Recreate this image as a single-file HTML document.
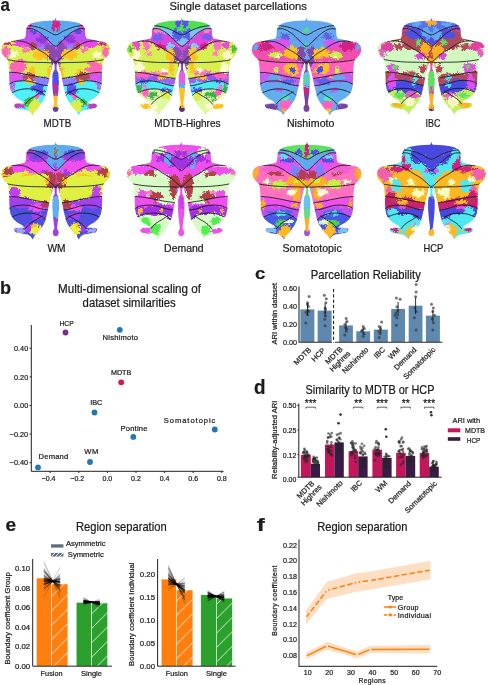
<!DOCTYPE html><html><head><meta charset="utf-8"><style>html,body{margin:0;padding:0;background:#fff;}svg{display:block} text{font-family:'Liberation Sans', sans-serif;fill:#1c1a1b;stroke:#1c1a1b;stroke-width:0.22px} .ln{fill:none;stroke:#141414;stroke-width:0.85} .ax{stroke:#231f20;stroke-width:1;fill:none}</style></head><body>
<svg width="488" height="685" viewBox="0 0 488 685">
<defs>
<clipPath id="fmclip"><path d="M0.00,-3.60 L-0.60,-1.60 L-1.40,-0.60 L-8.00,-0.30 L-14.00,0.20 L-20.00,1.20 L-24.00,2.30 L-27.30,4.40 L-29.00,6.80 L-29.60,10.00 L-29.80,14.50 L-31.00,17.40 L-37.00,18.70 L-43.00,19.90 L-48.00,20.70 L-51.20,22.00 L-53.60,24.60 L-54.60,28.50 L-53.60,32.50 L-51.00,36.00 L-47.80,38.80 L-46.90,45.00 L-46.50,51.00 L-46.30,59.00 L-46.10,63.60 L-45.20,68.80 L-42.50,73.60 L-38.50,77.20 L-33.50,79.90 L-31.00,82.40 L-35.00,82.40 L-39.20,82.60 L-41.40,83.40 L-41.40,85.40 L-39.60,87.20 L-33.00,88.50 L-28.00,89.30 L-25.20,91.00 L-23.00,94.20 L-20.80,90.20 L-17.50,87.20 L-14.60,83.00 L-12.20,79.50 L-10.20,75.00 L-8.40,67.50 L-6.80,60.00 L-4.60,50.00 L-2.40,42.20 L-1.90,41.60 L-1.40,42.20 L-1.00,45.00 L-1.00,48.50 L-2.60,51.50 L-3.30,55.00 L-3.30,63.00 L-2.90,69.00 L-2.30,75.00 L-1.60,80.00 L-1.40,83.60 L-2.60,85.20 L-3.00,87.80 L-2.20,90.20 L0.00,90.90 L2.20,90.20 L3.00,87.80 L2.60,85.20 L1.40,83.60 L1.60,80.00 L2.30,75.00 L2.90,69.00 L3.30,63.00 L3.30,55.00 L2.60,51.50 L1.00,48.50 L1.00,45.00 L1.40,42.20 L1.90,41.60 L2.40,42.20 L4.60,50.00 L6.80,60.00 L8.40,67.50 L10.20,75.00 L12.20,79.50 L14.60,83.00 L17.50,87.20 L20.80,90.20 L23.00,94.20 L25.20,91.00 L28.00,89.30 L33.00,88.50 L39.60,87.20 L41.40,85.40 L41.40,83.40 L39.20,82.60 L35.00,82.40 L31.00,82.40 L33.50,79.90 L38.50,77.20 L42.50,73.60 L45.20,68.80 L46.10,63.60 L46.30,59.00 L46.50,51.00 L46.90,45.00 L47.80,38.80 L51.00,36.00 L53.60,32.50 L54.60,28.50 L53.60,24.60 L51.20,22.00 L48.00,20.70 L43.00,19.90 L37.00,18.70 L31.00,17.40 L29.80,14.50 L29.60,10.00 L29.00,6.80 L27.30,4.40 L24.00,2.30 L20.00,1.20 L14.00,0.20 L8.00,-0.30 L1.40,-0.60 L0.60,-1.60 L0.00,-3.60Z"/></clipPath>
<filter id="rough0" x="-10%" y="-10%" width="120%" height="120%"><feTurbulence type="fractalNoise" baseFrequency="0.45" numOctaves="3" seed="3" result="n1"/><feDisplacementMap in="SourceGraphic" in2="n1" scale="5" xChannelSelector="R" yChannelSelector="G" result="d1"/><feTurbulence type="fractalNoise" baseFrequency="1.1" numOctaves="2" seed="11" result="n2"/><feDisplacementMap in="d1" in2="n2" scale="2.6" xChannelSelector="G" yChannelSelector="B"/></filter>
<filter id="rough1" x="-10%" y="-10%" width="120%" height="120%"><feTurbulence type="fractalNoise" baseFrequency="0.45" numOctaves="3" seed="4" result="n1"/><feDisplacementMap in="SourceGraphic" in2="n1" scale="5" xChannelSelector="R" yChannelSelector="G" result="d1"/><feTurbulence type="fractalNoise" baseFrequency="1.1" numOctaves="2" seed="12" result="n2"/><feDisplacementMap in="d1" in2="n2" scale="2.6" xChannelSelector="G" yChannelSelector="B"/></filter>
<filter id="rough2" x="-10%" y="-10%" width="120%" height="120%"><feTurbulence type="fractalNoise" baseFrequency="0.45" numOctaves="3" seed="5" result="n1"/><feDisplacementMap in="SourceGraphic" in2="n1" scale="5" xChannelSelector="R" yChannelSelector="G" result="d1"/><feTurbulence type="fractalNoise" baseFrequency="1.1" numOctaves="2" seed="13" result="n2"/><feDisplacementMap in="d1" in2="n2" scale="2.6" xChannelSelector="G" yChannelSelector="B"/></filter>
<pattern id="hatch" patternUnits="userSpaceOnUse" width="14.4" height="14.4"><path d="M-1,15.4 L15.4,-1 M-2,2 L2,-2 M12.4,16.4 L16.4,12.4" stroke="#fff" stroke-width="0.8"/></pattern>
<pattern id="hatch2" patternUnits="userSpaceOnUse" width="4" height="4"><path d="M-1,5 L5,-1" stroke="#fff" stroke-width="0.9"/></pattern>
</defs>
<rect width="488" height="685" fill="#fff"/>
<text transform="translate(0.60,10.63) scale(0.963,1)" font-size="17.45" font-weight="bold" fill="#000">a</text>
<text x="169.50" y="9.90" font-size="11.6" text-anchor="start" textLength="137.50" lengthAdjust="spacingAndGlyphs" >Single dataset parcellations</text>
<g transform="translate(55.60,21.00) scale(1.000,1.000)">
<g clip-path="url(#fmclip)"><g filter="url(#rough0)">
<path d="M-70.00,-10.00 L70.00,-10.00 L70.00,4.40 L29.50,4.40 L26.00,4.60 L20.00,5.60 L15.00,7.00 L10.00,9.00 L6.00,11.20 L2.50,13.20 L0.00,13.80 L-2.50,13.20 L-6.00,11.20 L-10.00,9.00 L-15.00,7.00 L-20.00,5.60 L-26.00,4.60 L-29.50,4.40 L-70.00,4.40Z" fill="#5aa8f0"/>
<path d="M-70.00,4.40 L-29.50,4.40 L-26.00,4.60 L-20.00,5.60 L-15.00,7.00 L-10.00,9.00 L-6.00,11.20 L-2.50,13.20 L0.00,13.80 L2.50,13.20 L6.00,11.20 L10.00,9.00 L15.00,7.00 L20.00,5.60 L26.00,4.60 L29.50,4.40 L70.00,4.40 L70.00,8.00 L29.80,8.00 L24.00,7.60 L17.40,10.50 L13.00,13.80 L10.00,16.70 L6.50,20.00 L3.80,22.80 L0.00,25.20 L-3.80,22.80 L-6.50,20.00 L-10.00,16.70 L-13.00,13.80 L-17.40,10.50 L-24.00,7.60 L-29.80,8.00 L-70.00,8.00Z" fill="#5aa8f0"/>
<path d="M-70.00,8.00 L-29.80,8.00 L-24.00,7.60 L-17.40,10.50 L-13.00,13.80 L-10.00,16.70 L-6.50,20.00 L-3.80,22.80 L0.00,25.20 L3.80,22.80 L6.50,20.00 L10.00,16.70 L13.00,13.80 L17.40,10.50 L24.00,7.60 L29.80,8.00 L70.00,8.00 L70.00,20.30 L44.00,20.30 L37.00,19.90 L32.00,20.60 L28.50,21.80 L23.00,24.70 L18.60,27.80 L13.00,31.00 L8.80,33.90 L5.50,36.80 L3.00,39.20 L0.00,41.00 L-3.00,39.20 L-5.50,36.80 L-8.80,33.90 L-13.00,31.00 L-18.60,27.80 L-23.00,24.70 L-28.50,21.80 L-32.00,20.60 L-37.00,19.90 L-44.00,20.30 L-70.00,20.30Z" fill="#c050f0"/>
<path d="M-70.00,20.30 L-44.00,20.30 L-37.00,19.90 L-32.00,20.60 L-28.50,21.80 L-23.00,24.70 L-18.60,27.80 L-13.00,31.00 L-8.80,33.90 L-5.50,36.80 L-3.00,39.20 L0.00,41.00 L3.00,39.20 L5.50,36.80 L8.80,33.90 L13.00,31.00 L18.60,27.80 L23.00,24.70 L28.50,21.80 L32.00,20.60 L37.00,19.90 L44.00,20.30 L70.00,20.30 L70.00,38.60 L50.00,38.60 L47.50,38.80 L40.00,40.00 L31.00,40.90 L24.00,41.30 L18.60,41.40 L12.00,41.50 L6.30,41.70 L0.00,42.00 L-6.30,41.70 L-12.00,41.50 L-18.60,41.40 L-24.00,41.30 L-31.00,40.90 L-40.00,40.00 L-47.50,38.80 L-50.00,38.60 L-70.00,38.60Z" fill="#d8f048"/>
<path d="M-70.00,38.60 L-50.00,38.60 L-47.50,38.80 L-40.00,40.00 L-31.00,40.90 L-24.00,41.30 L-18.60,41.40 L-12.00,41.50 L-6.30,41.70 L0.00,42.00 L6.30,41.70 L12.00,41.50 L18.60,41.40 L24.00,41.30 L31.00,40.90 L40.00,40.00 L47.50,38.80 L50.00,38.60 L70.00,38.60 L70.00,51.30 L48.00,51.30 L44.00,51.30 L37.00,52.00 L30.90,53.10 L24.00,54.40 L18.60,55.60 L12.00,56.60 L6.30,57.50 L0.00,58.50 L-6.30,57.50 L-12.00,56.60 L-18.60,55.60 L-24.00,54.40 L-30.90,53.10 L-37.00,52.00 L-44.00,51.30 L-48.00,51.30 L-70.00,51.30Z" fill="#d8f048"/>
<path d="M-70.00,51.30 L-48.00,51.30 L-44.00,51.30 L-37.00,52.00 L-30.90,53.10 L-24.00,54.40 L-18.60,55.60 L-12.00,56.60 L-6.30,57.50 L0.00,58.50 L6.30,57.50 L12.00,56.60 L18.60,55.60 L24.00,54.40 L30.90,53.10 L37.00,52.00 L44.00,51.30 L48.00,51.30 L70.00,51.30 L70.00,63.50 L49.00,63.50 L46.80,63.50 L40.70,60.60 L30.90,59.80 L24.00,60.80 L18.60,62.50 L12.00,64.20 L7.50,64.60 L0.00,65.60 L-7.50,64.60 L-12.00,64.20 L-18.60,62.50 L-24.00,60.80 L-30.90,59.80 L-40.70,60.60 L-46.80,63.50 L-49.00,63.50 L-70.00,63.50Z" fill="#a070f0"/>
<path d="M-70.00,63.50 L-49.00,63.50 L-46.80,63.50 L-40.70,60.60 L-30.90,59.80 L-24.00,60.80 L-18.60,62.50 L-12.00,64.20 L-7.50,64.60 L0.00,65.60 L7.50,64.60 L12.00,64.20 L18.60,62.50 L24.00,60.80 L30.90,59.80 L40.70,60.60 L46.80,63.50 L49.00,63.50 L70.00,63.50 L70.00,71.80 L46.00,71.80 L43.20,71.40 L37.00,69.00 L30.90,67.90 L24.00,68.00 L18.60,69.10 L14.00,71.20 L10.00,74.70 L0.00,75.70 L-10.00,74.70 L-14.00,71.20 L-18.60,69.10 L-24.00,68.00 L-30.90,67.90 L-37.00,69.00 L-43.20,71.40 L-46.00,71.80 L-70.00,71.80Z" fill="#48f0fa"/>
<path d="M-70.00,71.80 L-46.00,71.80 L-43.20,71.40 L-37.00,69.00 L-30.90,67.90 L-24.00,68.00 L-18.60,69.10 L-14.00,71.20 L-10.00,74.70 L0.00,75.70 L10.00,74.70 L14.00,71.20 L18.60,69.10 L24.00,68.00 L30.90,67.90 L37.00,69.00 L43.20,71.40 L46.00,71.80 L70.00,71.80 L70.00,100.00 L-70.00,100.00Z" fill="#50f0fa"/>
<path d="M0.25,3.26 C0.16,5.07 -0.54,7.58 -0.86,8.93 C-1.18,10.27 -1.28,10.90 -1.68,11.32 C-2.07,11.73 -2.96,12.11 -3.22,11.40 C-3.47,10.70 -3.15,8.75 -3.22,7.07 C-3.29,5.38 -3.73,2.52 -3.62,1.31 C-3.51,0.10 -2.88,0.59 -2.56,-0.19 C-2.23,-0.98 -2.04,-3.13 -1.68,-3.42 C-1.31,-3.70 -0.68,-3.04 -0.36,-1.93 C-0.04,-0.81 0.33,1.45 0.25,3.26Z" fill="#d8207f"/><path d="M4.03,4.93 C4.04,6.68 4.11,8.18 3.84,9.18 C3.57,10.17 2.89,10.78 2.42,10.89 C1.94,11.01 1.38,10.72 1.00,9.85 C0.63,8.98 0.23,6.83 0.17,5.68 C0.12,4.53 0.48,4.08 0.67,2.97 C0.87,1.86 1.07,0.07 1.35,-0.96 C1.62,-1.99 1.92,-3.17 2.33,-3.23 C2.74,-3.29 3.52,-2.69 3.80,-1.33 C4.09,0.03 4.03,3.17 4.03,4.93Z" fill="#d8207f"/>
<path d="M-23.14,5.86 C-23.24,6.43 -24.09,5.88 -24.59,6.45 C-25.10,7.02 -25.69,9.07 -26.18,9.30 C-26.68,9.53 -27.13,8.33 -27.58,7.82 C-28.03,7.30 -28.78,6.88 -28.89,6.22 C-29.00,5.56 -28.45,4.57 -28.23,3.86 C-28.00,3.15 -28.03,2.55 -27.56,1.96 C-27.10,1.37 -26.04,0.13 -25.45,0.31 C-24.85,0.50 -24.40,2.15 -24.02,3.07 C-23.63,4.00 -23.05,5.30 -23.14,5.86Z" fill="#e040c0"/><path d="M28.39,5.01 C28.50,5.76 29.03,7.14 28.71,7.66 C28.40,8.17 27.22,7.93 26.50,8.08 C25.77,8.23 24.80,8.72 24.37,8.56 C23.93,8.39 23.90,7.82 23.91,7.09 C23.92,6.35 24.29,5.06 24.43,4.14 C24.57,3.23 24.42,2.03 24.74,1.60 C25.06,1.17 25.79,1.33 26.34,1.58 C26.90,1.83 27.73,2.54 28.07,3.11 C28.41,3.68 28.28,4.25 28.39,5.01Z" fill="#e040c0"/>
<path d="M-19.13,10.75 C-19.20,11.28 -19.20,12.17 -19.79,12.51 C-20.38,12.85 -21.87,12.59 -22.64,12.78 C-23.42,12.98 -23.91,13.82 -24.46,13.67 C-25.01,13.52 -25.63,12.52 -25.92,11.87 C-26.21,11.22 -26.44,10.29 -26.19,9.78 C-25.94,9.28 -25.07,8.94 -24.42,8.83 C-23.77,8.72 -23.15,9.07 -22.30,9.14 C-21.45,9.21 -19.86,9.01 -19.34,9.28 C-18.81,9.55 -19.05,10.21 -19.13,10.75Z" fill="#5050e0"/><path d="M26.46,10.71 C26.46,11.13 26.42,11.82 25.85,12.15 C25.28,12.49 23.94,12.57 23.05,12.73 C22.15,12.90 20.89,13.26 20.48,13.12 C20.07,12.98 20.89,12.43 20.59,11.90 C20.29,11.37 18.65,10.47 18.67,9.94 C18.70,9.42 19.77,9.03 20.74,8.72 C21.71,8.42 23.62,7.96 24.47,8.12 C25.31,8.27 25.50,9.25 25.83,9.68 C26.16,10.11 26.46,10.30 26.46,10.71Z" fill="#5050e0"/>
<path d="M-21.33,16.69 C-21.60,17.40 -21.61,18.26 -21.96,18.87 C-22.32,19.49 -22.37,20.12 -23.47,20.38 C-24.56,20.63 -27.63,20.86 -28.54,20.42 C-29.44,19.99 -28.83,18.54 -28.89,17.77 C-28.95,17.00 -29.16,16.34 -28.88,15.82 C-28.61,15.30 -27.96,15.24 -27.25,14.65 C-26.55,14.06 -25.80,12.31 -24.65,12.30 C-23.49,12.29 -20.86,13.88 -20.30,14.61 C-19.75,15.34 -21.05,15.98 -21.33,16.69Z" fill="#c050f0"/><path d="M29.94,16.94 C30.07,17.79 29.33,19.68 28.70,20.17 C28.06,20.67 27.25,19.89 26.12,19.93 C25.00,19.97 23.09,20.66 21.94,20.41 C20.80,20.17 19.39,19.21 19.25,18.44 C19.10,17.67 20.43,16.42 21.06,15.79 C21.70,15.16 22.17,15.04 23.04,14.67 C23.92,14.30 25.50,13.49 26.32,13.56 C27.13,13.62 27.33,14.49 27.93,15.05 C28.53,15.62 29.81,16.09 29.94,16.94Z" fill="#c050f0"/>
<path d="M-8.57,18.21 C-8.29,19.20 -9.13,20.71 -10.03,21.45 C-10.94,22.20 -12.97,22.67 -13.99,22.68 C-15.02,22.70 -15.17,22.18 -16.19,21.52 C-17.20,20.86 -19.76,19.53 -20.08,18.70 C-20.39,17.87 -18.62,17.13 -18.07,16.55 C-17.53,15.96 -17.56,15.60 -16.79,15.20 C-16.02,14.79 -14.30,14.06 -13.46,14.12 C-12.62,14.17 -12.56,14.83 -11.74,15.51 C-10.93,16.19 -8.86,17.22 -8.57,18.21Z" fill="#8c3cd8"/><path d="M20.67,17.37 C20.82,18.04 20.04,19.60 19.27,20.42 C18.49,21.24 17.20,22.29 16.05,22.28 C14.89,22.28 13.62,20.98 12.34,20.39 C11.05,19.80 8.84,19.34 8.36,18.75 C7.87,18.15 8.82,17.59 9.43,16.81 C10.03,16.04 10.81,14.64 12.00,14.08 C13.18,13.51 15.45,13.05 16.52,13.43 C17.58,13.82 17.69,15.71 18.39,16.36 C19.08,17.02 20.52,16.69 20.67,17.37Z" fill="#8c3cd8"/>
<path d="M-18.29,25.53 C-18.31,26.35 -19.59,26.55 -20.04,27.10 C-20.48,27.66 -20.26,28.58 -20.97,28.86 C-21.68,29.14 -23.45,29.15 -24.29,28.80 C-25.14,28.44 -25.70,27.52 -26.03,26.70 C-26.36,25.88 -26.65,24.70 -26.27,23.87 C-25.89,23.03 -24.50,22.21 -23.73,21.71 C-22.96,21.22 -22.26,20.82 -21.63,20.89 C-20.99,20.96 -20.47,21.36 -19.92,22.14 C-19.36,22.91 -18.27,24.70 -18.29,25.53Z" fill="#b04858"/><path d="M25.78,25.39 C25.70,26.18 25.42,26.74 24.98,27.19 C24.53,27.65 23.89,27.88 23.13,28.12 C22.36,28.36 21.06,29.02 20.39,28.64 C19.72,28.26 19.19,26.70 19.11,25.83 C19.04,24.97 19.64,24.30 19.96,23.46 C20.28,22.62 20.52,21.02 21.06,20.80 C21.60,20.58 22.47,21.87 23.21,22.14 C23.94,22.41 25.02,21.88 25.45,22.42 C25.88,22.96 25.86,24.59 25.78,25.39Z" fill="#b04858"/>
<path d="M-10.89,26.84 C-11.16,27.45 -11.39,28.03 -11.78,28.49 C-12.17,28.95 -12.69,29.40 -13.22,29.60 C-13.75,29.80 -14.39,29.89 -14.97,29.69 C-15.55,29.49 -16.45,28.91 -16.70,28.40 C-16.95,27.88 -16.58,27.32 -16.45,26.61 C-16.33,25.90 -16.43,24.47 -15.97,24.13 C-15.50,23.80 -14.64,24.47 -13.68,24.59 C-12.72,24.71 -10.66,24.48 -10.20,24.85 C-9.73,25.23 -10.63,26.23 -10.89,26.84Z" fill="#8a88ff"/><path d="M17.55,26.98 C17.60,27.63 16.49,28.75 16.01,29.17 C15.53,29.60 15.44,29.49 14.65,29.53 C13.86,29.56 11.96,29.70 11.27,29.37 C10.58,29.03 10.76,28.15 10.51,27.51 C10.25,26.87 9.63,26.05 9.73,25.53 C9.84,25.01 10.22,24.71 11.14,24.39 C12.05,24.07 14.47,23.47 15.23,23.61 C16.00,23.75 15.32,24.68 15.71,25.24 C16.10,25.80 17.50,26.32 17.55,26.98Z" fill="#8a88ff"/>
<path d="M1.09,30.48 C1.45,32.42 0.32,35.67 -0.55,37.13 C-1.43,38.60 -2.81,39.17 -4.18,39.25 C-5.55,39.32 -7.66,38.38 -8.78,37.56 C-9.89,36.75 -10.51,35.83 -10.86,34.36 C-11.22,32.89 -11.10,30.65 -10.90,28.75 C-10.70,26.86 -10.52,23.80 -9.65,22.99 C-8.78,22.18 -6.85,23.45 -5.70,23.87 C-4.55,24.28 -3.89,24.39 -2.76,25.49 C-1.63,26.59 0.72,28.54 1.09,30.48Z" fill="#8a4cb0"/><path d="M11.71,31.92 C11.54,33.38 9.84,35.24 9.00,36.36 C8.17,37.48 7.70,38.23 6.69,38.65 C5.69,39.08 4.07,39.80 2.98,38.94 C1.90,38.08 0.48,35.29 0.19,33.49 C-0.11,31.69 0.83,30.06 1.23,28.12 C1.64,26.19 1.71,23.12 2.60,21.88 C3.49,20.63 5.32,19.70 6.56,20.66 C7.80,21.62 9.18,25.75 10.04,27.62 C10.89,29.50 11.88,30.46 11.71,31.92Z" fill="#8a4cb0"/>
<path d="M-25.87,22.95 C-25.17,23.71 -24.22,24.81 -25.04,25.41 C-25.85,26.01 -28.58,26.57 -30.75,26.55 C-32.93,26.52 -36.10,25.63 -38.07,25.26 C-40.05,24.88 -41.99,24.77 -42.62,24.30 C-43.25,23.83 -42.70,23.19 -41.85,22.42 C-41.00,21.64 -39.13,20.05 -37.50,19.66 C-35.87,19.26 -33.46,19.84 -32.07,20.04 C-30.69,20.24 -30.24,20.38 -29.20,20.86 C-28.17,21.35 -26.56,22.19 -25.87,22.95Z" fill="#f040f0"/><path d="M44.52,23.38 C44.56,24.03 41.06,24.13 39.76,24.70 C38.47,25.26 38.56,26.46 36.75,26.77 C34.94,27.09 30.62,27.06 28.91,26.59 C27.20,26.12 27.35,24.76 26.49,23.95 C25.63,23.15 22.99,22.32 23.73,21.75 C24.47,21.18 29.13,20.87 30.94,20.54 C32.76,20.22 33.20,19.77 34.63,19.81 C36.06,19.85 37.88,20.20 39.53,20.79 C41.18,21.39 44.49,22.73 44.52,23.38Z" fill="#f040f0"/>
<path d="M-43.44,23.05 C-43.46,23.42 -44.33,23.69 -45.04,24.06 C-45.76,24.42 -46.88,25.20 -47.72,25.24 C-48.57,25.28 -49.40,24.56 -50.12,24.28 C-50.84,24.00 -51.44,23.89 -52.05,23.57 C-52.65,23.26 -54.26,22.73 -53.77,22.41 C-53.28,22.09 -50.35,21.88 -49.13,21.66 C-47.91,21.44 -47.13,21.06 -46.43,21.09 C-45.73,21.13 -45.43,21.54 -44.93,21.87 C-44.44,22.19 -43.42,22.69 -43.44,23.05Z" fill="#d8207f"/><path d="M52.87,23.14 C52.73,23.53 51.90,24.07 51.13,24.30 C50.35,24.53 49.36,24.44 48.24,24.53 C47.12,24.62 45.22,24.99 44.40,24.83 C43.58,24.67 43.59,23.95 43.32,23.57 C43.05,23.19 42.36,23.02 42.78,22.55 C43.19,22.08 44.83,20.95 45.80,20.75 C46.77,20.56 47.54,21.19 48.57,21.39 C49.61,21.59 51.28,21.67 52.00,21.96 C52.72,22.25 53.02,22.75 52.87,23.14Z" fill="#d8207f"/>
<path d="M-45.88,31.12 C-46.18,32.58 -46.88,34.92 -47.43,36.05 C-47.98,37.17 -48.54,37.69 -49.20,37.88 C-49.87,38.07 -50.58,37.94 -51.42,37.20 C-52.26,36.46 -53.92,34.60 -54.24,33.44 C-54.55,32.27 -53.55,31.52 -53.31,30.19 C-53.07,28.86 -53.49,26.03 -52.80,25.43 C-52.11,24.84 -50.38,26.32 -49.18,26.63 C-47.98,26.95 -46.16,26.59 -45.60,27.34 C-45.05,28.09 -45.57,29.67 -45.88,31.12Z" fill="#ff66b4"/><path d="M52.93,30.46 C53.04,32.14 53.91,34.31 53.56,35.34 C53.22,36.36 51.80,36.63 50.87,36.62 C49.95,36.61 48.89,35.76 48.00,35.26 C47.12,34.77 45.73,34.54 45.57,33.65 C45.40,32.77 46.79,31.30 47.03,29.94 C47.26,28.57 46.43,26.08 46.98,25.48 C47.53,24.88 49.34,26.36 50.32,26.32 C51.31,26.28 52.46,24.55 52.89,25.24 C53.33,25.93 52.82,28.78 52.93,30.46Z" fill="#ff66b4"/>
<path d="M-36.83,33.36 C-36.97,34.15 -38.66,34.72 -39.26,35.19 C-39.85,35.66 -39.56,35.92 -40.40,36.20 C-41.25,36.48 -43.27,37.15 -44.34,36.84 C-45.41,36.53 -46.42,35.11 -46.83,34.32 C-47.25,33.53 -47.16,32.68 -46.82,32.12 C-46.49,31.56 -45.68,31.39 -44.83,30.94 C-43.99,30.50 -42.84,29.52 -41.77,29.44 C-40.70,29.36 -39.23,29.82 -38.41,30.48 C-37.59,31.13 -36.69,32.58 -36.83,33.36Z" fill="#fffbc8"/><path d="M46.50,32.80 C46.59,33.33 46.40,34.60 45.65,35.21 C44.90,35.82 42.88,36.34 42.02,36.46 C41.15,36.58 41.22,36.14 40.45,35.95 C39.68,35.76 37.83,35.92 37.38,35.32 C36.93,34.71 37.43,33.19 37.76,32.35 C38.09,31.51 38.45,30.52 39.38,30.26 C40.31,29.99 42.39,30.45 43.34,30.75 C44.30,31.05 44.58,31.72 45.11,32.07 C45.63,32.41 46.41,32.28 46.50,32.80Z" fill="#fffbc8"/>
<path d="M-18.24,35.11 C-17.73,36.28 -19.24,38.77 -20.64,39.48 C-22.05,40.19 -24.72,39.41 -26.66,39.38 C-28.60,39.34 -30.60,39.73 -32.28,39.25 C-33.97,38.78 -35.99,37.37 -36.77,36.53 C-37.54,35.69 -37.31,34.99 -36.95,34.22 C-36.58,33.45 -36.42,32.47 -34.59,31.92 C-32.75,31.37 -27.76,30.81 -25.94,30.90 C-24.13,30.98 -24.98,31.73 -23.70,32.43 C-22.42,33.13 -18.75,33.93 -18.24,35.11Z" fill="#d8f048"/><path d="M36.88,34.89 C36.68,35.92 38.21,38.25 37.12,39.05 C36.03,39.84 32.46,39.81 30.35,39.66 C28.25,39.51 26.55,38.59 24.51,38.15 C22.47,37.71 19.22,37.83 18.11,37.01 C17.00,36.18 16.82,34.12 17.85,33.20 C18.89,32.28 21.92,31.78 24.34,31.51 C26.75,31.24 30.03,31.34 32.37,31.57 C34.71,31.80 37.61,32.33 38.36,32.88 C39.12,33.44 37.09,33.86 36.88,34.89Z" fill="#d8f048"/>
<path d="M-6.04,32.59 C-5.94,34.06 -6.42,37.11 -7.53,37.98 C-8.63,38.86 -10.73,37.83 -12.67,37.85 C-14.62,37.88 -17.63,38.47 -19.19,38.14 C-20.75,37.81 -21.43,36.97 -22.03,35.89 C-22.62,34.81 -23.37,32.64 -22.77,31.67 C-22.17,30.70 -20.20,30.51 -18.42,30.06 C-16.64,29.60 -13.81,29.11 -12.10,28.96 C-10.39,28.81 -9.17,28.53 -8.16,29.14 C-7.15,29.74 -6.15,31.11 -6.04,32.59Z" fill="#ffc020"/><path d="M22.55,33.18 C22.73,34.24 21.66,35.34 20.44,36.23 C19.22,37.11 16.85,38.28 15.24,38.49 C13.64,38.70 12.36,37.89 10.83,37.49 C9.30,37.08 6.85,36.86 6.08,36.05 C5.30,35.24 5.71,33.86 6.16,32.62 C6.60,31.39 7.23,29.33 8.74,28.67 C10.26,28.01 13.49,28.47 15.25,28.68 C17.02,28.88 18.12,29.13 19.34,29.88 C20.55,30.63 22.37,32.12 22.55,33.18Z" fill="#ffc020"/>
<path d="M-25.19,29.82 C-25.55,30.30 -25.31,30.63 -25.88,30.87 C-26.45,31.10 -27.63,31.12 -28.62,31.23 C-29.60,31.34 -30.82,31.73 -31.79,31.54 C-32.76,31.36 -34.29,30.55 -34.44,30.12 C-34.59,29.69 -33.39,29.39 -32.70,28.98 C-32.01,28.56 -31.05,27.86 -30.31,27.62 C-29.56,27.37 -29.33,27.43 -28.23,27.49 C-27.13,27.55 -24.22,27.60 -23.72,27.99 C-23.21,28.37 -24.83,29.34 -25.19,29.82Z" fill="#ff70b8"/><path d="M34.40,29.10 C34.14,29.52 31.88,30.44 30.91,30.90 C29.93,31.35 29.33,31.64 28.56,31.83 C27.78,32.01 26.82,32.34 26.25,32.01 C25.68,31.68 25.39,30.36 25.12,29.87 C24.85,29.38 24.49,29.45 24.63,29.07 C24.78,28.68 25.11,27.90 25.97,27.56 C26.83,27.22 28.70,26.88 29.78,27.02 C30.87,27.16 31.71,28.06 32.48,28.41 C33.25,28.75 34.66,28.69 34.40,29.10Z" fill="#ff70b8"/>
<path d="M-29.10,45.40 C-29.24,46.97 -30.00,48.39 -31.18,49.59 C-32.35,50.78 -34.27,52.17 -36.14,52.57 C-38.01,52.98 -40.85,52.67 -42.38,52.03 C-43.90,51.38 -44.80,49.99 -45.29,48.71 C-45.79,47.42 -45.96,45.68 -45.36,44.32 C-44.76,42.96 -43.41,41.58 -41.67,40.53 C-39.93,39.49 -36.81,38.10 -34.92,38.04 C-33.03,37.97 -31.32,38.93 -30.35,40.15 C-29.38,41.38 -28.96,43.83 -29.10,45.40Z" fill="#ff66b4"/><path d="M49.24,46.71 C49.76,48.16 48.12,49.59 46.30,50.58 C44.48,51.57 40.13,52.52 38.33,52.65 C36.52,52.77 37.18,51.94 35.49,51.34 C33.79,50.73 29.08,50.45 28.16,49.03 C27.24,47.61 28.95,44.17 29.97,42.82 C30.99,41.47 32.53,41.33 34.28,40.91 C36.02,40.49 38.96,40.11 40.45,40.28 C41.94,40.44 41.72,40.84 43.19,41.92 C44.65,42.99 48.72,45.27 49.24,46.71Z" fill="#ff66b4"/>
<path d="M-4.95,45.06 C-5.73,46.52 -10.16,47.84 -12.38,48.88 C-14.61,49.93 -16.26,51.37 -18.28,51.34 C-20.29,51.31 -22.69,49.31 -24.47,48.71 C-26.25,48.11 -28.27,48.70 -28.96,47.73 C-29.66,46.76 -29.36,44.07 -28.64,42.87 C-27.92,41.68 -27.01,41.34 -24.65,40.57 C-22.30,39.79 -17.35,38.30 -14.52,38.23 C-11.69,38.15 -9.28,38.96 -7.69,40.10 C-6.09,41.24 -4.17,43.59 -4.95,45.06Z" fill="#d8f048"/><path d="M34.37,45.89 C33.77,47.42 28.38,48.47 26.41,49.20 C24.45,49.92 24.73,49.90 22.60,50.25 C20.48,50.59 15.69,51.83 13.66,51.27 C11.63,50.71 11.94,48.15 10.45,46.87 C8.96,45.58 4.54,44.82 4.72,43.56 C4.91,42.30 8.31,40.16 11.56,39.30 C14.81,38.45 21.13,38.28 24.21,38.40 C27.29,38.53 28.35,38.80 30.04,40.05 C31.73,41.30 34.98,44.37 34.37,45.89Z" fill="#d8f048"/>
<path d="M-19.90,50.78 C-19.86,51.74 -20.77,53.09 -21.27,54.06 C-21.77,55.04 -22.27,56.31 -22.91,56.62 C-23.55,56.94 -24.57,56.47 -25.10,55.94 C-25.63,55.41 -25.90,54.50 -26.09,53.43 C-26.28,52.37 -26.38,50.78 -26.23,49.55 C-26.08,48.32 -25.86,46.76 -25.19,46.05 C-24.52,45.34 -22.80,44.94 -22.19,45.31 C-21.58,45.68 -21.91,47.38 -21.53,48.29 C-21.15,49.20 -19.95,49.81 -19.90,50.78Z" fill="#ffc020"/><path d="M27.37,52.58 C27.32,53.60 26.15,53.63 25.68,54.43 C25.21,55.22 25.30,57.08 24.54,57.35 C23.78,57.63 21.95,56.81 21.14,56.07 C20.33,55.33 19.84,53.79 19.70,52.89 C19.56,52.00 19.85,51.70 20.32,50.71 C20.78,49.73 21.93,47.59 22.47,47.00 C23.02,46.42 22.99,46.97 23.58,47.19 C24.17,47.41 25.36,47.42 25.99,48.31 C26.62,49.21 27.42,51.56 27.37,52.58Z" fill="#ffc020"/>
<path d="M-3.75,51.93 C-3.66,52.98 -4.33,53.90 -4.68,54.91 C-5.03,55.93 -5.41,57.96 -5.85,58.02 C-6.28,58.09 -6.89,56.06 -7.31,55.30 C-7.73,54.53 -8.16,54.29 -8.36,53.45 C-8.55,52.60 -8.57,51.18 -8.49,50.24 C-8.40,49.31 -8.22,48.53 -7.85,47.84 C-7.48,47.15 -6.69,45.97 -6.26,46.10 C-5.83,46.23 -5.68,47.63 -5.27,48.60 C-4.85,49.58 -3.85,50.88 -3.75,51.93Z" fill="#ffc020"/><path d="M8.25,51.66 C8.16,52.67 8.32,53.07 8.02,53.94 C7.72,54.81 6.95,56.53 6.47,56.90 C5.99,57.27 5.45,56.89 5.15,56.19 C4.85,55.48 4.88,53.92 4.68,52.69 C4.48,51.46 3.96,49.81 3.95,48.81 C3.93,47.82 4.13,47.03 4.60,46.71 C5.08,46.39 6.13,46.70 6.79,46.89 C7.45,47.09 8.32,47.09 8.56,47.88 C8.81,48.68 8.34,50.65 8.25,51.66Z" fill="#ffc020"/>
<path d="M-33.28,56.85 C-33.05,58.06 -33.90,59.52 -34.68,60.20 C-35.46,60.88 -36.40,60.88 -37.97,60.93 C-39.54,60.97 -43.09,61.06 -44.12,60.44 C-45.15,59.82 -43.73,58.27 -44.17,57.22 C-44.61,56.16 -46.95,54.88 -46.74,54.13 C-46.54,53.37 -44.47,53.10 -42.96,52.69 C-41.45,52.28 -38.83,51.64 -37.68,51.67 C-36.53,51.71 -36.79,52.04 -36.05,52.90 C-35.32,53.76 -33.51,55.63 -33.28,56.85Z" fill="#e050f0"/><path d="M43.97,56.69 C44.00,57.69 43.75,58.74 43.32,59.35 C42.90,59.96 42.73,60.13 41.42,60.35 C40.11,60.57 36.61,61.07 35.48,60.68 C34.35,60.28 35.08,59.13 34.63,57.97 C34.19,56.81 32.20,54.62 32.79,53.71 C33.38,52.79 36.93,52.75 38.16,52.47 C39.39,52.19 39.33,51.89 40.16,52.03 C41.00,52.18 42.55,52.57 43.19,53.34 C43.82,54.12 43.95,55.68 43.97,56.69Z" fill="#e050f0"/>
<path d="M-19.72,54.87 C-19.50,55.73 -21.30,57.49 -22.12,58.39 C-22.94,59.29 -23.21,60.18 -24.63,60.27 C-26.05,60.36 -29.43,59.52 -30.64,58.94 C-31.85,58.35 -31.56,57.41 -31.89,56.74 C-32.22,56.07 -33.11,55.59 -32.63,54.91 C-32.16,54.22 -30.28,53.12 -29.04,52.64 C-27.80,52.16 -26.11,51.92 -25.18,52.02 C-24.25,52.12 -24.35,52.73 -23.44,53.21 C-22.53,53.68 -19.94,54.01 -19.72,54.87Z" fill="#b04858"/><path d="M34.35,54.68 C34.73,55.66 34.10,57.27 32.92,58.31 C31.74,59.35 29.08,60.69 27.28,60.91 C25.47,61.13 23.42,60.38 22.08,59.61 C20.75,58.85 19.41,57.17 19.27,56.31 C19.13,55.45 20.63,55.12 21.24,54.45 C21.85,53.78 21.96,52.91 22.93,52.30 C23.90,51.70 25.77,50.79 27.06,50.82 C28.35,50.84 29.43,51.80 30.65,52.44 C31.86,53.09 33.97,53.70 34.35,54.68Z" fill="#b04858"/>
<path d="M-22.40,61.49 C-21.96,61.90 -20.18,62.36 -20.66,62.60 C-21.14,62.83 -23.87,62.85 -25.28,62.90 C-26.69,62.96 -28.20,63.15 -29.13,62.92 C-30.06,62.70 -30.62,62.00 -30.86,61.53 C-31.09,61.06 -30.77,60.58 -30.55,60.09 C-30.32,59.60 -30.45,58.88 -29.51,58.59 C-28.58,58.30 -25.94,58.10 -24.91,58.36 C-23.88,58.62 -23.73,59.63 -23.31,60.15 C-22.89,60.67 -22.84,61.08 -22.40,61.49Z" fill="#ffc020"/><path d="M31.32,60.78 C31.29,61.25 30.65,62.52 30.20,62.99 C29.75,63.46 29.77,63.51 28.61,63.60 C27.46,63.70 24.33,63.90 23.28,63.56 C22.23,63.23 22.39,62.04 22.30,61.58 C22.20,61.12 22.41,61.20 22.70,60.80 C22.99,60.40 23.22,59.51 24.03,59.19 C24.84,58.86 26.50,58.70 27.56,58.86 C28.62,59.03 29.78,59.85 30.40,60.17 C31.03,60.49 31.36,60.31 31.32,60.78Z" fill="#ffc020"/>
<path d="M-6.45,62.01 C-6.84,63.04 -9.93,63.17 -11.10,63.75 C-12.27,64.33 -12.50,65.42 -13.46,65.50 C-14.43,65.59 -15.82,64.64 -16.88,64.24 C-17.93,63.84 -19.22,63.82 -19.79,63.09 C-20.37,62.37 -20.71,60.72 -20.33,59.91 C-19.95,59.10 -18.76,58.79 -17.50,58.24 C-16.24,57.69 -14.20,56.72 -12.74,56.61 C-11.29,56.50 -9.81,56.67 -8.76,57.57 C-7.71,58.47 -6.06,60.97 -6.45,62.01Z" fill="#8a80ff"/><path d="M21.18,61.99 C21.11,63.05 20.46,63.32 19.58,63.77 C18.70,64.22 17.44,64.50 15.89,64.69 C14.34,64.88 11.27,65.36 10.28,64.93 C9.28,64.51 10.44,63.20 9.94,62.13 C9.44,61.06 6.92,59.36 7.26,58.50 C7.59,57.65 10.43,57.31 11.93,56.99 C13.43,56.66 14.91,56.47 16.26,56.55 C17.61,56.62 19.20,56.51 20.02,57.42 C20.84,58.33 21.26,60.93 21.18,61.99Z" fill="#8a80ff"/>
<path d="M-39.62,65.93 C-39.57,67.00 -39.52,67.78 -39.93,68.46 C-40.34,69.13 -41.38,69.71 -42.09,69.98 C-42.79,70.25 -43.53,70.45 -44.15,70.08 C-44.77,69.70 -45.51,68.85 -45.81,67.74 C-46.11,66.63 -46.13,64.52 -45.96,63.41 C-45.79,62.31 -45.41,61.27 -44.79,61.10 C-44.16,60.93 -42.95,62.21 -42.19,62.37 C-41.43,62.53 -40.67,61.48 -40.24,62.07 C-39.81,62.67 -39.67,64.87 -39.62,65.93Z" fill="#c060f0"/><path d="M45.06,65.16 C45.08,65.80 45.48,67.02 45.13,67.71 C44.78,68.41 43.46,69.17 42.97,69.31 C42.48,69.45 42.52,69.05 42.17,68.54 C41.82,68.03 41.11,67.06 40.89,66.26 C40.67,65.46 40.71,64.54 40.86,63.74 C41.02,62.94 41.46,61.77 41.81,61.44 C42.15,61.10 42.41,61.31 42.94,61.71 C43.47,62.12 44.63,63.30 44.99,63.87 C45.34,64.45 45.03,64.52 45.06,65.16Z" fill="#c060f0"/>
<path d="M-21.98,68.07 C-22.47,69.50 -26.11,71.59 -27.88,72.94 C-29.64,74.29 -31.13,75.50 -32.56,76.17 C-33.99,76.83 -35.25,77.74 -36.46,76.92 C-37.67,76.10 -38.98,73.04 -39.83,71.24 C-40.67,69.45 -41.68,67.64 -41.51,66.16 C-41.34,64.67 -40.72,63.10 -38.82,62.35 C-36.93,61.60 -32.44,61.33 -30.14,61.66 C-27.83,61.99 -26.34,63.25 -24.98,64.32 C-23.62,65.39 -21.50,66.63 -21.98,68.07Z" fill="#48f0fa"/><path d="M43.77,69.67 C44.22,71.18 42.37,72.75 40.70,73.80 C39.04,74.85 35.54,75.89 33.75,75.98 C31.96,76.06 31.50,75.10 29.95,74.29 C28.41,73.49 25.20,72.28 24.47,71.16 C23.74,70.03 24.81,69.25 25.57,67.53 C26.33,65.82 27.44,61.63 29.06,60.87 C30.67,60.11 33.79,62.32 35.27,62.97 C36.76,63.62 36.57,63.67 37.99,64.79 C39.41,65.90 43.31,68.17 43.77,69.67Z" fill="#48f0fa"/>
<path d="M-11.44,68.93 C-11.18,69.75 -10.63,70.65 -11.09,71.53 C-11.56,72.40 -12.81,74.14 -14.23,74.16 C-15.65,74.18 -18.16,72.35 -19.63,71.64 C-21.09,70.93 -22.25,70.88 -23.03,69.92 C-23.80,68.97 -24.96,66.95 -24.25,65.93 C-23.54,64.91 -20.41,64.34 -18.78,63.81 C-17.15,63.27 -15.52,62.26 -14.50,62.73 C-13.48,63.20 -13.16,65.59 -12.65,66.62 C-12.14,67.66 -11.70,68.11 -11.44,68.93Z" fill="#5a50f0"/><path d="M22.12,69.37 C22.36,70.15 22.65,70.05 22.04,70.93 C21.43,71.81 20.14,74.30 18.46,74.66 C16.79,75.03 13.29,73.66 12.01,73.11 C10.73,72.57 10.80,72.45 10.80,71.38 C10.79,70.30 11.73,68.01 11.97,66.67 C12.22,65.33 11.28,63.83 12.27,63.36 C13.27,62.89 16.56,63.35 17.95,63.83 C19.33,64.31 19.91,65.31 20.60,66.23 C21.30,67.15 21.88,68.59 22.12,69.37Z" fill="#5a50f0"/>
<path d="M-19.36,73.70 C-20.18,74.95 -24.44,76.09 -25.73,77.13 C-27.02,78.17 -25.39,79.75 -27.09,79.95 C-28.80,80.14 -33.78,79.21 -35.97,78.29 C-38.17,77.36 -39.43,75.71 -40.26,74.39 C-41.10,73.07 -40.99,71.50 -40.97,70.38 C-40.95,69.25 -41.99,67.89 -40.13,67.63 C-38.27,67.37 -33.03,68.49 -29.81,68.82 C-26.59,69.15 -22.58,68.80 -20.84,69.62 C-19.10,70.43 -18.55,72.44 -19.36,73.70Z" fill="#50f0fa"/><path d="M44.81,74.71 C44.68,76.27 41.81,77.51 39.75,78.08 C37.69,78.65 34.77,78.20 32.43,78.12 C30.09,78.05 27.16,78.25 25.72,77.62 C24.28,76.99 24.40,75.26 23.80,74.36 C23.21,73.45 22.02,73.44 22.13,72.18 C22.23,70.91 22.18,67.76 24.43,66.76 C26.69,65.76 32.97,65.85 35.65,66.18 C38.33,66.50 38.99,67.30 40.52,68.72 C42.04,70.14 44.94,73.15 44.81,74.71Z" fill="#50f0fa"/>
<path d="M-20.59,80.98 C-20.95,82.00 -21.28,83.11 -21.83,83.86 C-22.39,84.60 -22.75,85.34 -23.92,85.47 C-25.10,85.61 -27.23,85.00 -28.88,84.67 C-30.53,84.33 -33.36,84.09 -33.84,83.45 C-34.32,82.80 -32.42,81.58 -31.78,80.79 C-31.15,80.01 -30.99,79.52 -30.03,78.74 C-29.06,77.95 -27.71,76.24 -25.99,76.06 C-24.26,75.89 -20.59,76.88 -19.69,77.70 C-18.79,78.52 -20.23,79.95 -20.59,80.98Z" fill="#40b848"/><path d="M34.33,82.07 C34.26,82.73 31.30,83.00 30.17,83.69 C29.04,84.38 28.93,85.89 27.56,86.20 C26.19,86.50 23.06,86.05 21.95,85.52 C20.84,84.99 21.14,83.88 20.91,83.03 C20.67,82.18 20.44,81.26 20.55,80.42 C20.66,79.59 20.47,78.36 21.57,78.02 C22.67,77.69 25.65,78.15 27.16,78.43 C28.66,78.71 29.39,79.09 30.59,79.70 C31.78,80.31 34.40,81.40 34.33,82.07Z" fill="#40b848"/>
<path d="M-14.77,85.63 C-15.01,87.06 -16.14,89.11 -17.02,90.16 C-17.91,91.21 -18.69,91.36 -20.07,91.91 C-21.45,92.46 -24.14,93.96 -25.31,93.46 C-26.47,92.95 -26.72,90.44 -27.06,88.86 C-27.41,87.27 -28.01,85.53 -27.36,83.96 C-26.71,82.38 -24.44,80.24 -23.16,79.39 C-21.89,78.54 -20.97,78.49 -19.71,78.86 C-18.45,79.22 -16.40,80.43 -15.58,81.56 C-14.76,82.69 -14.53,84.19 -14.77,85.63Z" fill="#d8f048"/><path d="M26.76,85.84 C26.56,87.15 26.10,88.79 25.27,89.89 C24.43,90.99 22.81,92.25 21.73,92.44 C20.66,92.63 19.99,92.02 18.82,91.04 C17.65,90.06 15.52,87.73 14.71,86.57 C13.90,85.41 13.34,85.09 13.99,84.06 C14.63,83.03 17.22,81.33 18.57,80.37 C19.93,79.40 20.82,77.98 22.13,78.27 C23.45,78.56 25.70,80.82 26.47,82.08 C27.25,83.35 26.96,84.54 26.76,85.84Z" fill="#d8f048"/>
<path d="M-16.41,75.53 C-16.42,76.04 -16.00,76.44 -16.25,76.76 C-16.50,77.08 -17.34,77.30 -17.91,77.47 C-18.49,77.63 -19.21,78.04 -19.69,77.77 C-20.17,77.50 -20.56,76.50 -20.80,75.86 C-21.03,75.21 -21.30,74.23 -21.09,73.93 C-20.88,73.62 -20.01,74.25 -19.56,74.04 C-19.11,73.83 -18.95,72.73 -18.39,72.67 C-17.83,72.62 -16.51,73.23 -16.18,73.71 C-15.85,74.18 -16.39,75.02 -16.41,75.53Z" fill="#ff60c0"/><path d="M20.33,75.78 C20.23,76.36 20.70,77.22 20.42,77.57 C20.14,77.91 19.15,77.88 18.64,77.86 C18.12,77.83 17.74,77.58 17.35,77.41 C16.96,77.23 16.46,77.32 16.30,76.80 C16.15,76.29 16.32,74.91 16.43,74.33 C16.53,73.74 16.57,73.55 16.96,73.29 C17.34,73.03 18.07,72.64 18.75,72.77 C19.43,72.90 20.78,73.58 21.04,74.08 C21.30,74.58 20.43,75.20 20.33,75.78Z" fill="#ff60c0"/>
<path d="M-31.76,84.57 C-31.35,85.15 -30.56,86.49 -31.10,86.92 C-31.64,87.34 -33.61,86.94 -34.98,87.12 C-36.36,87.30 -38.07,88.08 -39.36,87.98 C-40.64,87.88 -42.41,87.17 -42.68,86.52 C-42.96,85.87 -41.55,84.74 -41.00,84.09 C-40.46,83.43 -40.36,83.03 -39.42,82.58 C-38.49,82.14 -36.38,81.25 -35.40,81.39 C-34.42,81.53 -34.16,82.89 -33.56,83.42 C-32.95,83.95 -32.17,83.98 -31.76,84.57Z" fill="#c040c0"/><path d="M43.22,85.50 C43.17,86.19 41.11,86.77 40.24,87.15 C39.36,87.54 39.01,87.89 37.96,87.83 C36.91,87.76 34.93,87.04 33.91,86.76 C32.90,86.48 32.17,86.60 31.87,86.17 C31.57,85.73 31.70,84.69 32.10,84.15 C32.50,83.62 33.33,83.16 34.27,82.96 C35.20,82.76 36.66,82.93 37.70,82.95 C38.75,82.97 39.60,82.63 40.52,83.06 C41.44,83.48 43.27,84.82 43.22,85.50Z" fill="#c040c0"/>
<rect x="-4.00" y="38.00" width="8.00" height="13.00" fill="#8a4cb0"/>
<rect x="-4.00" y="51.00" width="8.00" height="24.00" fill="#5050f0"/>
<rect x="-1.60" y="63.60" width="3.20" height="11.10" fill="#e02080"/>
<rect x="-4.00" y="74.70" width="8.00" height="11.30" fill="#ffc020"/>
<rect x="-4.00" y="86.00" width="8.00" height="6.00" fill="#6040a0"/>
</g></g>
<g clip-path="url(#fmclip)">
<path d="M-29.50,4.40 C-28.92,4.43 -27.58,4.40 -26.00,4.60 C-24.42,4.80 -21.83,5.20 -20.00,5.60 C-18.17,6.00 -16.67,6.43 -15.00,7.00 C-13.33,7.57 -11.50,8.30 -10.00,9.00 C-8.50,9.70 -7.25,10.50 -6.00,11.20 C-4.75,11.90 -3.50,12.77 -2.50,13.20 C-1.50,13.63 -0.83,13.80 0.00,13.80 C0.83,13.80 1.50,13.63 2.50,13.20 C3.50,12.77 4.75,11.90 6.00,11.20 C7.25,10.50 8.50,9.70 10.00,9.00 C11.50,8.30 13.33,7.57 15.00,7.00 C16.67,6.43 18.17,6.00 20.00,5.60 C21.83,5.20 24.42,4.80 26.00,4.60 C27.58,4.40 28.92,4.43 29.50,4.40" class="ln"/>
<path d="M-29.80,8.00 C-28.83,7.93 -26.07,7.18 -24.00,7.60 C-21.93,8.02 -19.23,9.47 -17.40,10.50 C-15.57,11.53 -14.23,12.77 -13.00,13.80 C-11.77,14.83 -11.08,15.67 -10.00,16.70 C-8.92,17.73 -7.53,18.98 -6.50,20.00 C-5.47,21.02 -4.88,21.93 -3.80,22.80 C-2.72,23.67 -1.27,25.20 0.00,25.20 C1.27,25.20 2.72,23.67 3.80,22.80 C4.88,21.93 5.47,21.02 6.50,20.00 C7.53,18.98 8.92,17.73 10.00,16.70 C11.08,15.67 11.77,14.83 13.00,13.80 C14.23,12.77 15.57,11.53 17.40,10.50 C19.23,9.47 21.93,8.02 24.00,7.60 C26.07,7.18 28.83,7.93 29.80,8.00" class="ln"/>
<path d="M-44.00,20.30 C-42.83,20.23 -39.00,19.85 -37.00,19.90 C-35.00,19.95 -33.42,20.28 -32.00,20.60 C-30.58,20.92 -30.00,21.12 -28.50,21.80 C-27.00,22.48 -24.65,23.70 -23.00,24.70 C-21.35,25.70 -20.27,26.75 -18.60,27.80 C-16.93,28.85 -14.63,29.98 -13.00,31.00 C-11.37,32.02 -10.05,32.93 -8.80,33.90 C-7.55,34.87 -6.47,35.92 -5.50,36.80 C-4.53,37.68 -3.92,38.50 -3.00,39.20 C-2.08,39.90 -1.00,41.00 0.00,41.00 C1.00,41.00 2.08,39.90 3.00,39.20 C3.92,38.50 4.53,37.68 5.50,36.80 C6.47,35.92 7.55,34.87 8.80,33.90 C10.05,32.93 11.37,32.02 13.00,31.00 C14.63,29.98 16.93,28.85 18.60,27.80 C20.27,26.75 21.35,25.70 23.00,24.70 C24.65,23.70 27.00,22.48 28.50,21.80 C30.00,21.12 30.58,20.92 32.00,20.60 C33.42,20.28 35.00,19.95 37.00,19.90 C39.00,19.85 42.83,20.23 44.00,20.30" class="ln"/>
<path d="M-50.00,38.60 C-49.58,38.63 -49.17,38.57 -47.50,38.80 C-45.83,39.03 -42.75,39.65 -40.00,40.00 C-37.25,40.35 -33.67,40.68 -31.00,40.90 C-28.33,41.12 -26.07,41.22 -24.00,41.30 C-21.93,41.38 -20.60,41.37 -18.60,41.40 C-16.60,41.43 -14.05,41.45 -12.00,41.50 C-9.95,41.55 -8.30,41.62 -6.30,41.70 C-4.30,41.78 -2.10,42.00 0.00,42.00 C2.10,42.00 4.30,41.78 6.30,41.70 C8.30,41.62 9.95,41.55 12.00,41.50 C14.05,41.45 16.60,41.43 18.60,41.40 C20.60,41.37 21.93,41.38 24.00,41.30 C26.07,41.22 28.33,41.12 31.00,40.90 C33.67,40.68 37.25,40.35 40.00,40.00 C42.75,39.65 45.83,39.03 47.50,38.80 C49.17,38.57 49.58,38.63 50.00,38.60" class="ln"/>
<path d="M-48.00,51.30 C-47.33,51.30 -45.83,51.18 -44.00,51.30 C-42.17,51.42 -39.18,51.70 -37.00,52.00 C-34.82,52.30 -33.07,52.70 -30.90,53.10 C-28.73,53.50 -26.05,53.98 -24.00,54.40 C-21.95,54.82 -20.60,55.23 -18.60,55.60 C-16.60,55.97 -14.05,56.28 -12.00,56.60 C-9.95,56.92 -7.25,57.35 -6.30,57.50" class="ln"/>
<path d="M48.00,51.30 C47.33,51.30 45.83,51.18 44.00,51.30 C42.17,51.42 39.18,51.70 37.00,52.00 C34.82,52.30 33.07,52.70 30.90,53.10 C28.73,53.50 26.05,53.98 24.00,54.40 C21.95,54.82 20.60,55.23 18.60,55.60 C16.60,55.97 14.05,56.28 12.00,56.60 C9.95,56.92 7.25,57.35 6.30,57.50" class="ln"/>
<path d="M-49.00,63.50 C-48.63,63.50 -48.18,63.98 -46.80,63.50 C-45.42,63.02 -43.35,61.22 -40.70,60.60 C-38.05,59.98 -33.68,59.77 -30.90,59.80 C-28.12,59.83 -26.05,60.35 -24.00,60.80 C-21.95,61.25 -20.60,61.93 -18.60,62.50 C-16.60,63.07 -13.85,63.85 -12.00,64.20 C-10.15,64.55 -8.25,64.53 -7.50,64.60" class="ln"/>
<path d="M49.00,63.50 C48.63,63.50 48.18,63.98 46.80,63.50 C45.42,63.02 43.35,61.22 40.70,60.60 C38.05,59.98 33.68,59.77 30.90,59.80 C28.12,59.83 26.05,60.35 24.00,60.80 C21.95,61.25 20.60,61.93 18.60,62.50 C16.60,63.07 13.85,63.85 12.00,64.20 C10.15,64.55 8.25,64.53 7.50,64.60" class="ln"/>
<path d="M-46.00,71.80 C-45.53,71.73 -44.70,71.87 -43.20,71.40 C-41.70,70.93 -39.05,69.58 -37.00,69.00 C-34.95,68.42 -33.07,68.07 -30.90,67.90 C-28.73,67.73 -26.05,67.80 -24.00,68.00 C-21.95,68.20 -20.27,68.57 -18.60,69.10 C-16.93,69.63 -15.43,70.27 -14.00,71.20 C-12.57,72.13 -10.67,74.12 -10.00,74.70" class="ln"/>
<path d="M46.00,71.80 C45.53,71.73 44.70,71.87 43.20,71.40 C41.70,70.93 39.05,69.58 37.00,69.00 C34.95,68.42 33.07,68.07 30.90,67.90 C28.73,67.73 26.05,67.80 24.00,68.00 C21.95,68.20 20.27,68.57 18.60,69.10 C16.93,69.63 15.43,70.27 14.00,71.20 C12.57,72.13 10.67,74.12 10.00,74.70" class="ln"/>
<path d="M-30.50,83.50 C-29.92,82.83 -28.25,80.67 -27.00,79.50 C-25.75,78.33 -24.20,77.30 -23.00,76.50 C-21.80,75.70 -20.97,75.42 -19.80,74.70 C-18.63,73.98 -17.13,72.88 -16.00,72.20 C-14.87,71.52 -13.50,70.87 -13.00,70.60" class="ln"/>
<path d="M30.50,83.50 C29.92,82.83 28.25,80.67 27.00,79.50 C25.75,78.33 24.20,77.30 23.00,76.50 C21.80,75.70 20.97,75.42 19.80,74.70 C18.63,73.98 17.13,72.88 16.00,72.20 C14.87,71.52 13.50,70.87 13.00,70.60" class="ln"/>
</g></g>
<g transform="translate(182.00,21.10) scale(1.010,1.000)">
<g clip-path="url(#fmclip)"><g filter="url(#rough1)">
<path d="M-70.00,-10.00 L70.00,-10.00 L70.00,4.40 L29.50,4.40 L26.00,4.60 L20.00,5.60 L15.00,7.00 L10.00,9.00 L6.00,11.20 L2.50,13.20 L0.00,13.80 L-2.50,13.20 L-6.00,11.20 L-10.00,9.00 L-15.00,7.00 L-20.00,5.60 L-26.00,4.60 L-29.50,4.40 L-70.00,4.40Z" fill="#50e050"/>
<path d="M-70.00,4.40 L-29.50,4.40 L-26.00,4.60 L-20.00,5.60 L-15.00,7.00 L-10.00,9.00 L-6.00,11.20 L-2.50,13.20 L0.00,13.80 L2.50,13.20 L6.00,11.20 L10.00,9.00 L15.00,7.00 L20.00,5.60 L26.00,4.60 L29.50,4.40 L70.00,4.40 L70.00,8.00 L29.80,8.00 L24.00,7.60 L17.40,10.50 L13.00,13.80 L10.00,16.70 L6.50,20.00 L3.80,22.80 L0.00,25.20 L-3.80,22.80 L-6.50,20.00 L-10.00,16.70 L-13.00,13.80 L-17.40,10.50 L-24.00,7.60 L-29.80,8.00 L-70.00,8.00Z" fill="#80c0ff"/>
<path d="M-70.00,8.00 L-29.80,8.00 L-24.00,7.60 L-17.40,10.50 L-13.00,13.80 L-10.00,16.70 L-6.50,20.00 L-3.80,22.80 L0.00,25.20 L3.80,22.80 L6.50,20.00 L10.00,16.70 L13.00,13.80 L17.40,10.50 L24.00,7.60 L29.80,8.00 L70.00,8.00 L70.00,20.30 L44.00,20.30 L37.00,19.90 L32.00,20.60 L28.50,21.80 L23.00,24.70 L18.60,27.80 L13.00,31.00 L8.80,33.90 L5.50,36.80 L3.00,39.20 L0.00,41.00 L-3.00,39.20 L-5.50,36.80 L-8.80,33.90 L-13.00,31.00 L-18.60,27.80 L-23.00,24.70 L-28.50,21.80 L-32.00,20.60 L-37.00,19.90 L-44.00,20.30 L-70.00,20.30Z" fill="#d848d8"/>
<path d="M-70.00,20.30 L-44.00,20.30 L-37.00,19.90 L-32.00,20.60 L-28.50,21.80 L-23.00,24.70 L-18.60,27.80 L-13.00,31.00 L-8.80,33.90 L-5.50,36.80 L-3.00,39.20 L0.00,41.00 L3.00,39.20 L5.50,36.80 L8.80,33.90 L13.00,31.00 L18.60,27.80 L23.00,24.70 L28.50,21.80 L32.00,20.60 L37.00,19.90 L44.00,20.30 L70.00,20.30 L70.00,38.60 L50.00,38.60 L47.50,38.80 L40.00,40.00 L31.00,40.90 L24.00,41.30 L18.60,41.40 L12.00,41.50 L6.30,41.70 L0.00,42.00 L-6.30,41.70 L-12.00,41.50 L-18.60,41.40 L-24.00,41.30 L-31.00,40.90 L-40.00,40.00 L-47.50,38.80 L-50.00,38.60 L-70.00,38.60Z" fill="#d8f050"/>
<path d="M-70.00,38.60 L-50.00,38.60 L-47.50,38.80 L-40.00,40.00 L-31.00,40.90 L-24.00,41.30 L-18.60,41.40 L-12.00,41.50 L-6.30,41.70 L0.00,42.00 L6.30,41.70 L12.00,41.50 L18.60,41.40 L24.00,41.30 L31.00,40.90 L40.00,40.00 L47.50,38.80 L50.00,38.60 L70.00,38.60 L70.00,51.30 L48.00,51.30 L44.00,51.30 L37.00,52.00 L30.90,53.10 L24.00,54.40 L18.60,55.60 L12.00,56.60 L6.30,57.50 L0.00,58.50 L-6.30,57.50 L-12.00,56.60 L-18.60,55.60 L-24.00,54.40 L-30.90,53.10 L-37.00,52.00 L-44.00,51.30 L-48.00,51.30 L-70.00,51.30Z" fill="#d8f050"/>
<path d="M-70.00,51.30 L-48.00,51.30 L-44.00,51.30 L-37.00,52.00 L-30.90,53.10 L-24.00,54.40 L-18.60,55.60 L-12.00,56.60 L-6.30,57.50 L0.00,58.50 L6.30,57.50 L12.00,56.60 L18.60,55.60 L24.00,54.40 L30.90,53.10 L37.00,52.00 L44.00,51.30 L48.00,51.30 L70.00,51.30 L70.00,63.50 L49.00,63.50 L46.80,63.50 L40.70,60.60 L30.90,59.80 L24.00,60.80 L18.60,62.50 L12.00,64.20 L7.50,64.60 L0.00,65.60 L-7.50,64.60 L-12.00,64.20 L-18.60,62.50 L-24.00,60.80 L-30.90,59.80 L-40.70,60.60 L-46.80,63.50 L-49.00,63.50 L-70.00,63.50Z" fill="#a060f0"/>
<path d="M-70.00,63.50 L-49.00,63.50 L-46.80,63.50 L-40.70,60.60 L-30.90,59.80 L-24.00,60.80 L-18.60,62.50 L-12.00,64.20 L-7.50,64.60 L0.00,65.60 L7.50,64.60 L12.00,64.20 L18.60,62.50 L24.00,60.80 L30.90,59.80 L40.70,60.60 L46.80,63.50 L49.00,63.50 L70.00,63.50 L70.00,71.80 L46.00,71.80 L43.20,71.40 L37.00,69.00 L30.90,67.90 L24.00,68.00 L18.60,69.10 L14.00,71.20 L10.00,74.70 L0.00,75.70 L-10.00,74.70 L-14.00,71.20 L-18.60,69.10 L-24.00,68.00 L-30.90,67.90 L-37.00,69.00 L-43.20,71.40 L-46.00,71.80 L-70.00,71.80Z" fill="#50e8f8"/>
<path d="M-70.00,71.80 L-46.00,71.80 L-43.20,71.40 L-37.00,69.00 L-30.90,67.90 L-24.00,68.00 L-18.60,69.10 L-14.00,71.20 L-10.00,74.70 L0.00,75.70 L10.00,74.70 L14.00,71.20 L18.60,69.10 L24.00,68.00 L30.90,67.90 L37.00,69.00 L43.20,71.40 L46.00,71.80 L70.00,71.80 L70.00,100.00 L-70.00,100.00Z" fill="#e0f8a0"/>
<path d="M-9.83,3.61 C-10.05,4.45 -8.38,5.72 -8.95,6.34 C-9.51,6.97 -10.90,7.42 -13.22,7.36 C-15.53,7.30 -20.53,6.41 -22.85,5.98 C-25.18,5.55 -26.45,5.41 -27.16,4.78 C-27.87,4.15 -28.17,2.82 -27.09,2.19 C-26.01,1.55 -22.82,1.41 -20.68,0.97 C-18.55,0.52 -16.47,-0.54 -14.30,-0.48 C-12.13,-0.43 -8.39,0.63 -7.65,1.31 C-6.90,1.99 -9.61,2.78 -9.83,3.61Z" fill="#50e050"/><path d="M26.75,3.49 C26.87,4.09 27.97,4.53 26.42,5.16 C24.87,5.79 19.86,7.18 17.44,7.29 C15.02,7.40 13.29,6.34 11.88,5.81 C10.47,5.28 9.48,4.61 8.97,4.12 C8.47,3.63 8.26,3.41 8.86,2.85 C9.47,2.29 10.94,1.19 12.61,0.79 C14.27,0.38 16.67,0.32 18.85,0.44 C21.03,0.57 24.38,1.03 25.70,1.54 C27.02,2.05 26.63,2.88 26.75,3.49Z" fill="#50e050"/>
<path d="M-0.31,2.04 C-0.31,2.96 -0.86,3.26 -1.27,4.08 C-1.68,4.91 -2.10,6.61 -2.78,7.00 C-3.46,7.40 -4.87,7.07 -5.35,6.46 C-5.83,5.84 -5.36,4.26 -5.65,3.30 C-5.93,2.34 -7.13,1.61 -7.05,0.69 C-6.96,-0.22 -5.92,-1.52 -5.16,-2.18 C-4.41,-2.84 -3.15,-3.39 -2.50,-3.27 C-1.85,-3.15 -1.63,-2.33 -1.27,-1.45 C-0.90,-0.56 -0.31,1.12 -0.31,2.04Z" fill="#5a50e8"/><path d="M6.77,1.34 C6.82,2.09 6.50,3.67 5.95,4.59 C5.41,5.51 4.28,6.47 3.50,6.87 C2.72,7.28 1.83,7.48 1.27,7.03 C0.71,6.58 0.22,5.22 0.15,4.17 C0.08,3.11 0.60,1.74 0.86,0.69 C1.12,-0.35 1.26,-1.56 1.71,-2.07 C2.16,-2.59 2.89,-2.76 3.55,-2.40 C4.21,-2.03 5.14,-0.51 5.67,0.11 C6.21,0.74 6.73,0.59 6.77,1.34Z" fill="#5a50e8"/>
<path d="M-19.62,10.00 C-19.64,10.67 -20.13,11.62 -20.75,11.96 C-21.36,12.30 -22.44,11.96 -23.33,12.05 C-24.22,12.15 -25.39,12.73 -26.07,12.52 C-26.75,12.31 -27.06,11.32 -27.41,10.79 C-27.76,10.26 -28.42,9.95 -28.17,9.32 C-27.91,8.69 -26.78,7.23 -25.89,7.01 C-25.00,6.79 -23.72,7.86 -22.85,8.01 C-21.98,8.16 -21.18,7.57 -20.64,7.90 C-20.11,8.23 -19.61,9.32 -19.62,10.00Z" fill="#ff80c0"/><path d="M27.76,9.97 C27.62,10.57 27.69,10.70 27.13,11.20 C26.57,11.70 25.31,12.84 24.41,12.97 C23.52,13.10 22.43,12.41 21.75,11.97 C21.08,11.53 20.59,10.79 20.35,10.34 C20.12,9.88 20.04,9.68 20.34,9.25 C20.64,8.83 21.47,8.08 22.14,7.80 C22.81,7.51 23.39,7.58 24.36,7.54 C25.33,7.51 27.40,7.19 27.96,7.60 C28.53,8.00 27.90,9.37 27.76,9.97Z" fill="#ff80c0"/>
<path d="M-7.99,9.89 C-7.86,10.46 -9.23,11.73 -10.13,12.14 C-11.02,12.54 -12.11,12.22 -13.33,12.32 C-14.55,12.41 -16.58,12.85 -17.46,12.70 C-18.33,12.54 -18.37,12.06 -18.60,11.39 C-18.83,10.72 -19.24,9.42 -18.84,8.67 C-18.44,7.92 -17.11,7.12 -16.21,6.87 C-15.30,6.62 -14.31,6.86 -13.42,7.16 C-12.53,7.47 -11.79,8.24 -10.88,8.69 C-9.98,9.15 -8.11,9.31 -7.99,9.89Z" fill="#80c0ff"/><path d="M18.46,10.46 C18.35,10.97 17.29,11.25 16.64,11.64 C16.00,12.02 15.43,12.68 14.58,12.75 C13.72,12.83 12.37,12.48 11.52,12.09 C10.67,11.70 9.82,10.85 9.48,10.43 C9.13,10.01 9.01,10.16 9.44,9.57 C9.87,8.97 11.11,7.20 12.07,6.84 C13.02,6.48 14.30,7.13 15.16,7.41 C16.03,7.70 16.71,8.05 17.26,8.56 C17.81,9.07 18.56,9.94 18.46,10.46Z" fill="#80c0ff"/>
<path d="M0.74,12.95 C0.85,14.19 0.16,16.31 -0.59,17.51 C-1.33,18.72 -2.71,20.03 -3.71,20.20 C-4.71,20.37 -5.77,19.41 -6.60,18.55 C-7.42,17.69 -8.22,16.29 -8.67,15.05 C-9.13,13.82 -9.71,12.46 -9.32,11.16 C-8.92,9.87 -7.23,7.66 -6.32,7.28 C-5.40,6.89 -4.69,8.37 -3.85,8.85 C-3.00,9.32 -2.03,9.43 -1.26,10.12 C-0.50,10.80 0.62,11.72 0.74,12.95Z" fill="#5060f0"/><path d="M7.73,12.34 C7.61,13.76 8.04,15.65 7.69,16.80 C7.33,17.94 6.37,19.03 5.59,19.22 C4.81,19.41 3.69,18.81 3.00,17.93 C2.32,17.06 1.80,15.27 1.48,13.98 C1.15,12.70 0.84,10.99 1.05,10.22 C1.25,9.46 2.03,9.67 2.69,9.39 C3.35,9.10 4.06,8.72 5.01,8.53 C5.97,8.34 7.97,7.61 8.42,8.25 C8.87,8.88 7.85,10.92 7.73,12.34Z" fill="#5060f0"/>
<path d="M-20.08,16.56 C-19.96,17.31 -18.23,18.44 -18.82,18.88 C-19.40,19.33 -22.29,19.04 -23.59,19.24 C-24.88,19.43 -25.68,20.34 -26.59,20.05 C-27.50,19.77 -28.73,18.16 -29.03,17.52 C-29.33,16.87 -28.85,16.81 -28.38,16.19 C-27.91,15.57 -26.95,14.45 -26.21,13.79 C-25.47,13.13 -25.05,12.13 -23.94,12.24 C-22.84,12.34 -20.19,13.71 -19.55,14.43 C-18.90,15.15 -20.20,15.82 -20.08,16.56Z" fill="#7060f0"/><path d="M29.91,16.28 C29.79,17.10 27.99,18.11 27.12,18.88 C26.25,19.65 25.57,20.80 24.68,20.91 C23.80,21.03 22.47,20.13 21.83,19.59 C21.19,19.04 21.27,18.44 20.83,17.65 C20.40,16.85 18.94,15.48 19.22,14.81 C19.50,14.15 21.42,13.86 22.50,13.66 C23.59,13.45 24.84,13.51 25.73,13.56 C26.62,13.61 27.14,13.48 27.84,13.94 C28.54,14.39 30.03,15.45 29.91,16.28Z" fill="#7060f0"/>
<path d="M-14.79,22.34 C-14.95,23.19 -15.24,24.06 -16.28,24.66 C-17.32,25.26 -19.64,25.71 -21.02,25.92 C-22.39,26.12 -23.47,26.40 -24.52,25.88 C-25.57,25.37 -27.01,23.68 -27.32,22.82 C-27.64,21.96 -27.12,21.33 -26.41,20.74 C-25.70,20.15 -24.01,19.61 -23.08,19.29 C-22.15,18.97 -22.12,18.80 -20.83,18.84 C-19.55,18.88 -16.38,18.97 -15.37,19.55 C-14.36,20.13 -14.64,21.49 -14.79,22.34Z" fill="#e040e0"/><path d="M26.90,21.14 C26.70,21.96 26.61,23.42 25.71,23.96 C24.80,24.50 22.74,24.13 21.46,24.39 C20.17,24.65 19.18,25.76 18.00,25.50 C16.83,25.23 14.56,23.57 14.39,22.83 C14.21,22.08 16.05,21.58 16.95,21.00 C17.85,20.42 18.87,19.86 19.80,19.35 C20.72,18.85 21.32,18.02 22.51,17.97 C23.70,17.92 26.20,18.52 26.93,19.05 C27.66,19.58 27.10,20.32 26.90,21.14Z" fill="#e040e0"/>
<path d="M-15.79,25.43 C-15.52,26.13 -16.38,27.24 -17.21,27.66 C-18.04,28.08 -19.75,27.77 -20.79,27.96 C-21.82,28.14 -22.73,29.07 -23.42,28.77 C-24.11,28.46 -24.75,26.77 -24.91,26.11 C-25.07,25.45 -24.55,25.42 -24.37,24.80 C-24.20,24.18 -24.51,22.79 -23.86,22.41 C-23.20,22.03 -21.28,22.34 -20.44,22.53 C-19.61,22.71 -19.60,23.03 -18.82,23.51 C-18.04,23.99 -16.05,24.74 -15.79,25.43Z" fill="#d02080"/><path d="M24.85,25.13 C24.71,25.75 24.61,26.58 23.93,27.11 C23.24,27.65 21.78,28.12 20.75,28.34 C19.72,28.56 18.33,28.64 17.76,28.45 C17.18,28.26 17.30,27.77 17.29,27.19 C17.27,26.60 17.36,25.63 17.67,24.96 C17.97,24.29 18.40,23.77 19.12,23.17 C19.83,22.57 21.02,21.33 21.96,21.36 C22.90,21.40 24.26,22.76 24.74,23.39 C25.23,24.01 24.98,24.51 24.85,25.13Z" fill="#d02080"/>
<path d="M-7.12,24.52 C-7.03,25.23 -6.87,26.10 -7.63,26.94 C-8.39,27.79 -10.53,29.28 -11.66,29.60 C-12.80,29.92 -13.80,29.52 -14.45,28.87 C-15.09,28.22 -15.33,26.46 -15.51,25.72 C-15.69,24.98 -15.75,25.15 -15.52,24.42 C-15.28,23.69 -14.77,21.94 -14.10,21.32 C-13.43,20.70 -12.49,20.45 -11.49,20.68 C-10.50,20.91 -8.85,22.05 -8.12,22.69 C-7.40,23.33 -7.20,23.81 -7.12,24.52Z" fill="#80c8ff"/><path d="M16.92,25.65 C16.96,26.21 15.51,26.18 14.71,26.53 C13.92,26.88 12.98,27.41 12.13,27.76 C11.28,28.10 10.24,28.97 9.61,28.61 C8.98,28.25 8.79,26.31 8.34,25.58 C7.90,24.86 6.59,24.87 6.94,24.27 C7.28,23.66 9.64,22.36 10.43,21.94 C11.22,21.51 10.98,21.49 11.66,21.70 C12.33,21.92 13.60,22.55 14.48,23.21 C15.36,23.87 16.88,25.10 16.92,25.65Z" fill="#80c8ff"/>
<path d="M0.79,34.05 C0.66,35.31 -1.34,35.89 -2.29,36.84 C-3.23,37.79 -3.80,39.00 -4.87,39.75 C-5.93,40.49 -7.58,41.65 -8.70,41.31 C-9.81,40.96 -11.17,39.45 -11.54,37.67 C-11.90,35.89 -11.55,32.66 -10.89,30.63 C-10.23,28.61 -8.45,26.37 -7.57,25.52 C-6.68,24.67 -6.58,24.90 -5.57,25.52 C-4.57,26.15 -2.61,27.87 -1.55,29.29 C-0.49,30.71 0.91,32.80 0.79,34.05Z" fill="#8a4cb0"/><path d="M10.86,33.10 C10.73,34.84 9.49,36.15 8.86,37.83 C8.23,39.50 8.02,42.37 7.10,43.16 C6.18,43.95 4.26,43.72 3.31,42.54 C2.37,41.36 1.80,38.13 1.42,36.06 C1.04,33.99 0.68,31.41 1.05,30.14 C1.41,28.87 2.84,29.50 3.62,28.45 C4.41,27.40 4.73,24.02 5.74,23.83 C6.75,23.65 8.82,25.80 9.68,27.34 C10.53,28.88 11.00,31.35 10.86,33.10Z" fill="#8a4cb0"/>
<path d="M-49.49,27.66 C-49.47,28.34 -48.95,29.08 -49.27,29.68 C-49.58,30.29 -50.81,31.17 -51.38,31.29 C-51.96,31.40 -52.29,30.75 -52.70,30.36 C-53.12,29.97 -53.67,29.62 -53.87,28.94 C-54.07,28.26 -54.10,26.89 -53.88,26.28 C-53.66,25.67 -52.97,25.61 -52.56,25.29 C-52.14,24.96 -51.92,24.29 -51.39,24.34 C-50.86,24.39 -49.70,25.03 -49.38,25.59 C-49.06,26.14 -49.51,26.98 -49.49,27.66Z" fill="#40c040"/><path d="M54.16,27.37 C54.11,28.08 53.19,29.38 52.87,29.86 C52.55,30.34 52.69,30.08 52.24,30.26 C51.79,30.43 50.66,31.05 50.18,30.92 C49.70,30.79 49.51,30.17 49.36,29.47 C49.21,28.77 49.10,27.47 49.28,26.72 C49.45,25.96 49.90,25.24 50.41,24.95 C50.91,24.66 51.87,24.85 52.33,24.96 C52.79,25.07 52.88,25.22 53.19,25.62 C53.49,26.02 54.22,26.67 54.16,27.37Z" fill="#40c040"/>
<path d="M-41.03,23.91 C-41.02,24.65 -41.46,25.09 -41.79,26.01 C-42.11,26.94 -42.28,29.22 -42.99,29.46 C-43.70,29.70 -45.24,27.98 -46.04,27.44 C-46.83,26.90 -47.23,27.04 -47.74,26.21 C-48.25,25.37 -49.26,23.57 -49.11,22.42 C-48.96,21.27 -47.87,19.74 -46.83,19.31 C-45.79,18.89 -43.71,19.49 -42.88,19.87 C-42.06,20.25 -42.19,20.91 -41.88,21.59 C-41.57,22.26 -41.05,23.17 -41.03,23.91Z" fill="#e050d0"/><path d="M47.59,24.11 C47.55,24.99 47.12,25.83 46.75,26.69 C46.39,27.54 46.11,29.17 45.41,29.26 C44.71,29.35 43.45,27.80 42.55,27.24 C41.65,26.68 40.29,26.79 40.02,25.90 C39.76,25.02 40.61,22.78 40.95,21.92 C41.29,21.06 41.35,21.34 42.07,20.76 C42.78,20.18 44.43,18.35 45.25,18.46 C46.07,18.57 46.61,20.48 47.00,21.42 C47.39,22.36 47.63,23.23 47.59,24.11Z" fill="#e050d0"/>
<path d="M-31.07,25.00 C-30.93,26.10 -31.67,27.07 -32.41,27.78 C-33.15,28.49 -34.70,29.39 -35.51,29.26 C-36.32,29.14 -36.74,27.77 -37.27,27.04 C-37.80,26.30 -38.40,25.49 -38.71,24.85 C-39.01,24.20 -39.39,23.81 -39.13,23.17 C-38.86,22.54 -37.77,21.54 -37.11,21.02 C-36.44,20.49 -35.79,20.00 -35.14,20.03 C-34.49,20.06 -33.89,20.35 -33.21,21.18 C-32.54,22.01 -31.20,23.91 -31.07,25.00Z" fill="#ff70c0"/><path d="M39.32,24.22 C39.31,25.30 39.37,25.44 38.88,26.30 C38.39,27.15 37.31,28.92 36.41,29.36 C35.51,29.81 34.34,29.60 33.48,28.98 C32.63,28.36 31.54,26.79 31.29,25.62 C31.04,24.46 31.65,22.93 31.98,22.00 C32.32,21.07 32.60,20.36 33.28,20.05 C33.97,19.75 35.14,20.20 36.09,20.16 C37.04,20.12 38.43,19.14 38.97,19.82 C39.51,20.50 39.34,23.15 39.32,24.22Z" fill="#ff70c0"/>
<path d="M-40.94,34.03 C-40.91,34.78 -40.33,35.39 -41.02,36.24 C-41.71,37.08 -44.02,38.75 -45.08,39.07 C-46.13,39.40 -46.56,38.64 -47.34,38.17 C-48.12,37.71 -49.58,37.22 -49.76,36.29 C-49.94,35.37 -48.88,33.84 -48.42,32.62 C-47.97,31.40 -47.76,29.39 -47.01,28.96 C-46.26,28.54 -44.90,29.60 -43.93,30.06 C-42.97,30.52 -41.73,31.06 -41.23,31.72 C-40.73,32.38 -40.98,33.27 -40.94,34.03Z" fill="#fffbd0"/><path d="M49.77,33.03 C49.83,33.86 49.50,35.87 48.94,36.80 C48.39,37.72 47.56,38.47 46.43,38.61 C45.29,38.75 43.17,38.22 42.11,37.63 C41.05,37.04 40.38,36.02 40.07,35.06 C39.77,34.09 39.70,32.58 40.28,31.85 C40.86,31.11 42.59,31.04 43.53,30.65 C44.48,30.26 45.11,29.30 45.95,29.50 C46.80,29.70 47.94,31.27 48.58,31.86 C49.22,32.44 49.71,32.21 49.77,33.03Z" fill="#fffbd0"/>
<path d="M-15.25,34.94 C-15.44,36.18 -16.65,38.66 -18.31,39.81 C-19.97,40.97 -22.90,41.80 -25.22,41.88 C-27.55,41.96 -30.21,41.13 -32.26,40.32 C-34.30,39.52 -36.37,38.24 -37.48,37.05 C-38.58,35.87 -38.99,34.28 -38.89,33.22 C-38.79,32.16 -38.98,31.15 -36.88,30.70 C-34.78,30.26 -29.56,30.27 -26.28,30.55 C-22.99,30.83 -19.01,31.65 -17.18,32.39 C-15.34,33.12 -15.06,33.70 -15.25,34.94Z" fill="#d8f050"/><path d="M40.87,36.45 C40.89,37.83 39.47,38.08 37.08,38.92 C34.68,39.76 29.17,41.27 26.50,41.49 C23.83,41.72 23.23,40.69 21.04,40.27 C18.86,39.86 14.98,40.10 13.41,38.99 C11.85,37.89 10.53,34.82 11.66,33.63 C12.79,32.45 16.81,32.60 20.20,31.87 C23.58,31.13 29.16,29.43 31.95,29.22 C34.74,29.02 35.44,29.42 36.93,30.63 C38.42,31.83 40.84,35.07 40.87,36.45Z" fill="#d8f050"/>
<path d="M-7.27,33.66 C-7.16,35.06 -7.16,36.84 -7.71,38.09 C-8.26,39.34 -9.71,40.87 -10.58,41.17 C-11.45,41.48 -12.05,40.64 -12.92,39.93 C-13.79,39.21 -15.45,38.25 -15.79,36.89 C-16.14,35.53 -15.42,33.28 -14.97,31.77 C-14.51,30.27 -13.74,28.64 -13.07,27.85 C-12.39,27.06 -11.68,26.72 -10.90,27.03 C-10.12,27.35 -8.99,28.63 -8.39,29.74 C-7.78,30.84 -7.39,32.27 -7.27,33.66Z" fill="#ffc020"/><path d="M14.45,33.41 C14.42,34.96 15.10,37.27 14.57,38.61 C14.04,39.96 12.18,41.57 11.27,41.47 C10.36,41.36 9.73,38.70 9.13,37.98 C8.54,37.25 8.15,38.00 7.69,37.12 C7.22,36.23 6.18,34.40 6.33,32.66 C6.47,30.91 7.55,27.77 8.58,26.65 C9.61,25.53 11.46,25.49 12.49,25.94 C13.53,26.38 14.44,28.06 14.76,29.31 C15.09,30.55 14.48,31.86 14.45,33.41Z" fill="#ffc020"/>
<path d="M-29.93,32.98 C-30.01,33.29 -30.74,33.52 -31.15,33.80 C-31.56,34.07 -31.72,34.44 -32.38,34.63 C-33.04,34.82 -34.66,35.07 -35.12,34.95 C-35.59,34.82 -34.96,34.32 -35.14,33.87 C-35.33,33.42 -36.37,32.68 -36.24,32.24 C-36.11,31.79 -35.01,31.33 -34.38,31.19 C-33.76,31.05 -33.11,31.26 -32.50,31.39 C-31.88,31.51 -31.13,31.67 -30.70,31.94 C-30.28,32.21 -29.86,32.67 -29.93,32.98Z" fill="#ff80c0"/><path d="M35.09,32.94 C35.02,33.47 35.28,34.21 34.94,34.48 C34.60,34.74 33.58,34.53 33.03,34.50 C32.47,34.48 32.10,34.44 31.61,34.30 C31.13,34.17 30.24,33.96 30.11,33.70 C29.99,33.45 30.66,33.21 30.87,32.78 C31.07,32.35 30.99,31.43 31.35,31.11 C31.70,30.79 32.33,30.82 33.00,30.86 C33.67,30.89 35.00,30.98 35.35,31.33 C35.69,31.68 35.15,32.42 35.09,32.94Z" fill="#ff80c0"/>
<path d="M-37.10,46.20 C-37.01,47.48 -37.86,50.31 -38.60,51.28 C-39.34,52.25 -40.69,52.14 -41.53,52.03 C-42.38,51.93 -42.92,51.18 -43.68,50.65 C-44.44,50.12 -45.66,49.80 -46.08,48.83 C-46.51,47.87 -46.48,46.14 -46.23,44.85 C-45.98,43.57 -45.55,41.99 -44.58,41.12 C-43.61,40.26 -41.32,39.26 -40.41,39.67 C-39.50,40.08 -39.69,42.50 -39.14,43.59 C-38.58,44.68 -37.19,44.92 -37.10,46.20Z" fill="#fffbd0"/><path d="M46.29,45.67 C46.55,46.96 46.02,49.18 45.48,50.35 C44.95,51.52 44.02,52.57 43.08,52.70 C42.15,52.84 40.76,51.66 39.85,51.16 C38.94,50.66 37.83,50.65 37.63,49.70 C37.43,48.76 38.25,46.65 38.67,45.49 C39.09,44.33 39.46,43.72 40.13,42.74 C40.80,41.75 42.06,39.60 42.69,39.58 C43.32,39.56 43.32,41.60 43.92,42.61 C44.52,43.63 46.03,44.38 46.29,45.67Z" fill="#fffbd0"/>
<path d="M-15.64,44.26 C-16.06,45.43 -15.81,47.20 -17.46,48.33 C-19.11,49.47 -23.34,50.77 -25.54,51.06 C-27.75,51.35 -29.12,50.76 -30.71,50.06 C-32.30,49.36 -34.42,47.87 -35.09,46.85 C-35.77,45.83 -35.07,44.93 -34.76,43.95 C-34.44,42.98 -35.02,41.47 -33.21,41.00 C-31.41,40.53 -26.97,41.07 -23.93,41.13 C-20.89,41.18 -16.37,40.80 -14.99,41.32 C-13.61,41.85 -15.23,43.09 -15.64,44.26Z" fill="#d8f050"/><path d="M38.63,44.45 C38.81,45.79 37.47,48.41 35.76,49.05 C34.04,49.70 31.17,48.15 28.33,48.33 C25.50,48.52 21.21,50.60 18.72,50.19 C16.24,49.77 13.84,46.84 13.40,45.84 C12.97,44.84 14.90,44.91 16.11,44.19 C17.31,43.48 18.71,42.06 20.62,41.56 C22.52,41.06 25.16,41.26 27.51,41.17 C29.87,41.08 32.88,40.45 34.73,41.00 C36.59,41.55 38.46,43.11 38.63,44.45Z" fill="#d8f050"/>
<path d="M-7.24,46.00 C-7.19,47.22 -7.72,49.01 -8.15,50.35 C-8.58,51.68 -9.29,53.57 -9.81,54.01 C-10.34,54.46 -10.89,53.75 -11.30,53.00 C-11.72,52.25 -12.08,50.85 -12.30,49.52 C-12.52,48.19 -12.67,46.39 -12.63,45.01 C-12.60,43.63 -12.56,42.07 -12.10,41.24 C-11.64,40.42 -10.46,39.75 -9.86,40.04 C-9.25,40.33 -8.92,41.99 -8.48,42.98 C-8.05,43.97 -7.30,44.77 -7.24,46.00Z" fill="#ffc020"/><path d="M12.41,46.80 C12.49,48.03 13.03,49.40 12.64,50.41 C12.24,51.42 10.83,52.32 10.03,52.87 C9.22,53.42 8.13,54.33 7.80,53.69 C7.47,53.05 8.14,50.65 8.04,49.02 C7.94,47.39 7.10,45.31 7.21,43.91 C7.32,42.51 8.25,40.95 8.71,40.63 C9.17,40.31 9.38,41.60 9.96,42.00 C10.53,42.40 11.75,42.24 12.16,43.05 C12.57,43.85 12.33,45.58 12.41,46.80Z" fill="#ffc020"/>
<path d="M-13.54,52.27 C-13.56,52.68 -13.59,53.02 -14.72,53.38 C-15.84,53.74 -18.34,54.36 -20.30,54.44 C-22.26,54.52 -24.59,54.14 -26.49,53.85 C-28.39,53.56 -30.43,53.10 -31.70,52.70 C-32.98,52.29 -35.21,51.77 -34.15,51.43 C-33.08,51.09 -27.62,50.84 -25.32,50.66 C-23.02,50.47 -22.15,50.28 -20.36,50.33 C-18.57,50.38 -15.74,50.62 -14.61,50.95 C-13.47,51.27 -13.53,51.87 -13.54,52.27Z" fill="#ff70c0"/><path d="M31.96,51.85 C32.26,52.29 32.98,53.17 31.44,53.54 C29.89,53.90 24.74,53.97 22.70,54.04 C20.66,54.10 20.77,54.09 19.22,53.94 C17.66,53.78 14.72,53.55 13.37,53.13 C12.02,52.70 10.65,51.97 11.12,51.39 C11.59,50.82 14.22,50.01 16.21,49.66 C18.19,49.31 20.79,49.10 23.04,49.30 C25.28,49.50 28.19,50.44 29.68,50.86 C31.17,51.29 31.67,51.40 31.96,51.85Z" fill="#ff70c0"/>
<path d="M-13.38,48.65 C-13.32,49.03 -13.77,49.94 -14.39,50.34 C-15.02,50.74 -16.17,50.96 -17.14,51.05 C-18.11,51.13 -19.70,51.10 -20.21,50.87 C-20.71,50.63 -19.91,50.03 -20.15,49.63 C-20.39,49.22 -21.83,48.83 -21.64,48.45 C-21.45,48.07 -19.67,47.57 -19.00,47.36 C-18.34,47.16 -18.38,47.09 -17.67,47.21 C-16.95,47.33 -15.43,47.86 -14.72,48.10 C-14.00,48.34 -13.43,48.28 -13.38,48.65Z" fill="#fff8e0"/><path d="M21.48,49.08 C21.71,49.46 21.49,50.12 20.98,50.33 C20.47,50.54 19.22,50.23 18.44,50.35 C17.67,50.47 16.85,51.12 16.33,51.02 C15.82,50.92 15.72,50.20 15.36,49.76 C15.01,49.31 14.08,48.72 14.18,48.33 C14.28,47.94 15.25,47.61 15.97,47.43 C16.69,47.26 17.87,47.19 18.48,47.30 C19.09,47.40 19.13,47.77 19.63,48.07 C20.13,48.37 21.26,48.70 21.48,49.08Z" fill="#fff8e0"/>
<path d="M-31.91,54.68 C-32.08,55.60 -33.79,56.64 -34.34,57.33 C-34.90,58.01 -34.02,58.63 -35.25,58.79 C-36.49,58.95 -40.31,58.76 -41.74,58.30 C-43.17,57.84 -43.10,56.74 -43.86,56.01 C-44.63,55.28 -46.49,54.73 -46.33,53.91 C-46.17,53.10 -44.54,51.68 -42.89,51.10 C-41.24,50.53 -38.01,50.35 -36.42,50.48 C-34.83,50.60 -34.09,51.16 -33.34,51.86 C-32.59,52.56 -31.75,53.77 -31.91,54.68Z" fill="#ff60c0"/><path d="M45.42,54.19 C45.79,55.00 45.41,56.34 44.65,57.08 C43.89,57.81 42.35,58.32 40.85,58.60 C39.34,58.88 37.01,59.28 35.63,58.75 C34.24,58.22 33.36,56.19 32.56,55.40 C31.76,54.62 30.66,54.67 30.83,54.05 C31.00,53.43 32.18,52.27 33.59,51.68 C34.99,51.10 37.79,50.44 39.27,50.52 C40.74,50.61 41.42,51.60 42.45,52.21 C43.48,52.82 45.06,53.37 45.42,54.19Z" fill="#ff60c0"/>
<path d="M-31.72,60.33 C-31.50,61.02 -31.17,61.74 -31.93,62.05 C-32.68,62.37 -35.02,62.04 -36.25,62.21 C-37.49,62.38 -38.46,63.32 -39.33,63.09 C-40.19,62.86 -40.99,61.52 -41.44,60.82 C-41.90,60.13 -42.49,59.57 -42.05,58.92 C-41.60,58.26 -39.89,57.05 -38.77,56.88 C-37.64,56.71 -36.21,57.71 -35.29,57.88 C-34.37,58.05 -33.84,57.51 -33.24,57.92 C-32.65,58.33 -31.94,59.65 -31.72,60.33Z" fill="#5060f0"/><path d="M40.22,59.58 C40.16,60.04 39.05,61.03 38.70,61.56 C38.35,62.09 38.80,62.66 38.13,62.76 C37.45,62.86 35.55,62.48 34.63,62.14 C33.72,61.80 33.28,61.17 32.63,60.72 C31.98,60.27 30.64,60.04 30.74,59.46 C30.84,58.87 32.27,57.54 33.23,57.20 C34.20,56.87 35.58,57.21 36.55,57.46 C37.52,57.72 38.44,58.40 39.05,58.75 C39.66,59.10 40.28,59.11 40.22,59.58Z" fill="#5060f0"/>
<path d="M-20.84,56.67 C-20.80,57.28 -20.55,58.27 -21.18,58.91 C-21.81,59.56 -23.44,60.16 -24.63,60.53 C-25.82,60.91 -27.48,61.51 -28.34,61.19 C-29.19,60.86 -29.56,59.38 -29.79,58.60 C-30.01,57.81 -30.07,57.21 -29.70,56.48 C-29.33,55.75 -28.48,54.68 -27.56,54.21 C-26.63,53.75 -25.18,53.52 -24.16,53.69 C-23.14,53.87 -21.99,54.78 -21.44,55.28 C-20.89,55.77 -20.89,56.07 -20.84,56.67Z" fill="#a050f0"/><path d="M32.30,57.56 C32.26,58.60 31.36,59.97 30.38,60.34 C29.39,60.71 27.81,59.85 26.39,59.79 C24.97,59.73 22.72,60.20 21.87,59.97 C21.02,59.74 21.64,59.16 21.29,58.41 C20.94,57.66 19.59,56.17 19.76,55.49 C19.93,54.81 21.02,54.83 22.33,54.33 C23.64,53.83 26.23,52.50 27.61,52.47 C28.99,52.43 29.82,53.26 30.60,54.11 C31.39,54.96 32.33,56.52 32.30,57.56Z" fill="#a050f0"/>
<path d="M-13.48,56.22 C-13.40,56.49 -14.28,57.15 -15.07,57.48 C-15.86,57.81 -17.07,58.15 -18.22,58.21 C-19.37,58.27 -20.91,58.02 -21.95,57.84 C-22.99,57.66 -23.95,57.41 -24.46,57.13 C-24.97,56.86 -25.24,56.59 -25.00,56.20 C-24.75,55.80 -24.25,55.04 -22.98,54.78 C-21.71,54.52 -18.60,54.46 -17.36,54.64 C-16.12,54.82 -16.19,55.60 -15.54,55.87 C-14.90,56.13 -13.56,55.95 -13.48,56.22Z" fill="#ffc020"/><path d="M23.85,56.62 C24.06,56.99 25.91,57.43 25.27,57.63 C24.63,57.84 21.58,57.79 20.01,57.86 C18.44,57.94 17.00,58.22 15.84,58.08 C14.67,57.93 13.39,57.32 13.02,56.99 C12.64,56.67 13.28,56.48 13.58,56.15 C13.88,55.82 13.83,55.20 14.80,55.03 C15.76,54.85 17.86,55.04 19.38,55.11 C20.91,55.18 23.21,55.20 23.96,55.45 C24.70,55.70 23.63,56.26 23.85,56.62Z" fill="#ffc020"/>
<path d="M-23.02,61.51 C-23.01,62.05 -23.58,63.44 -24.83,63.92 C-26.07,64.39 -29.13,64.29 -30.47,64.36 C-31.82,64.44 -31.62,64.64 -32.91,64.38 C-34.20,64.12 -37.84,63.29 -38.22,62.80 C-38.61,62.31 -36.14,61.84 -35.20,61.44 C-34.26,61.05 -33.53,60.73 -32.56,60.44 C-31.60,60.14 -30.68,59.63 -29.41,59.67 C-28.13,59.71 -25.97,60.35 -24.91,60.66 C-23.84,60.96 -23.04,60.96 -23.02,61.51Z" fill="#50e0f8"/><path d="M37.29,62.17 C37.60,62.60 37.30,63.42 36.39,63.68 C35.47,63.93 33.47,63.63 31.80,63.70 C30.13,63.77 27.73,64.31 26.37,64.11 C25.02,63.90 24.16,63.03 23.66,62.47 C23.16,61.91 22.90,61.22 23.38,60.75 C23.85,60.29 24.90,59.85 26.49,59.68 C28.08,59.52 31.55,59.54 32.89,59.77 C34.24,60.01 33.82,60.70 34.55,61.10 C35.28,61.50 36.99,61.74 37.29,62.17Z" fill="#50e0f8"/>
<path d="M-10.39,64.45 C-10.13,65.14 -12.31,65.98 -14.22,66.56 C-16.12,67.15 -19.24,67.69 -21.81,67.95 C-24.38,68.20 -28.20,68.44 -29.62,68.10 C-31.03,67.76 -29.57,66.79 -30.30,65.91 C-31.03,65.03 -34.52,63.71 -33.99,62.81 C-33.47,61.91 -29.86,60.80 -27.14,60.51 C-24.41,60.22 -19.53,60.74 -17.64,61.06 C-15.74,61.38 -16.98,61.85 -15.77,62.41 C-14.56,62.98 -10.65,63.76 -10.39,64.45Z" fill="#50e8f8"/><path d="M32.51,64.32 C32.28,65.18 31.27,65.90 30.05,66.58 C28.82,67.26 27.71,68.13 25.15,68.41 C22.59,68.70 16.77,68.78 14.69,68.29 C12.61,67.79 13.84,66.34 12.69,65.44 C11.54,64.54 7.30,63.69 7.77,62.90 C8.24,62.10 13.16,61.05 15.49,60.68 C17.82,60.31 19.10,60.56 21.76,60.68 C24.42,60.81 29.65,60.83 31.44,61.44 C33.23,62.04 32.75,63.47 32.51,64.32Z" fill="#50e8f8"/>
<path d="M-39.86,67.02 C-39.90,67.96 -40.08,68.86 -40.45,69.56 C-40.82,70.25 -41.44,71.05 -42.07,71.19 C-42.70,71.33 -43.82,70.89 -44.23,70.41 C-44.63,69.93 -44.35,69.27 -44.50,68.32 C-44.64,67.37 -45.25,65.40 -45.12,64.72 C-44.99,64.04 -44.22,64.47 -43.69,64.24 C-43.16,64.01 -42.52,63.39 -41.94,63.34 C-41.36,63.28 -40.55,63.28 -40.20,63.89 C-39.85,64.51 -39.82,66.08 -39.86,67.02Z" fill="#40b040"/><path d="M44.93,66.60 C45.09,67.50 45.21,68.89 44.89,69.57 C44.57,70.25 43.60,70.59 43.01,70.69 C42.41,70.79 41.80,70.52 41.32,70.17 C40.83,69.82 40.17,69.29 40.08,68.59 C39.98,67.89 40.50,66.65 40.72,65.97 C40.93,65.29 41.00,65.08 41.36,64.51 C41.72,63.94 42.44,62.60 42.87,62.54 C43.31,62.49 43.63,63.50 43.97,64.17 C44.31,64.85 44.78,65.70 44.93,66.60Z" fill="#40b040"/>
<path d="M-9.65,69.91 C-9.60,70.39 -9.90,70.83 -10.47,71.24 C-11.04,71.64 -11.62,72.32 -13.06,72.34 C-14.50,72.36 -17.63,71.71 -19.10,71.33 C-20.57,70.95 -21.78,70.46 -21.89,70.05 C-22.00,69.64 -20.12,69.36 -19.75,68.89 C-19.37,68.41 -20.40,67.37 -19.63,67.19 C-18.85,67.00 -16.58,67.58 -15.11,67.77 C-13.63,67.97 -11.70,68.02 -10.79,68.37 C-9.88,68.73 -9.71,69.44 -9.65,69.91Z" fill="#5050f0"/><path d="M20.33,69.12 C20.15,69.75 19.23,70.66 18.71,71.16 C18.20,71.65 18.15,72.00 17.27,72.08 C16.39,72.16 14.97,72.00 13.44,71.66 C11.90,71.33 8.66,70.59 8.07,70.07 C7.49,69.55 9.21,68.95 9.93,68.53 C10.66,68.12 11.55,67.82 12.43,67.58 C13.31,67.35 14.01,67.18 15.24,67.14 C16.47,67.10 18.96,67.02 19.81,67.35 C20.66,67.68 20.52,68.48 20.33,69.12Z" fill="#5050f0"/>
<path d="M-35.07,65.70 C-35.05,66.22 -35.37,67.44 -35.70,67.70 C-36.04,67.95 -36.54,67.29 -37.06,67.22 C-37.58,67.14 -38.42,67.47 -38.83,67.26 C-39.24,67.05 -39.40,66.42 -39.53,65.95 C-39.65,65.48 -39.81,64.82 -39.57,64.47 C-39.33,64.11 -38.54,63.95 -38.08,63.82 C-37.63,63.68 -37.22,63.54 -36.84,63.66 C-36.46,63.78 -36.10,64.19 -35.80,64.53 C-35.51,64.87 -35.08,65.17 -35.07,65.70Z" fill="#ff70c0"/><path d="M39.48,65.67 C39.48,66.21 39.50,67.06 39.20,67.45 C38.90,67.83 38.24,67.95 37.67,67.96 C37.11,67.98 36.24,67.80 35.79,67.53 C35.35,67.27 35.08,66.78 34.99,66.38 C34.89,65.98 34.98,65.48 35.21,65.11 C35.44,64.74 35.85,64.60 36.37,64.18 C36.88,63.76 37.83,62.59 38.29,62.60 C38.76,62.61 38.96,63.72 39.16,64.23 C39.36,64.74 39.47,65.14 39.48,65.67Z" fill="#ff70c0"/>
<path d="M-31.51,71.63 C-31.58,72.31 -32.59,73.49 -33.14,74.18 C-33.69,74.87 -34.19,75.65 -34.83,75.78 C-35.47,75.90 -36.26,75.34 -36.98,74.93 C-37.69,74.52 -38.69,73.97 -39.09,73.33 C-39.50,72.70 -39.81,71.81 -39.41,71.13 C-39.01,70.46 -37.53,69.78 -36.69,69.30 C-35.85,68.81 -35.01,68.10 -34.35,68.24 C-33.69,68.38 -33.22,69.55 -32.74,70.12 C-32.27,70.68 -31.45,70.96 -31.51,71.63Z" fill="#ff60c0"/><path d="M39.01,72.23 C38.86,72.94 38.68,72.92 38.27,73.40 C37.85,73.88 37.36,74.82 36.51,75.10 C35.66,75.38 33.87,75.52 33.15,75.06 C32.44,74.60 32.43,73.00 32.21,72.33 C31.99,71.66 31.48,71.55 31.83,71.04 C32.18,70.53 33.50,69.74 34.33,69.27 C35.16,68.81 36.02,68.27 36.83,68.25 C37.63,68.22 38.82,68.46 39.18,69.13 C39.55,69.79 39.17,71.52 39.01,72.23Z" fill="#ff60c0"/>
<path d="M-24.02,76.31 C-23.71,77.44 -22.55,78.42 -23.05,78.85 C-23.55,79.29 -25.70,78.94 -27.02,78.94 C-28.34,78.94 -29.98,79.13 -30.97,78.85 C-31.96,78.57 -32.75,78.10 -32.96,77.28 C-33.18,76.45 -32.64,74.96 -32.26,73.90 C-31.87,72.83 -31.27,71.37 -30.63,70.89 C-29.99,70.40 -29.36,70.80 -28.41,71.00 C-27.46,71.20 -25.67,71.18 -24.93,72.07 C-24.20,72.95 -24.33,75.18 -24.02,76.31Z" fill="#40b050"/><path d="M33.99,76.24 C34.11,77.21 34.55,78.02 33.95,78.75 C33.34,79.48 31.75,80.65 30.36,80.62 C28.97,80.58 26.58,79.05 25.59,78.54 C24.61,78.02 25.07,78.31 24.47,77.53 C23.87,76.75 21.95,74.96 21.98,73.88 C22.01,72.80 23.25,71.59 24.65,71.05 C26.04,70.51 28.92,70.34 30.35,70.65 C31.79,70.96 32.65,71.99 33.26,72.92 C33.87,73.85 33.88,75.27 33.99,76.24Z" fill="#40b050"/>
<path d="M-15.31,83.27 C-14.97,84.54 -16.24,84.82 -17.27,85.75 C-18.29,86.68 -19.72,88.67 -21.43,88.85 C-23.14,89.02 -26.27,87.50 -27.54,86.80 C-28.80,86.11 -28.51,85.74 -29.01,84.67 C-29.52,83.60 -30.77,81.76 -30.56,80.38 C-30.36,79.01 -29.01,77.08 -27.79,76.43 C-26.57,75.77 -24.66,76.18 -23.25,76.47 C-21.83,76.76 -20.62,77.01 -19.30,78.14 C-17.97,79.28 -15.64,82.00 -15.31,83.27Z" fill="#e0f8a0"/><path d="M29.52,81.88 C29.41,83.69 30.73,85.67 29.68,86.83 C28.64,88.00 24.89,88.85 23.24,88.85 C21.59,88.84 20.65,87.41 19.76,86.81 C18.87,86.21 18.27,86.54 17.88,85.25 C17.48,83.97 17.07,80.86 17.40,79.10 C17.74,77.34 18.78,75.30 19.89,74.72 C21.01,74.14 22.34,75.42 24.08,75.62 C25.81,75.83 29.40,74.92 30.31,75.96 C31.21,77.01 29.62,80.07 29.52,81.88Z" fill="#e0f8a0"/>
<path d="M-23.44,86.05 C-23.44,86.82 -24.80,87.41 -25.32,88.00 C-25.84,88.59 -25.94,89.43 -26.59,89.57 C-27.24,89.72 -28.54,89.27 -29.21,88.89 C-29.87,88.52 -30.23,88.12 -30.58,87.33 C-30.92,86.53 -31.46,84.96 -31.26,84.13 C-31.06,83.31 -30.16,82.84 -29.37,82.37 C-28.59,81.90 -27.22,81.15 -26.55,81.32 C-25.87,81.49 -25.84,82.60 -25.32,83.38 C-24.80,84.17 -23.44,85.28 -23.44,86.05Z" fill="#fffbd0"/><path d="M32.01,85.00 C32.25,86.16 31.62,88.55 31.05,89.32 C30.48,90.09 29.33,89.77 28.58,89.63 C27.83,89.49 27.34,89.00 26.56,88.48 C25.77,87.96 24.35,87.25 23.86,86.53 C23.38,85.80 23.20,84.99 23.66,84.14 C24.11,83.29 25.82,82.15 26.62,81.45 C27.41,80.75 27.91,79.77 28.41,79.92 C28.91,80.07 28.99,81.52 29.59,82.36 C30.19,83.21 31.77,83.84 32.01,85.00Z" fill="#fffbd0"/>
<path d="M-11.40,74.84 C-11.53,75.92 -12.38,77.81 -12.91,78.43 C-13.44,79.05 -13.85,78.53 -14.57,78.54 C-15.28,78.55 -16.49,78.92 -17.19,78.49 C-17.90,78.05 -18.29,76.80 -18.78,75.94 C-19.28,75.09 -20.18,74.18 -20.17,73.34 C-20.15,72.50 -19.64,71.45 -18.69,70.90 C-17.74,70.36 -15.54,69.90 -14.45,70.08 C-13.36,70.26 -12.65,71.19 -12.14,71.98 C-11.63,72.77 -11.27,73.77 -11.40,74.84Z" fill="#d8f050"/><path d="M18.90,75.53 C18.93,76.45 20.07,77.24 19.62,77.92 C19.17,78.60 17.21,79.39 16.20,79.60 C15.19,79.81 14.29,79.58 13.57,79.18 C12.84,78.78 12.04,78.04 11.87,77.21 C11.70,76.37 12.21,75.26 12.52,74.19 C12.83,73.13 13.18,71.55 13.74,70.82 C14.31,70.09 14.95,69.55 15.90,69.82 C16.85,70.09 18.96,71.48 19.47,72.43 C19.97,73.38 18.88,74.62 18.90,75.53Z" fill="#d8f050"/>
<path d="M-29.83,84.72 C-30.04,85.16 -32.18,86.11 -33.05,86.57 C-33.92,87.03 -34.18,87.38 -35.04,87.48 C-35.90,87.57 -37.32,87.42 -38.20,87.13 C-39.08,86.85 -39.79,86.19 -40.32,85.79 C-40.85,85.38 -41.62,85.16 -41.38,84.71 C-41.14,84.26 -40.10,83.49 -38.88,83.09 C-37.67,82.70 -35.29,82.20 -34.10,82.35 C-32.92,82.49 -32.49,83.54 -31.77,83.94 C-31.06,84.34 -29.61,84.28 -29.83,84.72Z" fill="#ffc020"/><path d="M42.06,85.04 C41.91,85.52 42.11,85.90 41.34,86.46 C40.56,87.03 38.88,88.27 37.41,88.43 C35.94,88.58 33.84,87.82 32.51,87.39 C31.17,86.96 29.49,86.40 29.40,85.85 C29.31,85.29 31.42,84.51 31.99,84.05 C32.55,83.59 31.93,83.34 32.79,83.09 C33.66,82.83 35.61,82.43 37.19,82.51 C38.77,82.59 41.45,83.13 42.27,83.55 C43.08,83.97 42.22,84.55 42.06,85.04Z" fill="#ffc020"/>
<rect x="-4.00" y="38.00" width="8.00" height="12.00" fill="#8a4cb0"/>
<rect x="-4.00" y="50.00" width="8.00" height="12.00" fill="#e060e8"/>
<rect x="-4.00" y="62.00" width="8.00" height="5.00" fill="#60a8f0"/>
<rect x="-4.00" y="67.00" width="8.00" height="19.70" fill="#ffc020"/>
<rect x="-4.00" y="86.70" width="8.00" height="5.30" fill="#503070"/>
</g></g>
<g clip-path="url(#fmclip)">
<path d="M-29.50,4.40 C-28.92,4.43 -27.58,4.40 -26.00,4.60 C-24.42,4.80 -21.83,5.20 -20.00,5.60 C-18.17,6.00 -16.67,6.43 -15.00,7.00 C-13.33,7.57 -11.50,8.30 -10.00,9.00 C-8.50,9.70 -7.25,10.50 -6.00,11.20 C-4.75,11.90 -3.50,12.77 -2.50,13.20 C-1.50,13.63 -0.83,13.80 0.00,13.80 C0.83,13.80 1.50,13.63 2.50,13.20 C3.50,12.77 4.75,11.90 6.00,11.20 C7.25,10.50 8.50,9.70 10.00,9.00 C11.50,8.30 13.33,7.57 15.00,7.00 C16.67,6.43 18.17,6.00 20.00,5.60 C21.83,5.20 24.42,4.80 26.00,4.60 C27.58,4.40 28.92,4.43 29.50,4.40" class="ln"/>
<path d="M-29.80,8.00 C-28.83,7.93 -26.07,7.18 -24.00,7.60 C-21.93,8.02 -19.23,9.47 -17.40,10.50 C-15.57,11.53 -14.23,12.77 -13.00,13.80 C-11.77,14.83 -11.08,15.67 -10.00,16.70 C-8.92,17.73 -7.53,18.98 -6.50,20.00 C-5.47,21.02 -4.88,21.93 -3.80,22.80 C-2.72,23.67 -1.27,25.20 0.00,25.20 C1.27,25.20 2.72,23.67 3.80,22.80 C4.88,21.93 5.47,21.02 6.50,20.00 C7.53,18.98 8.92,17.73 10.00,16.70 C11.08,15.67 11.77,14.83 13.00,13.80 C14.23,12.77 15.57,11.53 17.40,10.50 C19.23,9.47 21.93,8.02 24.00,7.60 C26.07,7.18 28.83,7.93 29.80,8.00" class="ln"/>
<path d="M-44.00,20.30 C-42.83,20.23 -39.00,19.85 -37.00,19.90 C-35.00,19.95 -33.42,20.28 -32.00,20.60 C-30.58,20.92 -30.00,21.12 -28.50,21.80 C-27.00,22.48 -24.65,23.70 -23.00,24.70 C-21.35,25.70 -20.27,26.75 -18.60,27.80 C-16.93,28.85 -14.63,29.98 -13.00,31.00 C-11.37,32.02 -10.05,32.93 -8.80,33.90 C-7.55,34.87 -6.47,35.92 -5.50,36.80 C-4.53,37.68 -3.92,38.50 -3.00,39.20 C-2.08,39.90 -1.00,41.00 0.00,41.00 C1.00,41.00 2.08,39.90 3.00,39.20 C3.92,38.50 4.53,37.68 5.50,36.80 C6.47,35.92 7.55,34.87 8.80,33.90 C10.05,32.93 11.37,32.02 13.00,31.00 C14.63,29.98 16.93,28.85 18.60,27.80 C20.27,26.75 21.35,25.70 23.00,24.70 C24.65,23.70 27.00,22.48 28.50,21.80 C30.00,21.12 30.58,20.92 32.00,20.60 C33.42,20.28 35.00,19.95 37.00,19.90 C39.00,19.85 42.83,20.23 44.00,20.30" class="ln"/>
<path d="M-50.00,38.60 C-49.58,38.63 -49.17,38.57 -47.50,38.80 C-45.83,39.03 -42.75,39.65 -40.00,40.00 C-37.25,40.35 -33.67,40.68 -31.00,40.90 C-28.33,41.12 -26.07,41.22 -24.00,41.30 C-21.93,41.38 -20.60,41.37 -18.60,41.40 C-16.60,41.43 -14.05,41.45 -12.00,41.50 C-9.95,41.55 -8.30,41.62 -6.30,41.70 C-4.30,41.78 -2.10,42.00 0.00,42.00 C2.10,42.00 4.30,41.78 6.30,41.70 C8.30,41.62 9.95,41.55 12.00,41.50 C14.05,41.45 16.60,41.43 18.60,41.40 C20.60,41.37 21.93,41.38 24.00,41.30 C26.07,41.22 28.33,41.12 31.00,40.90 C33.67,40.68 37.25,40.35 40.00,40.00 C42.75,39.65 45.83,39.03 47.50,38.80 C49.17,38.57 49.58,38.63 50.00,38.60" class="ln"/>
<path d="M-48.00,51.30 C-47.33,51.30 -45.83,51.18 -44.00,51.30 C-42.17,51.42 -39.18,51.70 -37.00,52.00 C-34.82,52.30 -33.07,52.70 -30.90,53.10 C-28.73,53.50 -26.05,53.98 -24.00,54.40 C-21.95,54.82 -20.60,55.23 -18.60,55.60 C-16.60,55.97 -14.05,56.28 -12.00,56.60 C-9.95,56.92 -7.25,57.35 -6.30,57.50" class="ln"/>
<path d="M48.00,51.30 C47.33,51.30 45.83,51.18 44.00,51.30 C42.17,51.42 39.18,51.70 37.00,52.00 C34.82,52.30 33.07,52.70 30.90,53.10 C28.73,53.50 26.05,53.98 24.00,54.40 C21.95,54.82 20.60,55.23 18.60,55.60 C16.60,55.97 14.05,56.28 12.00,56.60 C9.95,56.92 7.25,57.35 6.30,57.50" class="ln"/>
<path d="M-49.00,63.50 C-48.63,63.50 -48.18,63.98 -46.80,63.50 C-45.42,63.02 -43.35,61.22 -40.70,60.60 C-38.05,59.98 -33.68,59.77 -30.90,59.80 C-28.12,59.83 -26.05,60.35 -24.00,60.80 C-21.95,61.25 -20.60,61.93 -18.60,62.50 C-16.60,63.07 -13.85,63.85 -12.00,64.20 C-10.15,64.55 -8.25,64.53 -7.50,64.60" class="ln"/>
<path d="M49.00,63.50 C48.63,63.50 48.18,63.98 46.80,63.50 C45.42,63.02 43.35,61.22 40.70,60.60 C38.05,59.98 33.68,59.77 30.90,59.80 C28.12,59.83 26.05,60.35 24.00,60.80 C21.95,61.25 20.60,61.93 18.60,62.50 C16.60,63.07 13.85,63.85 12.00,64.20 C10.15,64.55 8.25,64.53 7.50,64.60" class="ln"/>
<path d="M-46.00,71.80 C-45.53,71.73 -44.70,71.87 -43.20,71.40 C-41.70,70.93 -39.05,69.58 -37.00,69.00 C-34.95,68.42 -33.07,68.07 -30.90,67.90 C-28.73,67.73 -26.05,67.80 -24.00,68.00 C-21.95,68.20 -20.27,68.57 -18.60,69.10 C-16.93,69.63 -15.43,70.27 -14.00,71.20 C-12.57,72.13 -10.67,74.12 -10.00,74.70" class="ln"/>
<path d="M46.00,71.80 C45.53,71.73 44.70,71.87 43.20,71.40 C41.70,70.93 39.05,69.58 37.00,69.00 C34.95,68.42 33.07,68.07 30.90,67.90 C28.73,67.73 26.05,67.80 24.00,68.00 C21.95,68.20 20.27,68.57 18.60,69.10 C16.93,69.63 15.43,70.27 14.00,71.20 C12.57,72.13 10.67,74.12 10.00,74.70" class="ln"/>
<path d="M-30.50,83.50 C-29.92,82.83 -28.25,80.67 -27.00,79.50 C-25.75,78.33 -24.20,77.30 -23.00,76.50 C-21.80,75.70 -20.97,75.42 -19.80,74.70 C-18.63,73.98 -17.13,72.88 -16.00,72.20 C-14.87,71.52 -13.50,70.87 -13.00,70.60" class="ln"/>
<path d="M30.50,83.50 C29.92,82.83 28.25,80.67 27.00,79.50 C25.75,78.33 24.20,77.30 23.00,76.50 C21.80,75.70 20.97,75.42 19.80,74.70 C18.63,73.98 17.13,72.88 16.00,72.20 C14.87,71.52 13.50,70.87 13.00,70.60" class="ln"/>
</g></g>
<g transform="translate(306.50,21.10) scale(1.005,1.000)">
<g clip-path="url(#fmclip)"><g filter="url(#rough2)">
<path d="M-70.00,-10.00 L70.00,-10.00 L70.00,4.40 L29.50,4.40 L26.00,4.60 L20.00,5.60 L15.00,7.00 L10.00,9.00 L6.00,11.20 L2.50,13.20 L0.00,13.80 L-2.50,13.20 L-6.00,11.20 L-10.00,9.00 L-15.00,7.00 L-20.00,5.60 L-26.00,4.60 L-29.50,4.40 L-70.00,4.40Z" fill="#60a8f0"/>
<path d="M-70.00,4.40 L-29.50,4.40 L-26.00,4.60 L-20.00,5.60 L-15.00,7.00 L-10.00,9.00 L-6.00,11.20 L-2.50,13.20 L0.00,13.80 L2.50,13.20 L6.00,11.20 L10.00,9.00 L15.00,7.00 L20.00,5.60 L26.00,4.60 L29.50,4.40 L70.00,4.40 L70.00,8.00 L29.80,8.00 L24.00,7.60 L17.40,10.50 L13.00,13.80 L10.00,16.70 L6.50,20.00 L3.80,22.80 L0.00,25.20 L-3.80,22.80 L-6.50,20.00 L-10.00,16.70 L-13.00,13.80 L-17.40,10.50 L-24.00,7.60 L-29.80,8.00 L-70.00,8.00Z" fill="#60a8f0"/>
<path d="M-70.00,8.00 L-29.80,8.00 L-24.00,7.60 L-17.40,10.50 L-13.00,13.80 L-10.00,16.70 L-6.50,20.00 L-3.80,22.80 L0.00,25.20 L3.80,22.80 L6.50,20.00 L10.00,16.70 L13.00,13.80 L17.40,10.50 L24.00,7.60 L29.80,8.00 L70.00,8.00 L70.00,20.30 L44.00,20.30 L37.00,19.90 L32.00,20.60 L28.50,21.80 L23.00,24.70 L18.60,27.80 L13.00,31.00 L8.80,33.90 L5.50,36.80 L3.00,39.20 L0.00,41.00 L-3.00,39.20 L-5.50,36.80 L-8.80,33.90 L-13.00,31.00 L-18.60,27.80 L-23.00,24.70 L-28.50,21.80 L-32.00,20.60 L-37.00,19.90 L-44.00,20.30 L-70.00,20.30Z" fill="#60a8f0"/>
<path d="M-70.00,20.30 L-44.00,20.30 L-37.00,19.90 L-32.00,20.60 L-28.50,21.80 L-23.00,24.70 L-18.60,27.80 L-13.00,31.00 L-8.80,33.90 L-5.50,36.80 L-3.00,39.20 L0.00,41.00 L3.00,39.20 L5.50,36.80 L8.80,33.90 L13.00,31.00 L18.60,27.80 L23.00,24.70 L28.50,21.80 L32.00,20.60 L37.00,19.90 L44.00,20.30 L70.00,20.30 L70.00,38.60 L50.00,38.60 L47.50,38.80 L40.00,40.00 L31.00,40.90 L24.00,41.30 L18.60,41.40 L12.00,41.50 L6.30,41.70 L0.00,42.00 L-6.30,41.70 L-12.00,41.50 L-18.60,41.40 L-24.00,41.30 L-31.00,40.90 L-40.00,40.00 L-47.50,38.80 L-50.00,38.60 L-70.00,38.60Z" fill="#f050b0"/>
<path d="M-70.00,38.60 L-50.00,38.60 L-47.50,38.80 L-40.00,40.00 L-31.00,40.90 L-24.00,41.30 L-18.60,41.40 L-12.00,41.50 L-6.30,41.70 L0.00,42.00 L6.30,41.70 L12.00,41.50 L18.60,41.40 L24.00,41.30 L31.00,40.90 L40.00,40.00 L47.50,38.80 L50.00,38.60 L70.00,38.60 L70.00,51.30 L48.00,51.30 L44.00,51.30 L37.00,52.00 L30.90,53.10 L24.00,54.40 L18.60,55.60 L12.00,56.60 L6.30,57.50 L0.00,58.50 L-6.30,57.50 L-12.00,56.60 L-18.60,55.60 L-24.00,54.40 L-30.90,53.10 L-37.00,52.00 L-44.00,51.30 L-48.00,51.30 L-70.00,51.30Z" fill="#ff60c0"/>
<path d="M-70.00,51.30 L-48.00,51.30 L-44.00,51.30 L-37.00,52.00 L-30.90,53.10 L-24.00,54.40 L-18.60,55.60 L-12.00,56.60 L-6.30,57.50 L0.00,58.50 L6.30,57.50 L12.00,56.60 L18.60,55.60 L24.00,54.40 L30.90,53.10 L37.00,52.00 L44.00,51.30 L48.00,51.30 L70.00,51.30 L70.00,63.50 L49.00,63.50 L46.80,63.50 L40.70,60.60 L30.90,59.80 L24.00,60.80 L18.60,62.50 L12.00,64.20 L7.50,64.60 L0.00,65.60 L-7.50,64.60 L-12.00,64.20 L-18.60,62.50 L-24.00,60.80 L-30.90,59.80 L-40.70,60.60 L-46.80,63.50 L-49.00,63.50 L-70.00,63.50Z" fill="#c060f0"/>
<path d="M-70.00,63.50 L-49.00,63.50 L-46.80,63.50 L-40.70,60.60 L-30.90,59.80 L-24.00,60.80 L-18.60,62.50 L-12.00,64.20 L-7.50,64.60 L0.00,65.60 L7.50,64.60 L12.00,64.20 L18.60,62.50 L24.00,60.80 L30.90,59.80 L40.70,60.60 L46.80,63.50 L49.00,63.50 L70.00,63.50 L70.00,71.80 L46.00,71.80 L43.20,71.40 L37.00,69.00 L30.90,67.90 L24.00,68.00 L18.60,69.10 L14.00,71.20 L10.00,74.70 L0.00,75.70 L-10.00,74.70 L-14.00,71.20 L-18.60,69.10 L-24.00,68.00 L-30.90,67.90 L-37.00,69.00 L-43.20,71.40 L-46.00,71.80 L-70.00,71.80Z" fill="#60a8f0"/>
<path d="M-70.00,71.80 L-46.00,71.80 L-43.20,71.40 L-37.00,69.00 L-30.90,67.90 L-24.00,68.00 L-18.60,69.10 L-14.00,71.20 L-10.00,74.70 L0.00,75.70 L10.00,74.70 L14.00,71.20 L18.60,69.10 L24.00,68.00 L30.90,67.90 L37.00,69.00 L43.20,71.40 L46.00,71.80 L70.00,71.80 L70.00,100.00 L-70.00,100.00Z" fill="#60b0f0"/>
<path d="M2.16,9.09 C2.25,9.60 2.61,10.05 2.21,10.53 C1.81,11.02 0.40,11.79 -0.27,12.00 C-0.93,12.20 -1.36,12.11 -1.81,11.76 C-2.25,11.41 -2.84,10.45 -2.92,9.89 C-3.00,9.34 -2.58,8.91 -2.29,8.43 C-1.99,7.96 -1.63,7.38 -1.15,7.05 C-0.67,6.71 0.13,6.35 0.60,6.42 C1.08,6.48 1.42,7.00 1.68,7.45 C1.94,7.90 2.07,8.58 2.16,9.09Z" fill="#50e080"/><path d="M2.29,8.71 C2.33,9.21 2.21,9.62 1.97,10.04 C1.73,10.47 1.41,11.04 0.86,11.26 C0.31,11.49 -0.84,11.59 -1.34,11.40 C-1.83,11.21 -1.97,10.66 -2.11,10.12 C-2.25,9.58 -2.31,8.70 -2.15,8.16 C-2.00,7.62 -1.64,7.11 -1.20,6.89 C-0.75,6.67 0.01,6.80 0.50,6.83 C0.99,6.86 1.42,6.76 1.72,7.07 C2.02,7.38 2.25,8.22 2.29,8.71Z" fill="#50e080"/>
<path d="M-16.30,15.97 C-16.23,16.80 -16.92,17.60 -17.76,18.25 C-18.61,18.90 -20.40,19.94 -21.36,19.86 C-22.32,19.78 -22.69,18.22 -23.51,17.76 C-24.33,17.31 -26.03,17.72 -26.26,17.14 C-26.48,16.57 -25.21,15.19 -24.85,14.30 C-24.48,13.41 -24.60,12.00 -24.05,11.81 C-23.50,11.61 -22.54,12.88 -21.56,13.12 C-20.58,13.36 -19.05,12.77 -18.17,13.24 C-17.29,13.72 -16.36,15.13 -16.30,15.97Z" fill="#6060e0"/><path d="M27.03,15.12 C26.96,15.91 25.37,17.03 24.61,17.82 C23.86,18.61 23.35,19.79 22.48,19.86 C21.60,19.93 20.54,18.82 19.37,18.23 C18.21,17.63 15.89,16.84 15.50,16.28 C15.11,15.72 16.60,15.54 17.03,14.85 C17.46,14.17 17.16,12.62 18.09,12.18 C19.03,11.74 21.52,12.06 22.66,12.22 C23.81,12.38 24.26,12.64 24.99,13.13 C25.72,13.61 27.09,14.34 27.03,15.12Z" fill="#6060e0"/>
<path d="M-3.99,19.85 C-4.07,20.51 -6.24,21.80 -7.22,22.55 C-8.20,23.29 -8.68,24.15 -9.85,24.34 C-11.02,24.53 -13.50,24.20 -14.26,23.68 C-15.02,23.15 -14.28,21.81 -14.41,21.18 C-14.54,20.54 -15.33,20.46 -15.01,19.87 C-14.69,19.28 -13.25,18.07 -12.46,17.65 C-11.68,17.23 -11.26,17.20 -10.31,17.36 C-9.36,17.52 -7.79,18.20 -6.74,18.62 C-5.69,19.03 -3.91,19.20 -3.99,19.85Z" fill="#8888f0"/><path d="M17.16,20.18 C17.13,20.71 15.21,21.55 14.16,22.00 C13.12,22.45 11.86,22.50 10.89,22.88 C9.91,23.26 9.45,24.52 8.31,24.28 C7.17,24.03 4.43,22.14 4.04,21.43 C3.64,20.72 5.30,20.81 5.92,20.02 C6.54,19.23 6.84,17.17 7.75,16.70 C8.67,16.23 10.29,16.83 11.39,17.18 C12.48,17.54 13.34,18.35 14.30,18.85 C15.26,19.35 17.18,19.66 17.16,20.18Z" fill="#8888f0"/>
<path d="M-15.30,22.40 C-15.21,23.31 -16.65,23.73 -17.76,24.45 C-18.88,25.17 -20.46,26.35 -21.97,26.71 C-23.49,27.08 -25.81,27.04 -26.88,26.63 C-27.94,26.23 -28.00,25.40 -28.39,24.30 C-28.77,23.19 -29.57,21.09 -29.19,20.01 C-28.82,18.93 -27.38,18.17 -26.13,17.84 C-24.88,17.50 -23.01,17.81 -21.71,18.00 C-20.41,18.18 -19.39,18.22 -18.33,18.95 C-17.26,19.69 -15.40,21.48 -15.30,22.40Z" fill="#e050f0"/><path d="M30.34,21.60 C30.65,22.54 28.91,25.00 27.69,25.84 C26.47,26.67 24.14,26.70 23.00,26.61 C21.85,26.51 21.59,25.73 20.81,25.28 C20.04,24.83 19.03,24.60 18.36,23.92 C17.68,23.25 16.59,21.89 16.76,21.22 C16.94,20.56 18.15,20.38 19.41,19.93 C20.67,19.47 23.24,18.47 24.31,18.51 C25.38,18.55 24.83,19.66 25.84,20.17 C26.84,20.69 30.03,20.66 30.34,21.60Z" fill="#e050f0"/>
<path d="M-6.52,21.45 C-6.66,22.14 -5.39,22.96 -5.77,23.48 C-6.16,24.00 -7.54,24.46 -8.83,24.54 C-10.12,24.63 -12.55,24.42 -13.50,23.99 C-14.45,23.56 -13.95,22.52 -14.53,21.97 C-15.12,21.41 -17.18,21.11 -17.01,20.67 C-16.84,20.23 -14.67,19.60 -13.50,19.33 C-12.33,19.07 -11.42,19.07 -9.98,19.07 C-8.55,19.07 -5.48,18.96 -4.90,19.35 C-4.33,19.75 -6.37,20.76 -6.52,21.45Z" fill="#60a8f0"/><path d="M15.10,21.92 C15.02,22.87 14.81,23.82 14.16,24.15 C13.50,24.49 12.24,23.84 11.15,23.92 C10.07,24.00 8.41,24.83 7.63,24.65 C6.85,24.47 6.75,23.64 6.48,22.83 C6.20,22.03 5.73,20.37 5.99,19.83 C6.24,19.29 7.01,19.87 8.03,19.59 C9.05,19.31 11.03,18.34 12.12,18.15 C13.22,17.97 14.11,17.87 14.60,18.50 C15.10,19.13 15.17,20.98 15.10,21.92Z" fill="#60a8f0"/>
<path d="M-1.60,33.04 C-1.70,34.98 -1.96,37.65 -2.55,38.69 C-3.14,39.72 -4.24,38.96 -5.13,39.24 C-6.03,39.52 -6.98,40.76 -7.92,40.37 C-8.86,39.97 -10.46,38.65 -10.78,36.88 C-11.10,35.12 -10.33,31.50 -9.82,29.77 C-9.32,28.05 -8.51,27.29 -7.74,26.52 C-6.98,25.74 -6.20,25.03 -5.24,25.12 C-4.27,25.21 -2.57,25.73 -1.96,27.05 C-1.35,28.37 -1.50,31.10 -1.60,33.04Z" fill="#8048a8"/><path d="M11.01,33.77 C11.27,35.08 11.57,35.92 10.69,37.57 C9.80,39.21 6.88,42.97 5.72,43.63 C4.57,44.30 4.37,42.93 3.78,41.57 C3.18,40.22 2.76,37.65 2.18,35.49 C1.60,33.32 0.11,29.92 0.28,28.59 C0.45,27.26 2.14,28.05 3.21,27.51 C4.29,26.97 5.74,25.00 6.73,25.37 C7.72,25.73 8.45,28.30 9.16,29.70 C9.88,31.09 10.76,32.45 11.01,33.77Z" fill="#8048a8"/>
<path d="M0.04,23.76 C0.05,24.20 -0.08,25.01 -0.28,25.30 C-0.49,25.59 -0.95,25.55 -1.21,25.51 C-1.47,25.47 -1.71,25.26 -1.87,25.06 C-2.03,24.87 -2.15,24.62 -2.17,24.34 C-2.20,24.06 -2.06,23.71 -2.03,23.39 C-2.00,23.08 -2.14,22.51 -1.98,22.43 C-1.82,22.35 -1.34,22.87 -1.07,22.91 C-0.80,22.94 -0.54,22.50 -0.36,22.64 C-0.17,22.78 0.02,23.32 0.04,23.76Z" fill="#50e080"/><path d="M2.37,23.99 C2.41,24.27 2.41,24.63 2.26,24.87 C2.11,25.11 1.78,25.37 1.47,25.45 C1.15,25.52 0.66,25.48 0.39,25.34 C0.12,25.19 -0.05,24.89 -0.15,24.57 C-0.25,24.25 -0.31,23.72 -0.21,23.41 C-0.10,23.09 0.19,22.82 0.46,22.67 C0.73,22.52 1.15,22.43 1.41,22.52 C1.66,22.60 1.84,22.93 2.00,23.18 C2.16,23.42 2.33,23.71 2.37,23.99Z" fill="#50e080"/>
<path d="M-32.33,26.20 C-32.44,27.09 -34.43,26.98 -35.70,27.59 C-36.96,28.19 -38.13,29.49 -39.93,29.84 C-41.73,30.19 -44.77,30.27 -46.49,29.69 C-48.21,29.11 -50.18,27.28 -50.26,26.36 C-50.34,25.43 -48.00,25.04 -46.95,24.16 C-45.89,23.28 -45.31,21.74 -43.92,21.07 C-42.54,20.39 -40.11,19.91 -38.64,20.11 C-37.16,20.31 -36.10,21.24 -35.05,22.25 C-34.00,23.27 -32.22,25.31 -32.33,26.20Z" fill="#d02080"/><path d="M50.55,24.62 C50.51,25.49 47.68,26.39 46.22,27.52 C44.77,28.65 43.67,31.13 41.84,31.40 C40.00,31.66 36.44,29.87 35.24,29.10 C34.04,28.33 35.37,27.60 34.64,26.80 C33.92,25.99 30.59,25.26 30.90,24.28 C31.21,23.31 34.81,21.71 36.48,20.95 C38.15,20.18 39.26,19.47 40.93,19.70 C42.59,19.93 44.85,21.49 46.45,22.31 C48.06,23.13 50.59,23.75 50.55,24.62Z" fill="#d02080"/>
<path d="M-47.50,25.68 C-47.51,26.48 -47.89,27.94 -48.40,28.51 C-48.90,29.09 -49.79,29.04 -50.53,29.13 C-51.28,29.21 -52.35,29.41 -52.86,29.01 C-53.38,28.60 -53.49,27.27 -53.63,26.68 C-53.77,26.09 -53.92,25.90 -53.69,25.46 C-53.46,25.03 -52.78,24.53 -52.26,24.07 C-51.74,23.60 -51.23,22.73 -50.57,22.67 C-49.91,22.61 -48.82,23.21 -48.31,23.71 C-47.80,24.21 -47.48,24.88 -47.50,25.68Z" fill="#60a8f0"/><path d="M53.62,25.99 C53.63,26.70 54.24,28.26 53.98,28.58 C53.72,28.91 52.73,27.86 52.05,27.93 C51.37,28.00 50.54,29.07 49.90,29.01 C49.25,28.95 48.34,28.24 48.19,27.59 C48.04,26.94 48.74,25.92 49.00,25.11 C49.26,24.30 49.30,23.17 49.75,22.74 C50.20,22.32 51.04,22.30 51.73,22.56 C52.42,22.83 53.57,23.75 53.89,24.33 C54.20,24.90 53.60,25.28 53.62,25.99Z" fill="#60a8f0"/>
<path d="M-24.91,21.42 C-24.77,21.82 -24.95,22.54 -25.67,23.08 C-26.38,23.61 -27.89,24.43 -29.21,24.64 C-30.53,24.85 -32.35,24.60 -33.58,24.32 C-34.81,24.04 -36.09,23.49 -36.60,22.96 C-37.11,22.43 -37.10,21.65 -36.63,21.12 C-36.16,20.59 -34.98,20.06 -33.77,19.79 C-32.56,19.51 -30.57,19.34 -29.36,19.49 C-28.16,19.63 -27.27,20.34 -26.53,20.66 C-25.79,20.99 -25.06,21.02 -24.91,21.42Z" fill="#e050f0"/><path d="M35.85,21.75 C36.09,22.23 36.09,23.06 35.55,23.49 C35.02,23.93 34.08,24.33 32.64,24.37 C31.20,24.42 28.36,24.00 26.94,23.78 C25.51,23.57 24.62,23.63 24.11,23.10 C23.60,22.57 23.18,21.21 23.85,20.60 C24.52,19.99 26.87,19.58 28.15,19.42 C29.44,19.26 30.59,19.41 31.59,19.61 C32.58,19.82 33.43,20.29 34.14,20.65 C34.86,21.01 35.62,21.28 35.85,21.75Z" fill="#e050f0"/>
<path d="M-32.76,34.65 C-32.52,35.68 -35.72,36.64 -37.33,37.27 C-38.94,37.91 -40.66,38.21 -42.43,38.47 C-44.19,38.72 -46.44,39.11 -47.91,38.80 C-49.38,38.49 -50.71,37.41 -51.24,36.60 C-51.76,35.80 -51.15,35.20 -51.06,33.95 C-50.97,32.70 -52.39,29.88 -50.70,29.10 C-49.01,28.32 -42.91,28.96 -40.92,29.29 C-38.94,29.61 -40.16,30.17 -38.80,31.06 C-37.44,31.96 -33.01,33.61 -32.76,34.65Z" fill="#f050b0"/><path d="M52.88,35.38 C52.44,36.41 50.18,37.42 49.15,38.01 C48.13,38.60 48.73,38.72 46.73,38.93 C44.73,39.15 38.56,39.68 37.15,39.28 C35.73,38.88 38.16,37.53 38.26,36.52 C38.35,35.51 37.37,34.51 37.72,33.21 C38.08,31.91 39.11,29.27 40.40,28.74 C41.68,28.22 43.54,29.57 45.43,30.08 C47.33,30.60 50.54,30.95 51.78,31.83 C53.02,32.71 53.32,34.35 52.88,35.38Z" fill="#f050b0"/>
<path d="M-22.99,33.53 C-23.12,34.10 -24.26,34.83 -25.28,35.53 C-26.30,36.23 -27.74,37.60 -29.10,37.76 C-30.46,37.91 -32.06,36.74 -33.41,36.48 C-34.77,36.21 -36.61,36.95 -37.21,36.19 C-37.81,35.43 -37.75,32.66 -36.99,31.92 C-36.24,31.17 -34.20,31.97 -32.65,31.74 C-31.11,31.50 -29.07,30.44 -27.71,30.51 C-26.35,30.57 -25.28,31.63 -24.50,32.13 C-23.71,32.63 -22.86,32.97 -22.99,33.53Z" fill="#c8f040"/><path d="M34.91,34.29 C35.24,35.05 35.73,35.89 35.26,36.44 C34.79,36.98 33.65,37.43 32.09,37.56 C30.53,37.69 27.66,37.61 25.88,37.23 C24.11,36.85 21.76,36.05 21.44,35.26 C21.13,34.47 23.13,33.32 23.99,32.49 C24.86,31.66 25.47,30.53 26.64,30.29 C27.80,30.04 29.88,30.77 30.98,31.04 C32.09,31.30 32.59,31.34 33.25,31.88 C33.90,32.43 34.57,33.53 34.91,34.29Z" fill="#c8f040"/>
<path d="M-9.42,32.06 C-9.27,33.51 -7.10,36.01 -7.89,37.04 C-8.68,38.07 -12.49,38.17 -14.18,38.24 C-15.86,38.32 -16.77,38.14 -17.99,37.50 C-19.22,36.85 -20.78,35.82 -21.50,34.35 C-22.22,32.89 -22.76,29.86 -22.32,28.72 C-21.88,27.59 -20.18,28.25 -18.89,27.56 C-17.60,26.87 -16.28,24.43 -14.59,24.56 C-12.91,24.69 -9.64,27.09 -8.77,28.34 C-7.91,29.59 -9.57,30.60 -9.42,32.06Z" fill="#ffc020"/><path d="M22.93,31.81 C22.73,33.03 21.44,34.89 20.20,35.77 C18.96,36.65 17.33,36.68 15.48,37.11 C13.63,37.54 10.47,38.55 9.11,38.38 C7.75,38.21 7.64,37.64 7.31,36.09 C6.97,34.54 6.18,30.47 7.12,29.09 C8.05,27.71 11.66,28.44 12.91,27.81 C14.16,27.17 13.22,25.18 14.63,25.29 C16.04,25.40 19.98,27.38 21.36,28.47 C22.74,29.55 23.12,30.59 22.93,31.81Z" fill="#ffc020"/>
<path d="M-26.27,34.87 C-26.18,35.37 -26.30,36.44 -26.58,36.80 C-26.86,37.17 -27.53,37.08 -27.97,37.06 C-28.41,37.04 -28.76,36.87 -29.23,36.70 C-29.70,36.52 -30.59,36.44 -30.79,36.00 C-31.00,35.56 -30.68,34.46 -30.48,34.06 C-30.27,33.65 -29.88,33.70 -29.55,33.59 C-29.21,33.47 -28.89,33.34 -28.48,33.37 C-28.07,33.41 -27.45,33.56 -27.08,33.81 C-26.71,34.06 -26.35,34.37 -26.27,34.87Z" fill="#fff0d0"/><path d="M30.90,34.69 C30.79,35.02 30.03,35.79 29.65,36.15 C29.27,36.51 28.96,36.80 28.60,36.85 C28.24,36.89 27.83,36.61 27.50,36.41 C27.16,36.21 26.76,36.01 26.60,35.63 C26.43,35.26 26.30,34.54 26.51,34.17 C26.72,33.81 27.48,33.57 27.83,33.46 C28.19,33.35 28.25,33.38 28.65,33.50 C29.06,33.61 29.91,33.95 30.28,34.14 C30.65,34.34 31.00,34.35 30.90,34.69Z" fill="#fff0d0"/>
<path d="M-20.55,46.10 C-21.47,47.51 -25.35,48.62 -27.27,49.31 C-29.18,49.99 -30.04,50.04 -32.04,50.22 C-34.04,50.41 -36.94,51.00 -39.26,50.42 C-41.59,49.84 -44.97,47.99 -45.99,46.72 C-47.02,45.46 -46.19,43.89 -45.41,42.84 C-44.63,41.80 -43.41,40.92 -41.32,40.45 C-39.24,39.99 -36.14,39.97 -32.89,40.04 C-29.63,40.11 -23.83,39.87 -21.77,40.88 C-19.71,41.89 -19.63,44.70 -20.55,46.10Z" fill="#ff60c0"/><path d="M42.92,45.68 C43.11,47.02 44.08,49.18 42.84,50.33 C41.60,51.49 38.14,52.42 35.50,52.59 C32.86,52.76 29.41,51.99 27.01,51.36 C24.61,50.73 21.97,50.29 21.10,48.80 C20.24,47.31 20.67,43.74 21.82,42.42 C22.96,41.11 25.83,41.40 27.97,40.92 C30.11,40.44 32.36,39.32 34.65,39.55 C36.95,39.77 40.34,41.25 41.72,42.27 C43.10,43.29 42.74,44.34 42.92,45.68Z" fill="#ff60c0"/>
<path d="M-8.00,48.45 C-7.81,50.22 -8.50,52.74 -9.41,53.79 C-10.33,54.84 -11.73,55.11 -13.48,54.76 C-15.23,54.41 -18.57,52.48 -19.91,51.67 C-21.26,50.87 -20.95,50.91 -21.54,49.91 C-22.14,48.92 -23.79,46.75 -23.48,45.69 C-23.16,44.63 -20.97,44.07 -19.64,43.53 C-18.31,42.98 -17.02,42.47 -15.50,42.41 C-13.98,42.36 -11.79,42.17 -10.54,43.17 C-9.29,44.18 -8.19,46.68 -8.00,48.45Z" fill="#ffc020"/><path d="M22.94,48.89 C22.76,50.20 22.31,50.48 21.31,51.10 C20.31,51.72 18.37,52.46 16.93,52.62 C15.48,52.77 14.29,52.17 12.64,52.04 C10.98,51.91 7.47,52.84 7.00,51.84 C6.54,50.83 8.72,47.49 9.85,46.02 C10.97,44.55 12.42,43.54 13.75,43.01 C15.07,42.49 16.36,42.81 17.79,42.85 C19.22,42.89 21.48,42.25 22.34,43.26 C23.20,44.27 23.11,47.58 22.94,48.89Z" fill="#ffc020"/>
<path d="M-11.35,48.17 C-11.29,48.76 -11.24,49.84 -11.56,50.60 C-11.88,51.35 -12.72,52.42 -13.27,52.68 C-13.82,52.94 -14.41,52.50 -14.87,52.15 C-15.33,51.80 -15.78,51.40 -16.03,50.58 C-16.28,49.76 -16.67,47.94 -16.37,47.23 C-16.08,46.51 -14.73,46.58 -14.25,46.29 C-13.77,46.01 -13.88,45.41 -13.49,45.53 C-13.10,45.66 -12.27,46.59 -11.91,47.03 C-11.56,47.47 -11.41,47.58 -11.35,48.17Z" fill="#4050e8"/><path d="M16.29,48.07 C16.28,48.87 15.88,50.18 15.41,50.87 C14.94,51.56 13.99,51.96 13.48,52.22 C12.97,52.49 12.80,52.87 12.34,52.45 C11.89,52.03 10.96,50.60 10.75,49.69 C10.53,48.79 10.71,47.62 11.05,47.01 C11.39,46.39 12.24,46.26 12.77,46.02 C13.29,45.78 13.75,45.54 14.20,45.55 C14.65,45.56 15.11,45.66 15.45,46.08 C15.80,46.50 16.30,47.28 16.29,48.07Z" fill="#4050e8"/>
<path d="M-27.90,49.53 C-27.87,50.30 -27.71,51.24 -27.90,51.77 C-28.10,52.30 -28.58,52.71 -29.07,52.71 C-29.56,52.71 -30.25,52.17 -30.86,51.75 C-31.46,51.32 -32.40,50.71 -32.69,50.15 C-32.98,49.58 -32.81,49.03 -32.61,48.35 C-32.40,47.68 -31.91,46.35 -31.48,46.09 C-31.04,45.83 -30.54,46.62 -29.99,46.80 C-29.43,46.98 -28.47,46.71 -28.13,47.17 C-27.78,47.63 -27.94,48.77 -27.90,49.53Z" fill="#c8f040"/><path d="M32.72,49.40 C32.82,50.16 32.41,51.57 31.94,52.18 C31.48,52.79 30.51,52.99 29.94,53.06 C29.36,53.12 28.86,53.01 28.52,52.57 C28.17,52.14 28.05,51.04 27.88,50.44 C27.72,49.85 27.46,49.78 27.53,49.01 C27.60,48.24 27.80,46.35 28.31,45.82 C28.81,45.28 30.07,45.52 30.57,45.81 C31.07,46.10 30.96,46.98 31.32,47.58 C31.68,48.17 32.61,48.63 32.72,49.40Z" fill="#c8f040"/>
<path d="M-17.83,57.04 C-18.19,58.06 -23.31,58.28 -25.32,59.00 C-27.33,59.71 -27.24,61.11 -29.88,61.33 C-32.53,61.54 -38.51,60.93 -41.22,60.31 C-43.92,59.69 -45.83,58.58 -46.09,57.61 C-46.35,56.64 -44.01,55.29 -42.78,54.48 C-41.55,53.67 -41.18,53.06 -38.70,52.75 C-36.23,52.44 -30.51,52.59 -27.91,52.61 C-25.32,52.64 -24.81,52.17 -23.13,52.91 C-21.45,53.65 -17.46,56.03 -17.83,57.04Z" fill="#c060f0"/><path d="M40.09,56.88 C39.99,58.15 42.14,59.76 40.83,60.45 C39.53,61.14 34.97,60.89 32.28,61.00 C29.59,61.11 26.48,61.75 24.70,61.09 C22.92,60.44 22.47,58.16 21.58,57.07 C20.69,55.97 18.27,55.10 19.36,54.51 C20.46,53.92 25.92,53.76 28.15,53.53 C30.39,53.31 30.56,53.28 32.78,53.16 C34.99,53.04 40.22,52.20 41.44,52.82 C42.66,53.44 40.19,55.61 40.09,56.88Z" fill="#c060f0"/>
<path d="M-25.27,56.62 C-25.30,57.11 -24.79,57.79 -25.11,58.13 C-25.43,58.48 -26.43,58.69 -27.20,58.70 C-27.97,58.70 -29.19,58.42 -29.75,58.16 C-30.31,57.89 -30.28,57.43 -30.56,57.09 C-30.85,56.75 -31.63,56.45 -31.44,56.11 C-31.26,55.76 -30.04,55.26 -29.44,55.02 C-28.85,54.77 -28.64,54.60 -27.89,54.63 C-27.14,54.65 -25.36,54.85 -24.92,55.18 C-24.49,55.51 -25.24,56.13 -25.27,56.62Z" fill="#ffc020"/><path d="M31.11,56.58 C31.24,56.96 30.72,57.61 30.30,57.84 C29.88,58.07 29.23,57.98 28.61,57.97 C27.99,57.97 27.27,58.00 26.60,57.82 C25.93,57.64 24.91,57.20 24.57,56.90 C24.23,56.59 24.38,56.32 24.57,56.00 C24.76,55.68 25.05,55.17 25.73,54.98 C26.40,54.80 28.00,54.79 28.63,54.88 C29.26,54.97 29.10,55.25 29.51,55.54 C29.93,55.82 30.97,56.19 31.11,56.58Z" fill="#ffc020"/>
<path d="M-25.09,57.46 C-25.21,58.16 -27.54,58.09 -28.69,58.61 C-29.84,59.13 -30.86,60.53 -31.99,60.58 C-33.12,60.62 -34.31,59.27 -35.47,58.88 C-36.62,58.48 -38.56,58.70 -38.93,58.20 C-39.30,57.70 -38.20,56.56 -37.69,55.86 C-37.18,55.17 -36.94,54.29 -35.89,54.01 C-34.83,53.72 -32.67,54.09 -31.35,54.16 C-30.03,54.23 -29.02,53.86 -27.97,54.41 C-26.93,54.96 -24.97,56.76 -25.09,57.46Z" fill="#60a8f0"/><path d="M40.33,56.69 C40.26,57.16 38.28,57.85 37.09,58.40 C35.89,58.95 34.36,59.85 33.15,59.98 C31.95,60.12 30.94,59.55 29.88,59.22 C28.83,58.90 27.40,58.59 26.83,58.05 C26.26,57.50 26.20,56.60 26.47,55.97 C26.73,55.35 27.14,54.70 28.42,54.31 C29.71,53.91 32.68,53.40 34.20,53.61 C35.72,53.82 36.52,55.06 37.54,55.57 C38.56,56.09 40.41,56.22 40.33,56.69Z" fill="#60a8f0"/>
<path d="M-10.30,60.19 C-10.42,60.65 -11.75,60.84 -12.79,61.47 C-13.84,62.09 -15.25,63.69 -16.56,63.94 C-17.86,64.20 -19.18,63.49 -20.65,62.99 C-22.11,62.49 -24.99,61.62 -25.34,60.95 C-25.69,60.28 -23.57,59.57 -22.74,58.98 C-21.92,58.39 -21.49,57.58 -20.39,57.41 C-19.30,57.24 -17.54,57.76 -16.16,57.97 C-14.77,58.18 -13.04,58.31 -12.06,58.68 C-11.09,59.05 -10.17,59.72 -10.30,60.19Z" fill="#6060e8"/><path d="M23.76,59.97 C23.89,60.71 23.33,61.84 22.61,62.34 C21.89,62.84 20.93,62.79 19.41,62.96 C17.90,63.14 15.01,63.75 13.51,63.39 C12.00,63.03 11.02,61.64 10.39,60.79 C9.76,59.94 9.13,58.71 9.72,58.29 C10.32,57.86 12.45,58.54 13.95,58.24 C15.46,57.94 17.43,56.52 18.74,56.47 C20.06,56.41 20.99,57.32 21.83,57.91 C22.66,58.49 23.63,59.23 23.76,59.97Z" fill="#6060e8"/>
<path d="M-6.27,66.78 C-6.76,67.66 -13.95,68.93 -17.02,69.53 C-20.09,70.14 -22.29,70.37 -24.69,70.42 C-27.09,70.46 -28.32,70.08 -31.42,69.80 C-34.53,69.53 -41.88,69.46 -43.31,68.75 C-44.73,68.04 -40.69,66.51 -39.97,65.57 C-39.26,64.63 -41.30,63.33 -39.03,63.11 C-36.75,62.89 -30.46,64.05 -26.31,64.23 C-22.17,64.42 -17.48,63.80 -14.14,64.22 C-10.80,64.65 -5.79,65.89 -6.27,66.78Z" fill="#60a8f0"/><path d="M45.44,66.30 C46.37,67.08 42.75,68.78 40.40,69.65 C38.05,70.53 34.78,71.57 31.37,71.54 C27.96,71.52 23.17,69.94 19.95,69.49 C16.72,69.05 13.47,69.60 12.02,68.89 C10.58,68.17 10.44,66.09 11.27,65.21 C12.10,64.33 13.76,63.93 17.02,63.61 C20.27,63.28 27.81,63.05 30.78,63.27 C33.75,63.50 32.38,64.46 34.83,64.97 C37.27,65.47 44.52,65.52 45.44,66.30Z" fill="#60a8f0"/>
<path d="M-24.23,69.42 C-24.27,69.98 -24.19,70.66 -24.72,71.09 C-25.25,71.53 -26.62,71.97 -27.42,72.00 C-28.22,72.03 -28.80,71.60 -29.52,71.26 C-30.24,70.92 -31.30,70.40 -31.72,69.97 C-32.14,69.53 -32.47,69.05 -32.07,68.64 C-31.67,68.22 -30.09,67.73 -29.31,67.49 C-28.52,67.24 -28.14,67.13 -27.34,67.17 C-26.54,67.22 -25.02,67.38 -24.50,67.75 C-23.98,68.13 -24.20,68.86 -24.23,69.42Z" fill="#d050f0"/><path d="M30.95,69.54 C30.89,70.22 31.09,71.09 30.76,71.41 C30.42,71.73 29.60,71.53 28.93,71.45 C28.26,71.37 27.36,71.08 26.74,70.94 C26.13,70.81 25.56,71.14 25.21,70.66 C24.86,70.17 24.43,68.47 24.64,68.02 C24.85,67.58 25.84,68.21 26.46,67.97 C27.07,67.72 27.52,66.66 28.31,66.55 C29.09,66.45 30.71,66.82 31.15,67.32 C31.59,67.82 31.02,68.86 30.95,69.54Z" fill="#d050f0"/>
<path d="M-19.28,75.68 C-19.39,76.84 -23.14,77.83 -24.29,79.20 C-25.44,80.57 -24.26,83.74 -26.16,83.89 C-28.06,84.04 -33.57,81.16 -35.71,80.09 C-37.84,79.03 -37.58,78.94 -38.96,77.51 C-40.33,76.08 -44.37,72.54 -43.97,71.52 C-43.57,70.49 -38.64,71.90 -36.55,71.37 C-34.46,70.84 -33.61,68.19 -31.46,68.33 C-29.31,68.48 -25.66,71.01 -23.63,72.23 C-21.60,73.46 -19.17,74.52 -19.28,75.68Z" fill="#60b0f0"/><path d="M40.27,75.03 C40.77,76.56 41.11,78.75 40.18,80.08 C39.26,81.42 36.90,82.50 34.70,83.05 C32.50,83.59 28.80,84.16 27.01,83.34 C25.22,82.52 25.54,79.74 23.96,78.11 C22.37,76.47 16.81,74.75 17.52,73.51 C18.23,72.28 25.79,71.22 28.24,70.69 C30.68,70.17 30.68,70.35 32.17,70.38 C33.66,70.41 35.84,70.12 37.19,70.89 C38.54,71.67 39.77,73.50 40.27,75.03Z" fill="#60b0f0"/>
<path d="M-15.07,83.30 C-14.93,84.94 -14.80,87.84 -15.49,88.77 C-16.19,89.71 -17.80,88.81 -19.23,88.90 C-20.66,89.00 -22.83,89.88 -24.07,89.34 C-25.31,88.79 -26.21,86.95 -26.68,85.61 C-27.16,84.27 -27.48,82.48 -26.93,81.31 C-26.37,80.13 -24.45,79.13 -23.37,78.57 C-22.28,78.01 -21.58,77.88 -20.41,77.95 C-19.24,78.02 -17.22,78.08 -16.33,78.97 C-15.44,79.87 -15.21,81.67 -15.07,83.30Z" fill="#ff60c0"/><path d="M26.30,85.14 C26.04,86.73 24.77,87.24 24.03,87.98 C23.28,88.73 22.76,89.49 21.81,89.59 C20.85,89.70 19.42,89.30 18.30,88.63 C17.18,87.96 15.34,86.71 15.06,85.55 C14.79,84.39 15.94,82.56 16.63,81.67 C17.32,80.79 18.28,80.49 19.21,80.24 C20.14,79.99 21.17,80.49 22.24,80.19 C23.30,79.89 24.91,77.62 25.59,78.45 C26.27,79.27 26.56,83.55 26.30,85.14Z" fill="#ff60c0"/>
<path d="M-17.35,76.78 C-17.52,77.31 -17.60,77.90 -18.09,78.59 C-18.58,79.29 -19.52,80.79 -20.28,80.95 C-21.04,81.12 -21.91,80.07 -22.66,79.59 C-23.41,79.11 -24.53,78.63 -24.79,78.08 C-25.05,77.53 -24.53,76.83 -24.22,76.28 C-23.92,75.73 -23.52,75.21 -22.98,74.79 C-22.44,74.37 -21.98,73.64 -20.99,73.74 C-20.00,73.84 -17.66,74.89 -17.05,75.40 C-16.45,75.90 -17.18,76.25 -17.35,76.78Z" fill="#50e8c0"/><path d="M24.63,77.37 C24.81,78.01 25.87,79.13 25.53,79.60 C25.19,80.07 23.61,80.03 22.59,80.21 C21.58,80.38 20.38,80.95 19.43,80.64 C18.48,80.33 17.19,79.06 16.90,78.35 C16.62,77.63 17.33,77.07 17.73,76.34 C18.13,75.60 18.52,74.15 19.29,73.92 C20.06,73.69 21.48,74.65 22.35,74.96 C23.22,75.26 24.11,75.37 24.49,75.78 C24.87,76.18 24.46,76.74 24.63,77.37Z" fill="#50e8c0"/>
<path d="M-20.14,89.77 C-20.12,90.31 -19.85,90.62 -20.17,91.14 C-20.50,91.66 -21.60,92.65 -22.08,92.90 C-22.55,93.14 -22.76,92.98 -23.02,92.61 C-23.27,92.24 -23.39,91.38 -23.59,90.69 C-23.79,89.99 -24.24,89.07 -24.21,88.46 C-24.17,87.86 -23.83,87.13 -23.37,87.05 C-22.91,86.98 -21.96,87.89 -21.45,88.02 C-20.94,88.16 -20.53,87.59 -20.32,87.88 C-20.10,88.17 -20.17,89.23 -20.14,89.77Z" fill="#ffc020"/><path d="M23.96,89.70 C23.91,90.23 23.58,90.71 23.41,91.19 C23.24,91.67 23.43,92.32 22.93,92.55 C22.44,92.79 21.02,92.98 20.43,92.62 C19.85,92.26 19.50,91.02 19.41,90.39 C19.32,89.76 19.59,89.28 19.90,88.85 C20.21,88.43 20.83,88.04 21.29,87.85 C21.76,87.66 22.28,87.68 22.68,87.70 C23.08,87.72 23.47,87.65 23.68,87.99 C23.90,88.32 24.00,89.16 23.96,89.70Z" fill="#ffc020"/>
<path d="M-28.43,85.97 C-28.51,86.74 -28.97,87.84 -30.07,88.42 C-31.17,89.00 -33.68,89.44 -35.03,89.45 C-36.39,89.45 -37.01,88.80 -38.21,88.45 C-39.40,88.10 -41.48,88.02 -42.18,87.34 C-42.88,86.65 -43.21,85.05 -42.39,84.33 C-41.57,83.60 -38.66,83.18 -37.24,82.98 C-35.82,82.77 -35.17,82.95 -33.90,83.09 C-32.62,83.23 -30.50,83.34 -29.59,83.82 C-28.68,84.30 -28.35,85.21 -28.43,85.97Z" fill="#8040a0"/><path d="M41.70,85.39 C41.81,86.21 41.89,87.17 40.89,87.70 C39.90,88.22 37.26,88.46 35.72,88.55 C34.18,88.65 32.54,88.61 31.65,88.27 C30.76,87.92 30.66,87.10 30.39,86.49 C30.11,85.88 29.66,85.16 30.00,84.61 C30.34,84.06 31.53,83.58 32.42,83.18 C33.30,82.77 33.99,82.26 35.30,82.19 C36.61,82.13 39.20,82.25 40.27,82.78 C41.34,83.31 41.60,84.57 41.70,85.39Z" fill="#8040a0"/>
<rect x="-4.00" y="38.00" width="8.00" height="13.00" fill="#8048a8"/>
<rect x="-4.00" y="51.00" width="8.00" height="14.80" fill="#60c0f0"/>
<rect x="-2.00" y="55.00" width="4.00" height="7.00" fill="#50e080"/>
<rect x="-4.00" y="65.80" width="8.00" height="7.30" fill="#d02080"/>
<rect x="-4.00" y="73.10" width="8.00" height="18.90" fill="#8040a0"/>
</g></g>
<g clip-path="url(#fmclip)">
<path d="M-29.50,4.40 C-28.92,4.43 -27.58,4.40 -26.00,4.60 C-24.42,4.80 -21.83,5.20 -20.00,5.60 C-18.17,6.00 -16.67,6.43 -15.00,7.00 C-13.33,7.57 -11.50,8.30 -10.00,9.00 C-8.50,9.70 -7.25,10.50 -6.00,11.20 C-4.75,11.90 -3.50,12.77 -2.50,13.20 C-1.50,13.63 -0.83,13.80 0.00,13.80 C0.83,13.80 1.50,13.63 2.50,13.20 C3.50,12.77 4.75,11.90 6.00,11.20 C7.25,10.50 8.50,9.70 10.00,9.00 C11.50,8.30 13.33,7.57 15.00,7.00 C16.67,6.43 18.17,6.00 20.00,5.60 C21.83,5.20 24.42,4.80 26.00,4.60 C27.58,4.40 28.92,4.43 29.50,4.40" class="ln"/>
<path d="M-29.80,8.00 C-28.83,7.93 -26.07,7.18 -24.00,7.60 C-21.93,8.02 -19.23,9.47 -17.40,10.50 C-15.57,11.53 -14.23,12.77 -13.00,13.80 C-11.77,14.83 -11.08,15.67 -10.00,16.70 C-8.92,17.73 -7.53,18.98 -6.50,20.00 C-5.47,21.02 -4.88,21.93 -3.80,22.80 C-2.72,23.67 -1.27,25.20 0.00,25.20 C1.27,25.20 2.72,23.67 3.80,22.80 C4.88,21.93 5.47,21.02 6.50,20.00 C7.53,18.98 8.92,17.73 10.00,16.70 C11.08,15.67 11.77,14.83 13.00,13.80 C14.23,12.77 15.57,11.53 17.40,10.50 C19.23,9.47 21.93,8.02 24.00,7.60 C26.07,7.18 28.83,7.93 29.80,8.00" class="ln"/>
<path d="M-44.00,20.30 C-42.83,20.23 -39.00,19.85 -37.00,19.90 C-35.00,19.95 -33.42,20.28 -32.00,20.60 C-30.58,20.92 -30.00,21.12 -28.50,21.80 C-27.00,22.48 -24.65,23.70 -23.00,24.70 C-21.35,25.70 -20.27,26.75 -18.60,27.80 C-16.93,28.85 -14.63,29.98 -13.00,31.00 C-11.37,32.02 -10.05,32.93 -8.80,33.90 C-7.55,34.87 -6.47,35.92 -5.50,36.80 C-4.53,37.68 -3.92,38.50 -3.00,39.20 C-2.08,39.90 -1.00,41.00 0.00,41.00 C1.00,41.00 2.08,39.90 3.00,39.20 C3.92,38.50 4.53,37.68 5.50,36.80 C6.47,35.92 7.55,34.87 8.80,33.90 C10.05,32.93 11.37,32.02 13.00,31.00 C14.63,29.98 16.93,28.85 18.60,27.80 C20.27,26.75 21.35,25.70 23.00,24.70 C24.65,23.70 27.00,22.48 28.50,21.80 C30.00,21.12 30.58,20.92 32.00,20.60 C33.42,20.28 35.00,19.95 37.00,19.90 C39.00,19.85 42.83,20.23 44.00,20.30" class="ln"/>
<path d="M-50.00,38.60 C-49.58,38.63 -49.17,38.57 -47.50,38.80 C-45.83,39.03 -42.75,39.65 -40.00,40.00 C-37.25,40.35 -33.67,40.68 -31.00,40.90 C-28.33,41.12 -26.07,41.22 -24.00,41.30 C-21.93,41.38 -20.60,41.37 -18.60,41.40 C-16.60,41.43 -14.05,41.45 -12.00,41.50 C-9.95,41.55 -8.30,41.62 -6.30,41.70 C-4.30,41.78 -2.10,42.00 0.00,42.00 C2.10,42.00 4.30,41.78 6.30,41.70 C8.30,41.62 9.95,41.55 12.00,41.50 C14.05,41.45 16.60,41.43 18.60,41.40 C20.60,41.37 21.93,41.38 24.00,41.30 C26.07,41.22 28.33,41.12 31.00,40.90 C33.67,40.68 37.25,40.35 40.00,40.00 C42.75,39.65 45.83,39.03 47.50,38.80 C49.17,38.57 49.58,38.63 50.00,38.60" class="ln"/>
<path d="M-48.00,51.30 C-47.33,51.30 -45.83,51.18 -44.00,51.30 C-42.17,51.42 -39.18,51.70 -37.00,52.00 C-34.82,52.30 -33.07,52.70 -30.90,53.10 C-28.73,53.50 -26.05,53.98 -24.00,54.40 C-21.95,54.82 -20.60,55.23 -18.60,55.60 C-16.60,55.97 -14.05,56.28 -12.00,56.60 C-9.95,56.92 -7.25,57.35 -6.30,57.50" class="ln"/>
<path d="M48.00,51.30 C47.33,51.30 45.83,51.18 44.00,51.30 C42.17,51.42 39.18,51.70 37.00,52.00 C34.82,52.30 33.07,52.70 30.90,53.10 C28.73,53.50 26.05,53.98 24.00,54.40 C21.95,54.82 20.60,55.23 18.60,55.60 C16.60,55.97 14.05,56.28 12.00,56.60 C9.95,56.92 7.25,57.35 6.30,57.50" class="ln"/>
<path d="M-49.00,63.50 C-48.63,63.50 -48.18,63.98 -46.80,63.50 C-45.42,63.02 -43.35,61.22 -40.70,60.60 C-38.05,59.98 -33.68,59.77 -30.90,59.80 C-28.12,59.83 -26.05,60.35 -24.00,60.80 C-21.95,61.25 -20.60,61.93 -18.60,62.50 C-16.60,63.07 -13.85,63.85 -12.00,64.20 C-10.15,64.55 -8.25,64.53 -7.50,64.60" class="ln"/>
<path d="M49.00,63.50 C48.63,63.50 48.18,63.98 46.80,63.50 C45.42,63.02 43.35,61.22 40.70,60.60 C38.05,59.98 33.68,59.77 30.90,59.80 C28.12,59.83 26.05,60.35 24.00,60.80 C21.95,61.25 20.60,61.93 18.60,62.50 C16.60,63.07 13.85,63.85 12.00,64.20 C10.15,64.55 8.25,64.53 7.50,64.60" class="ln"/>
<path d="M-46.00,71.80 C-45.53,71.73 -44.70,71.87 -43.20,71.40 C-41.70,70.93 -39.05,69.58 -37.00,69.00 C-34.95,68.42 -33.07,68.07 -30.90,67.90 C-28.73,67.73 -26.05,67.80 -24.00,68.00 C-21.95,68.20 -20.27,68.57 -18.60,69.10 C-16.93,69.63 -15.43,70.27 -14.00,71.20 C-12.57,72.13 -10.67,74.12 -10.00,74.70" class="ln"/>
<path d="M46.00,71.80 C45.53,71.73 44.70,71.87 43.20,71.40 C41.70,70.93 39.05,69.58 37.00,69.00 C34.95,68.42 33.07,68.07 30.90,67.90 C28.73,67.73 26.05,67.80 24.00,68.00 C21.95,68.20 20.27,68.57 18.60,69.10 C16.93,69.63 15.43,70.27 14.00,71.20 C12.57,72.13 10.67,74.12 10.00,74.70" class="ln"/>
<path d="M-30.50,83.50 C-29.92,82.83 -28.25,80.67 -27.00,79.50 C-25.75,78.33 -24.20,77.30 -23.00,76.50 C-21.80,75.70 -20.97,75.42 -19.80,74.70 C-18.63,73.98 -17.13,72.88 -16.00,72.20 C-14.87,71.52 -13.50,70.87 -13.00,70.60" class="ln"/>
<path d="M30.50,83.50 C29.92,82.83 28.25,80.67 27.00,79.50 C25.75,78.33 24.20,77.30 23.00,76.50 C21.80,75.70 20.97,75.42 19.80,74.70 C18.63,73.98 17.13,72.88 16.00,72.20 C14.87,71.52 13.50,70.87 13.00,70.60" class="ln"/>
</g></g>
<g transform="translate(431.40,21.20) scale(0.990,0.990)">
<g clip-path="url(#fmclip)"><g filter="url(#rough0)">
<path d="M-70.00,-10.00 L70.00,-10.00 L70.00,4.40 L29.50,4.40 L26.00,4.60 L20.00,5.60 L15.00,7.00 L10.00,9.00 L6.00,11.20 L2.50,13.20 L0.00,13.80 L-2.50,13.20 L-6.00,11.20 L-10.00,9.00 L-15.00,7.00 L-20.00,5.60 L-26.00,4.60 L-29.50,4.40 L-70.00,4.40Z" fill="#5a70e8"/>
<path d="M-70.00,4.40 L-29.50,4.40 L-26.00,4.60 L-20.00,5.60 L-15.00,7.00 L-10.00,9.00 L-6.00,11.20 L-2.50,13.20 L0.00,13.80 L2.50,13.20 L6.00,11.20 L10.00,9.00 L15.00,7.00 L20.00,5.60 L26.00,4.60 L29.50,4.40 L70.00,4.40 L70.00,8.00 L29.80,8.00 L24.00,7.60 L17.40,10.50 L13.00,13.80 L10.00,16.70 L6.50,20.00 L3.80,22.80 L0.00,25.20 L-3.80,22.80 L-6.50,20.00 L-10.00,16.70 L-13.00,13.80 L-17.40,10.50 L-24.00,7.60 L-29.80,8.00 L-70.00,8.00Z" fill="#5050e0"/>
<path d="M-70.00,8.00 L-29.80,8.00 L-24.00,7.60 L-17.40,10.50 L-13.00,13.80 L-10.00,16.70 L-6.50,20.00 L-3.80,22.80 L0.00,25.20 L3.80,22.80 L6.50,20.00 L10.00,16.70 L13.00,13.80 L17.40,10.50 L24.00,7.60 L29.80,8.00 L70.00,8.00 L70.00,20.30 L44.00,20.30 L37.00,19.90 L32.00,20.60 L28.50,21.80 L23.00,24.70 L18.60,27.80 L13.00,31.00 L8.80,33.90 L5.50,36.80 L3.00,39.20 L0.00,41.00 L-3.00,39.20 L-5.50,36.80 L-8.80,33.90 L-13.00,31.00 L-18.60,27.80 L-23.00,24.70 L-28.50,21.80 L-32.00,20.60 L-37.00,19.90 L-44.00,20.30 L-70.00,20.30Z" fill="#b04a58"/>
<path d="M-70.00,20.30 L-44.00,20.30 L-37.00,19.90 L-32.00,20.60 L-28.50,21.80 L-23.00,24.70 L-18.60,27.80 L-13.00,31.00 L-8.80,33.90 L-5.50,36.80 L-3.00,39.20 L0.00,41.00 L3.00,39.20 L5.50,36.80 L8.80,33.90 L13.00,31.00 L18.60,27.80 L23.00,24.70 L28.50,21.80 L32.00,20.60 L37.00,19.90 L44.00,20.30 L70.00,20.30 L70.00,38.60 L50.00,38.60 L47.50,38.80 L40.00,40.00 L31.00,40.90 L24.00,41.30 L18.60,41.40 L12.00,41.50 L6.30,41.70 L0.00,42.00 L-6.30,41.70 L-12.00,41.50 L-18.60,41.40 L-24.00,41.30 L-31.00,40.90 L-40.00,40.00 L-47.50,38.80 L-50.00,38.60 L-70.00,38.60Z" fill="#d0f8c0"/>
<path d="M-70.00,38.60 L-50.00,38.60 L-47.50,38.80 L-40.00,40.00 L-31.00,40.90 L-24.00,41.30 L-18.60,41.40 L-12.00,41.50 L-6.30,41.70 L0.00,42.00 L6.30,41.70 L12.00,41.50 L18.60,41.40 L24.00,41.30 L31.00,40.90 L40.00,40.00 L47.50,38.80 L50.00,38.60 L70.00,38.60 L70.00,51.30 L48.00,51.30 L44.00,51.30 L37.00,52.00 L30.90,53.10 L24.00,54.40 L18.60,55.60 L12.00,56.60 L6.30,57.50 L0.00,58.50 L-6.30,57.50 L-12.00,56.60 L-18.60,55.60 L-24.00,54.40 L-30.90,53.10 L-37.00,52.00 L-44.00,51.30 L-48.00,51.30 L-70.00,51.30Z" fill="#d0f8c0"/>
<path d="M-70.00,51.30 L-48.00,51.30 L-44.00,51.30 L-37.00,52.00 L-30.90,53.10 L-24.00,54.40 L-18.60,55.60 L-12.00,56.60 L-6.30,57.50 L0.00,58.50 L6.30,57.50 L12.00,56.60 L18.60,55.60 L24.00,54.40 L30.90,53.10 L37.00,52.00 L44.00,51.30 L48.00,51.30 L70.00,51.30 L70.00,63.50 L49.00,63.50 L46.80,63.50 L40.70,60.60 L30.90,59.80 L24.00,60.80 L18.60,62.50 L12.00,64.20 L7.50,64.60 L0.00,65.60 L-7.50,64.60 L-12.00,64.20 L-18.60,62.50 L-24.00,60.80 L-30.90,59.80 L-40.70,60.60 L-46.80,63.50 L-49.00,63.50 L-70.00,63.50Z" fill="#b04a58"/>
<path d="M-70.00,63.50 L-49.00,63.50 L-46.80,63.50 L-40.70,60.60 L-30.90,59.80 L-24.00,60.80 L-18.60,62.50 L-12.00,64.20 L-7.50,64.60 L0.00,65.60 L7.50,64.60 L12.00,64.20 L18.60,62.50 L24.00,60.80 L30.90,59.80 L40.70,60.60 L46.80,63.50 L49.00,63.50 L70.00,63.50 L70.00,71.80 L46.00,71.80 L43.20,71.40 L37.00,69.00 L30.90,67.90 L24.00,68.00 L18.60,69.10 L14.00,71.20 L10.00,74.70 L0.00,75.70 L-10.00,74.70 L-14.00,71.20 L-18.60,69.10 L-24.00,68.00 L-30.90,67.90 L-37.00,69.00 L-43.20,71.40 L-46.00,71.80 L-70.00,71.80Z" fill="#4848e0"/>
<path d="M-70.00,71.80 L-46.00,71.80 L-43.20,71.40 L-37.00,69.00 L-30.90,67.90 L-24.00,68.00 L-18.60,69.10 L-14.00,71.20 L-10.00,74.70 L0.00,75.70 L10.00,74.70 L14.00,71.20 L18.60,69.10 L24.00,68.00 L30.90,67.90 L37.00,69.00 L43.20,71.40 L46.00,71.80 L70.00,71.80 L70.00,100.00 L-70.00,100.00Z" fill="#c0f060"/>
<path d="M-23.40,7.22 C-23.36,7.77 -23.77,8.62 -24.03,9.29 C-24.29,9.96 -24.45,11.09 -24.95,11.23 C-25.45,11.38 -26.47,10.66 -27.04,10.16 C-27.61,9.66 -28.28,8.88 -28.36,8.23 C-28.45,7.58 -27.84,7.06 -27.55,6.26 C-27.27,5.46 -27.05,3.63 -26.65,3.42 C-26.26,3.20 -25.61,4.55 -25.21,4.98 C-24.81,5.41 -24.54,5.62 -24.24,5.99 C-23.94,6.37 -23.43,6.67 -23.40,7.22Z" fill="#c040c0"/><path d="M27.47,7.15 C27.54,8.05 28.25,9.54 27.95,10.11 C27.65,10.68 26.25,10.58 25.68,10.58 C25.10,10.58 24.82,10.50 24.49,10.11 C24.16,9.72 23.86,8.85 23.68,8.22 C23.49,7.58 23.21,6.77 23.40,6.28 C23.59,5.78 24.35,5.50 24.81,5.26 C25.27,5.02 25.71,4.93 26.17,4.83 C26.62,4.74 27.32,4.31 27.54,4.69 C27.76,5.08 27.40,6.25 27.47,7.15Z" fill="#c040c0"/>
<path d="M-9.92,2.63 C-9.97,3.20 -11.80,3.77 -12.59,4.31 C-13.39,4.86 -13.51,5.68 -14.70,5.91 C-15.89,6.13 -18.93,6.00 -19.75,5.68 C-20.58,5.35 -19.52,4.61 -19.66,3.96 C-19.81,3.32 -20.63,2.35 -20.63,1.81 C-20.62,1.27 -20.57,1.07 -19.64,0.73 C-18.70,0.38 -16.23,-0.30 -15.01,-0.27 C-13.79,-0.24 -13.16,0.40 -12.31,0.89 C-11.47,1.37 -9.87,2.06 -9.92,2.63Z" fill="#60a8f0"/><path d="M21.06,2.78 C21.17,3.35 20.66,4.03 19.80,4.60 C18.94,5.16 17.00,6.06 15.88,6.18 C14.76,6.29 13.89,5.70 13.06,5.29 C12.23,4.88 11.45,4.29 10.91,3.70 C10.37,3.11 9.48,2.19 9.85,1.77 C10.22,1.34 11.78,1.48 13.15,1.14 C14.52,0.80 17.08,-0.31 18.08,-0.30 C19.08,-0.30 18.66,0.66 19.15,1.17 C19.65,1.69 20.95,2.21 21.06,2.78Z" fill="#60a8f0"/>
<path d="M3.32,1.07 C3.29,1.64 2.49,2.48 1.70,3.05 C0.91,3.62 -0.57,4.29 -1.40,4.50 C-2.24,4.71 -2.75,4.71 -3.30,4.33 C-3.84,3.95 -4.15,2.99 -4.67,2.23 C-5.19,1.47 -6.40,0.37 -6.41,-0.24 C-6.42,-0.86 -5.69,-1.32 -4.74,-1.46 C-3.78,-1.60 -1.78,-1.26 -0.68,-1.08 C0.42,-0.89 1.20,-0.72 1.86,-0.36 C2.53,-0.00 3.35,0.50 3.32,1.07Z" fill="#ffb020"/><path d="M5.65,1.53 C5.69,2.24 5.86,2.90 5.16,3.29 C4.46,3.67 2.36,3.73 1.44,3.86 C0.53,3.99 0.26,4.32 -0.35,4.07 C-0.96,3.82 -2.02,2.97 -2.22,2.37 C-2.42,1.76 -1.78,0.99 -1.55,0.43 C-1.32,-0.13 -1.56,-0.67 -0.85,-0.97 C-0.14,-1.27 1.75,-1.40 2.70,-1.39 C3.66,-1.38 4.40,-1.41 4.89,-0.93 C5.38,-0.44 5.61,0.83 5.65,1.53Z" fill="#ffb020"/>
<path d="M-9.23,13.69 C-8.77,14.93 -5.87,15.77 -6.98,16.64 C-8.09,17.50 -13.66,18.62 -15.90,18.89 C-18.14,19.15 -19.15,18.78 -20.41,18.23 C-21.67,17.67 -22.36,16.59 -23.44,15.58 C-24.52,14.56 -27.16,13.19 -26.90,12.13 C-26.65,11.07 -23.75,9.86 -21.91,9.23 C-20.07,8.59 -17.88,8.33 -15.85,8.33 C-13.83,8.33 -10.87,8.32 -9.77,9.21 C-8.66,10.10 -9.70,12.45 -9.23,13.69Z" fill="#5050e0"/><path d="M24.17,14.41 C24.18,15.53 23.68,16.74 23.00,17.34 C22.31,17.95 22.01,18.03 20.06,18.02 C18.11,18.00 13.24,17.84 11.31,17.27 C9.38,16.69 9.22,15.32 8.50,14.56 C7.77,13.81 6.59,13.56 6.96,12.73 C7.32,11.90 8.88,10.00 10.69,9.59 C12.49,9.18 15.73,10.07 17.78,10.24 C19.83,10.41 21.90,9.92 22.97,10.62 C24.03,11.31 24.17,13.28 24.17,14.41Z" fill="#5050e0"/>
<path d="M0.50,12.61 C0.47,13.69 -1.00,13.91 -1.60,14.83 C-2.20,15.76 -2.25,17.91 -3.11,18.16 C-3.96,18.40 -5.64,17.12 -6.73,16.29 C-7.82,15.47 -9.25,14.27 -9.65,13.21 C-10.05,12.14 -9.62,10.94 -9.12,9.89 C-8.62,8.85 -7.56,7.62 -6.63,6.93 C-5.71,6.23 -4.45,5.47 -3.57,5.70 C-2.69,5.94 -2.05,7.19 -1.37,8.34 C-0.69,9.49 0.54,11.53 0.50,12.61Z" fill="#60a8f0"/><path d="M9.88,12.20 C10.20,13.48 9.66,15.27 8.84,16.40 C8.02,17.53 6.17,18.81 4.95,18.99 C3.72,19.17 2.28,18.07 1.48,17.48 C0.68,16.88 0.12,16.64 0.15,15.41 C0.19,14.18 1.37,11.69 1.70,10.10 C2.03,8.50 1.69,6.64 2.15,5.84 C2.60,5.05 3.66,4.85 4.46,5.34 C5.26,5.82 6.03,7.61 6.94,8.75 C7.84,9.90 9.57,10.93 9.88,12.20Z" fill="#60a8f0"/>
<path d="M-14.19,24.09 C-13.90,25.68 -14.88,27.99 -16.00,28.87 C-17.12,29.75 -19.33,29.60 -20.91,29.37 C-22.49,29.15 -24.03,28.21 -25.46,27.52 C-26.89,26.83 -29.02,26.23 -29.50,25.24 C-29.99,24.25 -28.77,22.78 -28.40,21.58 C-28.03,20.39 -28.48,18.77 -27.29,18.07 C-26.10,17.37 -22.83,17.16 -21.24,17.37 C-19.64,17.58 -18.90,18.21 -17.73,19.33 C-16.55,20.45 -14.48,22.50 -14.19,24.09Z" fill="#b04a58"/><path d="M27.30,23.54 C26.91,24.60 27.68,25.43 26.78,26.38 C25.87,27.33 23.06,28.90 21.88,29.22 C20.69,29.55 20.82,28.95 19.65,28.33 C18.48,27.70 15.73,26.70 14.85,25.49 C13.97,24.28 14.03,22.20 14.38,21.08 C14.73,19.95 15.42,19.15 16.95,18.75 C18.48,18.34 21.53,18.45 23.56,18.66 C25.60,18.87 28.54,19.20 29.16,20.02 C29.78,20.83 27.70,22.48 27.30,23.54Z" fill="#b04a58"/>
<path d="M-10.06,21.97 C-10.02,22.73 -10.57,23.91 -10.99,24.42 C-11.42,24.93 -12.15,25.08 -12.62,25.03 C-13.10,24.99 -13.50,24.52 -13.84,24.15 C-14.19,23.78 -14.44,23.32 -14.70,22.82 C-14.95,22.32 -15.39,21.96 -15.37,21.14 C-15.36,20.32 -15.21,18.45 -14.62,17.89 C-14.04,17.32 -12.43,17.44 -11.86,17.77 C-11.29,18.10 -11.50,19.17 -11.20,19.87 C-10.90,20.57 -10.09,21.22 -10.06,21.97Z" fill="#60e060"/><path d="M16.13,21.18 C16.18,21.77 15.48,22.93 15.05,23.50 C14.62,24.08 14.24,24.28 13.56,24.63 C12.88,24.98 11.45,25.96 10.97,25.59 C10.49,25.22 10.74,23.32 10.67,22.43 C10.61,21.55 10.61,20.98 10.60,20.26 C10.59,19.54 10.25,18.39 10.61,18.10 C10.97,17.82 12.08,18.23 12.77,18.54 C13.46,18.85 14.21,19.51 14.77,19.95 C15.33,20.39 16.09,20.58 16.13,21.18Z" fill="#60e060"/>
<path d="M-1.69,29.63 C-1.96,31.01 -1.80,32.61 -2.38,33.65 C-2.96,34.68 -3.97,35.25 -5.18,35.84 C-6.40,36.44 -8.71,37.85 -9.67,37.19 C-10.62,36.53 -10.81,33.65 -10.90,31.89 C-10.99,30.14 -10.54,28.23 -10.20,26.66 C-9.86,25.08 -10.01,23.35 -8.84,22.45 C-7.67,21.55 -4.55,20.77 -3.19,21.25 C-1.84,21.74 -0.97,23.96 -0.72,25.35 C-0.47,26.75 -1.41,28.25 -1.69,29.63Z" fill="#ffb020"/><path d="M11.91,31.71 C11.71,33.31 10.30,33.09 9.28,34.29 C8.27,35.48 7.01,38.34 5.81,38.89 C4.61,39.44 2.93,38.53 2.09,37.59 C1.26,36.65 1.00,34.98 0.80,33.26 C0.60,31.54 0.55,28.67 0.89,27.26 C1.23,25.86 1.78,25.33 2.82,24.82 C3.86,24.31 5.82,24.24 7.10,24.21 C8.39,24.19 9.72,23.41 10.52,24.65 C11.32,25.90 12.12,30.10 11.91,31.71Z" fill="#ffb020"/>
<path d="M-38.99,25.29 C-38.93,26.32 -37.90,28.15 -38.87,28.98 C-39.83,29.81 -42.89,30.19 -44.78,30.28 C-46.66,30.37 -49.15,30.07 -50.18,29.51 C-51.21,28.95 -50.98,27.82 -50.95,26.92 C-50.91,26.02 -50.46,24.90 -49.96,24.12 C-49.47,23.34 -49.08,22.88 -47.99,22.25 C-46.90,21.62 -44.87,20.26 -43.41,20.35 C-41.95,20.45 -39.98,21.99 -39.25,22.81 C-38.51,23.64 -39.05,24.26 -38.99,25.29Z" fill="#e040a0"/><path d="M53.37,25.61 C53.11,26.54 51.10,26.76 50.17,27.37 C49.24,27.98 49.38,28.91 47.81,29.29 C46.23,29.68 42.50,30.02 40.72,29.69 C38.95,29.37 37.57,28.22 37.16,27.34 C36.76,26.45 37.48,25.23 38.30,24.39 C39.13,23.55 40.75,22.87 42.11,22.28 C43.47,21.68 44.84,20.89 46.44,20.81 C48.05,20.72 50.57,20.98 51.72,21.78 C52.87,22.58 53.63,24.68 53.37,25.61Z" fill="#e040a0"/>
<path d="M-28.11,26.21 C-28.12,26.85 -29.16,27.91 -29.87,28.31 C-30.59,28.70 -31.54,28.49 -32.42,28.60 C-33.30,28.71 -34.35,29.23 -35.17,28.95 C-35.98,28.66 -36.77,27.58 -37.31,26.89 C-37.84,26.19 -38.64,25.37 -38.39,24.76 C-38.13,24.14 -36.74,23.60 -35.78,23.19 C-34.82,22.78 -33.62,22.06 -32.62,22.28 C-31.62,22.50 -30.54,23.85 -29.78,24.51 C-29.03,25.16 -28.09,25.58 -28.11,26.21Z" fill="#b04a58"/><path d="M37.66,26.25 C37.39,27.00 36.16,27.14 35.59,27.67 C35.02,28.19 35.09,29.21 34.26,29.39 C33.44,29.58 31.48,29.26 30.65,28.77 C29.82,28.28 29.52,27.14 29.30,26.46 C29.08,25.78 29.15,25.23 29.35,24.71 C29.55,24.19 29.75,23.58 30.51,23.34 C31.27,23.10 32.80,23.32 33.92,23.29 C35.03,23.26 36.55,22.66 37.18,23.15 C37.80,23.65 37.92,25.49 37.66,26.25Z" fill="#b04a58"/>
<path d="M-45.95,31.49 C-45.98,32.55 -45.82,34.83 -46.42,35.76 C-47.02,36.68 -48.87,36.97 -49.56,37.03 C-50.25,37.10 -50.10,36.85 -50.57,36.17 C-51.04,35.50 -52.00,34.09 -52.37,32.97 C-52.73,31.85 -52.84,30.40 -52.75,29.45 C-52.66,28.49 -52.39,27.45 -51.82,27.25 C-51.25,27.06 -50.27,27.94 -49.34,28.29 C-48.41,28.65 -46.82,28.86 -46.25,29.40 C-45.69,29.93 -45.93,30.43 -45.95,31.49Z" fill="#e060c0"/><path d="M52.35,31.21 C52.58,32.30 53.14,35.17 52.70,35.96 C52.26,36.76 50.56,35.92 49.69,35.98 C48.82,36.04 48.01,36.55 47.48,36.32 C46.95,36.10 46.66,35.68 46.51,34.60 C46.36,33.53 46.41,31.13 46.59,29.88 C46.77,28.63 47.00,27.73 47.60,27.10 C48.19,26.47 49.54,25.73 50.17,26.12 C50.79,26.50 50.98,28.57 51.34,29.41 C51.70,30.26 52.12,30.11 52.35,31.21Z" fill="#e060c0"/>
<path d="M-12.97,34.63 C-12.59,35.77 -14.52,37.28 -16.48,38.35 C-18.45,39.43 -21.20,40.69 -24.76,41.07 C-28.32,41.45 -35.09,41.31 -37.84,40.64 C-40.59,39.97 -39.60,38.36 -41.28,37.07 C-42.96,35.78 -47.88,34.01 -47.89,32.88 C-47.91,31.76 -45.08,30.72 -41.35,30.31 C-37.63,29.89 -29.33,30.20 -25.56,30.40 C-21.80,30.60 -20.86,30.80 -18.76,31.51 C-16.67,32.21 -13.35,33.49 -12.97,34.63Z" fill="#d0f8c0"/><path d="M48.39,34.99 C47.92,36.21 46.20,38.30 43.19,39.19 C40.19,40.08 33.56,40.36 30.37,40.34 C27.17,40.32 26.77,39.56 24.02,39.05 C21.27,38.55 15.56,38.51 13.89,37.32 C12.21,36.13 12.22,33.12 13.98,31.93 C15.73,30.74 20.60,30.60 24.41,30.17 C28.22,29.73 33.26,29.04 36.85,29.33 C40.45,29.62 44.07,30.97 46.00,31.92 C47.92,32.86 48.86,33.78 48.39,34.99Z" fill="#d0f8c0"/>
<path d="M-6.69,35.55 C-6.79,36.59 -7.26,38.35 -7.87,38.80 C-8.49,39.25 -9.50,38.17 -10.38,38.25 C-11.25,38.32 -12.28,39.50 -13.13,39.22 C-13.97,38.94 -14.95,37.60 -15.46,36.57 C-15.96,35.54 -16.53,33.71 -16.14,33.04 C-15.75,32.37 -14.02,32.72 -13.13,32.54 C-12.24,32.35 -11.76,31.94 -10.79,31.95 C-9.83,31.96 -8.02,32.00 -7.33,32.61 C-6.65,33.21 -6.60,34.52 -6.69,35.55Z" fill="#e040e0"/><path d="M16.13,35.34 C16.11,35.89 14.83,36.18 14.24,36.80 C13.64,37.43 13.23,38.77 12.55,39.07 C11.88,39.37 11.06,39.04 10.19,38.62 C9.32,38.21 7.71,37.42 7.32,36.57 C6.94,35.72 7.46,34.27 7.86,33.52 C8.27,32.78 9.13,32.49 9.75,32.09 C10.37,31.69 10.82,30.89 11.60,31.12 C12.37,31.36 13.62,32.81 14.38,33.52 C15.14,34.22 16.16,34.80 16.13,35.34Z" fill="#e040e0"/>
<path d="M-8.80,43.21 C-9.48,44.31 -12.56,46.35 -14.80,47.42 C-17.03,48.50 -20.37,49.34 -22.22,49.67 C-24.07,50.01 -24.25,50.24 -25.91,49.44 C-27.56,48.64 -31.05,45.97 -32.17,44.88 C-33.28,43.78 -33.55,43.83 -32.60,42.86 C-31.66,41.90 -28.99,39.89 -26.50,39.08 C-24.02,38.28 -20.33,37.74 -17.70,38.03 C-15.07,38.33 -12.21,39.99 -10.73,40.85 C-9.25,41.72 -8.12,42.12 -8.80,43.21Z" fill="#d0f8c0"/><path d="M32.21,43.34 C32.84,44.87 36.77,47.21 35.03,48.07 C33.30,48.93 24.58,48.39 21.79,48.49 C19.00,48.59 19.95,48.96 18.29,48.67 C16.62,48.38 13.00,47.83 11.79,46.73 C10.57,45.64 9.83,43.22 10.99,42.10 C12.16,40.97 16.20,40.59 18.77,40.00 C21.35,39.41 24.37,38.74 26.45,38.56 C28.53,38.38 30.29,38.13 31.25,38.92 C32.21,39.72 31.58,41.82 32.21,43.34Z" fill="#d0f8c0"/>
<path d="M-31.43,47.78 C-31.39,48.55 -33.64,48.55 -34.55,49.55 C-35.46,50.55 -35.76,53.39 -36.89,53.79 C-38.02,54.19 -40.17,52.78 -41.31,51.97 C-42.46,51.15 -43.23,49.92 -43.75,48.90 C-44.26,47.89 -44.76,46.88 -44.41,45.89 C-44.05,44.91 -42.63,43.45 -41.63,42.97 C-40.62,42.50 -39.51,42.71 -38.38,43.04 C-37.24,43.36 -35.97,44.14 -34.81,44.93 C-33.65,45.73 -31.47,47.01 -31.43,47.78Z" fill="#e050e0"/><path d="M45.30,47.23 C45.10,48.30 44.75,49.69 43.58,50.38 C42.42,51.07 39.90,51.03 38.31,51.35 C36.73,51.68 34.93,52.71 34.06,52.33 C33.19,51.95 33.54,50.07 33.10,49.07 C32.66,48.07 31.04,47.43 31.40,46.33 C31.76,45.22 33.80,43.06 35.28,42.43 C36.76,41.80 38.69,42.30 40.27,42.55 C41.86,42.81 43.95,43.17 44.78,43.95 C45.62,44.73 45.50,46.15 45.30,47.23Z" fill="#e050e0"/>
<path d="M-4.92,48.22 C-4.99,49.15 -5.17,48.87 -5.71,49.64 C-6.25,50.41 -7.38,52.55 -8.17,52.84 C-8.96,53.12 -10.00,51.99 -10.44,51.36 C-10.89,50.73 -10.54,50.02 -10.85,49.05 C-11.17,48.09 -12.55,46.32 -12.34,45.58 C-12.13,44.85 -10.37,44.94 -9.58,44.66 C-8.80,44.39 -8.35,44.05 -7.63,43.95 C-6.91,43.85 -5.72,43.33 -5.27,44.05 C-4.82,44.76 -4.84,47.29 -4.92,48.22Z" fill="#b04a58"/><path d="M11.30,47.80 C11.32,48.49 11.07,49.60 10.56,50.39 C10.05,51.18 8.85,52.27 8.23,52.54 C7.62,52.82 7.55,52.32 6.86,52.05 C6.18,51.78 4.41,51.81 4.14,50.94 C3.86,50.06 4.71,47.82 5.22,46.79 C5.73,45.76 6.71,45.54 7.19,44.77 C7.68,44.00 7.61,41.90 8.15,42.15 C8.69,42.40 9.92,45.31 10.45,46.26 C10.97,47.20 11.28,47.11 11.30,47.80Z" fill="#b04a58"/>
<path d="M-34.02,46.09 C-33.93,46.53 -33.71,47.33 -34.13,47.64 C-34.56,47.95 -35.91,47.93 -36.55,47.94 C-37.20,47.96 -37.51,47.97 -38.02,47.73 C-38.53,47.48 -39.31,46.94 -39.62,46.46 C-39.94,45.98 -40.17,45.15 -39.93,44.84 C-39.68,44.52 -38.73,44.67 -38.14,44.55 C-37.54,44.44 -36.96,44.04 -36.38,44.12 C-35.79,44.20 -35.03,44.71 -34.64,45.04 C-34.24,45.37 -34.10,45.66 -34.02,46.09Z" fill="#60e060"/><path d="M39.60,45.97 C39.66,46.43 40.11,47.20 39.69,47.47 C39.27,47.74 37.87,47.66 37.08,47.61 C36.28,47.57 35.52,47.30 34.92,47.21 C34.32,47.12 33.76,47.44 33.46,47.06 C33.16,46.68 32.85,45.32 33.09,44.93 C33.33,44.54 34.24,44.83 34.90,44.72 C35.56,44.62 36.32,44.27 37.06,44.28 C37.80,44.28 38.92,44.47 39.34,44.75 C39.76,45.04 39.54,45.52 39.60,45.97Z" fill="#60e060"/>
<path d="M-10.68,56.92 C-10.79,58.06 -13.50,59.43 -14.88,60.07 C-16.27,60.71 -16.55,60.63 -19.00,60.75 C-21.46,60.88 -26.58,60.99 -29.60,60.81 C-32.62,60.62 -36.08,60.43 -37.11,59.63 C-38.14,58.84 -36.86,57.20 -35.79,56.03 C-34.72,54.86 -33.33,53.50 -30.70,52.59 C-28.08,51.69 -22.78,50.50 -20.04,50.60 C-17.30,50.70 -15.81,52.13 -14.25,53.18 C-12.69,54.23 -10.57,55.77 -10.68,56.92Z" fill="#b04a58"/><path d="M33.27,56.33 C33.49,57.33 34.29,59.03 32.46,59.81 C30.63,60.60 24.95,60.80 22.30,61.02 C19.65,61.24 18.95,61.64 16.54,61.13 C14.14,60.62 9.17,58.97 7.87,57.95 C6.56,56.93 7.67,55.84 8.71,55.00 C9.75,54.17 11.23,53.30 14.09,52.93 C16.95,52.57 23.04,52.68 25.89,52.82 C28.73,52.97 29.93,53.20 31.16,53.78 C32.39,54.37 33.05,55.32 33.27,56.33Z" fill="#b04a58"/>
<path d="M-35.08,59.67 C-35.00,61.41 -35.36,64.84 -36.08,66.05 C-36.80,67.25 -38.51,67.18 -39.41,66.91 C-40.31,66.63 -40.65,65.17 -41.46,64.40 C-42.27,63.64 -43.92,63.56 -44.28,62.31 C-44.64,61.05 -44.14,58.34 -43.63,56.86 C-43.12,55.38 -42.06,54.19 -41.23,53.44 C-40.40,52.68 -39.44,51.96 -38.66,52.33 C-37.88,52.69 -37.15,54.40 -36.56,55.62 C-35.96,56.84 -35.16,57.93 -35.08,59.67Z" fill="#e050f0"/><path d="M43.24,61.02 C43.33,62.63 43.31,64.90 42.82,66.09 C42.34,67.29 41.29,67.96 40.31,68.18 C39.33,68.41 37.54,68.50 36.93,67.43 C36.33,66.37 36.69,63.19 36.68,61.81 C36.67,60.42 36.63,60.69 36.88,59.14 C37.12,57.60 37.53,53.41 38.15,52.56 C38.78,51.70 39.94,53.35 40.63,54.00 C41.32,54.65 41.85,55.29 42.28,56.46 C42.71,57.63 43.14,59.42 43.24,61.02Z" fill="#e050f0"/>
<path d="M-20.56,61.90 C-20.25,62.65 -19.37,64.07 -20.24,64.74 C-21.10,65.40 -24.17,65.83 -25.75,65.89 C-27.33,65.95 -28.12,65.44 -29.73,65.11 C-31.34,64.78 -34.48,64.60 -35.42,63.91 C-36.35,63.22 -36.10,61.80 -35.33,60.99 C-34.56,60.17 -32.14,59.40 -30.80,59.01 C-29.46,58.63 -28.75,58.46 -27.30,58.67 C-25.86,58.87 -23.24,59.68 -22.11,60.22 C-20.99,60.76 -20.87,61.14 -20.56,61.90Z" fill="#5050e0"/><path d="M35.49,61.39 C35.39,62.31 33.19,63.95 32.22,64.55 C31.25,65.16 30.84,64.85 29.67,65.01 C28.50,65.18 26.74,65.92 25.19,65.56 C23.64,65.20 20.94,63.61 20.36,62.86 C19.77,62.10 21.43,61.85 21.69,61.04 C21.95,60.24 20.54,58.48 21.93,58.02 C23.33,57.56 28.26,58.11 30.08,58.29 C31.89,58.47 31.92,58.56 32.82,59.08 C33.72,59.60 35.59,60.48 35.49,61.39Z" fill="#5050e0"/>
<path d="M-13.51,57.62 C-13.30,58.08 -13.92,58.28 -14.28,58.73 C-14.65,59.18 -15.03,60.15 -15.72,60.33 C-16.40,60.50 -17.85,60.11 -18.40,59.80 C-18.95,59.49 -18.70,58.95 -19.00,58.48 C-19.30,58.01 -20.34,57.48 -20.17,56.97 C-20.00,56.46 -18.58,55.74 -17.98,55.42 C-17.37,55.10 -16.94,54.95 -16.53,55.05 C-16.12,55.14 -16.03,55.58 -15.53,56.01 C-15.03,56.44 -13.72,57.17 -13.51,57.62Z" fill="#50e8f0"/><path d="M20.64,57.46 C20.44,57.95 19.04,58.19 18.61,58.66 C18.18,59.14 18.57,60.18 18.07,60.30 C17.56,60.42 16.25,59.74 15.58,59.37 C14.92,59.00 14.25,58.57 14.08,58.08 C13.92,57.58 14.31,56.82 14.60,56.40 C14.89,55.99 15.32,55.85 15.82,55.57 C16.32,55.29 16.94,54.69 17.61,54.71 C18.28,54.74 19.35,55.26 19.86,55.71 C20.36,56.17 20.85,56.97 20.64,57.46Z" fill="#50e8f0"/>
<path d="M-8.04,67.41 C-8.33,68.67 -12.44,69.81 -14.48,70.72 C-16.53,71.64 -17.52,72.50 -20.31,72.89 C-23.10,73.29 -28.62,73.70 -31.23,73.11 C-33.85,72.51 -35.40,70.58 -36.00,69.31 C-36.60,68.05 -35.66,66.73 -34.84,65.52 C-34.03,64.31 -33.72,62.64 -31.11,62.07 C-28.50,61.51 -22.24,61.94 -19.17,62.12 C-16.11,62.31 -14.59,62.31 -12.73,63.19 C-10.88,64.08 -7.75,66.16 -8.04,67.41Z" fill="#4848e0"/><path d="M34.17,67.51 C34.08,68.72 33.25,69.06 32.40,70.07 C31.54,71.08 31.38,72.98 29.04,73.58 C26.71,74.17 21.92,74.29 18.40,73.63 C14.87,72.96 8.81,70.85 7.92,69.58 C7.03,68.32 11.92,67.35 13.06,66.03 C14.21,64.70 12.20,62.32 14.80,61.65 C17.41,60.99 25.65,61.83 28.68,62.02 C31.71,62.21 32.05,61.88 32.97,62.80 C33.88,63.71 34.27,66.30 34.17,67.51Z" fill="#4848e0"/>
<path d="M-38.28,65.14 C-38.32,66.23 -38.69,67.42 -39.03,68.33 C-39.36,69.25 -39.80,70.57 -40.29,70.62 C-40.79,70.67 -41.37,69.20 -42.00,68.64 C-42.64,68.08 -43.67,68.10 -44.10,67.29 C-44.52,66.48 -44.69,64.95 -44.56,63.80 C-44.42,62.64 -44.00,60.80 -43.31,60.35 C-42.62,59.89 -41.18,60.81 -40.42,61.05 C-39.66,61.30 -39.13,61.12 -38.78,61.80 C-38.42,62.48 -38.24,64.05 -38.28,65.14Z" fill="#e050f0"/><path d="M44.16,65.15 C44.24,66.24 44.42,67.40 43.97,68.18 C43.52,68.95 42.17,69.83 41.45,69.80 C40.73,69.76 40.19,68.41 39.63,67.97 C39.07,67.53 38.28,67.96 38.09,67.15 C37.89,66.35 38.26,64.17 38.44,63.15 C38.61,62.13 38.55,61.40 39.13,61.03 C39.70,60.67 41.15,60.85 41.88,60.95 C42.61,61.05 43.12,60.95 43.50,61.65 C43.88,62.35 44.08,64.06 44.16,65.15Z" fill="#e050f0"/>
<path d="M-15.41,64.26 C-15.40,64.54 -15.49,65.07 -15.78,65.39 C-16.07,65.70 -16.65,66.01 -17.14,66.15 C-17.62,66.29 -18.11,66.41 -18.69,66.21 C-19.27,66.00 -20.22,65.29 -20.60,64.93 C-20.98,64.57 -21.21,64.29 -20.97,64.03 C-20.72,63.77 -19.67,63.63 -19.13,63.36 C-18.58,63.09 -18.27,62.39 -17.72,62.44 C-17.17,62.49 -16.21,63.35 -15.83,63.66 C-15.44,63.96 -15.42,63.97 -15.41,64.26Z" fill="#50e8f0"/><path d="M20.82,64.56 C20.93,64.96 20.25,65.70 19.89,65.96 C19.53,66.21 19.25,66.04 18.66,66.11 C18.08,66.17 17.08,66.54 16.38,66.34 C15.67,66.13 14.71,65.34 14.44,64.88 C14.18,64.41 14.47,63.85 14.78,63.57 C15.09,63.29 15.71,63.33 16.33,63.20 C16.95,63.07 18.01,62.71 18.49,62.77 C18.98,62.83 18.83,63.25 19.22,63.54 C19.61,63.84 20.71,64.16 20.82,64.56Z" fill="#50e8f0"/>
<path d="M-23.40,73.90 C-23.53,74.68 -26.68,76.83 -27.93,77.70 C-29.19,78.58 -29.50,79.00 -30.94,79.17 C-32.37,79.34 -35.22,79.13 -36.54,78.73 C-37.86,78.33 -38.69,77.62 -38.86,76.78 C-39.03,75.94 -38.14,74.60 -37.54,73.71 C-36.94,72.83 -36.52,72.01 -35.26,71.44 C-34.01,70.88 -31.38,70.06 -30.03,70.32 C-28.69,70.58 -28.30,72.40 -27.20,73.00 C-26.09,73.59 -23.28,73.12 -23.40,73.90Z" fill="#c0f060"/><path d="M38.81,75.54 C39.02,76.48 40.68,77.91 39.59,78.46 C38.50,79.01 34.35,78.80 32.28,78.83 C30.21,78.86 28.21,78.94 27.18,78.66 C26.15,78.38 26.66,78.20 26.10,77.16 C25.54,76.12 23.34,73.34 23.82,72.45 C24.30,71.55 27.18,72.06 28.97,71.77 C30.75,71.48 32.98,70.53 34.55,70.70 C36.11,70.87 37.63,71.98 38.34,72.78 C39.05,73.59 38.60,74.59 38.81,75.54Z" fill="#c0f060"/>
<path d="M-27.20,75.05 C-27.20,75.92 -28.25,77.00 -29.01,77.56 C-29.76,78.11 -30.63,78.49 -31.75,78.40 C-32.86,78.30 -34.89,77.36 -35.70,76.98 C-36.51,76.60 -36.21,76.53 -36.60,76.11 C-37.00,75.70 -38.16,75.15 -38.07,74.47 C-37.98,73.80 -37.04,72.50 -36.07,72.08 C-35.10,71.66 -33.44,71.92 -32.25,71.97 C-31.07,72.01 -29.82,71.81 -28.97,72.33 C-28.13,72.84 -27.19,74.18 -27.20,75.05Z" fill="#60e060"/><path d="M39.03,74.65 C39.33,75.24 38.51,76.43 37.62,76.85 C36.74,77.27 34.99,77.06 33.74,77.18 C32.49,77.30 30.83,77.72 30.12,77.55 C29.42,77.38 29.92,76.67 29.50,76.13 C29.07,75.59 27.32,74.81 27.58,74.31 C27.83,73.81 30.10,73.60 31.02,73.14 C31.93,72.67 32.28,71.52 33.07,71.54 C33.87,71.56 34.79,72.75 35.78,73.27 C36.78,73.79 38.72,74.05 39.03,74.65Z" fill="#60e060"/>
<path d="M-10.06,74.87 C-10.29,75.56 -14.03,77.12 -15.14,77.88 C-16.25,78.64 -15.36,79.31 -16.72,79.45 C-18.07,79.58 -21.61,79.17 -23.27,78.71 C-24.92,78.25 -26.21,77.44 -26.64,76.70 C-27.07,75.97 -26.61,75.34 -25.86,74.31 C-25.10,73.27 -23.37,71.09 -22.14,70.47 C-20.90,69.86 -19.85,70.07 -18.45,70.61 C-17.05,71.16 -15.12,73.02 -13.72,73.73 C-12.32,74.44 -9.82,74.18 -10.06,74.87Z" fill="#e060c0"/><path d="M26.16,74.73 C26.28,75.63 25.15,77.66 24.25,78.42 C23.34,79.19 22.13,79.12 20.71,79.32 C19.29,79.52 16.87,80.01 15.71,79.62 C14.54,79.22 14.21,77.73 13.71,76.94 C13.21,76.14 12.27,75.68 12.69,74.84 C13.11,74.01 14.81,72.51 16.25,71.94 C17.68,71.37 20.09,71.24 21.30,71.42 C22.51,71.60 22.72,72.49 23.53,73.04 C24.34,73.59 26.04,73.83 26.16,74.73Z" fill="#e060c0"/>
<path d="M-15.63,81.41 C-15.51,82.28 -16.54,83.14 -17.38,83.90 C-18.22,84.66 -19.55,85.70 -20.67,85.97 C-21.78,86.24 -23.03,86.18 -24.09,85.53 C-25.15,84.87 -26.31,83.35 -27.01,82.05 C-27.72,80.75 -28.52,78.63 -28.32,77.72 C-28.12,76.82 -27.10,76.87 -25.79,76.62 C-24.48,76.36 -21.74,75.84 -20.47,76.19 C-19.19,76.53 -18.95,77.80 -18.14,78.67 C-17.34,79.54 -15.76,80.54 -15.63,81.41Z" fill="#f8f8c0"/><path d="M27.02,81.06 C26.85,81.91 26.44,82.31 25.66,83.35 C24.88,84.38 23.28,86.77 22.35,87.27 C21.42,87.76 21.04,87.21 20.07,86.32 C19.09,85.42 17.17,83.36 16.52,81.90 C15.88,80.44 15.65,78.43 16.18,77.56 C16.71,76.69 18.70,77.26 19.70,76.68 C20.71,76.11 21.04,73.84 22.21,74.11 C23.37,74.37 25.89,77.10 26.69,78.26 C27.50,79.42 27.20,80.21 27.02,81.06Z" fill="#f8f8c0"/>
<path d="M-27.37,84.46 C-27.02,84.95 -27.61,85.75 -28.58,86.17 C-29.56,86.59 -31.88,86.94 -33.21,86.99 C-34.54,87.03 -35.64,86.75 -36.57,86.45 C-37.50,86.14 -38.48,85.64 -38.78,85.17 C-39.08,84.70 -38.64,84.13 -38.36,83.64 C-38.09,83.15 -37.85,82.40 -37.13,82.23 C-36.41,82.05 -35.11,82.40 -34.04,82.57 C-32.97,82.73 -31.81,82.90 -30.70,83.22 C-29.59,83.53 -27.73,83.97 -27.37,84.46Z" fill="#ffb020"/><path d="M39.31,84.76 C39.00,85.35 38.52,85.80 37.94,86.26 C37.35,86.71 36.84,87.49 35.79,87.48 C34.74,87.47 32.71,86.50 31.65,86.18 C30.60,85.86 30.18,86.02 29.45,85.54 C28.72,85.06 27.02,83.91 27.25,83.29 C27.47,82.67 29.44,82.11 30.79,81.81 C32.14,81.52 33.84,81.37 35.34,81.52 C36.84,81.67 39.14,82.18 39.80,82.72 C40.46,83.27 39.62,84.18 39.31,84.76Z" fill="#ffb020"/>
<rect x="-4.00" y="38.00" width="8.00" height="12.30" fill="#ffb020"/>
<rect x="-2.00" y="42.00" width="4.00" height="8.30" fill="#e040c0"/>
<rect x="-4.00" y="50.30" width="8.00" height="23.40" fill="#60e060"/>
<rect x="-1.80" y="66.00" width="3.60" height="6.40" fill="#e040c0"/>
<rect x="-4.00" y="73.70" width="8.00" height="14.70" fill="#ffb020"/>
<rect x="-4.00" y="88.40" width="8.00" height="3.60" fill="#503070"/>
</g></g>
<g clip-path="url(#fmclip)">
<path d="M-29.50,4.40 C-28.92,4.43 -27.58,4.40 -26.00,4.60 C-24.42,4.80 -21.83,5.20 -20.00,5.60 C-18.17,6.00 -16.67,6.43 -15.00,7.00 C-13.33,7.57 -11.50,8.30 -10.00,9.00 C-8.50,9.70 -7.25,10.50 -6.00,11.20 C-4.75,11.90 -3.50,12.77 -2.50,13.20 C-1.50,13.63 -0.83,13.80 0.00,13.80 C0.83,13.80 1.50,13.63 2.50,13.20 C3.50,12.77 4.75,11.90 6.00,11.20 C7.25,10.50 8.50,9.70 10.00,9.00 C11.50,8.30 13.33,7.57 15.00,7.00 C16.67,6.43 18.17,6.00 20.00,5.60 C21.83,5.20 24.42,4.80 26.00,4.60 C27.58,4.40 28.92,4.43 29.50,4.40" class="ln"/>
<path d="M-29.80,8.00 C-28.83,7.93 -26.07,7.18 -24.00,7.60 C-21.93,8.02 -19.23,9.47 -17.40,10.50 C-15.57,11.53 -14.23,12.77 -13.00,13.80 C-11.77,14.83 -11.08,15.67 -10.00,16.70 C-8.92,17.73 -7.53,18.98 -6.50,20.00 C-5.47,21.02 -4.88,21.93 -3.80,22.80 C-2.72,23.67 -1.27,25.20 0.00,25.20 C1.27,25.20 2.72,23.67 3.80,22.80 C4.88,21.93 5.47,21.02 6.50,20.00 C7.53,18.98 8.92,17.73 10.00,16.70 C11.08,15.67 11.77,14.83 13.00,13.80 C14.23,12.77 15.57,11.53 17.40,10.50 C19.23,9.47 21.93,8.02 24.00,7.60 C26.07,7.18 28.83,7.93 29.80,8.00" class="ln"/>
<path d="M-44.00,20.30 C-42.83,20.23 -39.00,19.85 -37.00,19.90 C-35.00,19.95 -33.42,20.28 -32.00,20.60 C-30.58,20.92 -30.00,21.12 -28.50,21.80 C-27.00,22.48 -24.65,23.70 -23.00,24.70 C-21.35,25.70 -20.27,26.75 -18.60,27.80 C-16.93,28.85 -14.63,29.98 -13.00,31.00 C-11.37,32.02 -10.05,32.93 -8.80,33.90 C-7.55,34.87 -6.47,35.92 -5.50,36.80 C-4.53,37.68 -3.92,38.50 -3.00,39.20 C-2.08,39.90 -1.00,41.00 0.00,41.00 C1.00,41.00 2.08,39.90 3.00,39.20 C3.92,38.50 4.53,37.68 5.50,36.80 C6.47,35.92 7.55,34.87 8.80,33.90 C10.05,32.93 11.37,32.02 13.00,31.00 C14.63,29.98 16.93,28.85 18.60,27.80 C20.27,26.75 21.35,25.70 23.00,24.70 C24.65,23.70 27.00,22.48 28.50,21.80 C30.00,21.12 30.58,20.92 32.00,20.60 C33.42,20.28 35.00,19.95 37.00,19.90 C39.00,19.85 42.83,20.23 44.00,20.30" class="ln"/>
<path d="M-50.00,38.60 C-49.58,38.63 -49.17,38.57 -47.50,38.80 C-45.83,39.03 -42.75,39.65 -40.00,40.00 C-37.25,40.35 -33.67,40.68 -31.00,40.90 C-28.33,41.12 -26.07,41.22 -24.00,41.30 C-21.93,41.38 -20.60,41.37 -18.60,41.40 C-16.60,41.43 -14.05,41.45 -12.00,41.50 C-9.95,41.55 -8.30,41.62 -6.30,41.70 C-4.30,41.78 -2.10,42.00 0.00,42.00 C2.10,42.00 4.30,41.78 6.30,41.70 C8.30,41.62 9.95,41.55 12.00,41.50 C14.05,41.45 16.60,41.43 18.60,41.40 C20.60,41.37 21.93,41.38 24.00,41.30 C26.07,41.22 28.33,41.12 31.00,40.90 C33.67,40.68 37.25,40.35 40.00,40.00 C42.75,39.65 45.83,39.03 47.50,38.80 C49.17,38.57 49.58,38.63 50.00,38.60" class="ln"/>
<path d="M-48.00,51.30 C-47.33,51.30 -45.83,51.18 -44.00,51.30 C-42.17,51.42 -39.18,51.70 -37.00,52.00 C-34.82,52.30 -33.07,52.70 -30.90,53.10 C-28.73,53.50 -26.05,53.98 -24.00,54.40 C-21.95,54.82 -20.60,55.23 -18.60,55.60 C-16.60,55.97 -14.05,56.28 -12.00,56.60 C-9.95,56.92 -7.25,57.35 -6.30,57.50" class="ln"/>
<path d="M48.00,51.30 C47.33,51.30 45.83,51.18 44.00,51.30 C42.17,51.42 39.18,51.70 37.00,52.00 C34.82,52.30 33.07,52.70 30.90,53.10 C28.73,53.50 26.05,53.98 24.00,54.40 C21.95,54.82 20.60,55.23 18.60,55.60 C16.60,55.97 14.05,56.28 12.00,56.60 C9.95,56.92 7.25,57.35 6.30,57.50" class="ln"/>
<path d="M-49.00,63.50 C-48.63,63.50 -48.18,63.98 -46.80,63.50 C-45.42,63.02 -43.35,61.22 -40.70,60.60 C-38.05,59.98 -33.68,59.77 -30.90,59.80 C-28.12,59.83 -26.05,60.35 -24.00,60.80 C-21.95,61.25 -20.60,61.93 -18.60,62.50 C-16.60,63.07 -13.85,63.85 -12.00,64.20 C-10.15,64.55 -8.25,64.53 -7.50,64.60" class="ln"/>
<path d="M49.00,63.50 C48.63,63.50 48.18,63.98 46.80,63.50 C45.42,63.02 43.35,61.22 40.70,60.60 C38.05,59.98 33.68,59.77 30.90,59.80 C28.12,59.83 26.05,60.35 24.00,60.80 C21.95,61.25 20.60,61.93 18.60,62.50 C16.60,63.07 13.85,63.85 12.00,64.20 C10.15,64.55 8.25,64.53 7.50,64.60" class="ln"/>
<path d="M-46.00,71.80 C-45.53,71.73 -44.70,71.87 -43.20,71.40 C-41.70,70.93 -39.05,69.58 -37.00,69.00 C-34.95,68.42 -33.07,68.07 -30.90,67.90 C-28.73,67.73 -26.05,67.80 -24.00,68.00 C-21.95,68.20 -20.27,68.57 -18.60,69.10 C-16.93,69.63 -15.43,70.27 -14.00,71.20 C-12.57,72.13 -10.67,74.12 -10.00,74.70" class="ln"/>
<path d="M46.00,71.80 C45.53,71.73 44.70,71.87 43.20,71.40 C41.70,70.93 39.05,69.58 37.00,69.00 C34.95,68.42 33.07,68.07 30.90,67.90 C28.73,67.73 26.05,67.80 24.00,68.00 C21.95,68.20 20.27,68.57 18.60,69.10 C16.93,69.63 15.43,70.27 14.00,71.20 C12.57,72.13 10.67,74.12 10.00,74.70" class="ln"/>
<path d="M-30.50,83.50 C-29.92,82.83 -28.25,80.67 -27.00,79.50 C-25.75,78.33 -24.20,77.30 -23.00,76.50 C-21.80,75.70 -20.97,75.42 -19.80,74.70 C-18.63,73.98 -17.13,72.88 -16.00,72.20 C-14.87,71.52 -13.50,70.87 -13.00,70.60" class="ln"/>
<path d="M30.50,83.50 C29.92,82.83 28.25,80.67 27.00,79.50 C25.75,78.33 24.20,77.30 23.00,76.50 C21.80,75.70 20.97,75.42 19.80,74.70 C18.63,73.98 17.13,72.88 16.00,72.20 C14.87,71.52 13.50,70.87 13.00,70.60" class="ln"/>
</g></g>
<g transform="translate(55.70,145.30) scale(1.000,1.000)">
<g clip-path="url(#fmclip)"><g filter="url(#rough1)">
<path d="M-70.00,-10.00 L70.00,-10.00 L70.00,4.40 L29.50,4.40 L26.00,4.60 L20.00,5.60 L15.00,7.00 L10.00,9.00 L6.00,11.20 L2.50,13.20 L0.00,13.80 L-2.50,13.20 L-6.00,11.20 L-10.00,9.00 L-15.00,7.00 L-20.00,5.60 L-26.00,4.60 L-29.50,4.40 L-70.00,4.40Z" fill="#60a8f0"/>
<path d="M-70.00,4.40 L-29.50,4.40 L-26.00,4.60 L-20.00,5.60 L-15.00,7.00 L-10.00,9.00 L-6.00,11.20 L-2.50,13.20 L0.00,13.80 L2.50,13.20 L6.00,11.20 L10.00,9.00 L15.00,7.00 L20.00,5.60 L26.00,4.60 L29.50,4.40 L70.00,4.40 L70.00,8.00 L29.80,8.00 L24.00,7.60 L17.40,10.50 L13.00,13.80 L10.00,16.70 L6.50,20.00 L3.80,22.80 L0.00,25.20 L-3.80,22.80 L-6.50,20.00 L-10.00,16.70 L-13.00,13.80 L-17.40,10.50 L-24.00,7.60 L-29.80,8.00 L-70.00,8.00Z" fill="#a040e0"/>
<path d="M-70.00,8.00 L-29.80,8.00 L-24.00,7.60 L-17.40,10.50 L-13.00,13.80 L-10.00,16.70 L-6.50,20.00 L-3.80,22.80 L0.00,25.20 L3.80,22.80 L6.50,20.00 L10.00,16.70 L13.00,13.80 L17.40,10.50 L24.00,7.60 L29.80,8.00 L70.00,8.00 L70.00,20.30 L44.00,20.30 L37.00,19.90 L32.00,20.60 L28.50,21.80 L23.00,24.70 L18.60,27.80 L13.00,31.00 L8.80,33.90 L5.50,36.80 L3.00,39.20 L0.00,41.00 L-3.00,39.20 L-5.50,36.80 L-8.80,33.90 L-13.00,31.00 L-18.60,27.80 L-23.00,24.70 L-28.50,21.80 L-32.00,20.60 L-37.00,19.90 L-44.00,20.30 L-70.00,20.30Z" fill="#f050f0"/>
<path d="M-70.00,20.30 L-44.00,20.30 L-37.00,19.90 L-32.00,20.60 L-28.50,21.80 L-23.00,24.70 L-18.60,27.80 L-13.00,31.00 L-8.80,33.90 L-5.50,36.80 L-3.00,39.20 L0.00,41.00 L3.00,39.20 L5.50,36.80 L8.80,33.90 L13.00,31.00 L18.60,27.80 L23.00,24.70 L28.50,21.80 L32.00,20.60 L37.00,19.90 L44.00,20.30 L70.00,20.30 L70.00,38.60 L50.00,38.60 L47.50,38.80 L40.00,40.00 L31.00,40.90 L24.00,41.30 L18.60,41.40 L12.00,41.50 L6.30,41.70 L0.00,42.00 L-6.30,41.70 L-12.00,41.50 L-18.60,41.40 L-24.00,41.30 L-31.00,40.90 L-40.00,40.00 L-47.50,38.80 L-50.00,38.60 L-70.00,38.60Z" fill="#e0f040"/>
<path d="M-70.00,38.60 L-50.00,38.60 L-47.50,38.80 L-40.00,40.00 L-31.00,40.90 L-24.00,41.30 L-18.60,41.40 L-12.00,41.50 L-6.30,41.70 L0.00,42.00 L6.30,41.70 L12.00,41.50 L18.60,41.40 L24.00,41.30 L31.00,40.90 L40.00,40.00 L47.50,38.80 L50.00,38.60 L70.00,38.60 L70.00,51.30 L48.00,51.30 L44.00,51.30 L37.00,52.00 L30.90,53.10 L24.00,54.40 L18.60,55.60 L12.00,56.60 L6.30,57.50 L0.00,58.50 L-6.30,57.50 L-12.00,56.60 L-18.60,55.60 L-24.00,54.40 L-30.90,53.10 L-37.00,52.00 L-44.00,51.30 L-48.00,51.30 L-70.00,51.30Z" fill="#e0f040"/>
<path d="M-70.00,51.30 L-48.00,51.30 L-44.00,51.30 L-37.00,52.00 L-30.90,53.10 L-24.00,54.40 L-18.60,55.60 L-12.00,56.60 L-6.30,57.50 L0.00,58.50 L6.30,57.50 L12.00,56.60 L18.60,55.60 L24.00,54.40 L30.90,53.10 L37.00,52.00 L44.00,51.30 L48.00,51.30 L70.00,51.30 L70.00,63.50 L49.00,63.50 L46.80,63.50 L40.70,60.60 L30.90,59.80 L24.00,60.80 L18.60,62.50 L12.00,64.20 L7.50,64.60 L0.00,65.60 L-7.50,64.60 L-12.00,64.20 L-18.60,62.50 L-24.00,60.80 L-30.90,59.80 L-40.70,60.60 L-46.80,63.50 L-49.00,63.50 L-70.00,63.50Z" fill="#a040f0"/>
<path d="M-70.00,63.50 L-49.00,63.50 L-46.80,63.50 L-40.70,60.60 L-30.90,59.80 L-24.00,60.80 L-18.60,62.50 L-12.00,64.20 L-7.50,64.60 L0.00,65.60 L7.50,64.60 L12.00,64.20 L18.60,62.50 L24.00,60.80 L30.90,59.80 L40.70,60.60 L46.80,63.50 L49.00,63.50 L70.00,63.50 L70.00,71.80 L46.00,71.80 L43.20,71.40 L37.00,69.00 L30.90,67.90 L24.00,68.00 L18.60,69.10 L14.00,71.20 L10.00,74.70 L0.00,75.70 L-10.00,74.70 L-14.00,71.20 L-18.60,69.10 L-24.00,68.00 L-30.90,67.90 L-37.00,69.00 L-43.20,71.40 L-46.00,71.80 L-70.00,71.80Z" fill="#5050e0"/>
<path d="M-70.00,71.80 L-46.00,71.80 L-43.20,71.40 L-37.00,69.00 L-30.90,67.90 L-24.00,68.00 L-18.60,69.10 L-14.00,71.20 L-10.00,74.70 L0.00,75.70 L10.00,74.70 L14.00,71.20 L18.60,69.10 L24.00,68.00 L30.90,67.90 L37.00,69.00 L43.20,71.40 L46.00,71.80 L70.00,71.80 L70.00,100.00 L-70.00,100.00Z" fill="#5050e0"/>
<path d="M-24.58,8.06 C-24.41,8.76 -23.94,9.65 -24.20,10.32 C-24.46,10.99 -25.56,11.99 -26.15,12.07 C-26.75,12.16 -27.31,11.30 -27.78,10.84 C-28.25,10.37 -28.80,10.08 -28.95,9.29 C-29.09,8.50 -28.89,6.76 -28.65,6.10 C-28.40,5.43 -27.91,5.68 -27.48,5.30 C-27.04,4.92 -26.43,3.69 -26.06,3.83 C-25.68,3.96 -25.46,5.39 -25.22,6.09 C-24.97,6.80 -24.75,7.35 -24.58,8.06Z" fill="#a040e0"/><path d="M29.11,8.71 C29.14,9.64 28.57,10.63 28.17,11.21 C27.77,11.78 27.19,12.16 26.72,12.17 C26.24,12.17 25.75,11.65 25.31,11.24 C24.87,10.83 24.19,10.32 24.08,9.69 C23.98,9.06 24.48,8.12 24.68,7.45 C24.88,6.78 25.01,6.10 25.30,5.69 C25.59,5.27 25.96,4.97 26.40,4.97 C26.85,4.96 27.53,5.02 27.99,5.65 C28.44,6.27 29.08,7.79 29.11,8.71Z" fill="#a040e0"/>
<path d="M3.12,7.10 C3.07,8.09 2.53,9.38 2.20,9.99 C1.88,10.60 1.74,10.95 1.16,10.76 C0.58,10.58 -0.63,9.34 -1.25,8.89 C-1.87,8.44 -2.17,8.64 -2.56,8.08 C-2.95,7.51 -3.78,6.26 -3.59,5.48 C-3.40,4.69 -2.03,3.88 -1.44,3.35 C-0.85,2.81 -0.68,2.16 -0.04,2.28 C0.61,2.39 1.94,3.23 2.46,4.03 C2.99,4.83 3.16,6.10 3.12,7.10Z" fill="#50e050"/><path d="M2.93,6.40 C3.03,7.22 2.69,8.31 2.35,8.98 C2.00,9.65 1.55,10.29 0.86,10.42 C0.16,10.54 -1.20,9.96 -1.82,9.71 C-2.45,9.46 -2.81,9.74 -2.91,8.91 C-3.00,8.08 -2.64,5.83 -2.41,4.73 C-2.18,3.62 -1.98,2.62 -1.51,2.27 C-1.04,1.93 -0.13,2.36 0.41,2.65 C0.96,2.94 1.35,3.38 1.77,4.00 C2.19,4.63 2.84,5.57 2.93,6.40Z" fill="#50e050"/>
<path d="M0.64,15.00 C0.61,17.03 0.54,16.42 0.48,18.19 C0.41,19.96 0.42,24.71 0.27,25.61 C0.12,26.51 -0.31,25.03 -0.45,23.60 C-0.58,22.17 -0.47,19.85 -0.53,17.03 C-0.59,14.22 -0.81,9.47 -0.81,6.70 C-0.80,3.93 -0.65,0.94 -0.51,0.42 C-0.36,-0.09 -0.14,2.68 0.05,3.60 C0.25,4.53 0.55,4.10 0.65,6.00 C0.75,7.90 0.67,12.96 0.64,15.00Z" fill="#a040e0"/><path d="M0.56,11.20 C0.60,13.96 0.92,18.14 0.82,20.89 C0.73,23.64 0.18,26.98 -0.01,27.71 C-0.20,28.44 -0.22,27.47 -0.31,25.27 C-0.41,23.08 -0.53,17.43 -0.60,14.51 C-0.66,11.60 -0.74,9.41 -0.71,7.81 C-0.67,6.21 -0.50,6.44 -0.38,4.91 C-0.26,3.38 -0.15,-1.25 0.02,-1.34 C0.18,-1.44 0.50,2.25 0.59,4.34 C0.68,6.43 0.52,8.44 0.56,11.20Z" fill="#a040e0"/>
<path d="M-7.76,7.73 C-7.54,8.28 -7.28,9.29 -7.96,9.71 C-8.63,10.12 -10.65,10.10 -11.82,10.23 C-12.99,10.35 -13.99,10.77 -14.98,10.45 C-15.97,10.13 -17.16,8.95 -17.75,8.31 C-18.34,7.66 -19.05,6.99 -18.52,6.60 C-17.99,6.21 -15.49,6.26 -14.57,5.98 C-13.64,5.70 -13.85,4.85 -12.97,4.92 C-12.09,4.99 -10.17,5.92 -9.30,6.39 C-8.44,6.85 -7.99,7.17 -7.76,7.73Z" fill="#5050e0"/><path d="M19.42,8.12 C19.32,8.77 18.90,9.21 17.86,9.64 C16.81,10.07 14.49,10.66 13.15,10.70 C11.80,10.75 10.62,10.33 9.80,9.90 C8.99,9.47 8.55,8.66 8.27,8.12 C7.99,7.59 7.60,7.06 8.11,6.69 C8.61,6.32 10.16,6.20 11.30,5.88 C12.44,5.55 13.75,4.78 14.94,4.76 C16.13,4.74 17.70,5.20 18.45,5.76 C19.19,6.32 19.52,7.48 19.42,8.12Z" fill="#5050e0"/>
<path d="M-8.55,13.82 C-8.68,14.68 -10.90,15.17 -12.05,15.70 C-13.20,16.24 -13.59,16.91 -15.44,17.03 C-17.30,17.15 -21.05,16.73 -23.16,16.41 C-25.27,16.08 -27.59,15.86 -28.12,15.09 C-28.64,14.32 -27.08,12.71 -26.32,11.79 C-25.57,10.86 -25.01,9.74 -23.59,9.56 C-22.16,9.37 -19.84,10.52 -17.79,10.68 C-15.74,10.84 -12.80,9.98 -11.26,10.51 C-9.72,11.03 -8.42,12.95 -8.55,13.82Z" fill="#a040e0"/><path d="M29.47,12.63 C29.28,13.38 27.81,14.87 26.28,15.38 C24.76,15.90 22.26,15.55 20.33,15.73 C18.40,15.90 16.64,16.63 14.70,16.44 C12.76,16.24 9.41,15.19 8.71,14.55 C8.00,13.91 9.67,13.46 10.48,12.61 C11.29,11.76 11.77,9.75 13.57,9.44 C15.37,9.12 18.98,10.48 21.30,10.72 C23.61,10.97 26.10,10.60 27.46,10.91 C28.83,11.23 29.67,11.89 29.47,12.63Z" fill="#a040e0"/>
<path d="M0.52,16.86 C0.49,18.01 -1.22,18.95 -1.82,20.12 C-2.41,21.28 -2.17,23.51 -3.06,23.84 C-3.95,24.16 -6.16,22.73 -7.15,22.07 C-8.14,21.42 -8.61,21.21 -8.97,19.91 C-9.34,18.61 -9.82,15.83 -9.34,14.28 C-8.86,12.73 -7.15,11.32 -6.10,10.62 C-5.06,9.92 -3.82,9.64 -3.07,10.06 C-2.32,10.49 -2.20,12.03 -1.60,13.17 C-1.00,14.30 0.56,15.70 0.52,16.86Z" fill="#60a8f0"/><path d="M10.15,16.27 C10.11,17.57 7.61,19.42 6.94,20.83 C6.26,22.23 6.74,24.50 6.08,24.72 C5.43,24.94 4.04,22.74 3.00,22.15 C1.96,21.55 0.23,22.34 -0.14,21.16 C-0.51,19.99 0.50,16.75 0.79,15.11 C1.09,13.46 0.96,11.97 1.64,11.30 C2.31,10.63 3.93,10.79 4.85,11.08 C5.76,11.36 6.25,12.14 7.13,13.01 C8.01,13.87 10.18,14.97 10.15,16.27Z" fill="#60a8f0"/>
<path d="M-14.18,9.72 C-14.24,10.13 -14.54,10.76 -15.29,11.30 C-16.04,11.85 -17.45,12.72 -18.70,13.00 C-19.95,13.28 -21.83,13.37 -22.79,12.98 C-23.74,12.59 -24.41,11.28 -24.42,10.64 C-24.44,10.01 -23.05,9.73 -22.88,9.19 C-22.70,8.65 -24.26,7.69 -23.37,7.40 C-22.48,7.12 -18.95,7.28 -17.55,7.51 C-16.15,7.75 -15.54,8.44 -14.98,8.81 C-14.42,9.18 -14.13,9.30 -14.18,9.72Z" fill="#6050e0"/><path d="M26.11,10.10 C25.69,10.62 23.67,11.03 22.44,11.42 C21.22,11.81 19.82,12.22 18.77,12.44 C17.72,12.66 16.94,12.94 16.16,12.75 C15.37,12.55 14.70,11.98 14.04,11.27 C13.38,10.55 11.88,9.01 12.18,8.47 C12.48,7.93 14.56,8.24 15.85,8.04 C17.14,7.84 18.41,7.24 19.92,7.28 C21.44,7.32 23.88,7.83 24.91,8.30 C25.94,8.77 26.52,9.58 26.11,10.10Z" fill="#6050e0"/>
<path d="M-5.93,21.86 C-6.32,22.77 -10.22,23.36 -12.00,24.39 C-13.78,25.42 -14.31,27.40 -16.59,28.05 C-18.87,28.71 -23.53,29.09 -25.68,28.34 C-27.82,27.59 -28.75,25.17 -29.45,23.55 C-30.15,21.93 -30.26,19.89 -29.87,18.61 C-29.49,17.33 -29.07,16.25 -27.14,15.87 C-25.20,15.49 -21.18,15.82 -18.27,16.33 C-15.35,16.84 -11.71,18.00 -9.65,18.92 C-7.60,19.84 -5.54,20.95 -5.93,21.86Z" fill="#f050f0"/><path d="M31.60,21.28 C30.75,22.52 27.06,24.18 25.45,25.15 C23.83,26.12 23.92,27.07 21.93,27.10 C19.95,27.13 16.20,25.90 13.54,25.33 C10.89,24.76 6.95,24.64 6.00,23.67 C5.06,22.71 6.79,20.83 7.88,19.52 C8.97,18.21 10.42,16.43 12.55,15.83 C14.67,15.22 17.61,15.58 20.62,15.89 C23.62,16.20 28.76,16.80 30.59,17.70 C32.42,18.59 32.46,20.04 31.60,21.28Z" fill="#f050f0"/>
<path d="M-8.06,27.84 C-7.98,28.69 -6.60,29.69 -7.06,30.31 C-7.52,30.93 -9.80,31.30 -10.82,31.58 C-11.84,31.86 -12.68,32.42 -13.17,31.98 C-13.66,31.54 -13.60,29.86 -13.79,28.93 C-13.98,28.00 -14.40,26.97 -14.31,26.40 C-14.21,25.83 -13.87,25.70 -13.22,25.50 C-12.57,25.31 -11.36,25.28 -10.41,25.23 C-9.46,25.18 -7.92,24.77 -7.53,25.21 C-7.14,25.64 -8.14,26.99 -8.06,27.84Z" fill="#a040e0"/><path d="M15.90,28.74 C15.92,29.25 14.60,29.09 14.00,29.56 C13.41,30.03 13.16,31.36 12.31,31.59 C11.46,31.82 9.75,31.38 8.90,30.94 C8.05,30.51 7.52,29.73 7.19,28.98 C6.87,28.23 6.69,27.19 6.98,26.43 C7.27,25.67 8.28,24.90 8.95,24.42 C9.62,23.95 10.16,23.24 10.98,23.59 C11.81,23.93 13.08,25.65 13.90,26.51 C14.72,27.37 15.88,28.24 15.90,28.74Z" fill="#a040e0"/>
<path d="M0.83,34.77 C0.77,36.43 -0.31,37.79 -1.33,39.11 C-2.36,40.42 -3.96,42.60 -5.33,42.65 C-6.71,42.70 -8.76,40.45 -9.58,39.39 C-10.40,38.32 -9.82,37.63 -10.28,36.25 C-10.74,34.87 -12.37,32.74 -12.34,31.09 C-12.32,29.44 -11.28,27.04 -10.11,26.34 C-8.95,25.65 -6.87,26.43 -5.35,26.90 C-3.83,27.37 -2.03,27.87 -1.00,29.18 C0.03,30.49 0.89,33.12 0.83,34.77Z" fill="#b04050"/><path d="M10.69,33.45 C10.61,35.22 10.46,37.77 10.01,39.09 C9.55,40.41 9.04,40.77 7.97,41.37 C6.89,41.98 4.54,43.63 3.57,42.74 C2.60,41.84 2.75,37.69 2.15,35.99 C1.56,34.29 -0.01,33.95 0.01,32.54 C0.03,31.14 1.12,28.27 2.27,27.56 C3.42,26.84 5.51,28.11 6.88,28.27 C8.24,28.42 9.83,27.62 10.46,28.49 C11.10,29.35 10.76,31.68 10.69,33.45Z" fill="#b04050"/>
<path d="M-27.54,22.32 C-27.47,23.08 -28.68,24.11 -29.86,24.89 C-31.04,25.67 -31.99,26.76 -34.60,27.02 C-37.21,27.28 -43.24,27.01 -45.51,26.48 C-47.78,25.94 -48.35,24.57 -48.23,23.81 C-48.11,23.05 -45.72,22.59 -44.78,21.92 C-43.83,21.25 -44.22,20.24 -42.57,19.81 C-40.93,19.38 -36.97,19.27 -34.91,19.35 C-32.86,19.43 -31.48,19.80 -30.25,20.29 C-29.03,20.79 -27.60,21.55 -27.54,22.32Z" fill="#f050f0"/><path d="M46.23,22.60 C46.31,23.22 47.04,24.66 45.93,25.18 C44.81,25.71 41.42,25.59 39.54,25.77 C37.66,25.94 36.23,26.54 34.65,26.23 C33.06,25.92 30.72,24.50 30.04,23.89 C29.37,23.28 29.89,23.28 30.61,22.58 C31.34,21.88 32.82,20.23 34.38,19.68 C35.93,19.14 38.10,19.02 39.95,19.32 C41.79,19.62 44.42,20.94 45.47,21.49 C46.52,22.03 46.16,21.98 46.23,22.60Z" fill="#f050f0"/>
<path d="M-42.47,27.20 C-42.57,28.34 -44.18,28.94 -44.72,29.71 C-45.26,30.49 -44.56,31.52 -45.71,31.83 C-46.86,32.14 -50.57,32.25 -51.61,31.60 C-52.65,30.95 -51.88,28.97 -51.95,27.91 C-52.03,26.86 -52.19,26.12 -52.05,25.26 C-51.91,24.39 -51.94,23.12 -51.10,22.75 C-50.26,22.37 -48.20,22.98 -47.03,23.00 C-45.86,23.03 -44.85,22.20 -44.09,22.90 C-43.33,23.60 -42.37,26.06 -42.47,27.20Z" fill="#b04050"/><path d="M52.46,27.18 C52.54,28.37 52.70,29.85 52.18,30.59 C51.67,31.33 50.46,31.79 49.36,31.62 C48.25,31.45 46.78,29.95 45.56,29.59 C44.35,29.23 42.59,30.10 42.08,29.47 C41.57,28.85 41.87,26.91 42.51,25.83 C43.15,24.74 44.75,23.43 45.91,22.96 C47.08,22.50 48.54,22.94 49.51,23.02 C50.48,23.10 51.24,22.74 51.74,23.44 C52.23,24.13 52.39,25.98 52.46,27.18Z" fill="#b04050"/>
<path d="M-50.81,29.78 C-50.82,30.29 -51.32,30.72 -51.65,31.04 C-51.97,31.35 -52.44,31.57 -52.77,31.69 C-53.09,31.80 -53.40,31.99 -53.62,31.74 C-53.84,31.49 -54.02,30.72 -54.10,30.17 C-54.18,29.62 -54.17,29.00 -54.09,28.44 C-54.01,27.89 -53.84,27.12 -53.60,26.84 C-53.35,26.57 -52.96,26.60 -52.62,26.80 C-52.29,26.99 -51.88,27.51 -51.58,28.01 C-51.28,28.51 -50.80,29.28 -50.81,29.78Z" fill="#ffc020"/><path d="M54.21,29.75 C54.22,30.27 54.10,30.33 53.89,30.79 C53.68,31.24 53.30,32.36 52.97,32.49 C52.64,32.62 52.28,31.93 51.92,31.57 C51.56,31.21 50.95,30.75 50.82,30.33 C50.69,29.91 50.89,29.53 51.11,29.07 C51.34,28.62 51.85,27.80 52.15,27.59 C52.44,27.38 52.60,27.78 52.88,27.80 C53.16,27.81 53.59,27.35 53.81,27.68 C54.03,28.00 54.19,29.23 54.21,29.75Z" fill="#ffc020"/>
<path d="M-9.14,35.54 C-9.82,37.37 -9.88,39.51 -12.42,40.55 C-14.96,41.59 -20.22,41.51 -24.38,41.77 C-28.54,42.04 -34.41,43.16 -37.38,42.15 C-40.36,41.14 -39.76,37.26 -42.24,35.70 C-44.72,34.14 -53.30,34.22 -52.26,32.79 C-51.21,31.35 -40.03,27.91 -35.97,27.10 C-31.91,26.30 -32.50,27.53 -27.90,27.95 C-23.29,28.36 -11.47,28.33 -8.35,29.59 C-5.22,30.86 -8.46,33.71 -9.14,35.54Z" fill="#e0f040"/><path d="M50.32,34.71 C50.66,35.82 46.90,37.92 43.91,38.66 C40.91,39.40 36.22,39.13 32.34,39.15 C28.46,39.17 25.38,39.08 20.61,38.79 C15.85,38.49 5.36,38.22 3.73,37.39 C2.10,36.57 8.26,35.33 10.84,33.83 C13.41,32.32 15.81,29.32 19.18,28.36 C22.54,27.40 27.22,27.46 31.00,28.06 C34.77,28.67 38.61,30.87 41.83,31.98 C45.05,33.08 49.97,33.59 50.32,34.71Z" fill="#e0f040"/>
<path d="M-19.65,29.89 C-20.08,30.10 -20.72,30.16 -21.86,30.28 C-23.01,30.41 -25.01,30.57 -26.53,30.65 C-28.05,30.73 -29.23,30.86 -30.99,30.78 C-32.75,30.71 -36.57,30.45 -37.09,30.22 C-37.60,29.99 -34.75,29.68 -34.07,29.41 C-33.38,29.15 -34.52,28.76 -32.98,28.63 C-31.45,28.50 -27.13,28.57 -24.85,28.64 C-22.58,28.71 -20.20,28.83 -19.33,29.04 C-18.47,29.25 -19.23,29.69 -19.65,29.89Z" fill="#ffc020"/><path d="M37.26,30.06 C37.42,30.28 37.92,30.36 36.51,30.50 C35.09,30.64 30.70,30.89 28.78,30.91 C26.85,30.93 26.09,30.71 24.97,30.61 C23.84,30.51 23.07,30.55 22.03,30.31 C20.98,30.07 18.34,29.36 18.71,29.17 C19.07,28.99 22.30,29.26 24.23,29.21 C26.16,29.15 28.41,28.85 30.29,28.85 C32.18,28.84 34.37,28.98 35.53,29.19 C36.69,29.39 37.10,29.84 37.26,30.06Z" fill="#ffc020"/>
<path d="M-7.20,35.20 C-7.15,35.96 -6.62,37.05 -6.81,37.71 C-7.01,38.37 -7.91,38.95 -8.38,39.16 C-8.85,39.38 -9.22,39.34 -9.61,39.01 C-10.01,38.68 -10.45,37.90 -10.73,37.19 C-11.02,36.48 -11.50,35.70 -11.32,34.78 C-11.15,33.85 -10.15,31.90 -9.69,31.62 C-9.23,31.34 -8.98,32.82 -8.56,33.08 C-8.14,33.34 -7.39,32.83 -7.16,33.19 C-6.94,33.54 -7.26,34.45 -7.20,35.20Z" fill="#ffc020"/><path d="M11.18,36.18 C11.16,36.72 10.74,36.44 10.44,36.98 C10.15,37.52 9.91,39.13 9.41,39.43 C8.92,39.73 7.91,39.22 7.47,38.79 C7.04,38.35 6.96,37.45 6.81,36.80 C6.67,36.16 6.51,35.61 6.61,34.90 C6.71,34.18 7.04,32.87 7.41,32.52 C7.78,32.17 8.30,32.59 8.83,32.79 C9.35,32.99 10.16,33.13 10.55,33.70 C10.94,34.26 11.20,35.63 11.18,36.18Z" fill="#ffc020"/>
<path d="M-5.54,47.98 C-5.98,50.07 -8.84,51.62 -10.77,52.86 C-12.70,54.11 -14.37,55.49 -17.13,55.46 C-19.89,55.43 -24.27,53.63 -27.32,52.69 C-30.37,51.75 -33.53,51.23 -35.41,49.82 C-37.29,48.41 -40.11,45.64 -38.61,44.23 C-37.12,42.82 -29.70,41.83 -26.45,41.34 C-23.20,40.84 -22.16,41.42 -19.11,41.25 C-16.06,41.08 -10.40,39.19 -8.14,40.31 C-5.88,41.44 -5.10,45.89 -5.54,47.98Z" fill="#e0f040"/><path d="M39.32,46.14 C38.83,47.82 32.22,49.51 29.78,50.53 C27.34,51.56 26.78,51.90 24.66,52.32 C22.55,52.74 19.95,53.67 17.09,53.06 C14.22,52.45 9.52,50.31 7.48,48.67 C5.45,47.03 3.91,44.49 4.89,43.23 C5.86,41.97 10.03,41.96 13.33,41.11 C16.63,40.27 21.46,38.26 24.69,38.15 C27.92,38.05 30.27,39.16 32.71,40.49 C35.15,41.82 39.81,44.47 39.32,46.14Z" fill="#e0f040"/>
<path d="M-35.15,47.54 C-34.99,48.99 -35.84,51.53 -36.74,52.67 C-37.65,53.81 -39.39,54.10 -40.58,54.37 C-41.77,54.64 -43.04,54.79 -43.87,54.30 C-44.70,53.82 -45.24,53.13 -45.54,51.46 C-45.84,49.80 -46.04,45.94 -45.69,44.32 C-45.33,42.70 -44.43,42.12 -43.39,41.76 C-42.36,41.40 -40.41,41.80 -39.46,42.16 C-38.51,42.53 -38.42,43.05 -37.70,43.95 C-36.98,44.84 -35.31,46.08 -35.15,47.54Z" fill="#c040f0"/><path d="M44.68,48.76 C44.58,50.49 44.87,52.97 44.36,53.58 C43.86,54.19 42.53,52.44 41.64,52.41 C40.74,52.38 40.11,53.60 38.97,53.40 C37.83,53.20 35.15,52.35 34.79,51.20 C34.43,50.04 36.47,47.86 36.83,46.47 C37.20,45.08 36.17,43.98 36.97,42.85 C37.77,41.72 40.30,39.63 41.63,39.69 C42.96,39.75 44.46,41.68 44.97,43.19 C45.48,44.70 44.78,47.02 44.68,48.76Z" fill="#c040f0"/>
<path d="M-24.84,57.22 C-24.76,58.66 -25.70,60.48 -26.96,61.38 C-28.21,62.27 -30.05,62.52 -32.39,62.58 C-34.72,62.65 -38.45,62.39 -40.95,61.77 C-43.45,61.16 -46.82,59.83 -47.39,58.87 C-47.95,57.92 -45.65,56.91 -44.32,56.04 C-42.99,55.18 -41.51,54.38 -39.41,53.69 C-37.32,53.01 -33.76,52.10 -31.76,51.94 C-29.76,51.78 -28.58,51.86 -27.42,52.74 C-26.27,53.62 -24.92,55.78 -24.84,57.22Z" fill="#a040f0"/><path d="M43.28,57.69 C42.99,59.03 43.60,60.73 42.78,61.66 C41.96,62.58 40.21,63.22 38.35,63.25 C36.50,63.28 33.43,62.35 31.65,61.84 C29.87,61.33 28.76,61.41 27.70,60.19 C26.64,58.96 24.77,55.40 25.28,54.49 C25.79,53.58 29.07,55.05 30.76,54.72 C32.46,54.39 33.15,52.69 35.44,52.51 C37.73,52.32 43.19,52.74 44.50,53.61 C45.81,54.47 43.56,56.35 43.28,57.69Z" fill="#a040f0"/>
<path d="M-10.98,62.30 C-10.84,63.14 -11.85,64.53 -13.05,65.27 C-14.25,66.00 -16.73,66.67 -18.17,66.69 C-19.61,66.72 -20.00,65.70 -21.67,65.40 C-23.35,65.10 -27.55,65.64 -28.22,64.88 C-28.89,64.11 -26.75,61.88 -25.69,60.80 C-24.63,59.72 -23.25,58.91 -21.86,58.38 C-20.47,57.85 -18.67,57.29 -17.34,57.60 C-16.02,57.91 -14.96,59.46 -13.90,60.24 C-12.84,61.02 -11.12,61.46 -10.98,62.30Z" fill="#f050f0"/><path d="M27.67,61.89 C27.79,62.83 25.53,65.07 24.08,65.75 C22.64,66.43 20.34,66.02 18.99,65.97 C17.64,65.93 17.45,65.89 15.99,65.48 C14.54,65.07 11.16,64.27 10.28,63.50 C9.40,62.73 10.19,61.77 10.72,60.87 C11.25,59.97 11.87,58.28 13.45,58.09 C15.03,57.90 18.55,59.42 20.20,59.75 C21.84,60.09 22.08,59.77 23.32,60.12 C24.57,60.48 27.54,60.95 27.67,61.89Z" fill="#f050f0"/>
<path d="M-6.06,59.93 C-5.99,60.61 -7.54,60.77 -8.17,61.11 C-8.80,61.46 -8.96,61.78 -9.84,62.00 C-10.73,62.21 -12.81,62.65 -13.48,62.38 C-14.15,62.11 -13.74,61.08 -13.85,60.37 C-13.96,59.66 -14.42,58.83 -14.16,58.10 C-13.90,57.38 -13.01,56.66 -12.29,56.03 C-11.56,55.39 -10.42,54.10 -9.80,54.27 C-9.19,54.45 -9.22,56.11 -8.59,57.05 C-7.97,58.00 -6.13,59.25 -6.06,59.93Z" fill="#b04050"/><path d="M15.95,58.69 C15.89,59.69 14.79,61.89 14.17,62.65 C13.55,63.42 13.11,63.19 12.23,63.31 C11.35,63.43 9.67,63.75 8.88,63.36 C8.08,62.98 7.75,62.07 7.46,61.01 C7.16,59.95 6.88,58.07 7.11,56.99 C7.33,55.91 7.97,54.91 8.82,54.52 C9.68,54.12 11.30,54.26 12.25,54.62 C13.19,54.98 13.89,55.98 14.51,56.66 C15.13,57.33 16.01,57.69 15.95,58.69Z" fill="#b04050"/>
<path d="M-26.56,68.59 C-26.10,69.94 -23.82,71.39 -24.90,72.48 C-25.98,73.57 -30.87,75.11 -33.03,75.15 C-35.20,75.18 -36.65,73.40 -37.88,72.68 C-39.12,71.96 -39.95,71.67 -40.43,70.81 C-40.92,69.95 -40.66,68.73 -40.79,67.52 C-40.93,66.31 -42.58,64.22 -41.24,63.57 C-39.90,62.93 -35.02,63.50 -32.75,63.65 C-30.49,63.79 -28.69,63.59 -27.66,64.42 C-26.62,65.24 -27.02,67.25 -26.56,68.59Z" fill="#5050e0"/><path d="M42.78,69.03 C43.10,70.22 42.66,72.00 41.71,73.01 C40.75,74.03 38.73,75.22 37.04,75.12 C35.35,75.02 33.16,73.13 31.57,72.41 C29.98,71.69 28.20,71.67 27.50,70.82 C26.81,69.96 26.75,68.47 27.38,67.29 C28.01,66.11 30.05,64.38 31.29,63.73 C32.54,63.09 33.44,63.06 34.86,63.42 C36.28,63.77 38.50,64.94 39.82,65.87 C41.14,66.81 42.47,67.84 42.78,69.03Z" fill="#5050e0"/>
<path d="M-9.61,71.14 C-9.54,71.53 -10.89,71.90 -11.96,72.40 C-13.04,72.89 -14.26,73.79 -16.07,74.10 C-17.89,74.42 -21.53,74.63 -22.85,74.30 C-24.18,73.97 -23.87,72.87 -24.02,72.12 C-24.17,71.36 -24.36,70.27 -23.76,69.76 C-23.15,69.26 -21.83,69.43 -20.39,69.09 C-18.95,68.74 -16.44,67.55 -15.09,67.71 C-13.75,67.87 -13.25,69.48 -12.33,70.05 C-11.42,70.62 -9.67,70.75 -9.61,71.14Z" fill="#a040f0"/><path d="M24.54,70.74 C24.82,71.58 24.87,73.01 23.98,73.66 C23.09,74.31 21.22,74.63 19.21,74.63 C17.20,74.64 13.26,74.04 11.93,73.69 C10.60,73.34 11.45,73.17 11.24,72.53 C11.03,71.89 10.20,70.38 10.68,69.84 C11.17,69.30 12.96,69.65 14.14,69.30 C15.32,68.96 16.43,67.86 17.78,67.75 C19.13,67.64 21.12,68.14 22.25,68.64 C23.37,69.14 24.25,69.90 24.54,70.74Z" fill="#a040f0"/>
<path d="M-25.43,75.39 C-25.74,76.38 -23.07,77.71 -24.16,78.51 C-25.26,79.32 -29.95,79.91 -32.00,80.19 C-34.05,80.47 -34.77,80.71 -36.48,80.20 C-38.18,79.68 -41.94,78.10 -42.25,77.11 C-42.56,76.11 -39.29,75.38 -38.34,74.24 C-37.39,73.10 -37.94,70.81 -36.57,70.25 C-35.20,69.69 -32.48,70.51 -30.10,70.89 C-27.73,71.27 -23.10,71.80 -22.32,72.55 C-21.54,73.29 -25.13,74.39 -25.43,75.39Z" fill="#5050e0"/><path d="M41.33,75.16 C41.09,76.30 39.78,78.10 38.42,78.83 C37.05,79.56 34.88,79.42 33.15,79.55 C31.42,79.67 29.78,79.97 28.04,79.56 C26.30,79.16 23.13,78.09 22.69,77.12 C22.26,76.16 24.90,74.75 25.44,73.77 C25.98,72.78 24.62,71.79 25.92,71.20 C27.23,70.60 30.97,70.07 33.29,70.20 C35.61,70.33 38.51,71.17 39.85,72.00 C41.19,72.83 41.57,74.02 41.33,75.16Z" fill="#5050e0"/>
<path d="M-23.99,82.20 C-23.99,83.44 -23.81,85.93 -24.33,86.69 C-24.86,87.45 -26.17,86.59 -27.14,86.77 C-28.12,86.95 -29.58,88.24 -30.18,87.74 C-30.79,87.25 -30.65,84.95 -30.75,83.80 C-30.84,82.65 -31.03,81.71 -30.76,80.82 C-30.48,79.94 -29.62,79.01 -29.10,78.49 C-28.59,77.98 -28.47,77.61 -27.67,77.74 C-26.87,77.86 -24.94,78.50 -24.33,79.25 C-23.72,79.99 -23.98,80.96 -23.99,82.20Z" fill="#a040f0"/><path d="M30.22,82.27 C30.22,83.15 30.53,84.51 30.26,85.22 C30.00,85.92 29.27,86.31 28.64,86.49 C28.01,86.66 27.31,86.47 26.48,86.25 C25.64,86.04 23.86,85.82 23.64,85.18 C23.42,84.54 24.82,83.44 25.17,82.42 C25.53,81.39 25.23,79.65 25.78,79.02 C26.33,78.39 27.72,78.48 28.47,78.64 C29.21,78.80 29.96,79.38 30.26,79.99 C30.55,80.60 30.22,81.40 30.22,82.27Z" fill="#a040f0"/>
<path d="M-13.28,86.25 C-13.24,87.68 -13.76,88.82 -14.57,89.42 C-15.38,90.02 -16.84,89.93 -18.14,89.84 C-19.45,89.75 -21.17,89.15 -22.39,88.88 C-23.62,88.61 -25.18,89.33 -25.49,88.23 C-25.80,87.14 -24.97,83.86 -24.27,82.30 C-23.56,80.75 -22.28,79.46 -21.27,78.92 C-20.27,78.37 -19.30,78.73 -18.23,79.05 C-17.15,79.36 -15.64,79.63 -14.81,80.83 C-13.99,82.03 -13.32,84.81 -13.28,86.25Z" fill="#f0f040"/><path d="M24.71,84.06 C24.56,85.19 23.39,86.15 22.60,87.64 C21.80,89.12 20.75,92.72 19.95,92.97 C19.15,93.21 18.55,90.25 17.80,89.10 C17.05,87.95 16.06,87.21 15.46,86.08 C14.86,84.95 14.12,83.55 14.20,82.31 C14.28,81.08 15.04,79.30 15.96,78.67 C16.87,78.04 18.41,78.17 19.67,78.53 C20.92,78.89 22.65,79.89 23.49,80.81 C24.33,81.73 24.86,82.92 24.71,84.06Z" fill="#f0f040"/>
<path d="M-19.09,79.44 C-19.09,79.97 -19.69,81.11 -20.02,81.59 C-20.35,82.06 -20.67,82.16 -21.08,82.28 C-21.49,82.40 -22.04,82.50 -22.50,82.30 C-22.95,82.09 -23.54,81.57 -23.83,81.04 C-24.11,80.51 -24.45,79.64 -24.21,79.10 C-23.97,78.56 -22.84,78.05 -22.37,77.78 C-21.90,77.52 -21.78,77.40 -21.39,77.50 C-21.01,77.60 -20.45,78.08 -20.07,78.40 C-19.68,78.72 -19.10,78.91 -19.09,79.44Z" fill="#ffc020"/><path d="M23.47,80.43 C23.62,80.99 24.31,81.28 23.98,81.68 C23.66,82.08 22.12,82.85 21.52,82.85 C20.93,82.86 20.71,82.00 20.41,81.70 C20.10,81.39 19.82,81.44 19.70,81.01 C19.58,80.58 19.57,79.77 19.71,79.11 C19.84,78.45 20.08,77.37 20.52,77.06 C20.95,76.74 21.90,77.02 22.32,77.24 C22.74,77.46 22.85,77.82 23.04,78.35 C23.23,78.88 23.31,79.88 23.47,80.43Z" fill="#ffc020"/>
<path d="M-30.43,85.42 C-30.48,85.97 -30.43,86.42 -31.26,86.91 C-32.08,87.41 -34.10,88.28 -35.39,88.41 C-36.67,88.54 -38.13,88.16 -38.98,87.70 C-39.83,87.24 -39.84,86.23 -40.49,85.64 C-41.14,85.04 -43.11,84.63 -42.89,84.13 C-42.68,83.64 -40.29,83.00 -39.20,82.69 C-38.11,82.38 -37.73,82.10 -36.35,82.26 C-34.97,82.43 -31.90,83.13 -30.92,83.66 C-29.93,84.19 -30.37,84.88 -30.43,85.42Z" fill="#a0a0f0"/><path d="M41.38,85.26 C41.39,85.80 40.71,86.23 40.05,86.68 C39.38,87.13 38.74,87.83 37.38,87.96 C36.02,88.10 32.88,87.87 31.89,87.49 C30.90,87.11 31.70,86.27 31.45,85.66 C31.19,85.04 30.01,84.16 30.36,83.79 C30.71,83.41 32.20,83.64 33.57,83.40 C34.93,83.16 37.50,82.36 38.57,82.37 C39.64,82.39 39.51,82.99 39.98,83.47 C40.45,83.96 41.37,84.73 41.38,85.26Z" fill="#a0a0f0"/>
<rect x="-4.00" y="38.00" width="8.00" height="3.00" fill="#b04050"/>
<rect x="-4.00" y="41.00" width="8.00" height="11.20" fill="#a040e0"/>
<rect x="-4.00" y="52.20" width="8.00" height="20.90" fill="#60b0f0"/>
<rect x="-4.00" y="73.10" width="8.00" height="18.90" fill="#a040e0"/>
</g></g>
<g clip-path="url(#fmclip)">
<path d="M-29.50,4.40 C-28.92,4.43 -27.58,4.40 -26.00,4.60 C-24.42,4.80 -21.83,5.20 -20.00,5.60 C-18.17,6.00 -16.67,6.43 -15.00,7.00 C-13.33,7.57 -11.50,8.30 -10.00,9.00 C-8.50,9.70 -7.25,10.50 -6.00,11.20 C-4.75,11.90 -3.50,12.77 -2.50,13.20 C-1.50,13.63 -0.83,13.80 0.00,13.80 C0.83,13.80 1.50,13.63 2.50,13.20 C3.50,12.77 4.75,11.90 6.00,11.20 C7.25,10.50 8.50,9.70 10.00,9.00 C11.50,8.30 13.33,7.57 15.00,7.00 C16.67,6.43 18.17,6.00 20.00,5.60 C21.83,5.20 24.42,4.80 26.00,4.60 C27.58,4.40 28.92,4.43 29.50,4.40" class="ln"/>
<path d="M-29.80,8.00 C-28.83,7.93 -26.07,7.18 -24.00,7.60 C-21.93,8.02 -19.23,9.47 -17.40,10.50 C-15.57,11.53 -14.23,12.77 -13.00,13.80 C-11.77,14.83 -11.08,15.67 -10.00,16.70 C-8.92,17.73 -7.53,18.98 -6.50,20.00 C-5.47,21.02 -4.88,21.93 -3.80,22.80 C-2.72,23.67 -1.27,25.20 0.00,25.20 C1.27,25.20 2.72,23.67 3.80,22.80 C4.88,21.93 5.47,21.02 6.50,20.00 C7.53,18.98 8.92,17.73 10.00,16.70 C11.08,15.67 11.77,14.83 13.00,13.80 C14.23,12.77 15.57,11.53 17.40,10.50 C19.23,9.47 21.93,8.02 24.00,7.60 C26.07,7.18 28.83,7.93 29.80,8.00" class="ln"/>
<path d="M-44.00,20.30 C-42.83,20.23 -39.00,19.85 -37.00,19.90 C-35.00,19.95 -33.42,20.28 -32.00,20.60 C-30.58,20.92 -30.00,21.12 -28.50,21.80 C-27.00,22.48 -24.65,23.70 -23.00,24.70 C-21.35,25.70 -20.27,26.75 -18.60,27.80 C-16.93,28.85 -14.63,29.98 -13.00,31.00 C-11.37,32.02 -10.05,32.93 -8.80,33.90 C-7.55,34.87 -6.47,35.92 -5.50,36.80 C-4.53,37.68 -3.92,38.50 -3.00,39.20 C-2.08,39.90 -1.00,41.00 0.00,41.00 C1.00,41.00 2.08,39.90 3.00,39.20 C3.92,38.50 4.53,37.68 5.50,36.80 C6.47,35.92 7.55,34.87 8.80,33.90 C10.05,32.93 11.37,32.02 13.00,31.00 C14.63,29.98 16.93,28.85 18.60,27.80 C20.27,26.75 21.35,25.70 23.00,24.70 C24.65,23.70 27.00,22.48 28.50,21.80 C30.00,21.12 30.58,20.92 32.00,20.60 C33.42,20.28 35.00,19.95 37.00,19.90 C39.00,19.85 42.83,20.23 44.00,20.30" class="ln"/>
<path d="M-50.00,38.60 C-49.58,38.63 -49.17,38.57 -47.50,38.80 C-45.83,39.03 -42.75,39.65 -40.00,40.00 C-37.25,40.35 -33.67,40.68 -31.00,40.90 C-28.33,41.12 -26.07,41.22 -24.00,41.30 C-21.93,41.38 -20.60,41.37 -18.60,41.40 C-16.60,41.43 -14.05,41.45 -12.00,41.50 C-9.95,41.55 -8.30,41.62 -6.30,41.70 C-4.30,41.78 -2.10,42.00 0.00,42.00 C2.10,42.00 4.30,41.78 6.30,41.70 C8.30,41.62 9.95,41.55 12.00,41.50 C14.05,41.45 16.60,41.43 18.60,41.40 C20.60,41.37 21.93,41.38 24.00,41.30 C26.07,41.22 28.33,41.12 31.00,40.90 C33.67,40.68 37.25,40.35 40.00,40.00 C42.75,39.65 45.83,39.03 47.50,38.80 C49.17,38.57 49.58,38.63 50.00,38.60" class="ln"/>
<path d="M-48.00,51.30 C-47.33,51.30 -45.83,51.18 -44.00,51.30 C-42.17,51.42 -39.18,51.70 -37.00,52.00 C-34.82,52.30 -33.07,52.70 -30.90,53.10 C-28.73,53.50 -26.05,53.98 -24.00,54.40 C-21.95,54.82 -20.60,55.23 -18.60,55.60 C-16.60,55.97 -14.05,56.28 -12.00,56.60 C-9.95,56.92 -7.25,57.35 -6.30,57.50" class="ln"/>
<path d="M48.00,51.30 C47.33,51.30 45.83,51.18 44.00,51.30 C42.17,51.42 39.18,51.70 37.00,52.00 C34.82,52.30 33.07,52.70 30.90,53.10 C28.73,53.50 26.05,53.98 24.00,54.40 C21.95,54.82 20.60,55.23 18.60,55.60 C16.60,55.97 14.05,56.28 12.00,56.60 C9.95,56.92 7.25,57.35 6.30,57.50" class="ln"/>
<path d="M-49.00,63.50 C-48.63,63.50 -48.18,63.98 -46.80,63.50 C-45.42,63.02 -43.35,61.22 -40.70,60.60 C-38.05,59.98 -33.68,59.77 -30.90,59.80 C-28.12,59.83 -26.05,60.35 -24.00,60.80 C-21.95,61.25 -20.60,61.93 -18.60,62.50 C-16.60,63.07 -13.85,63.85 -12.00,64.20 C-10.15,64.55 -8.25,64.53 -7.50,64.60" class="ln"/>
<path d="M49.00,63.50 C48.63,63.50 48.18,63.98 46.80,63.50 C45.42,63.02 43.35,61.22 40.70,60.60 C38.05,59.98 33.68,59.77 30.90,59.80 C28.12,59.83 26.05,60.35 24.00,60.80 C21.95,61.25 20.60,61.93 18.60,62.50 C16.60,63.07 13.85,63.85 12.00,64.20 C10.15,64.55 8.25,64.53 7.50,64.60" class="ln"/>
<path d="M-46.00,71.80 C-45.53,71.73 -44.70,71.87 -43.20,71.40 C-41.70,70.93 -39.05,69.58 -37.00,69.00 C-34.95,68.42 -33.07,68.07 -30.90,67.90 C-28.73,67.73 -26.05,67.80 -24.00,68.00 C-21.95,68.20 -20.27,68.57 -18.60,69.10 C-16.93,69.63 -15.43,70.27 -14.00,71.20 C-12.57,72.13 -10.67,74.12 -10.00,74.70" class="ln"/>
<path d="M46.00,71.80 C45.53,71.73 44.70,71.87 43.20,71.40 C41.70,70.93 39.05,69.58 37.00,69.00 C34.95,68.42 33.07,68.07 30.90,67.90 C28.73,67.73 26.05,67.80 24.00,68.00 C21.95,68.20 20.27,68.57 18.60,69.10 C16.93,69.63 15.43,70.27 14.00,71.20 C12.57,72.13 10.67,74.12 10.00,74.70" class="ln"/>
<path d="M-30.50,83.50 C-29.92,82.83 -28.25,80.67 -27.00,79.50 C-25.75,78.33 -24.20,77.30 -23.00,76.50 C-21.80,75.70 -20.97,75.42 -19.80,74.70 C-18.63,73.98 -17.13,72.88 -16.00,72.20 C-14.87,71.52 -13.50,70.87 -13.00,70.60" class="ln"/>
<path d="M30.50,83.50 C29.92,82.83 28.25,80.67 27.00,79.50 C25.75,78.33 24.20,77.30 23.00,76.50 C21.80,75.70 20.97,75.42 19.80,74.70 C18.63,73.98 17.13,72.88 16.00,72.20 C14.87,71.52 13.50,70.87 13.00,70.60" class="ln"/>
</g></g>
<g transform="translate(181.20,145.30) scale(1.000,1.000)">
<g clip-path="url(#fmclip)"><g filter="url(#rough2)">
<path d="M-70.00,-10.00 L70.00,-10.00 L70.00,4.40 L29.50,4.40 L26.00,4.60 L20.00,5.60 L15.00,7.00 L10.00,9.00 L6.00,11.20 L2.50,13.20 L0.00,13.80 L-2.50,13.20 L-6.00,11.20 L-10.00,9.00 L-15.00,7.00 L-20.00,5.60 L-26.00,4.60 L-29.50,4.40 L-70.00,4.40Z" fill="#f050f0"/>
<path d="M-70.00,4.40 L-29.50,4.40 L-26.00,4.60 L-20.00,5.60 L-15.00,7.00 L-10.00,9.00 L-6.00,11.20 L-2.50,13.20 L0.00,13.80 L2.50,13.20 L6.00,11.20 L10.00,9.00 L15.00,7.00 L20.00,5.60 L26.00,4.60 L29.50,4.40 L70.00,4.40 L70.00,8.00 L29.80,8.00 L24.00,7.60 L17.40,10.50 L13.00,13.80 L10.00,16.70 L6.50,20.00 L3.80,22.80 L0.00,25.20 L-3.80,22.80 L-6.50,20.00 L-10.00,16.70 L-13.00,13.80 L-17.40,10.50 L-24.00,7.60 L-29.80,8.00 L-70.00,8.00Z" fill="#a030e0"/>
<path d="M-70.00,8.00 L-29.80,8.00 L-24.00,7.60 L-17.40,10.50 L-13.00,13.80 L-10.00,16.70 L-6.50,20.00 L-3.80,22.80 L0.00,25.20 L3.80,22.80 L6.50,20.00 L10.00,16.70 L13.00,13.80 L17.40,10.50 L24.00,7.60 L29.80,8.00 L70.00,8.00 L70.00,20.30 L44.00,20.30 L37.00,19.90 L32.00,20.60 L28.50,21.80 L23.00,24.70 L18.60,27.80 L13.00,31.00 L8.80,33.90 L5.50,36.80 L3.00,39.20 L0.00,41.00 L-3.00,39.20 L-5.50,36.80 L-8.80,33.90 L-13.00,31.00 L-18.60,27.80 L-23.00,24.70 L-28.50,21.80 L-32.00,20.60 L-37.00,19.90 L-44.00,20.30 L-70.00,20.30Z" fill="#f050f0"/>
<path d="M-70.00,20.30 L-44.00,20.30 L-37.00,19.90 L-32.00,20.60 L-28.50,21.80 L-23.00,24.70 L-18.60,27.80 L-13.00,31.00 L-8.80,33.90 L-5.50,36.80 L-3.00,39.20 L0.00,41.00 L3.00,39.20 L5.50,36.80 L8.80,33.90 L13.00,31.00 L18.60,27.80 L23.00,24.70 L28.50,21.80 L32.00,20.60 L37.00,19.90 L44.00,20.30 L70.00,20.30 L70.00,38.60 L50.00,38.60 L47.50,38.80 L40.00,40.00 L31.00,40.90 L24.00,41.30 L18.60,41.40 L12.00,41.50 L6.30,41.70 L0.00,42.00 L-6.30,41.70 L-12.00,41.50 L-18.60,41.40 L-24.00,41.30 L-31.00,40.90 L-40.00,40.00 L-47.50,38.80 L-50.00,38.60 L-70.00,38.60Z" fill="#d8fcc8"/>
<path d="M-70.00,38.60 L-50.00,38.60 L-47.50,38.80 L-40.00,40.00 L-31.00,40.90 L-24.00,41.30 L-18.60,41.40 L-12.00,41.50 L-6.30,41.70 L0.00,42.00 L6.30,41.70 L12.00,41.50 L18.60,41.40 L24.00,41.30 L31.00,40.90 L40.00,40.00 L47.50,38.80 L50.00,38.60 L70.00,38.60 L70.00,51.30 L48.00,51.30 L44.00,51.30 L37.00,52.00 L30.90,53.10 L24.00,54.40 L18.60,55.60 L12.00,56.60 L6.30,57.50 L0.00,58.50 L-6.30,57.50 L-12.00,56.60 L-18.60,55.60 L-24.00,54.40 L-30.90,53.10 L-37.00,52.00 L-44.00,51.30 L-48.00,51.30 L-70.00,51.30Z" fill="#d8fcc8"/>
<path d="M-70.00,51.30 L-48.00,51.30 L-44.00,51.30 L-37.00,52.00 L-30.90,53.10 L-24.00,54.40 L-18.60,55.60 L-12.00,56.60 L-6.30,57.50 L0.00,58.50 L6.30,57.50 L12.00,56.60 L18.60,55.60 L24.00,54.40 L30.90,53.10 L37.00,52.00 L44.00,51.30 L48.00,51.30 L70.00,51.30 L70.00,63.50 L49.00,63.50 L46.80,63.50 L40.70,60.60 L30.90,59.80 L24.00,60.80 L18.60,62.50 L12.00,64.20 L7.50,64.60 L0.00,65.60 L-7.50,64.60 L-12.00,64.20 L-18.60,62.50 L-24.00,60.80 L-30.90,59.80 L-40.70,60.60 L-46.80,63.50 L-49.00,63.50 L-70.00,63.50Z" fill="#f050f0"/>
<path d="M-70.00,63.50 L-49.00,63.50 L-46.80,63.50 L-40.70,60.60 L-30.90,59.80 L-24.00,60.80 L-18.60,62.50 L-12.00,64.20 L-7.50,64.60 L0.00,65.60 L7.50,64.60 L12.00,64.20 L18.60,62.50 L24.00,60.80 L30.90,59.80 L40.70,60.60 L46.80,63.50 L49.00,63.50 L70.00,63.50 L70.00,71.80 L46.00,71.80 L43.20,71.40 L37.00,69.00 L30.90,67.90 L24.00,68.00 L18.60,69.10 L14.00,71.20 L10.00,74.70 L0.00,75.70 L-10.00,74.70 L-14.00,71.20 L-18.60,69.10 L-24.00,68.00 L-30.90,67.90 L-37.00,69.00 L-43.20,71.40 L-46.00,71.80 L-70.00,71.80Z" fill="#a030e0"/>
<path d="M-70.00,71.80 L-46.00,71.80 L-43.20,71.40 L-37.00,69.00 L-30.90,67.90 L-24.00,68.00 L-18.60,69.10 L-14.00,71.20 L-10.00,74.70 L0.00,75.70 L10.00,74.70 L14.00,71.20 L18.60,69.10 L24.00,68.00 L30.90,67.90 L37.00,69.00 L43.20,71.40 L46.00,71.80 L70.00,71.80 L70.00,100.00 L-70.00,100.00Z" fill="#d8fcc8"/>
<path d="M-15.29,5.86 C-15.37,6.68 -16.51,7.96 -17.30,8.38 C-18.10,8.81 -18.83,8.34 -20.07,8.42 C-21.30,8.50 -23.43,9.06 -24.69,8.85 C-25.95,8.64 -27.24,7.80 -27.61,7.15 C-27.98,6.51 -27.21,5.74 -26.91,5.00 C-26.61,4.25 -27.03,3.13 -25.82,2.69 C-24.60,2.24 -21.12,2.21 -19.62,2.34 C-18.12,2.46 -17.55,2.87 -16.83,3.46 C-16.11,4.05 -15.21,5.04 -15.29,5.86Z" fill="#d8fcc8"/><path d="M27.19,5.50 C27.08,6.15 25.36,6.97 24.83,7.65 C24.31,8.34 25.09,9.46 24.04,9.63 C22.99,9.80 20.06,9.18 18.54,8.68 C17.03,8.18 15.20,7.36 14.97,6.65 C14.75,5.94 16.48,5.01 17.21,4.41 C17.95,3.82 18.29,3.46 19.39,3.07 C20.49,2.68 22.78,1.98 23.80,2.10 C24.81,2.21 24.90,3.17 25.46,3.74 C26.03,4.31 27.29,4.85 27.19,5.50Z" fill="#d8fcc8"/>
<path d="M-2.14,5.86 C-2.31,6.31 -2.61,6.66 -2.83,7.00 C-3.05,7.34 -3.18,7.88 -3.48,7.90 C-3.77,7.92 -4.36,7.34 -4.62,7.13 C-4.87,6.91 -4.81,6.94 -4.99,6.60 C-5.17,6.27 -5.70,5.56 -5.69,5.10 C-5.67,4.64 -5.30,4.19 -4.90,3.85 C-4.50,3.50 -3.80,2.95 -3.29,3.03 C-2.79,3.11 -2.05,3.84 -1.86,4.31 C-1.67,4.79 -1.98,5.41 -2.14,5.86Z" fill="#ffc020"/><path d="M5.34,5.53 C5.35,6.00 5.62,6.61 5.42,7.01 C5.22,7.41 4.58,7.73 4.16,7.91 C3.74,8.08 3.25,8.31 2.90,8.07 C2.56,7.83 2.16,6.95 2.10,6.45 C2.03,5.95 2.40,5.52 2.51,5.06 C2.62,4.60 2.50,3.89 2.77,3.71 C3.03,3.52 3.65,3.86 4.08,3.94 C4.52,4.03 5.17,3.95 5.38,4.22 C5.59,4.48 5.33,5.07 5.34,5.53Z" fill="#ffc020"/>
<path d="M0.22,7.99 C0.24,8.75 -0.34,9.52 -0.83,10.28 C-1.32,11.04 -2.07,12.24 -2.73,12.53 C-3.38,12.82 -4.34,12.52 -4.76,12.02 C-5.18,11.53 -5.00,10.46 -5.25,9.57 C-5.49,8.69 -6.43,7.39 -6.23,6.70 C-6.03,6.02 -4.61,5.79 -4.04,5.46 C-3.46,5.14 -3.28,4.74 -2.77,4.77 C-2.25,4.81 -1.46,5.14 -0.97,5.68 C-0.47,6.22 0.20,7.22 0.22,7.99Z" fill="#a030e0"/><path d="M5.12,8.15 C5.06,8.73 5.58,9.33 5.39,10.06 C5.21,10.80 4.71,12.20 4.02,12.55 C3.33,12.91 1.77,12.62 1.26,12.18 C0.74,11.74 1.08,10.82 0.93,9.93 C0.79,9.03 0.22,7.48 0.39,6.79 C0.56,6.09 1.36,6.11 1.95,5.77 C2.53,5.42 3.27,4.57 3.90,4.71 C4.54,4.85 5.53,6.02 5.74,6.59 C5.94,7.17 5.17,7.57 5.12,8.15Z" fill="#a030e0"/>
<path d="M-2.38,16.34 C-2.40,17.75 -4.71,19.44 -6.13,20.44 C-7.56,21.43 -9.06,22.08 -10.92,22.29 C-12.78,22.50 -15.23,22.49 -17.31,21.71 C-19.39,20.93 -22.29,18.75 -23.42,17.62 C-24.55,16.49 -24.35,16.05 -24.12,14.92 C-23.88,13.78 -24.12,11.43 -22.01,10.79 C-19.91,10.15 -14.14,10.86 -11.48,11.06 C-8.81,11.25 -7.53,11.09 -6.01,11.97 C-4.49,12.85 -2.36,14.93 -2.38,16.34Z" fill="#a030e0"/><path d="M28.40,15.46 C28.05,16.75 25.36,19.65 23.29,20.79 C21.21,21.93 18.98,22.10 15.96,22.31 C12.95,22.51 8.07,22.62 5.20,22.02 C2.33,21.43 -0.12,19.87 -1.26,18.75 C-2.40,17.63 -3.36,16.49 -1.66,15.31 C0.04,14.13 5.60,12.71 8.92,11.66 C12.24,10.61 15.51,8.77 18.26,9.01 C21.01,9.24 23.72,11.99 25.42,13.06 C27.11,14.14 28.76,14.17 28.40,15.46Z" fill="#a030e0"/>
<path d="M-8.23,13.70 C-8.22,15.46 -8.01,17.87 -8.40,19.06 C-8.79,20.24 -9.68,20.73 -10.57,20.80 C-11.46,20.87 -12.68,20.08 -13.74,19.50 C-14.79,18.91 -16.39,18.75 -16.90,17.30 C-17.41,15.85 -17.20,12.32 -16.81,10.80 C-16.41,9.27 -15.59,8.66 -14.52,8.14 C-13.45,7.62 -11.41,7.60 -10.39,7.65 C-9.38,7.71 -8.80,7.48 -8.44,8.49 C-8.08,9.50 -8.23,11.94 -8.23,13.70Z" fill="#60b0f0"/><path d="M15.11,14.36 C14.99,16.02 14.83,17.70 14.50,19.20 C14.18,20.69 14.07,22.89 13.16,23.33 C12.25,23.77 9.96,22.79 9.04,21.85 C8.11,20.90 8.00,19.35 7.58,17.65 C7.17,15.96 6.41,13.33 6.57,11.67 C6.72,10.00 7.53,8.50 8.50,7.66 C9.48,6.81 11.30,6.33 12.42,6.59 C13.55,6.84 14.80,7.91 15.25,9.21 C15.70,10.50 15.24,12.69 15.11,14.36Z" fill="#60b0f0"/>
<path d="M-6.81,14.28 C-6.83,15.25 -7.71,16.50 -8.12,17.60 C-8.53,18.70 -8.90,20.66 -9.27,20.90 C-9.64,21.13 -9.91,19.72 -10.34,19.00 C-10.77,18.29 -11.64,17.44 -11.84,16.60 C-12.05,15.76 -11.78,14.88 -11.57,13.98 C-11.36,13.08 -10.94,11.95 -10.59,11.21 C-10.24,10.46 -9.89,9.39 -9.46,9.49 C-9.03,9.59 -8.44,11.02 -8.00,11.82 C-7.56,12.62 -6.79,13.32 -6.81,14.28Z" fill="#a030e0"/><path d="M12.34,13.98 C12.41,15.08 11.73,18.07 11.29,18.86 C10.86,19.66 10.31,18.59 9.75,18.76 C9.18,18.94 8.34,20.18 7.90,19.91 C7.47,19.63 7.16,18.05 7.13,17.11 C7.10,16.17 7.55,15.37 7.74,14.28 C7.93,13.18 7.95,11.18 8.26,10.55 C8.57,9.93 9.17,10.25 9.60,10.53 C10.03,10.81 10.40,11.66 10.86,12.24 C11.32,12.81 12.27,12.87 12.34,13.98Z" fill="#a030e0"/>
<path d="M-11.87,20.33 C-11.78,21.62 -13.17,24.44 -14.41,25.25 C-15.65,26.07 -17.47,25.32 -19.30,25.20 C-21.12,25.08 -23.93,24.90 -25.36,24.53 C-26.78,24.17 -27.40,23.94 -27.86,23.01 C-28.31,22.09 -28.50,20.20 -28.08,18.98 C-27.66,17.75 -26.89,15.98 -25.33,15.66 C-23.77,15.33 -20.46,16.74 -18.73,17.05 C-17.00,17.36 -16.10,16.95 -14.96,17.50 C-13.81,18.04 -11.96,19.03 -11.87,20.33Z" fill="#f050f0"/><path d="M31.70,22.08 C31.99,22.98 29.14,23.11 27.75,23.65 C26.36,24.19 25.29,24.84 23.38,25.32 C21.47,25.80 17.84,26.99 16.29,26.52 C14.75,26.05 14.84,23.60 14.12,22.48 C13.40,21.35 11.40,20.77 12.00,19.79 C12.59,18.80 15.73,17.23 17.69,16.56 C19.65,15.89 22.38,15.50 23.76,15.77 C25.15,16.05 24.69,17.17 26.01,18.22 C27.33,19.27 31.41,21.17 31.70,22.08Z" fill="#f050f0"/>
<path d="M-1.73,34.81 C-1.42,36.19 -0.19,39.53 -0.79,41.02 C-1.38,42.51 -3.62,43.49 -5.28,43.76 C-6.94,44.02 -9.47,43.61 -10.74,42.60 C-12.00,41.59 -12.27,39.32 -12.86,37.69 C-13.44,36.05 -14.72,33.96 -14.23,32.78 C-13.74,31.60 -11.14,31.21 -9.90,30.60 C-8.67,29.99 -8.03,28.76 -6.82,29.12 C-5.61,29.48 -3.48,31.80 -2.64,32.75 C-1.79,33.70 -2.04,33.43 -1.73,34.81Z" fill="#b04048"/><path d="M12.13,36.62 C12.21,38.42 12.19,41.29 11.64,42.31 C11.08,43.33 9.92,42.90 8.79,42.75 C7.65,42.59 6.06,41.87 4.82,41.36 C3.58,40.85 1.79,40.85 1.37,39.66 C0.94,38.47 1.75,36.07 2.28,34.22 C2.80,32.37 3.75,29.58 4.53,28.58 C5.31,27.57 5.86,27.68 6.97,28.17 C8.07,28.66 10.28,30.10 11.15,31.51 C12.01,32.92 12.05,34.82 12.13,36.62Z" fill="#b04048"/>
<path d="M-0.58,28.49 C-0.53,29.06 -0.37,29.17 -0.71,29.62 C-1.05,30.06 -1.97,31.10 -2.63,31.16 C-3.29,31.22 -4.08,30.29 -4.65,29.97 C-5.22,29.64 -5.63,29.82 -6.05,29.21 C-6.47,28.61 -7.34,26.94 -7.17,26.33 C-7.00,25.73 -5.69,25.67 -5.02,25.58 C-4.34,25.50 -3.80,25.74 -3.12,25.84 C-2.45,25.95 -1.40,25.78 -0.98,26.22 C-0.55,26.67 -0.62,27.93 -0.58,28.49Z" fill="#f050f0"/><path d="M6.60,27.89 C6.66,28.39 6.38,28.75 6.00,29.23 C5.62,29.72 4.98,30.62 4.33,30.81 C3.67,31.01 2.66,30.74 2.06,30.39 C1.46,30.05 1.00,29.37 0.75,28.74 C0.50,28.11 0.45,27.18 0.57,26.61 C0.70,26.04 0.89,25.59 1.51,25.32 C2.13,25.05 3.60,24.83 4.29,24.98 C4.99,25.13 5.30,25.74 5.68,26.23 C6.07,26.71 6.55,27.39 6.60,27.89Z" fill="#f050f0"/>
<path d="M-28.76,25.28 C-29.36,26.21 -27.65,27.54 -29.25,28.16 C-30.85,28.77 -35.28,28.93 -38.37,28.95 C-41.46,28.97 -46.07,28.79 -47.79,28.28 C-49.50,27.76 -48.15,26.68 -48.66,25.87 C-49.18,25.05 -51.01,24.28 -50.88,23.40 C-50.74,22.52 -49.94,21.08 -47.85,20.58 C-45.76,20.08 -42.05,20.07 -38.35,20.40 C-34.65,20.73 -27.24,21.77 -25.64,22.58 C-24.05,23.39 -28.16,24.35 -28.76,25.28Z" fill="#f050f0"/><path d="M53.94,24.38 C54.38,25.17 51.08,26.47 49.16,27.24 C47.23,28.00 45.60,28.66 42.38,28.96 C39.17,29.27 32.52,29.53 29.88,29.08 C27.23,28.63 27.56,27.32 26.52,26.27 C25.48,25.23 22.35,23.66 23.62,22.81 C24.89,21.97 31.43,21.47 34.15,21.20 C36.87,20.93 37.89,20.96 39.95,21.17 C42.00,21.39 44.15,21.93 46.48,22.46 C48.81,23.00 53.49,23.58 53.94,24.38Z" fill="#f050f0"/>
<path d="M-23.81,30.06 C-23.79,30.60 -25.48,30.90 -26.39,31.40 C-27.31,31.90 -28.33,32.88 -29.29,33.06 C-30.25,33.23 -30.82,32.77 -32.15,32.47 C-33.49,32.17 -36.44,31.86 -37.28,31.25 C-38.12,30.63 -37.60,29.65 -37.20,28.78 C-36.81,27.90 -36.41,26.63 -34.88,25.98 C-33.36,25.33 -29.47,24.52 -28.07,24.88 C-26.68,25.25 -27.23,27.31 -26.52,28.17 C-25.81,29.03 -23.83,29.52 -23.81,30.06Z" fill="#b04048"/><path d="M34.60,29.14 C34.78,30.05 36.20,32.59 35.59,33.29 C34.99,33.99 32.42,33.24 31.00,33.33 C29.58,33.41 28.29,34.26 27.07,33.80 C25.86,33.33 24.26,31.56 23.71,30.56 C23.16,29.57 23.02,28.40 23.77,27.84 C24.51,27.27 26.80,27.50 28.20,27.16 C29.61,26.81 31.16,25.65 32.21,25.76 C33.27,25.86 34.14,27.22 34.53,27.79 C34.93,28.35 34.43,28.22 34.60,29.14Z" fill="#b04048"/>
<path d="M-49.75,26.82 C-49.67,27.51 -50.06,28.90 -50.49,29.59 C-50.92,30.28 -51.88,30.76 -52.35,30.95 C-52.82,31.14 -52.85,31.19 -53.28,30.71 C-53.71,30.22 -54.56,28.74 -54.92,28.05 C-55.28,27.36 -55.64,27.06 -55.46,26.56 C-55.29,26.07 -54.46,25.48 -53.87,25.10 C-53.29,24.71 -52.45,24.22 -51.97,24.27 C-51.48,24.33 -51.33,25.01 -50.96,25.43 C-50.59,25.86 -49.83,26.13 -49.75,26.82Z" fill="#ff70a0"/><path d="M55.13,27.47 C55.16,28.28 54.94,29.45 54.49,29.91 C54.05,30.37 52.97,30.30 52.46,30.25 C51.94,30.20 51.87,29.89 51.42,29.60 C50.97,29.31 50.07,29.03 49.78,28.53 C49.49,28.03 49.39,27.28 49.66,26.58 C49.92,25.87 50.89,24.73 51.39,24.30 C51.90,23.86 52.21,23.84 52.70,23.96 C53.20,24.09 53.93,24.45 54.34,25.03 C54.74,25.62 55.11,26.66 55.13,27.47Z" fill="#ff70a0"/>
<path d="M-11.15,35.33 C-11.99,36.40 -15.88,38.37 -18.66,39.33 C-21.44,40.28 -24.34,40.97 -27.84,41.04 C-31.35,41.11 -36.20,40.27 -39.69,39.76 C-43.19,39.24 -46.70,38.96 -48.81,37.92 C-50.91,36.88 -52.86,34.68 -52.34,33.52 C-51.82,32.36 -49.32,31.47 -45.69,30.98 C-42.06,30.48 -35.91,30.25 -30.56,30.57 C-25.21,30.89 -16.82,32.11 -13.59,32.90 C-10.35,33.70 -10.30,34.25 -11.15,35.33Z" fill="#d8fcc8"/><path d="M49.11,35.58 C49.28,36.89 49.75,38.52 46.92,39.21 C44.09,39.90 36.14,39.27 32.12,39.72 C28.11,40.18 25.94,42.19 22.82,41.94 C19.70,41.68 14.72,39.49 13.41,38.19 C12.10,36.90 13.56,35.13 14.98,34.19 C16.40,33.24 19.15,33.12 21.94,32.54 C24.73,31.95 27.72,30.88 31.71,30.68 C35.71,30.49 43.01,30.55 45.91,31.37 C48.81,32.18 48.94,34.28 49.11,35.58Z" fill="#d8fcc8"/>
<path d="M-12.53,41.91 C-13.12,42.64 -12.03,43.75 -14.05,44.38 C-16.08,45.01 -21.67,45.63 -24.69,45.68 C-27.71,45.73 -28.82,44.98 -32.17,44.68 C-35.51,44.38 -43.58,44.39 -44.76,43.88 C-45.93,43.37 -41.36,42.35 -39.21,41.62 C-37.07,40.88 -34.38,39.97 -31.90,39.47 C-29.43,38.97 -27.94,38.54 -24.38,38.63 C-20.81,38.72 -12.50,39.47 -10.52,40.01 C-8.55,40.56 -11.94,41.18 -12.53,41.91Z" fill="#d8fcc8"/><path d="M46.85,42.14 C46.74,42.92 40.69,43.46 38.34,44.14 C35.99,44.83 35.88,46.01 32.77,46.27 C29.65,46.54 23.28,46.08 19.65,45.74 C16.01,45.40 12.24,44.94 10.96,44.24 C9.68,43.55 10.24,42.33 11.96,41.58 C13.68,40.83 18.75,40.19 21.26,39.74 C23.77,39.29 24.06,38.89 27.01,38.85 C29.97,38.81 35.69,38.95 38.99,39.50 C42.30,40.05 46.96,41.37 46.85,42.14Z" fill="#d8fcc8"/>
<path d="M-16.95,51.18 C-17.11,52.25 -20.08,52.83 -21.41,53.99 C-22.75,55.15 -23.61,57.86 -24.95,58.12 C-26.28,58.39 -27.91,56.16 -29.42,55.59 C-30.94,55.03 -33.72,55.75 -34.06,54.76 C-34.39,53.76 -32.03,51.13 -31.43,49.60 C-30.83,48.08 -31.52,45.96 -30.47,45.59 C-29.41,45.22 -26.79,47.06 -25.12,47.39 C-23.46,47.72 -21.85,46.95 -20.49,47.59 C-19.13,48.22 -16.80,50.11 -16.95,51.18Z" fill="#b04048"/><path d="M34.32,50.89 C34.77,52.02 34.26,54.60 33.30,55.77 C32.35,56.94 30.37,57.64 28.59,57.93 C26.81,58.23 24.60,58.37 22.60,57.54 C20.60,56.71 16.88,54.24 16.58,52.95 C16.27,51.65 19.94,50.65 20.79,49.77 C21.64,48.89 20.68,48.42 21.69,47.66 C22.69,46.89 25.32,44.95 26.81,45.16 C28.30,45.38 29.37,48.00 30.62,48.96 C31.87,49.91 33.88,49.75 34.32,50.89Z" fill="#b04048"/>
<path d="M-4.27,47.73 C-4.36,49.24 -4.79,48.93 -5.42,50.17 C-6.05,51.40 -7.33,54.99 -8.04,55.15 C-8.76,55.31 -9.20,52.16 -9.70,51.13 C-10.21,50.10 -10.74,49.95 -11.05,48.98 C-11.35,48.01 -11.68,46.95 -11.55,45.30 C-11.42,43.66 -10.90,40.32 -10.28,39.11 C-9.66,37.91 -8.73,37.74 -7.83,38.07 C-6.93,38.40 -5.49,39.48 -4.89,41.09 C-4.30,42.70 -4.18,46.22 -4.27,47.73Z" fill="#b04048"/><path d="M11.60,45.28 C11.60,47.10 11.09,49.95 10.66,51.47 C10.23,53.00 9.73,54.11 9.02,54.44 C8.31,54.77 7.09,54.37 6.42,53.46 C5.75,52.55 5.35,50.60 5.00,48.96 C4.65,47.32 4.10,45.45 4.31,43.63 C4.51,41.81 5.44,39.00 6.23,38.05 C7.01,37.11 8.28,37.53 9.02,37.95 C9.76,38.37 10.25,39.34 10.68,40.57 C11.11,41.79 11.61,43.46 11.60,45.28Z" fill="#b04048"/>
<path d="M-33.12,52.94 C-33.07,54.77 -34.30,55.60 -35.34,56.56 C-36.38,57.53 -38.22,58.04 -39.34,58.72 C-40.46,59.41 -41.05,61.49 -42.06,60.67 C-43.06,59.85 -45.17,55.54 -45.35,53.79 C-45.53,52.05 -43.77,51.81 -43.13,50.18 C-42.49,48.56 -42.18,44.92 -41.52,44.03 C-40.85,43.13 -40.13,44.54 -39.15,44.80 C-38.16,45.06 -36.62,44.24 -35.62,45.60 C-34.61,46.95 -33.16,51.12 -33.12,52.94Z" fill="#f050f0"/><path d="M43.46,52.10 C43.43,54.22 44.35,56.37 43.83,58.00 C43.32,59.62 41.55,62.00 40.37,61.86 C39.19,61.72 37.62,58.27 36.76,57.15 C35.91,56.04 35.56,56.73 35.23,55.16 C34.89,53.60 34.55,49.28 34.75,47.77 C34.94,46.26 35.42,46.48 36.39,46.10 C37.37,45.71 39.33,45.60 40.61,45.46 C41.88,45.32 43.56,44.15 44.03,45.26 C44.51,46.37 43.50,49.97 43.46,52.10Z" fill="#f050f0"/>
<path d="M-29.67,47.20 C-29.66,47.82 -28.98,49.02 -29.34,49.36 C-29.71,49.70 -31.18,49.32 -31.86,49.24 C-32.54,49.16 -32.92,49.00 -33.42,48.90 C-33.91,48.79 -34.53,49.07 -34.84,48.62 C-35.14,48.17 -35.55,46.73 -35.24,46.18 C-34.94,45.63 -33.59,45.45 -33.01,45.35 C-32.42,45.24 -32.33,45.49 -31.73,45.55 C-31.14,45.60 -29.78,45.39 -29.43,45.66 C-29.09,45.94 -29.69,46.59 -29.67,47.20Z" fill="#ff70c0"/><path d="M34.97,47.42 C34.85,47.97 33.93,48.56 33.43,48.90 C32.92,49.24 32.43,49.35 31.94,49.47 C31.46,49.59 30.84,49.84 30.52,49.60 C30.20,49.36 30.11,48.52 30.02,48.05 C29.92,47.58 29.93,47.18 29.96,46.79 C30.00,46.39 29.76,45.85 30.23,45.68 C30.70,45.50 32.13,45.73 32.79,45.72 C33.44,45.71 33.80,45.33 34.16,45.61 C34.52,45.90 35.09,46.88 34.97,47.42Z" fill="#ff70c0"/>
<path d="M-28.27,57.58 C-28.48,58.55 -27.25,59.85 -28.26,60.79 C-29.26,61.73 -32.47,63.20 -34.30,63.24 C-36.13,63.28 -37.63,61.80 -39.22,61.03 C-40.82,60.26 -43.24,59.24 -43.87,58.63 C-44.50,58.03 -43.61,58.27 -43.03,57.41 C-42.44,56.55 -42.23,54.28 -40.34,53.47 C-38.45,52.66 -33.90,52.32 -31.68,52.56 C-29.46,52.81 -27.59,54.10 -27.02,54.93 C-26.45,55.77 -28.07,56.60 -28.27,57.58Z" fill="#f050f0"/><path d="M44.47,58.56 C44.12,59.56 43.16,58.98 41.99,59.78 C40.81,60.57 39.26,62.79 37.42,63.33 C35.58,63.86 33.22,63.71 30.96,62.97 C28.71,62.24 24.47,60.03 23.89,58.92 C23.32,57.82 26.50,57.40 27.50,56.35 C28.50,55.30 28.54,52.99 29.91,52.60 C31.27,52.21 33.32,53.83 35.69,54.02 C38.06,54.21 42.66,52.99 44.12,53.74 C45.59,54.50 44.83,57.55 44.47,58.56Z" fill="#f050f0"/>
<path d="M-7.01,65.20 C-6.80,66.24 -7.67,67.09 -10.29,67.89 C-12.91,68.70 -19.65,69.73 -22.75,70.01 C-25.84,70.29 -26.05,70.31 -28.86,69.57 C-31.68,68.82 -38.13,66.55 -39.63,65.52 C-41.13,64.49 -39.23,64.14 -37.84,63.39 C-36.45,62.64 -33.93,61.80 -31.26,61.01 C-28.60,60.21 -25.12,58.52 -21.84,58.62 C-18.56,58.73 -14.04,60.56 -11.57,61.65 C-9.10,62.75 -7.22,64.16 -7.01,65.20Z" fill="#a030e0"/><path d="M38.78,64.92 C38.71,65.88 39.29,66.26 36.98,66.91 C34.68,67.57 28.12,68.62 24.95,68.83 C21.79,69.05 21.18,68.60 18.00,68.21 C14.82,67.83 7.31,67.52 5.88,66.50 C4.44,65.48 8.54,63.22 9.40,62.11 C10.26,61.01 8.18,60.23 11.01,59.86 C13.85,59.48 22.03,59.64 26.43,59.86 C30.82,60.08 35.35,60.35 37.40,61.19 C39.46,62.04 38.85,63.97 38.78,64.92Z" fill="#a030e0"/>
<path d="M-9.08,56.12 C-8.83,56.73 -9.87,57.40 -11.18,57.99 C-12.48,58.57 -15.42,59.59 -16.89,59.63 C-18.37,59.67 -18.90,58.65 -20.04,58.22 C-21.17,57.80 -22.84,57.73 -23.70,57.07 C-24.56,56.40 -25.35,54.84 -25.20,54.23 C-25.04,53.62 -24.34,53.64 -22.77,53.42 C-21.20,53.21 -17.48,52.80 -15.79,52.95 C-14.10,53.11 -13.74,53.83 -12.62,54.36 C-11.50,54.89 -9.32,55.52 -9.08,56.12Z" fill="#d8fcc8"/><path d="M25.51,56.31 C25.61,56.91 24.12,57.61 22.88,57.94 C21.63,58.27 19.62,58.21 18.03,58.31 C16.43,58.41 14.60,58.67 13.30,58.56 C12.00,58.45 10.82,58.19 10.21,57.65 C9.59,57.10 9.20,56.00 9.63,55.29 C10.06,54.58 11.26,53.79 12.78,53.40 C14.30,53.01 17.17,52.79 18.76,52.95 C20.34,53.10 21.16,53.78 22.28,54.34 C23.41,54.90 25.41,55.71 25.51,56.31Z" fill="#d8fcc8"/>
<path d="M-37.49,66.08 C-37.46,66.65 -38.05,67.41 -38.41,67.86 C-38.76,68.30 -39.07,68.53 -39.63,68.73 C-40.19,68.94 -41.24,69.30 -41.77,69.07 C-42.30,68.84 -42.61,68.10 -42.82,67.36 C-43.02,66.63 -43.13,65.27 -43.01,64.66 C-42.89,64.06 -42.57,63.98 -42.11,63.73 C-41.66,63.48 -40.87,63.04 -40.29,63.15 C-39.71,63.27 -39.10,63.95 -38.63,64.44 C-38.16,64.92 -37.53,65.51 -37.49,66.08Z" fill="#f050f0"/><path d="M42.99,66.47 C42.95,67.11 42.18,67.51 41.84,68.00 C41.49,68.48 41.27,69.33 40.92,69.38 C40.57,69.43 40.20,68.64 39.74,68.29 C39.29,67.94 38.43,67.83 38.21,67.27 C37.99,66.71 38.24,65.62 38.42,64.93 C38.59,64.23 38.89,63.30 39.27,63.10 C39.66,62.90 40.26,63.55 40.73,63.73 C41.20,63.90 41.71,63.70 42.09,64.15 C42.47,64.61 43.03,65.83 42.99,66.47Z" fill="#f050f0"/>
<path d="M-39.11,65.69 C-39.09,66.29 -39.17,67.18 -39.45,67.64 C-39.73,68.09 -40.36,68.36 -40.78,68.44 C-41.21,68.52 -41.65,68.45 -42.01,68.11 C-42.37,67.78 -42.77,67.02 -42.95,66.44 C-43.14,65.86 -43.29,65.12 -43.12,64.66 C-42.94,64.19 -42.31,64.00 -41.90,63.64 C-41.49,63.29 -41.05,62.45 -40.67,62.52 C-40.29,62.58 -39.88,63.51 -39.63,64.04 C-39.37,64.57 -39.14,65.09 -39.11,65.69Z" fill="#ffc020"/><path d="M42.53,65.34 C42.48,65.96 42.54,66.68 42.34,67.18 C42.14,67.67 41.64,68.33 41.33,68.31 C41.02,68.30 40.75,67.41 40.47,67.11 C40.19,66.80 39.85,66.96 39.65,66.48 C39.44,65.99 39.21,64.62 39.26,64.21 C39.32,63.80 39.61,64.21 39.99,64.02 C40.36,63.82 41.05,63.14 41.49,63.05 C41.93,62.96 42.45,63.10 42.62,63.48 C42.79,63.86 42.58,64.72 42.53,65.34Z" fill="#ffc020"/>
<path d="M-18.14,64.98 C-18.15,65.46 -18.23,65.87 -18.40,66.26 C-18.57,66.65 -18.81,67.19 -19.13,67.32 C-19.46,67.44 -20.07,67.20 -20.36,67.00 C-20.65,66.81 -20.85,66.57 -20.89,66.15 C-20.93,65.73 -20.72,65.13 -20.58,64.49 C-20.44,63.84 -20.29,62.73 -20.05,62.30 C-19.81,61.86 -19.44,61.70 -19.15,61.88 C-18.87,62.05 -18.50,62.83 -18.33,63.35 C-18.16,63.86 -18.12,64.49 -18.14,64.98Z" fill="#ffc020"/><path d="M20.87,64.87 C20.87,65.64 20.83,66.73 20.68,67.17 C20.53,67.62 20.23,67.60 19.97,67.56 C19.71,67.52 19.41,67.10 19.11,66.94 C18.81,66.78 18.34,67.04 18.18,66.61 C18.01,66.17 17.98,64.92 18.12,64.33 C18.25,63.74 18.74,63.45 18.99,63.08 C19.25,62.71 19.38,62.20 19.66,62.11 C19.95,62.02 20.49,62.09 20.70,62.55 C20.90,63.01 20.87,64.10 20.87,64.87Z" fill="#ffc020"/>
<path d="M-11.57,79.90 C-11.11,81.75 -12.26,83.49 -13.98,85.37 C-15.70,87.26 -19.13,90.05 -21.90,91.20 C-24.67,92.36 -28.03,93.77 -30.59,92.28 C-33.15,90.79 -35.34,84.79 -37.26,82.26 C-39.18,79.74 -42.90,78.91 -42.12,77.13 C-41.35,75.35 -35.98,72.45 -32.60,71.60 C-29.23,70.75 -24.49,71.58 -21.85,72.02 C-19.21,72.46 -18.47,72.93 -16.76,74.25 C-15.05,75.56 -12.04,78.05 -11.57,79.90Z" fill="#d8fcc8"/><path d="M36.70,79.75 C36.89,81.68 35.01,83.92 33.89,85.66 C32.77,87.41 32.47,89.95 29.98,90.21 C27.49,90.47 21.79,88.06 18.96,87.22 C16.13,86.39 14.17,87.25 13.00,85.21 C11.83,83.17 10.95,77.14 11.96,75.00 C12.97,72.86 16.72,72.99 19.06,72.37 C21.40,71.75 23.71,70.96 25.98,71.25 C28.26,71.54 30.93,72.68 32.72,74.10 C34.50,75.51 36.50,77.82 36.70,79.75Z" fill="#d8fcc8"/>
<path d="M-31.22,75.96 C-30.88,76.96 -30.01,78.55 -30.68,79.23 C-31.35,79.92 -34.10,80.15 -35.25,80.07 C-36.40,79.99 -36.51,79.35 -37.56,78.75 C-38.61,78.15 -41.29,77.24 -41.57,76.45 C-41.84,75.67 -39.72,74.92 -39.23,74.02 C-38.75,73.13 -39.46,71.51 -38.65,71.10 C-37.84,70.68 -35.37,71.18 -34.38,71.53 C-33.38,71.88 -33.21,72.44 -32.69,73.18 C-32.16,73.91 -31.55,74.95 -31.22,75.96Z" fill="#50f050"/><path d="M39.32,75.08 C39.51,75.88 39.99,77.13 39.46,77.99 C38.92,78.84 37.28,80.05 36.13,80.21 C34.98,80.36 33.63,79.38 32.53,78.91 C31.44,78.45 30.03,78.11 29.57,77.40 C29.11,76.68 29.30,75.52 29.77,74.63 C30.24,73.75 31.25,72.49 32.39,72.07 C33.53,71.65 35.61,71.93 36.59,72.12 C37.58,72.31 37.84,72.70 38.30,73.19 C38.75,73.68 39.12,74.28 39.32,75.08Z" fill="#50f050"/>
<path d="M-21.22,83.56 C-21.45,84.54 -21.35,85.92 -21.94,86.97 C-22.52,88.01 -23.91,89.78 -24.74,89.81 C-25.57,89.84 -26.08,87.65 -26.91,87.16 C-27.75,86.66 -29.11,87.47 -29.76,86.83 C-30.41,86.18 -31.00,84.48 -30.81,83.30 C-30.63,82.11 -29.82,80.53 -28.67,79.72 C-27.52,78.91 -25.25,78.23 -23.89,78.45 C-22.53,78.67 -20.97,80.20 -20.52,81.05 C-20.08,81.90 -20.98,82.57 -21.22,83.56Z" fill="#50f050"/><path d="M29.58,84.45 C29.53,85.49 29.37,86.06 28.86,86.86 C28.35,87.66 27.41,88.81 26.50,89.26 C25.59,89.70 24.47,89.97 23.41,89.54 C22.34,89.11 20.57,88.00 20.11,86.68 C19.65,85.36 20.02,82.63 20.67,81.62 C21.31,80.61 23.22,80.86 24.01,80.61 C24.79,80.35 24.52,80.08 25.38,80.09 C26.24,80.10 28.47,79.92 29.17,80.65 C29.87,81.38 29.63,83.42 29.58,84.45Z" fill="#50f050"/>
<path d="M-30.81,86.18 C-30.55,86.89 -28.78,87.26 -29.69,87.71 C-30.61,88.17 -34.65,88.74 -36.30,88.92 C-37.94,89.10 -38.62,89.12 -39.56,88.79 C-40.51,88.46 -41.70,87.70 -41.95,86.95 C-42.20,86.20 -41.64,84.83 -41.09,84.27 C-40.54,83.70 -39.69,83.88 -38.64,83.56 C-37.58,83.24 -35.98,82.35 -34.74,82.34 C-33.51,82.32 -31.88,82.84 -31.23,83.48 C-30.57,84.12 -31.06,85.48 -30.81,86.18Z" fill="#f050f0"/><path d="M42.98,85.81 C42.98,86.54 42.11,87.93 41.03,88.39 C39.95,88.85 37.70,88.42 36.50,88.59 C35.31,88.75 34.94,89.69 33.85,89.38 C32.77,89.08 30.48,87.53 30.00,86.74 C29.51,85.95 30.24,85.18 30.94,84.63 C31.64,84.09 33.08,83.81 34.21,83.45 C35.34,83.10 36.58,82.43 37.71,82.52 C38.85,82.62 40.16,83.49 41.03,84.04 C41.91,84.59 42.98,85.09 42.98,85.81Z" fill="#f050f0"/>
<rect x="-4.00" y="38.00" width="8.00" height="4.40" fill="#b04048"/>
<rect x="-4.00" y="42.40" width="8.00" height="49.60" fill="#f050f0"/>
<rect x="-1.80" y="51.00" width="3.60" height="12.00" fill="#c040f0"/>
</g></g>
<g clip-path="url(#fmclip)">
<path d="M-29.50,4.40 C-28.92,4.43 -27.58,4.40 -26.00,4.60 C-24.42,4.80 -21.83,5.20 -20.00,5.60 C-18.17,6.00 -16.67,6.43 -15.00,7.00 C-13.33,7.57 -11.50,8.30 -10.00,9.00 C-8.50,9.70 -7.25,10.50 -6.00,11.20 C-4.75,11.90 -3.50,12.77 -2.50,13.20 C-1.50,13.63 -0.83,13.80 0.00,13.80 C0.83,13.80 1.50,13.63 2.50,13.20 C3.50,12.77 4.75,11.90 6.00,11.20 C7.25,10.50 8.50,9.70 10.00,9.00 C11.50,8.30 13.33,7.57 15.00,7.00 C16.67,6.43 18.17,6.00 20.00,5.60 C21.83,5.20 24.42,4.80 26.00,4.60 C27.58,4.40 28.92,4.43 29.50,4.40" class="ln"/>
<path d="M-29.80,8.00 C-28.83,7.93 -26.07,7.18 -24.00,7.60 C-21.93,8.02 -19.23,9.47 -17.40,10.50 C-15.57,11.53 -14.23,12.77 -13.00,13.80 C-11.77,14.83 -11.08,15.67 -10.00,16.70 C-8.92,17.73 -7.53,18.98 -6.50,20.00 C-5.47,21.02 -4.88,21.93 -3.80,22.80 C-2.72,23.67 -1.27,25.20 0.00,25.20 C1.27,25.20 2.72,23.67 3.80,22.80 C4.88,21.93 5.47,21.02 6.50,20.00 C7.53,18.98 8.92,17.73 10.00,16.70 C11.08,15.67 11.77,14.83 13.00,13.80 C14.23,12.77 15.57,11.53 17.40,10.50 C19.23,9.47 21.93,8.02 24.00,7.60 C26.07,7.18 28.83,7.93 29.80,8.00" class="ln"/>
<path d="M-44.00,20.30 C-42.83,20.23 -39.00,19.85 -37.00,19.90 C-35.00,19.95 -33.42,20.28 -32.00,20.60 C-30.58,20.92 -30.00,21.12 -28.50,21.80 C-27.00,22.48 -24.65,23.70 -23.00,24.70 C-21.35,25.70 -20.27,26.75 -18.60,27.80 C-16.93,28.85 -14.63,29.98 -13.00,31.00 C-11.37,32.02 -10.05,32.93 -8.80,33.90 C-7.55,34.87 -6.47,35.92 -5.50,36.80 C-4.53,37.68 -3.92,38.50 -3.00,39.20 C-2.08,39.90 -1.00,41.00 0.00,41.00 C1.00,41.00 2.08,39.90 3.00,39.20 C3.92,38.50 4.53,37.68 5.50,36.80 C6.47,35.92 7.55,34.87 8.80,33.90 C10.05,32.93 11.37,32.02 13.00,31.00 C14.63,29.98 16.93,28.85 18.60,27.80 C20.27,26.75 21.35,25.70 23.00,24.70 C24.65,23.70 27.00,22.48 28.50,21.80 C30.00,21.12 30.58,20.92 32.00,20.60 C33.42,20.28 35.00,19.95 37.00,19.90 C39.00,19.85 42.83,20.23 44.00,20.30" class="ln"/>
<path d="M-50.00,38.60 C-49.58,38.63 -49.17,38.57 -47.50,38.80 C-45.83,39.03 -42.75,39.65 -40.00,40.00 C-37.25,40.35 -33.67,40.68 -31.00,40.90 C-28.33,41.12 -26.07,41.22 -24.00,41.30 C-21.93,41.38 -20.60,41.37 -18.60,41.40 C-16.60,41.43 -14.05,41.45 -12.00,41.50 C-9.95,41.55 -8.30,41.62 -6.30,41.70 C-4.30,41.78 -2.10,42.00 0.00,42.00 C2.10,42.00 4.30,41.78 6.30,41.70 C8.30,41.62 9.95,41.55 12.00,41.50 C14.05,41.45 16.60,41.43 18.60,41.40 C20.60,41.37 21.93,41.38 24.00,41.30 C26.07,41.22 28.33,41.12 31.00,40.90 C33.67,40.68 37.25,40.35 40.00,40.00 C42.75,39.65 45.83,39.03 47.50,38.80 C49.17,38.57 49.58,38.63 50.00,38.60" class="ln"/>
<path d="M-48.00,51.30 C-47.33,51.30 -45.83,51.18 -44.00,51.30 C-42.17,51.42 -39.18,51.70 -37.00,52.00 C-34.82,52.30 -33.07,52.70 -30.90,53.10 C-28.73,53.50 -26.05,53.98 -24.00,54.40 C-21.95,54.82 -20.60,55.23 -18.60,55.60 C-16.60,55.97 -14.05,56.28 -12.00,56.60 C-9.95,56.92 -7.25,57.35 -6.30,57.50" class="ln"/>
<path d="M48.00,51.30 C47.33,51.30 45.83,51.18 44.00,51.30 C42.17,51.42 39.18,51.70 37.00,52.00 C34.82,52.30 33.07,52.70 30.90,53.10 C28.73,53.50 26.05,53.98 24.00,54.40 C21.95,54.82 20.60,55.23 18.60,55.60 C16.60,55.97 14.05,56.28 12.00,56.60 C9.95,56.92 7.25,57.35 6.30,57.50" class="ln"/>
<path d="M-49.00,63.50 C-48.63,63.50 -48.18,63.98 -46.80,63.50 C-45.42,63.02 -43.35,61.22 -40.70,60.60 C-38.05,59.98 -33.68,59.77 -30.90,59.80 C-28.12,59.83 -26.05,60.35 -24.00,60.80 C-21.95,61.25 -20.60,61.93 -18.60,62.50 C-16.60,63.07 -13.85,63.85 -12.00,64.20 C-10.15,64.55 -8.25,64.53 -7.50,64.60" class="ln"/>
<path d="M49.00,63.50 C48.63,63.50 48.18,63.98 46.80,63.50 C45.42,63.02 43.35,61.22 40.70,60.60 C38.05,59.98 33.68,59.77 30.90,59.80 C28.12,59.83 26.05,60.35 24.00,60.80 C21.95,61.25 20.60,61.93 18.60,62.50 C16.60,63.07 13.85,63.85 12.00,64.20 C10.15,64.55 8.25,64.53 7.50,64.60" class="ln"/>
<path d="M-46.00,71.80 C-45.53,71.73 -44.70,71.87 -43.20,71.40 C-41.70,70.93 -39.05,69.58 -37.00,69.00 C-34.95,68.42 -33.07,68.07 -30.90,67.90 C-28.73,67.73 -26.05,67.80 -24.00,68.00 C-21.95,68.20 -20.27,68.57 -18.60,69.10 C-16.93,69.63 -15.43,70.27 -14.00,71.20 C-12.57,72.13 -10.67,74.12 -10.00,74.70" class="ln"/>
<path d="M46.00,71.80 C45.53,71.73 44.70,71.87 43.20,71.40 C41.70,70.93 39.05,69.58 37.00,69.00 C34.95,68.42 33.07,68.07 30.90,67.90 C28.73,67.73 26.05,67.80 24.00,68.00 C21.95,68.20 20.27,68.57 18.60,69.10 C16.93,69.63 15.43,70.27 14.00,71.20 C12.57,72.13 10.67,74.12 10.00,74.70" class="ln"/>
<path d="M-30.50,83.50 C-29.92,82.83 -28.25,80.67 -27.00,79.50 C-25.75,78.33 -24.20,77.30 -23.00,76.50 C-21.80,75.70 -20.97,75.42 -19.80,74.70 C-18.63,73.98 -17.13,72.88 -16.00,72.20 C-14.87,71.52 -13.50,70.87 -13.00,70.60" class="ln"/>
<path d="M30.50,83.50 C29.92,82.83 28.25,80.67 27.00,79.50 C25.75,78.33 24.20,77.30 23.00,76.50 C21.80,75.70 20.97,75.42 19.80,74.70 C18.63,73.98 17.13,72.88 16.00,72.20 C14.87,71.52 13.50,70.87 13.00,70.60" class="ln"/>
</g></g>
<g transform="translate(307.00,145.30) scale(1.000,1.000)">
<g clip-path="url(#fmclip)"><g filter="url(#rough0)">
<path d="M-70.00,-10.00 L70.00,-10.00 L70.00,4.40 L29.50,4.40 L26.00,4.60 L20.00,5.60 L15.00,7.00 L10.00,9.00 L6.00,11.20 L2.50,13.20 L0.00,13.80 L-2.50,13.20 L-6.00,11.20 L-10.00,9.00 L-15.00,7.00 L-20.00,5.60 L-26.00,4.60 L-29.50,4.40 L-70.00,4.40Z" fill="#60e060"/>
<path d="M-70.00,4.40 L-29.50,4.40 L-26.00,4.60 L-20.00,5.60 L-15.00,7.00 L-10.00,9.00 L-6.00,11.20 L-2.50,13.20 L0.00,13.80 L2.50,13.20 L6.00,11.20 L10.00,9.00 L15.00,7.00 L20.00,5.60 L26.00,4.60 L29.50,4.40 L70.00,4.40 L70.00,8.00 L29.80,8.00 L24.00,7.60 L17.40,10.50 L13.00,13.80 L10.00,16.70 L6.50,20.00 L3.80,22.80 L0.00,25.20 L-3.80,22.80 L-6.50,20.00 L-10.00,16.70 L-13.00,13.80 L-17.40,10.50 L-24.00,7.60 L-29.80,8.00 L-70.00,8.00Z" fill="#60a8f0"/>
<path d="M-70.00,8.00 L-29.80,8.00 L-24.00,7.60 L-17.40,10.50 L-13.00,13.80 L-10.00,16.70 L-6.50,20.00 L-3.80,22.80 L0.00,25.20 L3.80,22.80 L6.50,20.00 L10.00,16.70 L13.00,13.80 L17.40,10.50 L24.00,7.60 L29.80,8.00 L70.00,8.00 L70.00,20.30 L44.00,20.30 L37.00,19.90 L32.00,20.60 L28.50,21.80 L23.00,24.70 L18.60,27.80 L13.00,31.00 L8.80,33.90 L5.50,36.80 L3.00,39.20 L0.00,41.00 L-3.00,39.20 L-5.50,36.80 L-8.80,33.90 L-13.00,31.00 L-18.60,27.80 L-23.00,24.70 L-28.50,21.80 L-32.00,20.60 L-37.00,19.90 L-44.00,20.30 L-70.00,20.30Z" fill="#f050f0"/>
<path d="M-70.00,20.30 L-44.00,20.30 L-37.00,19.90 L-32.00,20.60 L-28.50,21.80 L-23.00,24.70 L-18.60,27.80 L-13.00,31.00 L-8.80,33.90 L-5.50,36.80 L-3.00,39.20 L0.00,41.00 L3.00,39.20 L5.50,36.80 L8.80,33.90 L13.00,31.00 L18.60,27.80 L23.00,24.70 L28.50,21.80 L32.00,20.60 L37.00,19.90 L44.00,20.30 L70.00,20.30 L70.00,38.60 L50.00,38.60 L47.50,38.80 L40.00,40.00 L31.00,40.90 L24.00,41.30 L18.60,41.40 L12.00,41.50 L6.30,41.70 L0.00,42.00 L-6.30,41.70 L-12.00,41.50 L-18.60,41.40 L-24.00,41.30 L-31.00,40.90 L-40.00,40.00 L-47.50,38.80 L-50.00,38.60 L-70.00,38.60Z" fill="#ff70c0"/>
<path d="M-70.00,38.60 L-50.00,38.60 L-47.50,38.80 L-40.00,40.00 L-31.00,40.90 L-24.00,41.30 L-18.60,41.40 L-12.00,41.50 L-6.30,41.70 L0.00,42.00 L6.30,41.70 L12.00,41.50 L18.60,41.40 L24.00,41.30 L31.00,40.90 L40.00,40.00 L47.50,38.80 L50.00,38.60 L70.00,38.60 L70.00,51.30 L48.00,51.30 L44.00,51.30 L37.00,52.00 L30.90,53.10 L24.00,54.40 L18.60,55.60 L12.00,56.60 L6.30,57.50 L0.00,58.50 L-6.30,57.50 L-12.00,56.60 L-18.60,55.60 L-24.00,54.40 L-30.90,53.10 L-37.00,52.00 L-44.00,51.30 L-48.00,51.30 L-70.00,51.30Z" fill="#ff70c0"/>
<path d="M-70.00,51.30 L-48.00,51.30 L-44.00,51.30 L-37.00,52.00 L-30.90,53.10 L-24.00,54.40 L-18.60,55.60 L-12.00,56.60 L-6.30,57.50 L0.00,58.50 L6.30,57.50 L12.00,56.60 L18.60,55.60 L24.00,54.40 L30.90,53.10 L37.00,52.00 L44.00,51.30 L48.00,51.30 L70.00,51.30 L70.00,63.50 L49.00,63.50 L46.80,63.50 L40.70,60.60 L30.90,59.80 L24.00,60.80 L18.60,62.50 L12.00,64.20 L7.50,64.60 L0.00,65.60 L-7.50,64.60 L-12.00,64.20 L-18.60,62.50 L-24.00,60.80 L-30.90,59.80 L-40.70,60.60 L-46.80,63.50 L-49.00,63.50 L-70.00,63.50Z" fill="#f050f0"/>
<path d="M-70.00,63.50 L-49.00,63.50 L-46.80,63.50 L-40.70,60.60 L-30.90,59.80 L-24.00,60.80 L-18.60,62.50 L-12.00,64.20 L-7.50,64.60 L0.00,65.60 L7.50,64.60 L12.00,64.20 L18.60,62.50 L24.00,60.80 L30.90,59.80 L40.70,60.60 L46.80,63.50 L49.00,63.50 L70.00,63.50 L70.00,71.80 L46.00,71.80 L43.20,71.40 L37.00,69.00 L30.90,67.90 L24.00,68.00 L18.60,69.10 L14.00,71.20 L10.00,74.70 L0.00,75.70 L-10.00,74.70 L-14.00,71.20 L-18.60,69.10 L-24.00,68.00 L-30.90,67.90 L-37.00,69.00 L-43.20,71.40 L-46.00,71.80 L-70.00,71.80Z" fill="#c050f0"/>
<path d="M-70.00,71.80 L-46.00,71.80 L-43.20,71.40 L-37.00,69.00 L-30.90,67.90 L-24.00,68.00 L-18.60,69.10 L-14.00,71.20 L-10.00,74.70 L0.00,75.70 L10.00,74.70 L14.00,71.20 L18.60,69.10 L24.00,68.00 L30.90,67.90 L37.00,69.00 L43.20,71.40 L46.00,71.80 L70.00,71.80 L70.00,100.00 L-70.00,100.00Z" fill="#4858e8"/>
<path d="M2.14,5.84 C2.05,7.19 1.26,7.85 0.91,8.91 C0.57,9.97 0.50,11.71 0.06,12.22 C-0.37,12.74 -1.35,12.78 -1.67,11.99 C-2.00,11.20 -1.85,9.31 -1.89,7.48 C-1.94,5.64 -1.99,2.61 -1.92,0.98 C-1.86,-0.65 -1.89,-1.67 -1.49,-2.30 C-1.08,-2.94 0.02,-3.32 0.51,-2.81 C1.00,-2.30 1.17,-0.67 1.44,0.77 C1.71,2.21 2.23,4.48 2.14,5.84Z" fill="#d02080"/><path d="M2.03,5.00 C2.10,6.24 2.50,7.87 2.21,8.71 C1.92,9.56 0.75,9.86 0.27,10.07 C-0.21,10.29 -0.23,10.47 -0.66,10.01 C-1.09,9.54 -2.15,8.85 -2.32,7.27 C-2.49,5.70 -2.00,1.91 -1.69,0.57 C-1.37,-0.76 -0.74,-0.37 -0.42,-0.72 C-0.10,-1.07 -0.13,-1.87 0.24,-1.53 C0.62,-1.19 1.54,0.22 1.84,1.31 C2.13,2.40 1.97,3.77 2.03,5.00Z" fill="#d02080"/>
<path d="M-5.08,6.70 C-4.99,7.20 -4.88,7.86 -5.14,8.24 C-5.39,8.62 -5.78,8.87 -6.63,8.98 C-7.48,9.10 -9.19,9.27 -10.24,8.94 C-11.29,8.61 -12.82,7.56 -12.93,7.00 C-13.05,6.45 -11.32,6.00 -10.93,5.61 C-10.55,5.22 -11.10,4.99 -10.62,4.67 C-10.15,4.35 -8.93,3.60 -8.10,3.69 C-7.27,3.79 -6.16,4.73 -5.66,5.23 C-5.16,5.73 -5.17,6.20 -5.08,6.70Z" fill="#5050e0"/><path d="M12.14,6.18 C12.31,6.73 12.60,7.45 11.95,7.91 C11.31,8.37 9.25,8.76 8.26,8.93 C7.26,9.10 6.79,9.19 5.97,8.92 C5.14,8.65 3.46,7.84 3.28,7.34 C3.11,6.83 4.51,6.33 4.92,5.91 C5.34,5.48 5.08,5.03 5.79,4.77 C6.49,4.51 8.28,4.37 9.15,4.34 C10.01,4.31 10.48,4.30 10.98,4.60 C11.48,4.91 11.98,5.63 12.14,6.18Z" fill="#5050e0"/>
<path d="M-19.45,6.39 C-19.64,6.76 -20.87,6.82 -21.40,7.14 C-21.92,7.46 -21.86,8.22 -22.59,8.32 C-23.32,8.41 -25.23,7.96 -25.75,7.70 C-26.27,7.44 -25.47,7.12 -25.71,6.73 C-25.95,6.34 -27.22,5.80 -27.21,5.35 C-27.19,4.89 -26.46,4.27 -25.60,4.01 C-24.74,3.75 -22.95,3.63 -22.06,3.78 C-21.17,3.93 -20.70,4.47 -20.27,4.91 C-19.83,5.34 -19.26,6.02 -19.45,6.39Z" fill="#60a8f0"/><path d="M26.50,6.04 C26.51,6.44 26.28,7.31 25.88,7.64 C25.49,7.96 24.74,8.00 24.14,7.99 C23.55,7.98 22.87,7.85 22.32,7.59 C21.76,7.33 21.14,6.86 20.80,6.43 C20.46,6.01 20.08,5.42 20.28,5.03 C20.48,4.64 21.28,4.20 22.00,4.07 C22.72,3.94 23.97,4.06 24.61,4.25 C25.25,4.45 25.53,4.93 25.85,5.23 C26.16,5.52 26.50,5.64 26.50,6.04Z" fill="#60a8f0"/>
<path d="M-18.87,12.00 C-18.87,12.58 -19.15,13.34 -19.81,13.70 C-20.47,14.06 -22.02,14.17 -22.83,14.15 C-23.65,14.13 -23.99,13.84 -24.68,13.58 C-25.36,13.31 -26.60,12.96 -26.94,12.54 C-27.28,12.13 -27.01,11.63 -26.69,11.07 C-26.38,10.51 -25.97,9.50 -25.04,9.17 C-24.12,8.85 -22.00,8.94 -21.13,9.12 C-20.26,9.30 -20.21,9.78 -19.83,10.27 C-19.46,10.75 -18.88,11.43 -18.87,12.00Z" fill="#50e8f0"/><path d="M26.77,12.05 C26.63,12.66 26.22,13.19 25.69,13.54 C25.16,13.88 24.46,13.91 23.59,14.10 C22.73,14.28 21.47,14.87 20.52,14.66 C19.58,14.44 18.15,13.36 17.90,12.83 C17.66,12.30 18.71,12.02 19.06,11.48 C19.41,10.93 19.20,9.78 20.01,9.58 C20.83,9.37 22.87,10.22 23.95,10.26 C25.03,10.31 26.02,9.56 26.49,9.86 C26.96,10.16 26.90,11.44 26.77,12.05Z" fill="#50e8f0"/>
<path d="M-12.23,15.27 C-12.60,15.79 -15.16,16.82 -16.22,17.30 C-17.28,17.78 -17.28,18.03 -18.57,18.15 C-19.87,18.27 -22.55,18.39 -24.00,18.02 C-25.46,17.65 -26.81,16.46 -27.31,15.93 C-27.81,15.40 -27.59,15.28 -27.02,14.82 C-26.44,14.37 -25.06,13.41 -23.88,13.21 C-22.69,13.01 -21.56,13.47 -19.91,13.62 C-18.26,13.78 -15.24,13.87 -13.96,14.14 C-12.68,14.41 -11.85,14.74 -12.23,15.27Z" fill="#5050e0"/><path d="M27.95,15.36 C28.14,15.95 27.62,17.22 26.56,17.58 C25.49,17.94 23.27,17.59 21.56,17.53 C19.86,17.48 17.26,17.44 16.35,17.25 C15.44,17.06 16.52,16.90 16.10,16.39 C15.67,15.89 13.37,14.65 13.79,14.22 C14.21,13.78 17.30,13.94 18.63,13.79 C19.96,13.64 20.64,13.25 21.77,13.30 C22.89,13.35 24.36,13.73 25.39,14.08 C26.42,14.42 27.75,14.78 27.95,15.36Z" fill="#5050e0"/>
<path d="M-15.72,20.45 C-15.64,21.30 -14.64,22.54 -15.46,23.36 C-16.28,24.17 -18.68,24.93 -20.64,25.33 C-22.60,25.72 -25.52,25.98 -27.23,25.73 C-28.94,25.49 -30.79,24.86 -30.92,23.84 C-31.06,22.82 -28.95,20.78 -28.03,19.61 C-27.12,18.44 -26.48,17.24 -25.43,16.82 C-24.38,16.40 -23.31,16.83 -21.73,17.07 C-20.14,17.31 -16.91,17.70 -15.91,18.27 C-14.91,18.83 -15.79,19.61 -15.72,20.45Z" fill="#f050f0"/><path d="M28.37,21.14 C28.83,22.12 31.23,23.34 30.36,23.95 C29.48,24.57 24.74,24.75 23.11,24.82 C21.48,24.88 21.94,24.79 20.59,24.35 C19.25,23.92 16.13,23.02 15.04,22.21 C13.94,21.39 13.56,20.21 14.01,19.48 C14.45,18.74 16.05,18.18 17.72,17.78 C19.38,17.38 22.35,17.03 24.00,17.08 C25.65,17.13 26.87,17.40 27.60,18.07 C28.33,18.75 27.92,20.16 28.37,21.14Z" fill="#f050f0"/>
<path d="M-6.27,24.35 C-6.00,25.71 -7.38,27.67 -8.19,28.87 C-9.00,30.07 -10.11,31.39 -11.14,31.56 C-12.17,31.73 -13.40,30.74 -14.38,29.91 C-15.36,29.07 -16.72,27.62 -17.03,26.53 C-17.34,25.44 -16.50,24.72 -16.24,23.36 C-15.98,22.00 -16.19,19.03 -15.48,18.38 C-14.77,17.74 -12.92,19.09 -11.98,19.48 C-11.04,19.87 -10.79,19.91 -9.84,20.72 C-8.89,21.53 -6.55,23.00 -6.27,24.35Z" fill="#8080ff"/><path d="M17.35,25.29 C17.36,27.26 16.93,29.62 16.21,30.54 C15.49,31.46 14.13,30.98 13.02,30.80 C11.91,30.62 10.33,30.33 9.55,29.47 C8.76,28.61 8.46,26.69 8.32,25.64 C8.17,24.58 8.45,24.33 8.67,23.14 C8.89,21.96 8.89,19.41 9.64,18.55 C10.39,17.69 12.09,17.95 13.18,17.98 C14.27,18.00 15.49,17.50 16.19,18.72 C16.88,19.94 17.35,23.32 17.35,25.29Z" fill="#8080ff"/>
<path d="M-0.36,30.98 C-0.44,31.97 -0.38,32.47 -0.90,33.27 C-1.42,34.06 -2.19,35.53 -3.47,35.75 C-4.76,35.98 -7.49,35.34 -8.61,34.61 C-9.72,33.88 -10.06,32.40 -10.17,31.37 C-10.28,30.35 -9.84,29.51 -9.25,28.48 C-8.67,27.44 -7.63,25.68 -6.67,25.16 C-5.72,24.65 -4.55,25.02 -3.50,25.38 C-2.46,25.74 -0.93,26.38 -0.41,27.31 C0.12,28.25 -0.28,29.98 -0.36,30.98Z" fill="#b04050"/><path d="M9.50,29.47 C9.54,30.85 8.91,33.58 8.47,34.60 C8.02,35.63 7.81,35.72 6.85,35.60 C5.90,35.47 3.77,34.38 2.74,33.85 C1.70,33.32 0.94,33.43 0.65,32.41 C0.35,31.40 0.55,28.94 0.98,27.76 C1.41,26.57 2.29,25.70 3.22,25.30 C4.16,24.91 5.74,25.21 6.58,25.38 C7.41,25.55 7.74,25.66 8.23,26.34 C8.71,27.02 9.46,28.09 9.50,29.47Z" fill="#b04050"/>
<path d="M0.67,37.54 C0.63,38.34 -0.66,38.64 -1.61,39.43 C-2.55,40.22 -4.01,41.97 -4.99,42.28 C-5.96,42.59 -6.46,41.89 -7.46,41.29 C-8.45,40.68 -10.60,39.57 -10.95,38.65 C-11.30,37.74 -10.05,36.41 -9.55,35.80 C-9.04,35.19 -8.79,35.21 -7.91,35.00 C-7.02,34.78 -5.32,34.59 -4.24,34.53 C-3.15,34.47 -2.20,34.13 -1.38,34.64 C-0.56,35.14 0.71,36.74 0.67,37.54Z" fill="#ffb020"/><path d="M11.82,36.86 C11.74,37.47 10.08,38.45 9.09,39.07 C8.10,39.69 6.91,40.38 5.89,40.56 C4.88,40.73 4.15,40.43 3.01,40.11 C1.86,39.79 -0.82,39.32 -0.97,38.62 C-1.13,37.92 1.31,36.75 2.06,35.92 C2.82,35.08 2.94,34.03 3.58,33.60 C4.22,33.17 4.92,33.02 5.91,33.32 C6.90,33.62 8.55,34.83 9.53,35.42 C10.52,36.01 11.89,36.25 11.82,36.86Z" fill="#ffb020"/>
<path d="M-48.61,28.21 C-48.68,29.12 -48.67,29.62 -49.09,30.60 C-49.51,31.59 -50.55,33.63 -51.12,34.10 C-51.70,34.56 -51.99,33.91 -52.55,33.40 C-53.10,32.90 -54.05,32.22 -54.46,31.05 C-54.87,29.89 -55.28,27.49 -55.01,26.43 C-54.75,25.37 -53.66,25.37 -52.87,24.67 C-52.07,23.98 -50.93,22.19 -50.24,22.26 C-49.54,22.34 -48.95,24.14 -48.68,25.13 C-48.41,26.12 -48.54,27.30 -48.61,28.21Z" fill="#ffb020"/><path d="M54.60,28.31 C54.72,29.40 54.50,31.55 54.10,32.63 C53.69,33.71 53.00,34.59 52.17,34.78 C51.33,34.97 49.72,34.57 49.10,33.77 C48.48,32.97 48.61,31.36 48.45,29.99 C48.29,28.61 47.83,26.57 48.12,25.51 C48.41,24.45 49.56,23.94 50.19,23.65 C50.81,23.37 51.35,23.38 51.88,23.79 C52.41,24.20 52.91,25.35 53.36,26.11 C53.82,26.86 54.47,27.23 54.60,28.31Z" fill="#ffb020"/>
<path d="M-25.81,23.76 C-25.90,24.82 -27.09,26.10 -28.72,26.98 C-30.35,27.87 -33.59,29.06 -35.59,29.06 C-37.60,29.06 -39.29,27.52 -40.77,26.98 C-42.24,26.44 -43.83,26.40 -44.43,25.82 C-45.03,25.24 -45.14,24.34 -44.37,23.49 C-43.59,22.64 -41.62,21.38 -39.76,20.71 C-37.91,20.04 -35.14,19.51 -33.22,19.50 C-31.29,19.48 -29.45,19.90 -28.22,20.61 C-26.98,21.32 -25.73,22.69 -25.81,23.76Z" fill="#f060d0"/><path d="M44.27,23.73 C44.04,24.40 44.10,25.05 43.03,26.02 C41.97,26.98 39.53,29.29 37.88,29.50 C36.22,29.71 35.31,27.99 33.13,27.29 C30.94,26.58 26.13,26.14 24.78,25.29 C23.42,24.44 24.59,23.12 25.00,22.20 C25.40,21.28 25.07,20.30 27.22,19.76 C29.36,19.22 34.99,18.59 37.86,18.96 C40.73,19.34 43.36,21.21 44.43,22.01 C45.50,22.80 44.51,23.06 44.27,23.73Z" fill="#f060d0"/>
<path d="M-24.74,29.46 C-24.94,29.96 -24.57,30.24 -25.62,30.58 C-26.66,30.92 -29.33,31.45 -31.01,31.51 C-32.69,31.57 -34.14,31.18 -35.70,30.92 C-37.27,30.66 -39.79,30.42 -40.40,29.96 C-41.00,29.50 -39.74,28.63 -39.33,28.16 C-38.91,27.69 -39.37,27.40 -37.90,27.17 C-36.43,26.93 -32.76,26.68 -30.51,26.74 C-28.27,26.81 -25.38,27.11 -24.41,27.56 C-23.45,28.01 -24.54,28.96 -24.74,29.46Z" fill="#b04050"/><path d="M39.16,29.09 C39.77,29.56 41.16,30.28 40.49,30.68 C39.81,31.07 37.35,31.36 35.09,31.47 C32.84,31.58 28.77,31.53 26.96,31.35 C25.16,31.17 24.59,30.85 24.26,30.40 C23.92,29.96 23.98,29.16 24.95,28.67 C25.91,28.19 28.72,27.78 30.06,27.49 C31.40,27.20 31.85,26.86 32.98,26.93 C34.10,26.99 35.80,27.51 36.83,27.87 C37.86,28.23 38.55,28.62 39.16,29.09Z" fill="#b04050"/>
<path d="M-22.80,34.79 C-23.66,35.98 -24.54,37.57 -25.87,38.27 C-27.20,38.97 -27.88,38.82 -30.76,38.97 C-33.65,39.12 -40.22,39.34 -43.17,39.16 C-46.13,38.97 -48.41,38.77 -48.51,37.86 C-48.61,36.96 -45.25,35.26 -43.75,33.73 C-42.25,32.19 -41.74,29.19 -39.53,28.65 C-37.31,28.10 -33.57,30.03 -30.44,30.45 C-27.31,30.87 -21.99,30.43 -20.72,31.15 C-19.45,31.87 -21.94,33.60 -22.80,34.79Z" fill="#ff70c0"/><path d="M46.45,35.28 C46.54,36.58 45.36,37.43 43.83,37.98 C42.30,38.54 39.85,38.38 37.27,38.61 C34.69,38.85 31.29,39.93 28.33,39.41 C25.37,38.89 20.04,36.62 19.53,35.49 C19.02,34.37 23.61,33.50 25.26,32.66 C26.92,31.81 27.46,31.21 29.45,30.44 C31.44,29.66 34.91,28.02 37.21,27.98 C39.51,27.94 41.74,28.96 43.28,30.18 C44.82,31.40 46.36,33.98 46.45,35.28Z" fill="#ff70c0"/>
<path d="M-35.70,36.56 C-35.70,37.04 -36.61,37.57 -37.29,37.88 C-37.97,38.19 -39.02,38.33 -39.78,38.43 C-40.54,38.53 -41.25,38.65 -41.87,38.49 C-42.49,38.32 -43.30,37.86 -43.49,37.45 C-43.68,37.04 -43.23,36.59 -43.02,36.02 C-42.82,35.45 -42.88,34.45 -42.25,34.04 C-41.63,33.64 -40.10,33.44 -39.27,33.60 C-38.45,33.76 -37.89,34.49 -37.30,34.98 C-36.70,35.48 -35.70,36.08 -35.70,36.56Z" fill="#fff8c0"/><path d="M42.83,36.17 C42.72,36.67 43.80,37.53 43.32,37.90 C42.84,38.27 40.96,38.30 39.93,38.41 C38.90,38.51 37.76,38.75 37.14,38.53 C36.51,38.30 36.47,37.56 36.15,37.06 C35.83,36.57 35.08,36.07 35.21,35.56 C35.35,35.05 36.05,34.14 36.97,34.01 C37.90,33.88 39.59,34.63 40.75,34.78 C41.92,34.93 43.61,34.67 43.95,34.90 C44.30,35.13 42.94,35.67 42.83,36.17Z" fill="#fff8c0"/>
<path d="M-21.49,38.28 C-21.54,38.68 -21.84,38.84 -22.64,39.19 C-23.44,39.54 -24.96,40.15 -26.28,40.38 C-27.60,40.61 -29.12,40.81 -30.59,40.57 C-32.06,40.34 -34.45,39.57 -35.10,38.96 C-35.76,38.36 -35.07,37.47 -34.51,36.96 C-33.94,36.46 -33.22,36.25 -31.71,35.93 C-30.20,35.61 -27.01,34.92 -25.46,35.05 C-23.90,35.19 -23.02,36.21 -22.36,36.74 C-21.70,37.28 -21.45,37.87 -21.49,38.28Z" fill="#c8f040"/><path d="M34.12,37.69 C33.59,38.30 32.64,39.11 31.63,39.53 C30.62,39.96 29.71,40.04 28.06,40.25 C26.40,40.46 23.00,40.99 21.69,40.78 C20.37,40.58 20.25,39.55 20.16,39.02 C20.06,38.49 20.71,38.13 21.11,37.58 C21.52,37.04 21.43,36.26 22.60,35.73 C23.77,35.19 26.10,34.35 28.13,34.38 C30.17,34.40 33.82,35.31 34.82,35.86 C35.81,36.41 34.65,37.08 34.12,37.69Z" fill="#c8f040"/>
<path d="M-6.85,36.10 C-6.69,37.04 -7.93,38.76 -8.95,39.77 C-9.98,40.77 -11.64,42.22 -13.01,42.12 C-14.37,42.02 -15.77,39.67 -17.13,39.16 C-18.48,38.66 -20.74,39.94 -21.14,39.09 C-21.53,38.25 -19.96,35.33 -19.50,34.07 C-19.04,32.82 -19.59,32.03 -18.36,31.58 C-17.14,31.14 -13.55,31.00 -12.15,31.42 C-10.75,31.84 -10.84,33.30 -9.96,34.08 C-9.07,34.86 -7.02,35.15 -6.85,36.10Z" fill="#ffb020"/><path d="M19.80,36.23 C19.94,37.03 19.83,37.42 19.12,38.33 C18.40,39.24 17.18,41.29 15.52,41.70 C13.86,42.11 10.39,41.36 9.17,40.77 C7.96,40.18 8.37,39.38 8.24,38.17 C8.11,36.95 7.93,34.41 8.38,33.48 C8.83,32.56 9.73,32.96 10.92,32.62 C12.12,32.27 14.32,31.24 15.55,31.40 C16.79,31.56 17.62,32.75 18.33,33.56 C19.03,34.36 19.67,35.44 19.80,36.23Z" fill="#ffb020"/>
<path d="M-4.26,35.96 C-4.12,36.32 -4.91,37.17 -5.59,37.44 C-6.27,37.70 -7.39,37.46 -8.35,37.57 C-9.32,37.68 -10.58,38.20 -11.36,38.10 C-12.14,38.01 -12.83,37.48 -13.04,36.98 C-13.24,36.49 -13.00,35.61 -12.57,35.13 C-12.13,34.65 -11.21,34.20 -10.40,34.11 C-9.60,34.01 -8.41,34.36 -7.75,34.56 C-7.08,34.75 -7.00,35.05 -6.42,35.29 C-5.83,35.52 -4.40,35.60 -4.26,35.96Z" fill="#c8f040"/><path d="M13.32,35.95 C13.18,36.37 12.38,36.85 11.66,37.24 C10.94,37.63 9.92,38.21 9.01,38.32 C8.11,38.43 6.81,38.23 6.25,37.89 C5.69,37.54 6.02,36.65 5.65,36.26 C5.28,35.87 3.72,35.85 4.04,35.56 C4.36,35.26 6.71,34.79 7.58,34.50 C8.45,34.21 8.44,33.78 9.27,33.82 C10.10,33.86 11.88,34.38 12.56,34.73 C13.23,35.09 13.47,35.54 13.32,35.95Z" fill="#c8f040"/>
<path d="M-17.02,47.30 C-16.60,48.24 -17.79,49.28 -19.90,50.44 C-22.02,51.59 -27.12,53.74 -29.70,54.22 C-32.28,54.70 -33.61,54.05 -35.40,53.31 C-37.19,52.57 -38.87,50.95 -40.44,49.79 C-42.02,48.63 -45.09,47.50 -44.84,46.35 C-44.59,45.21 -42.21,43.62 -38.95,42.93 C-35.69,42.25 -28.04,41.94 -25.29,42.25 C-22.53,42.56 -23.77,43.96 -22.39,44.80 C-21.01,45.64 -17.43,46.36 -17.02,47.30Z" fill="#ff70c0"/><path d="M43.19,47.10 C43.42,47.95 42.10,48.95 40.07,50.17 C38.03,51.39 33.30,54.13 31.00,54.43 C28.70,54.73 28.86,52.81 26.29,51.96 C23.72,51.12 16.80,50.47 15.57,49.35 C14.34,48.22 17.34,46.48 18.92,45.22 C20.51,43.97 22.67,42.11 25.09,41.81 C27.51,41.51 31.20,42.86 33.46,43.40 C35.73,43.94 37.06,44.45 38.68,45.06 C40.31,45.68 42.96,46.25 43.19,47.10Z" fill="#ff70c0"/>
<path d="M-6.26,46.14 C-6.43,48.07 -6.99,52.54 -7.66,54.27 C-8.33,56.01 -9.30,56.62 -10.27,56.54 C-11.24,56.46 -12.81,54.66 -13.47,53.78 C-14.14,52.91 -13.73,52.55 -14.27,51.28 C-14.80,50.00 -16.88,47.58 -16.70,46.12 C-16.52,44.66 -14.26,43.28 -13.19,42.51 C-12.11,41.75 -11.34,41.50 -10.25,41.53 C-9.16,41.56 -7.31,41.93 -6.64,42.70 C-5.98,43.46 -6.09,44.21 -6.26,46.14Z" fill="#ffb020"/><path d="M14.75,47.55 C14.55,48.80 14.59,49.76 14.11,50.97 C13.63,52.18 12.80,54.42 11.87,54.80 C10.94,55.18 9.36,54.15 8.52,53.26 C7.67,52.37 7.13,51.11 6.81,49.45 C6.48,47.80 6.28,45.22 6.59,43.33 C6.90,41.44 7.85,38.44 8.66,38.10 C9.48,37.75 10.37,40.39 11.48,41.28 C12.59,42.18 14.77,42.42 15.31,43.47 C15.86,44.51 14.95,46.30 14.75,47.55Z" fill="#ffb020"/>
<path d="M-18.44,40.91 C-18.80,41.43 -20.54,42.03 -21.53,42.39 C-22.53,42.75 -22.89,42.83 -24.41,43.06 C-25.94,43.29 -29.11,43.98 -30.68,43.79 C-32.24,43.60 -32.41,42.44 -33.80,41.92 C-35.20,41.40 -39.40,41.25 -39.06,40.67 C-38.72,40.10 -33.93,38.74 -31.77,38.48 C-29.60,38.22 -28.13,38.99 -26.06,39.12 C-23.99,39.25 -20.63,38.98 -19.36,39.28 C-18.09,39.58 -18.08,40.39 -18.44,40.91Z" fill="#c8f040"/><path d="M35.96,41.02 C35.74,41.41 34.98,41.85 33.72,42.23 C32.45,42.61 30.24,43.18 28.39,43.31 C26.54,43.44 24.26,43.27 22.62,43.00 C20.98,42.74 19.77,42.22 18.54,41.73 C17.31,41.24 14.85,40.52 15.23,40.06 C15.60,39.60 18.20,39.26 20.79,38.98 C23.38,38.70 28.38,38.23 30.76,38.38 C33.14,38.54 34.21,39.45 35.07,39.89 C35.94,40.33 36.19,40.63 35.96,41.02Z" fill="#c8f040"/>
<path d="M-10.23,47.50 C-10.49,48.10 -11.73,48.32 -12.45,48.68 C-13.17,49.04 -13.69,49.49 -14.55,49.67 C-15.41,49.86 -16.58,50.08 -17.63,49.78 C-18.68,49.48 -20.64,48.50 -20.86,47.86 C-21.09,47.21 -19.41,46.61 -18.98,45.94 C-18.56,45.27 -18.88,44.13 -18.30,43.84 C-17.72,43.54 -16.71,43.96 -15.48,44.16 C-14.26,44.37 -11.82,44.52 -10.94,45.08 C-10.07,45.64 -9.98,46.90 -10.23,47.50Z" fill="#fff8d0"/><path d="M21.35,46.90 C21.39,47.80 20.14,48.65 19.20,49.27 C18.26,49.90 16.67,50.35 15.70,50.66 C14.73,50.97 14.31,51.56 13.39,51.13 C12.47,50.70 10.70,49.15 10.18,48.08 C9.65,47.02 9.76,45.66 10.25,44.76 C10.73,43.86 12.20,42.77 13.06,42.68 C13.93,42.59 14.43,44.02 15.42,44.22 C16.40,44.43 17.97,43.47 18.96,43.92 C19.95,44.37 21.31,46.01 21.35,46.90Z" fill="#fff8d0"/>
<path d="M-41.25,58.72 C-41.22,60.12 -41.42,61.53 -41.64,62.32 C-41.86,63.11 -42.02,63.45 -42.57,63.48 C-43.11,63.51 -44.32,62.93 -44.91,62.51 C-45.50,62.09 -45.90,61.91 -46.10,60.93 C-46.30,59.96 -46.35,57.76 -46.12,56.65 C-45.90,55.54 -45.25,54.63 -44.73,54.27 C-44.22,53.92 -43.50,54.58 -43.02,54.52 C-42.54,54.46 -42.16,53.21 -41.87,53.91 C-41.57,54.61 -41.29,57.32 -41.25,58.72Z" fill="#ffb020"/><path d="M45.37,58.12 C45.44,59.08 45.68,60.33 45.46,61.06 C45.24,61.80 44.55,62.39 44.07,62.53 C43.59,62.67 43.08,62.13 42.56,61.89 C42.04,61.66 41.16,61.97 40.94,61.12 C40.72,60.27 40.99,57.92 41.25,56.80 C41.51,55.67 42.12,54.88 42.52,54.37 C42.92,53.85 43.25,53.55 43.66,53.71 C44.08,53.86 44.75,54.56 45.03,55.30 C45.32,56.03 45.30,57.16 45.37,58.12Z" fill="#ffb020"/>
<path d="M-14.14,59.42 C-13.44,60.38 -10.26,61.13 -12.05,62.08 C-13.83,63.03 -21.06,64.72 -24.85,65.12 C-28.65,65.52 -32.68,65.31 -34.82,64.50 C-36.95,63.68 -36.64,61.48 -37.67,60.23 C-38.69,58.98 -41.87,57.63 -40.96,57.02 C-40.06,56.41 -35.32,56.84 -32.22,56.55 C-29.12,56.27 -25.03,55.35 -22.37,55.31 C-19.71,55.28 -17.63,55.66 -16.26,56.34 C-14.89,57.03 -14.85,58.47 -14.14,59.42Z" fill="#f050f0"/><path d="M38.35,60.19 C38.12,61.00 36.92,61.76 35.56,62.55 C34.20,63.34 33.09,64.77 30.18,64.92 C27.27,65.07 21.66,63.91 18.11,63.45 C14.56,62.99 10.13,63.20 8.87,62.16 C7.61,61.12 8.83,58.49 10.55,57.21 C12.28,55.93 15.98,54.65 19.23,54.48 C22.48,54.30 27.13,55.64 30.07,56.17 C33.02,56.71 35.53,57.02 36.91,57.69 C38.29,58.36 38.57,59.38 38.35,60.19Z" fill="#f050f0"/>
<path d="M-9.42,59.73 C-9.37,60.40 -8.12,61.37 -8.58,61.83 C-9.05,62.30 -11.38,62.50 -12.21,62.52 C-13.03,62.53 -12.94,62.26 -13.53,61.93 C-14.12,61.59 -15.38,60.92 -15.74,60.51 C-16.10,60.09 -16.05,59.92 -15.69,59.45 C-15.33,58.98 -14.30,57.95 -13.59,57.68 C-12.88,57.41 -12.22,57.80 -11.43,57.82 C-10.64,57.85 -9.19,57.49 -8.85,57.81 C-8.52,58.13 -9.46,59.06 -9.42,59.73Z" fill="#ffb020"/><path d="M15.45,60.37 C15.41,61.01 16.05,61.48 15.69,61.92 C15.33,62.35 14.29,62.83 13.28,62.98 C12.28,63.12 10.48,63.18 9.65,62.80 C8.83,62.42 8.59,61.32 8.36,60.69 C8.13,60.06 7.89,59.45 8.29,59.03 C8.69,58.61 9.97,58.41 10.76,58.18 C11.55,57.96 12.15,57.70 13.02,57.68 C13.88,57.67 15.55,57.63 15.95,58.08 C16.36,58.52 15.49,59.73 15.45,60.37Z" fill="#ffb020"/>
<path d="M-9.78,63.41 C-9.49,64.01 -10.67,65.34 -13.20,65.69 C-15.73,66.04 -21.76,65.63 -24.97,65.52 C-28.18,65.41 -30.24,65.29 -32.47,65.01 C-34.71,64.73 -36.58,64.24 -38.38,63.83 C-40.18,63.43 -44.31,62.97 -43.26,62.58 C-42.21,62.18 -34.99,61.62 -32.09,61.45 C-29.20,61.29 -28.75,61.49 -25.89,61.59 C-23.04,61.70 -17.63,61.79 -14.94,62.10 C-12.26,62.40 -10.07,62.81 -9.78,63.41Z" fill="#c050f0"/><path d="M41.03,63.40 C40.75,63.86 38.28,64.57 36.49,64.90 C34.70,65.22 33.37,65.27 30.28,65.35 C27.18,65.42 21.11,65.51 17.92,65.35 C14.74,65.19 11.57,64.80 11.19,64.38 C10.80,63.95 14.30,63.23 15.59,62.81 C16.88,62.40 16.65,62.14 18.91,61.90 C21.18,61.66 25.99,61.33 29.19,61.37 C32.40,61.40 36.18,61.77 38.15,62.11 C40.12,62.45 41.30,62.93 41.03,63.40Z" fill="#c050f0"/>
<path d="M-14.81,67.38 C-14.82,68.00 -13.66,69.03 -15.55,69.50 C-17.44,69.98 -22.55,70.10 -26.16,70.24 C-29.76,70.37 -35.64,70.55 -37.18,70.30 C-38.72,70.05 -34.74,69.42 -35.41,68.72 C-36.08,68.02 -41.48,66.63 -41.20,66.09 C-40.92,65.56 -36.16,65.75 -33.73,65.52 C-31.30,65.28 -29.66,64.63 -26.63,64.68 C-23.59,64.73 -17.50,65.38 -15.53,65.83 C-13.56,66.28 -14.81,66.77 -14.81,67.38Z" fill="#5060f0"/><path d="M36.55,67.20 C37.27,67.74 38.99,68.51 37.76,69.08 C36.53,69.64 31.36,70.49 29.18,70.58 C27.00,70.68 27.05,70.03 24.69,69.63 C22.34,69.23 16.30,68.67 15.06,68.18 C13.82,67.69 15.84,67.17 17.25,66.69 C18.66,66.21 21.32,65.61 23.54,65.29 C25.75,64.97 28.88,64.69 30.54,64.78 C32.19,64.87 32.46,65.43 33.46,65.83 C34.47,66.23 35.83,66.66 36.55,67.20Z" fill="#5060f0"/>
<path d="M-19.74,68.26 C-19.35,68.76 -18.95,69.19 -19.86,69.56 C-20.77,69.92 -23.76,70.23 -25.19,70.47 C-26.63,70.71 -27.30,71.21 -28.48,70.99 C-29.66,70.77 -31.92,69.66 -32.28,69.15 C-32.64,68.64 -31.26,68.56 -30.63,67.95 C-29.99,67.34 -29.34,65.72 -28.47,65.48 C-27.60,65.24 -26.46,66.35 -25.41,66.53 C-24.36,66.71 -23.12,66.29 -22.17,66.58 C-21.23,66.86 -20.12,67.77 -19.74,68.26Z" fill="#50e8f0"/><path d="M30.61,68.29 C30.73,68.71 30.95,69.26 30.32,69.60 C29.70,69.94 27.99,70.31 26.85,70.33 C25.72,70.35 24.57,69.96 23.51,69.75 C22.44,69.53 21.26,69.41 20.45,69.04 C19.64,68.68 18.12,67.96 18.63,67.56 C19.15,67.15 22.05,66.91 23.54,66.61 C25.03,66.32 26.54,65.71 27.55,65.79 C28.56,65.87 29.08,66.67 29.59,67.09 C30.10,67.50 30.49,67.87 30.61,68.29Z" fill="#50e8f0"/>
<path d="M-26.49,74.77 C-26.19,75.39 -26.20,75.57 -27.03,76.03 C-27.86,76.49 -29.61,77.25 -31.48,77.54 C-33.35,77.82 -36.85,78.07 -38.26,77.74 C-39.67,77.41 -39.67,76.41 -39.94,75.58 C-40.22,74.74 -40.24,73.55 -39.91,72.72 C-39.59,71.89 -39.25,70.76 -37.99,70.60 C-36.74,70.44 -33.89,71.47 -32.36,71.75 C-30.83,72.03 -29.80,71.76 -28.82,72.27 C-27.84,72.77 -26.79,74.14 -26.49,74.77Z" fill="#4858e8"/><path d="M41.54,74.46 C41.63,75.21 39.99,76.77 38.78,77.18 C37.58,77.59 36.17,76.79 34.31,76.91 C32.45,77.03 28.67,78.10 27.61,77.89 C26.56,77.67 28.69,76.49 28.01,75.62 C27.32,74.75 23.16,73.28 23.52,72.67 C23.89,72.05 28.56,72.14 30.19,71.92 C31.83,71.70 31.99,71.23 33.33,71.35 C34.67,71.48 36.87,72.16 38.24,72.68 C39.61,73.20 41.45,73.71 41.54,74.46Z" fill="#4858e8"/>
<path d="M-22.42,77.83 C-22.49,78.45 -22.24,78.08 -22.83,78.57 C-23.42,79.06 -24.84,80.52 -25.96,80.77 C-27.09,81.02 -28.51,80.41 -29.60,80.08 C-30.70,79.75 -32.38,79.40 -32.53,78.80 C-32.68,78.20 -31.20,77.19 -30.51,76.49 C-29.81,75.79 -29.14,74.86 -28.35,74.60 C-27.55,74.35 -26.73,74.94 -25.74,74.98 C-24.75,75.02 -22.96,74.37 -22.41,74.85 C-21.85,75.32 -22.35,77.21 -22.42,77.83Z" fill="#50d050"/><path d="M32.51,77.99 C32.52,78.45 31.13,78.29 30.35,78.78 C29.56,79.28 28.87,80.86 27.80,80.96 C26.72,81.05 24.90,79.73 23.91,79.37 C22.93,79.01 22.52,79.36 21.91,78.78 C21.30,78.19 19.87,76.60 20.26,75.86 C20.64,75.12 22.94,74.63 24.23,74.33 C25.52,74.03 26.97,73.78 27.98,74.06 C28.99,74.34 29.54,75.35 30.29,76.00 C31.05,76.66 32.50,77.52 32.51,77.99Z" fill="#50d050"/>
<path d="M-12.33,76.47 C-12.59,76.86 -13.40,77.50 -14.16,77.86 C-14.92,78.21 -16.05,78.39 -16.89,78.59 C-17.74,78.80 -18.34,79.29 -19.20,79.09 C-20.07,78.88 -21.56,77.98 -22.08,77.37 C-22.60,76.76 -22.67,75.84 -22.33,75.44 C-21.98,75.04 -21.00,75.19 -20.01,74.96 C-19.02,74.73 -17.64,74.00 -16.41,74.09 C-15.18,74.18 -13.30,75.10 -12.62,75.49 C-11.94,75.89 -12.08,76.08 -12.33,76.47Z" fill="#e0f8c0"/><path d="M22.07,76.49 C22.03,77.14 21.05,78.27 20.39,78.65 C19.72,79.03 19.04,78.79 18.10,78.77 C17.15,78.74 15.70,78.74 14.72,78.52 C13.73,78.30 12.69,77.90 12.19,77.45 C11.69,77.00 11.26,76.25 11.69,75.83 C12.13,75.40 13.83,75.19 14.80,74.89 C15.77,74.59 16.52,74.06 17.50,74.03 C18.47,74.01 19.90,74.35 20.66,74.76 C21.42,75.17 22.12,75.84 22.07,76.49Z" fill="#e0f8c0"/>
<path d="M-13.46,86.49 C-13.26,87.86 -15.38,89.12 -16.62,90.17 C-17.86,91.21 -19.54,92.59 -20.92,92.78 C-22.31,92.97 -23.39,91.86 -24.93,91.30 C-26.47,90.73 -29.76,90.49 -30.16,89.40 C-30.57,88.31 -28.19,85.95 -27.33,84.74 C-26.48,83.53 -26.06,82.98 -25.05,82.15 C-24.03,81.33 -22.43,79.81 -21.23,79.79 C-20.03,79.76 -19.12,80.86 -17.82,81.98 C-16.53,83.10 -13.66,85.13 -13.46,86.49Z" fill="#ffb820"/><path d="M29.25,85.40 C29.32,86.75 27.58,89.25 26.71,90.57 C25.83,91.90 25.40,92.94 23.98,93.35 C22.56,93.75 19.85,93.86 18.19,92.98 C16.53,92.10 14.25,89.37 14.01,88.08 C13.77,86.79 15.86,86.46 16.77,85.24 C17.69,84.02 18.51,81.93 19.50,80.74 C20.49,79.55 21.57,77.79 22.70,78.08 C23.83,78.38 25.18,81.28 26.27,82.50 C27.37,83.72 29.18,84.06 29.25,85.40Z" fill="#ffb820"/>
<path d="M-30.96,85.61 C-30.98,86.27 -29.97,87.04 -30.67,87.31 C-31.36,87.57 -33.47,87.13 -35.13,87.22 C-36.80,87.31 -39.47,88.13 -40.64,87.87 C-41.82,87.62 -41.84,86.26 -42.17,85.69 C-42.51,85.12 -43.19,85.00 -42.66,84.45 C-42.12,83.90 -40.04,82.79 -38.93,82.38 C-37.83,81.97 -37.42,81.85 -36.03,82.02 C-34.63,82.18 -31.41,82.79 -30.57,83.39 C-29.73,83.99 -30.95,84.96 -30.96,85.61Z" fill="#80c0f0"/><path d="M42.79,85.33 C43.07,85.91 43.43,86.54 42.50,86.87 C41.57,87.20 38.78,87.33 37.22,87.32 C35.66,87.32 34.21,87.05 33.15,86.82 C32.08,86.59 31.07,86.39 30.83,85.95 C30.59,85.52 31.25,84.61 31.68,84.20 C32.12,83.80 32.58,83.82 33.43,83.53 C34.28,83.24 35.55,82.49 36.77,82.47 C38.00,82.44 39.77,82.92 40.77,83.40 C41.78,83.87 42.50,84.76 42.79,85.33Z" fill="#80c0f0"/>
<rect x="-4.00" y="38.00" width="8.00" height="4.40" fill="#ffb020"/>
<rect x="-4.00" y="42.40" width="8.00" height="8.60" fill="#60e080"/>
<rect x="-4.00" y="51.00" width="8.00" height="12.30" fill="#60c8f0"/>
<rect x="-4.00" y="63.30" width="8.00" height="9.70" fill="#60e080"/>
<rect x="-4.00" y="73.00" width="8.00" height="12.40" fill="#ffb020"/>
<rect x="-4.00" y="85.40" width="8.00" height="6.60" fill="#a050e0"/>
</g></g>
<g clip-path="url(#fmclip)">
<path d="M-29.50,4.40 C-28.92,4.43 -27.58,4.40 -26.00,4.60 C-24.42,4.80 -21.83,5.20 -20.00,5.60 C-18.17,6.00 -16.67,6.43 -15.00,7.00 C-13.33,7.57 -11.50,8.30 -10.00,9.00 C-8.50,9.70 -7.25,10.50 -6.00,11.20 C-4.75,11.90 -3.50,12.77 -2.50,13.20 C-1.50,13.63 -0.83,13.80 0.00,13.80 C0.83,13.80 1.50,13.63 2.50,13.20 C3.50,12.77 4.75,11.90 6.00,11.20 C7.25,10.50 8.50,9.70 10.00,9.00 C11.50,8.30 13.33,7.57 15.00,7.00 C16.67,6.43 18.17,6.00 20.00,5.60 C21.83,5.20 24.42,4.80 26.00,4.60 C27.58,4.40 28.92,4.43 29.50,4.40" class="ln"/>
<path d="M-29.80,8.00 C-28.83,7.93 -26.07,7.18 -24.00,7.60 C-21.93,8.02 -19.23,9.47 -17.40,10.50 C-15.57,11.53 -14.23,12.77 -13.00,13.80 C-11.77,14.83 -11.08,15.67 -10.00,16.70 C-8.92,17.73 -7.53,18.98 -6.50,20.00 C-5.47,21.02 -4.88,21.93 -3.80,22.80 C-2.72,23.67 -1.27,25.20 0.00,25.20 C1.27,25.20 2.72,23.67 3.80,22.80 C4.88,21.93 5.47,21.02 6.50,20.00 C7.53,18.98 8.92,17.73 10.00,16.70 C11.08,15.67 11.77,14.83 13.00,13.80 C14.23,12.77 15.57,11.53 17.40,10.50 C19.23,9.47 21.93,8.02 24.00,7.60 C26.07,7.18 28.83,7.93 29.80,8.00" class="ln"/>
<path d="M-44.00,20.30 C-42.83,20.23 -39.00,19.85 -37.00,19.90 C-35.00,19.95 -33.42,20.28 -32.00,20.60 C-30.58,20.92 -30.00,21.12 -28.50,21.80 C-27.00,22.48 -24.65,23.70 -23.00,24.70 C-21.35,25.70 -20.27,26.75 -18.60,27.80 C-16.93,28.85 -14.63,29.98 -13.00,31.00 C-11.37,32.02 -10.05,32.93 -8.80,33.90 C-7.55,34.87 -6.47,35.92 -5.50,36.80 C-4.53,37.68 -3.92,38.50 -3.00,39.20 C-2.08,39.90 -1.00,41.00 0.00,41.00 C1.00,41.00 2.08,39.90 3.00,39.20 C3.92,38.50 4.53,37.68 5.50,36.80 C6.47,35.92 7.55,34.87 8.80,33.90 C10.05,32.93 11.37,32.02 13.00,31.00 C14.63,29.98 16.93,28.85 18.60,27.80 C20.27,26.75 21.35,25.70 23.00,24.70 C24.65,23.70 27.00,22.48 28.50,21.80 C30.00,21.12 30.58,20.92 32.00,20.60 C33.42,20.28 35.00,19.95 37.00,19.90 C39.00,19.85 42.83,20.23 44.00,20.30" class="ln"/>
<path d="M-50.00,38.60 C-49.58,38.63 -49.17,38.57 -47.50,38.80 C-45.83,39.03 -42.75,39.65 -40.00,40.00 C-37.25,40.35 -33.67,40.68 -31.00,40.90 C-28.33,41.12 -26.07,41.22 -24.00,41.30 C-21.93,41.38 -20.60,41.37 -18.60,41.40 C-16.60,41.43 -14.05,41.45 -12.00,41.50 C-9.95,41.55 -8.30,41.62 -6.30,41.70 C-4.30,41.78 -2.10,42.00 0.00,42.00 C2.10,42.00 4.30,41.78 6.30,41.70 C8.30,41.62 9.95,41.55 12.00,41.50 C14.05,41.45 16.60,41.43 18.60,41.40 C20.60,41.37 21.93,41.38 24.00,41.30 C26.07,41.22 28.33,41.12 31.00,40.90 C33.67,40.68 37.25,40.35 40.00,40.00 C42.75,39.65 45.83,39.03 47.50,38.80 C49.17,38.57 49.58,38.63 50.00,38.60" class="ln"/>
<path d="M-48.00,51.30 C-47.33,51.30 -45.83,51.18 -44.00,51.30 C-42.17,51.42 -39.18,51.70 -37.00,52.00 C-34.82,52.30 -33.07,52.70 -30.90,53.10 C-28.73,53.50 -26.05,53.98 -24.00,54.40 C-21.95,54.82 -20.60,55.23 -18.60,55.60 C-16.60,55.97 -14.05,56.28 -12.00,56.60 C-9.95,56.92 -7.25,57.35 -6.30,57.50" class="ln"/>
<path d="M48.00,51.30 C47.33,51.30 45.83,51.18 44.00,51.30 C42.17,51.42 39.18,51.70 37.00,52.00 C34.82,52.30 33.07,52.70 30.90,53.10 C28.73,53.50 26.05,53.98 24.00,54.40 C21.95,54.82 20.60,55.23 18.60,55.60 C16.60,55.97 14.05,56.28 12.00,56.60 C9.95,56.92 7.25,57.35 6.30,57.50" class="ln"/>
<path d="M-49.00,63.50 C-48.63,63.50 -48.18,63.98 -46.80,63.50 C-45.42,63.02 -43.35,61.22 -40.70,60.60 C-38.05,59.98 -33.68,59.77 -30.90,59.80 C-28.12,59.83 -26.05,60.35 -24.00,60.80 C-21.95,61.25 -20.60,61.93 -18.60,62.50 C-16.60,63.07 -13.85,63.85 -12.00,64.20 C-10.15,64.55 -8.25,64.53 -7.50,64.60" class="ln"/>
<path d="M49.00,63.50 C48.63,63.50 48.18,63.98 46.80,63.50 C45.42,63.02 43.35,61.22 40.70,60.60 C38.05,59.98 33.68,59.77 30.90,59.80 C28.12,59.83 26.05,60.35 24.00,60.80 C21.95,61.25 20.60,61.93 18.60,62.50 C16.60,63.07 13.85,63.85 12.00,64.20 C10.15,64.55 8.25,64.53 7.50,64.60" class="ln"/>
<path d="M-46.00,71.80 C-45.53,71.73 -44.70,71.87 -43.20,71.40 C-41.70,70.93 -39.05,69.58 -37.00,69.00 C-34.95,68.42 -33.07,68.07 -30.90,67.90 C-28.73,67.73 -26.05,67.80 -24.00,68.00 C-21.95,68.20 -20.27,68.57 -18.60,69.10 C-16.93,69.63 -15.43,70.27 -14.00,71.20 C-12.57,72.13 -10.67,74.12 -10.00,74.70" class="ln"/>
<path d="M46.00,71.80 C45.53,71.73 44.70,71.87 43.20,71.40 C41.70,70.93 39.05,69.58 37.00,69.00 C34.95,68.42 33.07,68.07 30.90,67.90 C28.73,67.73 26.05,67.80 24.00,68.00 C21.95,68.20 20.27,68.57 18.60,69.10 C16.93,69.63 15.43,70.27 14.00,71.20 C12.57,72.13 10.67,74.12 10.00,74.70" class="ln"/>
<path d="M-30.50,83.50 C-29.92,82.83 -28.25,80.67 -27.00,79.50 C-25.75,78.33 -24.20,77.30 -23.00,76.50 C-21.80,75.70 -20.97,75.42 -19.80,74.70 C-18.63,73.98 -17.13,72.88 -16.00,72.20 C-14.87,71.52 -13.50,70.87 -13.00,70.60" class="ln"/>
<path d="M30.50,83.50 C29.92,82.83 28.25,80.67 27.00,79.50 C25.75,78.33 24.20,77.30 23.00,76.50 C21.80,75.70 20.97,75.42 19.80,74.70 C18.63,73.98 17.13,72.88 16.00,72.20 C14.87,71.52 13.50,70.87 13.00,70.60" class="ln"/>
</g></g>
<g transform="translate(431.40,145.40) scale(1.000,1.000)">
<g clip-path="url(#fmclip)"><g filter="url(#rough1)">
<path d="M-70.00,-10.00 L70.00,-10.00 L70.00,4.40 L29.50,4.40 L26.00,4.60 L20.00,5.60 L15.00,7.00 L10.00,9.00 L6.00,11.20 L2.50,13.20 L0.00,13.80 L-2.50,13.20 L-6.00,11.20 L-10.00,9.00 L-15.00,7.00 L-20.00,5.60 L-26.00,4.60 L-29.50,4.40 L-70.00,4.40Z" fill="#4848e0"/>
<path d="M-70.00,4.40 L-29.50,4.40 L-26.00,4.60 L-20.00,5.60 L-15.00,7.00 L-10.00,9.00 L-6.00,11.20 L-2.50,13.20 L0.00,13.80 L2.50,13.20 L6.00,11.20 L10.00,9.00 L15.00,7.00 L20.00,5.60 L26.00,4.60 L29.50,4.40 L70.00,4.40 L70.00,8.00 L29.80,8.00 L24.00,7.60 L17.40,10.50 L13.00,13.80 L10.00,16.70 L6.50,20.00 L3.80,22.80 L0.00,25.20 L-3.80,22.80 L-6.50,20.00 L-10.00,16.70 L-13.00,13.80 L-17.40,10.50 L-24.00,7.60 L-29.80,8.00 L-70.00,8.00Z" fill="#4848e0"/>
<path d="M-70.00,8.00 L-29.80,8.00 L-24.00,7.60 L-17.40,10.50 L-13.00,13.80 L-10.00,16.70 L-6.50,20.00 L-3.80,22.80 L0.00,25.20 L3.80,22.80 L6.50,20.00 L10.00,16.70 L13.00,13.80 L17.40,10.50 L24.00,7.60 L29.80,8.00 L70.00,8.00 L70.00,20.30 L44.00,20.30 L37.00,19.90 L32.00,20.60 L28.50,21.80 L23.00,24.70 L18.60,27.80 L13.00,31.00 L8.80,33.90 L5.50,36.80 L3.00,39.20 L0.00,41.00 L-3.00,39.20 L-5.50,36.80 L-8.80,33.90 L-13.00,31.00 L-18.60,27.80 L-23.00,24.70 L-28.50,21.80 L-32.00,20.60 L-37.00,19.90 L-44.00,20.30 L-70.00,20.30Z" fill="#50e8f0"/>
<path d="M-70.00,20.30 L-44.00,20.30 L-37.00,19.90 L-32.00,20.60 L-28.50,21.80 L-23.00,24.70 L-18.60,27.80 L-13.00,31.00 L-8.80,33.90 L-5.50,36.80 L-3.00,39.20 L0.00,41.00 L3.00,39.20 L5.50,36.80 L8.80,33.90 L13.00,31.00 L18.60,27.80 L23.00,24.70 L28.50,21.80 L32.00,20.60 L37.00,19.90 L44.00,20.30 L70.00,20.30 L70.00,38.60 L50.00,38.60 L47.50,38.80 L40.00,40.00 L31.00,40.90 L24.00,41.30 L18.60,41.40 L12.00,41.50 L6.30,41.70 L0.00,42.00 L-6.30,41.70 L-12.00,41.50 L-18.60,41.40 L-24.00,41.30 L-31.00,40.90 L-40.00,40.00 L-47.50,38.80 L-50.00,38.60 L-70.00,38.60Z" fill="#ffb820"/>
<path d="M-70.00,38.60 L-50.00,38.60 L-47.50,38.80 L-40.00,40.00 L-31.00,40.90 L-24.00,41.30 L-18.60,41.40 L-12.00,41.50 L-6.30,41.70 L0.00,42.00 L6.30,41.70 L12.00,41.50 L18.60,41.40 L24.00,41.30 L31.00,40.90 L40.00,40.00 L47.50,38.80 L50.00,38.60 L70.00,38.60 L70.00,51.30 L48.00,51.30 L44.00,51.30 L37.00,52.00 L30.90,53.10 L24.00,54.40 L18.60,55.60 L12.00,56.60 L6.30,57.50 L0.00,58.50 L-6.30,57.50 L-12.00,56.60 L-18.60,55.60 L-24.00,54.40 L-30.90,53.10 L-37.00,52.00 L-44.00,51.30 L-48.00,51.30 L-70.00,51.30Z" fill="#ffb820"/>
<path d="M-70.00,51.30 L-48.00,51.30 L-44.00,51.30 L-37.00,52.00 L-30.90,53.10 L-24.00,54.40 L-18.60,55.60 L-12.00,56.60 L-6.30,57.50 L0.00,58.50 L6.30,57.50 L12.00,56.60 L18.60,55.60 L24.00,54.40 L30.90,53.10 L37.00,52.00 L44.00,51.30 L48.00,51.30 L70.00,51.30 L70.00,63.50 L49.00,63.50 L46.80,63.50 L40.70,60.60 L30.90,59.80 L24.00,60.80 L18.60,62.50 L12.00,64.20 L7.50,64.60 L0.00,65.60 L-7.50,64.60 L-12.00,64.20 L-18.60,62.50 L-24.00,60.80 L-30.90,59.80 L-40.70,60.60 L-46.80,63.50 L-49.00,63.50 L-70.00,63.50Z" fill="#c82070"/>
<path d="M-70.00,63.50 L-49.00,63.50 L-46.80,63.50 L-40.70,60.60 L-30.90,59.80 L-24.00,60.80 L-18.60,62.50 L-12.00,64.20 L-7.50,64.60 L0.00,65.60 L7.50,64.60 L12.00,64.20 L18.60,62.50 L24.00,60.80 L30.90,59.80 L40.70,60.60 L46.80,63.50 L49.00,63.50 L70.00,63.50 L70.00,71.80 L46.00,71.80 L43.20,71.40 L37.00,69.00 L30.90,67.90 L24.00,68.00 L18.60,69.10 L14.00,71.20 L10.00,74.70 L0.00,75.70 L-10.00,74.70 L-14.00,71.20 L-18.60,69.10 L-24.00,68.00 L-30.90,67.90 L-37.00,69.00 L-43.20,71.40 L-46.00,71.80 L-70.00,71.80Z" fill="#4848e0"/>
<path d="M-70.00,71.80 L-46.00,71.80 L-43.20,71.40 L-37.00,69.00 L-30.90,67.90 L-24.00,68.00 L-18.60,69.10 L-14.00,71.20 L-10.00,74.70 L0.00,75.70 L10.00,74.70 L14.00,71.20 L18.60,69.10 L24.00,68.00 L30.90,67.90 L37.00,69.00 L43.20,71.40 L46.00,71.80 L70.00,71.80 L70.00,100.00 L-70.00,100.00Z" fill="#50e8f0"/>
<path d="M-20.07,6.42 C-20.30,7.22 -20.38,8.43 -20.84,9.15 C-21.29,9.87 -22.11,10.65 -22.81,10.71 C-23.51,10.78 -24.52,10.04 -25.06,9.55 C-25.60,9.05 -25.90,8.40 -26.06,7.75 C-26.23,7.10 -26.10,6.34 -26.04,5.64 C-25.97,4.94 -26.30,4.01 -25.64,3.53 C-24.99,3.05 -23.14,2.63 -22.11,2.77 C-21.09,2.90 -19.84,3.74 -19.50,4.34 C-19.16,4.95 -19.85,5.62 -20.07,6.42Z" fill="#50e8f0"/><path d="M27.17,6.43 C27.35,7.29 27.40,8.32 26.78,8.96 C26.16,9.60 24.46,10.07 23.44,10.25 C22.42,10.44 21.32,10.34 20.66,10.07 C20.01,9.79 19.66,9.29 19.53,8.61 C19.39,7.94 19.55,6.74 19.85,6.01 C20.14,5.29 20.69,4.63 21.27,4.25 C21.86,3.87 22.60,3.81 23.34,3.73 C24.08,3.65 25.09,3.31 25.72,3.75 C26.36,4.20 26.99,5.56 27.17,6.43Z" fill="#50e8f0"/>
<path d="M-19.67,15.72 C-19.57,17.32 -20.22,20.43 -20.83,21.44 C-21.45,22.46 -22.38,21.63 -23.36,21.79 C-24.34,21.95 -26.19,23.07 -26.71,22.40 C-27.24,21.74 -26.28,19.30 -26.50,17.80 C-26.73,16.31 -28.13,14.98 -28.06,13.42 C-27.99,11.86 -26.87,9.17 -26.07,8.44 C-25.27,7.70 -24.04,8.46 -23.27,9.03 C-22.50,9.59 -22.06,10.73 -21.46,11.85 C-20.87,12.96 -19.78,14.12 -19.67,15.72Z" fill="#50e8f0"/><path d="M26.97,14.63 C26.98,16.14 27.14,20.26 26.62,21.62 C26.10,22.98 24.55,22.95 23.87,22.78 C23.19,22.61 23.01,21.49 22.54,20.61 C22.07,19.73 21.59,18.72 21.04,17.51 C20.49,16.30 19.10,14.93 19.25,13.35 C19.40,11.77 21.10,8.74 21.95,8.01 C22.80,7.27 23.59,8.19 24.36,8.95 C25.12,9.71 26.10,11.63 26.54,12.58 C26.97,13.52 26.96,13.12 26.97,14.63Z" fill="#50e8f0"/>
<path d="M-26.00,14.71 C-26.09,15.46 -26.40,16.23 -26.57,17.03 C-26.74,17.84 -26.70,19.09 -27.00,19.52 C-27.31,19.94 -28.03,20.20 -28.39,19.57 C-28.75,18.93 -28.91,16.70 -29.15,15.70 C-29.38,14.69 -29.81,14.43 -29.79,13.52 C-29.78,12.62 -29.52,10.99 -29.04,10.28 C-28.57,9.56 -27.46,8.86 -26.96,9.24 C-26.46,9.62 -26.18,11.64 -26.02,12.56 C-25.86,13.47 -25.91,13.97 -26.00,14.71Z" fill="#d02080"/><path d="M29.64,14.25 C29.71,14.99 29.45,16.16 29.22,16.96 C28.99,17.77 28.67,18.93 28.26,19.07 C27.85,19.21 27.25,18.28 26.76,17.81 C26.27,17.34 25.45,17.05 25.34,16.25 C25.22,15.45 25.90,13.93 26.08,13.01 C26.26,12.08 26.07,11.20 26.42,10.68 C26.77,10.16 27.79,9.58 28.18,9.88 C28.58,10.19 28.55,11.80 28.79,12.52 C29.03,13.25 29.57,13.51 29.64,14.25Z" fill="#d02080"/>
<path d="M-6.65,12.93 C-6.89,13.85 -7.23,15.96 -8.10,16.72 C-8.96,17.48 -10.26,17.16 -11.83,17.48 C-13.39,17.80 -16.26,18.90 -17.47,18.63 C-18.67,18.37 -18.52,17.01 -19.06,15.88 C-19.59,14.76 -21.18,13.09 -20.69,11.88 C-20.20,10.66 -17.64,9.32 -16.11,8.61 C-14.59,7.91 -13.12,7.22 -11.54,7.65 C-9.95,8.08 -7.43,10.32 -6.61,11.20 C-5.80,12.08 -6.40,12.01 -6.65,12.93Z" fill="#4848e0"/><path d="M18.55,13.11 C18.05,14.07 16.79,14.97 15.98,16.00 C15.17,17.03 14.79,18.88 13.68,19.28 C12.56,19.67 10.78,19.10 9.29,18.37 C7.81,17.64 5.58,16.10 4.77,14.88 C3.97,13.67 3.60,11.92 4.45,11.08 C5.31,10.24 8.39,10.29 9.89,9.85 C11.39,9.42 11.93,8.39 13.45,8.46 C14.96,8.53 18.13,9.49 18.98,10.26 C19.83,11.04 19.05,12.16 18.55,13.11Z" fill="#4848e0"/>
<path d="M-20.33,21.50 C-20.13,22.43 -19.17,23.57 -19.86,24.28 C-20.54,24.99 -23.40,25.56 -24.45,25.75 C-25.51,25.95 -25.58,25.91 -26.20,25.44 C-26.82,24.98 -27.60,24.02 -28.17,22.95 C-28.74,21.88 -29.92,19.79 -29.62,19.00 C-29.32,18.22 -27.33,18.45 -26.40,18.27 C-25.46,18.08 -24.90,17.84 -24.02,17.91 C-23.13,17.97 -21.71,18.06 -21.09,18.66 C-20.48,19.26 -20.54,20.56 -20.33,21.50Z" fill="#d02080"/><path d="M29.08,22.51 C28.85,23.40 28.04,23.39 27.47,23.89 C26.90,24.38 26.51,25.17 25.67,25.47 C24.82,25.76 23.24,25.99 22.39,25.64 C21.54,25.28 20.83,24.22 20.55,23.33 C20.27,22.44 20.47,21.14 20.71,20.30 C20.95,19.46 21.26,19.04 21.97,18.28 C22.68,17.53 23.82,15.73 24.96,15.78 C26.11,15.83 28.16,17.45 28.85,18.57 C29.53,19.69 29.31,21.62 29.08,22.51Z" fill="#d02080"/>
<path d="M-6.94,23.90 C-6.64,24.82 -5.04,25.65 -5.92,26.34 C-6.80,27.03 -10.77,27.77 -12.23,28.06 C-13.70,28.34 -13.73,28.56 -14.73,28.05 C-15.73,27.53 -17.66,25.94 -18.26,24.97 C-18.86,24.00 -18.94,22.90 -18.34,22.21 C-17.74,21.52 -15.69,21.20 -14.67,20.84 C-13.65,20.47 -13.37,20.02 -12.22,20.02 C-11.07,20.02 -8.62,20.20 -7.74,20.85 C-6.86,21.50 -7.25,22.99 -6.94,23.90Z" fill="#50e8f0"/><path d="M20.37,23.52 C20.25,24.54 17.88,25.66 16.63,26.42 C15.39,27.18 14.04,27.75 12.89,28.10 C11.75,28.44 11.00,28.91 9.76,28.50 C8.52,28.09 6.15,26.61 5.45,25.64 C4.74,24.67 4.92,23.50 5.55,22.66 C6.18,21.82 7.74,21.16 9.23,20.57 C10.71,19.99 13.10,19.21 14.45,19.16 C15.80,19.11 16.32,19.54 17.30,20.27 C18.29,20.99 20.48,22.49 20.37,23.52Z" fill="#50e8f0"/>
<path d="M-2.30,25.59 C-2.36,26.18 -2.28,26.87 -2.57,27.16 C-2.86,27.46 -3.46,27.22 -4.06,27.36 C-4.65,27.50 -5.64,28.11 -6.14,28.02 C-6.64,27.93 -6.98,27.41 -7.06,26.83 C-7.14,26.26 -6.82,25.10 -6.65,24.59 C-6.47,24.07 -6.38,23.95 -6.02,23.75 C-5.66,23.55 -5.12,23.41 -4.49,23.40 C-3.86,23.38 -2.58,23.29 -2.22,23.65 C-1.85,24.02 -2.24,25.01 -2.30,25.59Z" fill="#e050e0"/><path d="M6.62,25.70 C6.68,26.22 6.85,26.21 6.52,26.67 C6.19,27.13 5.17,28.25 4.64,28.44 C4.11,28.63 3.81,28.09 3.34,27.82 C2.87,27.55 1.92,27.33 1.80,26.81 C1.69,26.29 2.42,25.33 2.66,24.67 C2.91,24.02 2.92,23.07 3.28,22.89 C3.63,22.71 4.29,23.48 4.77,23.59 C5.25,23.70 5.84,23.20 6.15,23.55 C6.46,23.90 6.55,25.18 6.62,25.70Z" fill="#e050e0"/>
<path d="M0.09,25.55 C0.10,26.63 -0.44,27.61 -0.67,28.14 C-0.90,28.68 -1.02,28.83 -1.28,28.76 C-1.53,28.68 -1.98,28.12 -2.20,27.68 C-2.42,27.23 -2.46,26.76 -2.59,26.08 C-2.73,25.39 -3.06,24.55 -3.02,23.57 C-2.97,22.58 -2.60,20.57 -2.32,20.18 C-2.04,19.80 -1.62,21.00 -1.35,21.25 C-1.08,21.49 -0.93,20.93 -0.69,21.65 C-0.45,22.37 0.09,24.46 0.09,25.55Z" fill="#4848e0"/><path d="M3.01,24.65 C3.01,25.88 2.71,26.98 2.54,27.98 C2.37,28.98 2.27,30.66 2.00,30.67 C1.72,30.68 1.18,28.80 0.90,28.04 C0.62,27.28 0.40,26.79 0.30,26.12 C0.19,25.46 0.21,24.88 0.25,24.05 C0.28,23.23 0.22,21.75 0.51,21.17 C0.80,20.60 1.64,20.69 1.98,20.60 C2.33,20.50 2.40,19.93 2.58,20.61 C2.75,21.28 3.02,23.42 3.01,24.65Z" fill="#4848e0"/>
<path d="M-39.48,27.88 C-38.98,29.28 -39.60,31.99 -40.69,33.41 C-41.78,34.84 -44.60,36.30 -46.01,36.43 C-47.42,36.56 -48.06,35.17 -49.16,34.21 C-50.26,33.24 -51.68,31.88 -52.62,30.66 C-53.55,29.44 -54.93,28.33 -54.75,26.89 C-54.58,25.45 -52.98,22.72 -51.57,22.04 C-50.16,21.35 -47.62,22.30 -46.30,22.80 C-44.99,23.29 -44.81,24.16 -43.67,25.01 C-42.53,25.85 -39.97,26.48 -39.48,27.88Z" fill="#f060b0"/><path d="M53.62,29.38 C53.51,30.47 52.74,30.90 52.09,31.91 C51.45,32.92 50.91,35.16 49.73,35.44 C48.55,35.73 46.48,34.42 45.00,33.62 C43.52,32.83 41.61,31.72 40.85,30.68 C40.09,29.65 39.76,28.76 40.45,27.43 C41.15,26.09 43.71,23.26 45.01,22.67 C46.30,22.09 46.95,23.47 48.24,23.91 C49.53,24.35 51.85,24.42 52.75,25.33 C53.65,26.25 53.73,28.28 53.62,29.38Z" fill="#f060b0"/>
<path d="M-27.12,23.90 C-27.35,24.51 -28.14,25.02 -28.84,25.55 C-29.54,26.07 -29.91,26.99 -31.32,27.08 C-32.74,27.17 -35.02,26.49 -37.33,26.07 C-39.64,25.65 -44.36,25.03 -45.17,24.54 C-45.97,24.05 -43.27,23.78 -42.15,23.11 C-41.04,22.43 -39.83,20.90 -38.49,20.51 C-37.16,20.12 -35.97,20.55 -34.14,20.78 C-32.30,21.01 -28.64,21.37 -27.47,21.89 C-26.30,22.41 -26.89,23.29 -27.12,23.90Z" fill="#d02080"/><path d="M45.87,23.07 C45.89,23.47 42.59,23.94 40.67,24.62 C38.75,25.30 36.16,26.91 34.36,27.16 C32.56,27.41 31.56,26.55 29.86,26.13 C28.17,25.70 24.79,25.29 24.19,24.62 C23.59,23.95 25.29,22.62 26.25,22.09 C27.21,21.56 28.09,21.65 29.96,21.44 C31.82,21.23 35.68,20.69 37.44,20.82 C39.20,20.95 39.12,21.83 40.53,22.21 C41.93,22.58 45.85,22.67 45.87,23.07Z" fill="#d02080"/>
<path d="M-6.79,34.60 C-6.56,36.27 -7.33,37.87 -8.80,38.81 C-10.26,39.75 -12.11,39.98 -15.58,40.24 C-19.05,40.50 -26.65,41.13 -29.62,40.35 C-32.58,39.58 -33.14,37.07 -33.36,35.60 C-33.57,34.12 -32.39,33.21 -30.91,31.53 C-29.42,29.84 -27.27,26.51 -24.46,25.47 C-21.64,24.43 -16.38,24.73 -14.00,25.28 C-11.63,25.83 -11.39,27.22 -10.18,28.77 C-8.98,30.32 -7.02,32.93 -6.79,34.60Z" fill="#ffb820"/><path d="M35.66,34.41 C34.78,35.97 30.58,37.81 27.91,38.62 C25.25,39.43 22.67,39.00 19.65,39.28 C16.62,39.55 12.52,40.68 9.77,40.27 C7.03,39.86 3.35,38.52 3.15,36.84 C2.95,35.16 6.67,32.06 8.58,30.20 C10.49,28.34 12.72,26.28 14.60,25.66 C16.47,25.04 16.74,25.86 19.83,26.46 C22.93,27.06 30.55,27.92 33.19,29.25 C35.83,30.57 36.53,32.85 35.66,34.41Z" fill="#ffb820"/>
<path d="M-33.29,34.55 C-33.36,35.28 -35.25,36.41 -35.96,36.97 C-36.66,37.52 -36.67,37.97 -37.53,37.89 C-38.38,37.82 -40.18,36.94 -41.07,36.52 C-41.96,36.10 -42.64,35.84 -42.87,35.36 C-43.11,34.87 -42.71,34.13 -42.49,33.60 C-42.27,33.06 -42.16,32.40 -41.56,32.14 C-40.96,31.87 -39.89,31.92 -38.89,31.99 C-37.88,32.07 -36.47,32.14 -35.53,32.57 C-34.60,33.00 -33.22,33.81 -33.29,34.55Z" fill="#fff8c0"/><path d="M44.86,35.20 C44.81,36.00 43.52,36.25 42.58,36.75 C41.64,37.26 40.34,38.14 39.22,38.24 C38.11,38.34 36.69,37.88 35.87,37.36 C35.05,36.83 34.39,35.64 34.29,35.12 C34.18,34.59 34.91,34.75 35.24,34.21 C35.57,33.66 35.56,32.33 36.28,31.85 C37.00,31.38 38.47,31.34 39.58,31.36 C40.68,31.37 42.02,31.32 42.90,31.96 C43.78,32.60 44.92,34.41 44.86,35.20Z" fill="#fff8c0"/>
<path d="M-29.92,38.14 C-29.76,38.90 -29.66,40.04 -30.16,40.36 C-30.67,40.69 -31.68,40.02 -32.93,40.09 C-34.19,40.16 -36.76,40.95 -37.67,40.79 C-38.58,40.63 -38.29,39.87 -38.39,39.12 C-38.49,38.37 -38.40,37.17 -38.27,36.30 C-38.14,35.43 -38.51,34.15 -37.62,33.88 C-36.73,33.61 -34.01,34.37 -32.93,34.69 C-31.85,35.02 -31.62,35.26 -31.11,35.83 C-30.61,36.41 -30.07,37.39 -29.92,38.14Z" fill="#50e8f0"/><path d="M41.54,37.31 C41.70,37.97 40.11,39.27 39.03,39.88 C37.95,40.50 36.28,40.66 35.07,40.99 C33.87,41.31 32.94,42.26 31.80,41.84 C30.66,41.42 28.69,39.40 28.23,38.47 C27.78,37.53 28.71,36.81 29.07,36.25 C29.44,35.68 29.39,35.40 30.42,35.06 C31.45,34.72 33.96,34.04 35.25,34.18 C36.53,34.32 37.06,35.37 38.11,35.89 C39.16,36.41 41.39,36.64 41.54,37.31Z" fill="#50e8f0"/>
<path d="M-16.76,37.15 C-16.81,37.83 -16.66,39.60 -17.06,40.09 C-17.45,40.58 -18.36,40.07 -19.13,40.08 C-19.90,40.08 -21.09,40.30 -21.69,40.11 C-22.28,39.92 -22.41,39.42 -22.68,38.93 C-22.95,38.45 -23.25,38.02 -23.31,37.20 C-23.37,36.38 -23.71,34.39 -23.05,34.00 C-22.40,33.61 -20.44,34.52 -19.39,34.85 C-18.34,35.18 -17.22,35.59 -16.78,35.97 C-16.34,36.36 -16.72,36.46 -16.76,37.15Z" fill="#f0ffc0"/><path d="M23.23,37.13 C23.25,37.69 23.95,38.69 23.43,39.26 C22.91,39.83 20.98,40.45 20.13,40.54 C19.27,40.63 18.93,39.97 18.30,39.81 C17.68,39.65 16.66,40.04 16.38,39.57 C16.09,39.11 16.28,37.73 16.58,37.00 C16.88,36.27 17.57,35.70 18.18,35.19 C18.79,34.68 19.40,33.82 20.26,33.94 C21.12,34.06 22.85,35.38 23.34,35.91 C23.84,36.44 23.22,36.57 23.23,37.13Z" fill="#f0ffc0"/>
<path d="M-1.24,45.80 C-1.46,47.09 -5.43,49.36 -7.78,50.26 C-10.14,51.15 -12.46,51.07 -15.37,51.16 C-18.28,51.24 -23.23,51.30 -25.25,50.79 C-27.28,50.27 -26.25,48.96 -27.52,48.06 C-28.80,47.17 -33.57,46.53 -32.90,45.42 C-32.22,44.30 -26.19,42.27 -23.46,41.39 C-20.73,40.51 -19.34,39.97 -16.51,40.15 C-13.68,40.34 -9.02,41.55 -6.47,42.49 C-3.93,43.43 -1.03,44.50 -1.24,45.80Z" fill="#ffb820"/><path d="M28.21,46.93 C28.06,48.30 29.92,48.66 28.92,49.80 C27.93,50.94 25.13,53.15 22.26,53.77 C19.38,54.39 14.25,54.35 11.68,53.51 C9.10,52.68 7.71,50.09 6.83,48.77 C5.95,47.45 5.95,47.03 6.41,45.59 C6.86,44.14 7.84,41.22 9.56,40.11 C11.29,38.99 13.36,38.66 16.74,38.91 C20.12,39.15 27.93,40.25 29.85,41.59 C31.76,42.92 28.37,45.56 28.21,46.93Z" fill="#ffb820"/>
<path d="M-30.70,43.09 C-30.81,43.85 -29.53,45.55 -30.06,46.03 C-30.59,46.50 -32.62,46.04 -33.86,45.95 C-35.10,45.86 -36.55,45.72 -37.51,45.49 C-38.46,45.26 -38.96,45.03 -39.59,44.58 C-40.22,44.13 -41.78,43.37 -41.28,42.77 C-40.79,42.18 -37.93,41.43 -36.62,40.99 C-35.30,40.56 -34.60,40.09 -33.39,40.17 C-32.18,40.25 -29.81,40.97 -29.36,41.46 C-28.91,41.95 -30.58,42.33 -30.70,43.09Z" fill="#50e8f0"/><path d="M41.03,44.00 C40.85,44.92 40.15,46.07 39.12,46.49 C38.09,46.92 35.99,46.48 34.87,46.55 C33.74,46.63 33.43,47.32 32.37,46.95 C31.31,46.57 28.81,45.14 28.49,44.31 C28.16,43.47 29.65,42.62 30.42,41.95 C31.18,41.29 31.96,40.71 33.08,40.32 C34.21,39.93 35.99,39.49 37.17,39.60 C38.36,39.72 39.56,40.28 40.20,41.01 C40.84,41.74 41.21,43.09 41.03,44.00Z" fill="#50e8f0"/>
<path d="M-39.25,46.97 C-39.18,48.23 -39.12,49.82 -39.49,50.75 C-39.87,51.67 -40.73,52.58 -41.50,52.50 C-42.27,52.42 -43.62,51.06 -44.10,50.27 C-44.58,49.48 -44.08,48.78 -44.37,47.75 C-44.66,46.71 -45.96,45.22 -45.84,44.08 C-45.72,42.94 -44.35,41.49 -43.65,40.92 C-42.95,40.36 -42.28,40.33 -41.66,40.70 C-41.03,41.08 -40.32,42.14 -39.92,43.18 C-39.52,44.23 -39.32,45.71 -39.25,46.97Z" fill="#f060b0"/><path d="M45.72,45.76 C45.66,47.01 45.00,48.44 44.46,49.35 C43.91,50.26 43.08,50.79 42.43,51.24 C41.78,51.69 41.20,52.51 40.56,52.05 C39.91,51.60 38.78,49.85 38.56,48.49 C38.35,47.13 38.94,44.92 39.27,43.89 C39.60,42.87 39.98,42.90 40.54,42.33 C41.10,41.76 41.93,40.54 42.65,40.46 C43.37,40.38 44.33,40.98 44.84,41.86 C45.35,42.75 45.78,44.51 45.72,45.76Z" fill="#f060b0"/>
<path d="M-6.88,47.67 C-7.22,48.73 -8.60,49.60 -9.61,50.57 C-10.62,51.53 -12.04,53.29 -12.93,53.45 C-13.83,53.60 -13.88,52.21 -14.99,51.52 C-16.10,50.82 -18.97,50.20 -19.60,49.28 C-20.23,48.36 -19.51,47.01 -18.75,46.01 C-18.00,45.02 -16.10,43.55 -15.07,43.30 C-14.03,43.05 -13.78,44.36 -12.53,44.51 C-11.27,44.67 -8.49,43.70 -7.55,44.22 C-6.61,44.75 -6.54,46.61 -6.88,47.67Z" fill="#f8ffc0"/><path d="M17.84,47.44 C17.97,48.70 19.18,50.32 18.38,51.29 C17.57,52.26 14.21,53.24 13.01,53.27 C11.81,53.29 11.81,52.08 11.16,51.46 C10.51,50.84 9.95,50.42 9.12,49.56 C8.29,48.70 5.89,47.33 6.16,46.28 C6.43,45.24 9.58,43.97 10.76,43.29 C11.95,42.61 12.13,42.15 13.26,42.21 C14.40,42.28 16.83,42.82 17.59,43.69 C18.36,44.56 17.71,46.17 17.84,47.44Z" fill="#f8ffc0"/>
<path d="M-36.43,54.84 C-36.75,56.95 -37.27,58.43 -37.64,59.84 C-38.00,61.25 -37.73,62.76 -38.61,63.30 C-39.50,63.85 -41.75,64.35 -42.96,63.11 C-44.16,61.86 -45.53,58.14 -45.84,55.86 C-46.15,53.57 -45.34,50.70 -44.83,49.38 C-44.31,48.06 -43.62,48.46 -42.74,47.94 C-41.85,47.42 -40.70,46.38 -39.53,46.26 C-38.37,46.14 -36.27,45.79 -35.76,47.22 C-35.24,48.65 -36.12,52.74 -36.43,54.84Z" fill="#c82070"/><path d="M44.60,55.14 C44.39,57.45 44.59,60.87 43.89,61.97 C43.20,63.08 41.36,61.91 40.42,61.78 C39.48,61.65 38.82,62.12 38.24,61.19 C37.66,60.26 37.34,57.90 36.95,56.21 C36.55,54.52 35.71,52.45 35.86,51.05 C36.02,49.64 37.02,48.87 37.86,47.79 C38.70,46.70 39.69,44.48 40.90,44.53 C42.12,44.59 44.52,46.36 45.13,48.13 C45.75,49.90 44.80,52.84 44.60,55.14Z" fill="#c82070"/>
<path d="M-15.25,56.83 C-14.66,57.78 -13.34,59.38 -14.72,60.56 C-16.10,61.74 -20.31,63.88 -23.53,63.93 C-26.75,63.97 -31.46,61.63 -34.05,60.85 C-36.63,60.07 -38.01,59.91 -39.05,59.23 C-40.08,58.54 -40.88,57.68 -40.26,56.76 C-39.63,55.84 -38.70,54.60 -35.32,53.69 C-31.94,52.79 -22.82,51.12 -19.98,51.31 C-17.14,51.51 -19.05,53.94 -18.27,54.86 C-17.48,55.78 -15.84,55.88 -15.25,56.83Z" fill="#c82070"/><path d="M46.12,58.01 C45.90,59.26 43.22,59.20 40.60,60.06 C37.98,60.91 34.17,63.01 30.43,63.14 C26.69,63.27 20.90,61.42 18.14,60.84 C15.37,60.27 14.55,60.62 13.85,59.70 C13.15,58.79 12.71,56.46 13.96,55.36 C15.22,54.25 18.84,53.59 21.36,53.07 C23.89,52.54 25.69,52.28 29.12,52.19 C32.55,52.10 39.11,51.56 41.94,52.53 C44.78,53.50 46.35,56.75 46.12,58.01Z" fill="#c82070"/>
<path d="M-24.07,57.22 C-24.12,57.75 -23.85,57.68 -24.34,58.07 C-24.83,58.46 -25.83,59.36 -27.01,59.55 C-28.19,59.74 -30.11,59.61 -31.41,59.22 C-32.72,58.83 -34.25,57.76 -34.84,57.19 C-35.42,56.63 -35.40,56.13 -34.94,55.84 C-34.48,55.55 -33.27,55.73 -32.09,55.46 C-30.91,55.19 -29.19,54.32 -27.85,54.22 C-26.51,54.12 -24.66,54.36 -24.03,54.86 C-23.40,55.36 -24.02,56.68 -24.07,57.22Z" fill="#ffb820"/><path d="M36.82,56.86 C36.78,57.40 34.81,58.06 33.69,58.34 C32.57,58.62 31.24,58.48 30.09,58.52 C28.93,58.57 27.70,58.71 26.74,58.61 C25.79,58.50 24.95,58.36 24.35,57.87 C23.75,57.38 22.71,56.14 23.15,55.67 C23.59,55.20 25.59,55.23 26.97,55.03 C28.34,54.83 30.23,54.45 31.40,54.46 C32.56,54.47 33.05,54.69 33.95,55.09 C34.86,55.49 36.87,56.32 36.82,56.86Z" fill="#ffb820"/>
<path d="M-35.46,55.49 C-35.50,55.97 -35.82,56.07 -36.17,56.48 C-36.52,56.89 -37.19,57.74 -37.54,57.95 C-37.89,58.17 -37.79,58.11 -38.28,57.76 C-38.76,57.42 -40.27,56.52 -40.45,55.86 C-40.63,55.19 -39.64,54.43 -39.35,53.79 C-39.06,53.16 -39.11,52.38 -38.71,52.06 C-38.31,51.74 -37.41,51.62 -36.94,51.87 C-36.48,52.13 -36.14,52.99 -35.89,53.60 C-35.65,54.20 -35.41,55.01 -35.46,55.49Z" fill="#b04050"/><path d="M39.25,55.37 C39.36,55.96 39.82,56.07 39.59,56.59 C39.37,57.11 38.52,58.35 37.90,58.49 C37.29,58.62 36.29,57.86 35.90,57.40 C35.51,56.95 35.59,56.40 35.56,55.78 C35.53,55.17 35.61,54.15 35.72,53.72 C35.83,53.28 35.84,53.41 36.24,53.16 C36.65,52.91 37.70,52.23 38.15,52.21 C38.60,52.19 38.77,52.50 38.95,53.03 C39.14,53.55 39.15,54.77 39.25,55.37Z" fill="#b04050"/>
<path d="M-25.53,61.47 C-25.54,61.94 -25.83,62.75 -26.32,63.12 C-26.82,63.49 -27.71,63.71 -28.49,63.70 C-29.28,63.69 -30.26,63.34 -31.05,63.08 C-31.83,62.81 -32.94,62.50 -33.19,62.11 C-33.44,61.73 -32.67,61.22 -32.53,60.77 C-32.40,60.31 -32.92,59.57 -32.39,59.40 C-31.87,59.23 -30.42,59.60 -29.39,59.76 C-28.37,59.91 -26.87,60.04 -26.23,60.32 C-25.59,60.61 -25.51,61.00 -25.53,61.47Z" fill="#e050e0"/><path d="M33.99,61.85 C34.20,62.34 34.52,62.97 33.88,63.20 C33.24,63.43 31.37,63.10 30.16,63.23 C28.95,63.36 27.56,64.13 26.62,63.95 C25.68,63.77 24.71,62.63 24.50,62.16 C24.30,61.69 25.00,61.61 25.38,61.12 C25.76,60.63 25.91,59.47 26.79,59.22 C27.66,58.97 29.67,59.45 30.64,59.62 C31.61,59.80 32.06,59.89 32.62,60.26 C33.17,60.63 33.78,61.35 33.99,61.85Z" fill="#e050e0"/>
<path d="M-8.94,69.18 C-8.72,70.21 -8.46,71.63 -10.35,72.10 C-12.24,72.57 -17.54,72.01 -20.28,72.01 C-23.02,72.01 -24.81,72.44 -26.80,72.10 C-28.79,71.76 -30.55,70.77 -32.23,69.97 C-33.91,69.18 -37.55,68.11 -36.88,67.32 C-36.21,66.53 -31.62,65.74 -28.21,65.23 C-24.81,64.72 -19.21,64.12 -16.45,64.24 C-13.68,64.36 -12.89,65.10 -11.64,65.92 C-10.38,66.75 -9.15,68.15 -8.94,69.18Z" fill="#4848e0"/><path d="M36.00,67.92 C36.30,69.01 33.69,71.90 32.07,72.70 C30.45,73.51 29.47,72.75 26.27,72.75 C23.08,72.75 16.33,73.24 12.89,72.69 C9.45,72.13 6.99,70.28 5.64,69.42 C4.30,68.56 3.30,68.41 4.81,67.51 C6.32,66.61 12.00,64.60 14.70,64.03 C17.40,63.46 18.41,63.75 21.01,64.11 C23.60,64.47 27.78,65.57 30.28,66.21 C32.78,66.84 35.70,66.84 36.00,67.92Z" fill="#4848e0"/>
<path d="M-33.24,67.02 C-33.11,67.94 -33.34,68.43 -34.00,69.14 C-34.66,69.85 -36.24,70.95 -37.21,71.27 C-38.17,71.59 -38.90,71.42 -39.79,71.08 C-40.67,70.74 -41.79,70.19 -42.52,69.23 C-43.25,68.27 -44.50,66.29 -44.15,65.32 C-43.80,64.34 -41.62,63.81 -40.40,63.37 C-39.19,62.94 -37.78,62.65 -36.85,62.68 C-35.91,62.72 -35.40,62.87 -34.80,63.59 C-34.20,64.31 -33.38,66.09 -33.24,67.02Z" fill="#50e8f0"/><path d="M43.17,67.37 C43.03,68.27 42.76,68.34 41.88,69.14 C41.01,69.95 38.91,71.85 37.90,72.21 C36.89,72.56 36.68,71.87 35.83,71.28 C34.98,70.69 33.22,69.61 32.78,68.67 C32.35,67.73 33.09,66.80 33.21,65.63 C33.34,64.45 32.56,62.25 33.52,61.60 C34.49,60.96 37.45,61.40 38.98,61.75 C40.52,62.10 42.02,62.78 42.72,63.71 C43.42,64.65 43.31,66.46 43.17,67.37Z" fill="#50e8f0"/>
<path d="M-17.72,77.65 C-17.48,79.67 -16.61,80.68 -17.96,82.10 C-19.31,83.52 -22.72,85.62 -25.82,86.19 C-28.92,86.76 -34.18,86.69 -36.55,85.52 C-38.92,84.34 -39.64,80.90 -40.06,79.14 C-40.49,77.39 -40.17,76.30 -39.10,75.00 C-38.04,73.71 -35.26,72.30 -33.68,71.36 C-32.10,70.42 -32.00,69.58 -29.62,69.35 C-27.24,69.13 -21.37,68.61 -19.39,69.99 C-17.41,71.37 -17.96,75.63 -17.72,77.65Z" fill="#50e8f0"/><path d="M43.61,78.13 C43.95,79.92 41.47,81.62 39.15,82.50 C36.83,83.37 32.93,83.10 29.70,83.40 C26.46,83.69 22.32,84.77 19.74,84.28 C17.15,83.79 14.68,82.21 14.18,80.45 C13.69,78.69 15.80,75.59 16.76,73.73 C17.73,71.86 17.10,70.06 20.00,69.26 C22.89,68.46 31.27,68.51 34.13,68.93 C36.99,69.35 35.56,70.24 37.15,71.78 C38.73,73.31 43.28,76.35 43.61,78.13Z" fill="#50e8f0"/>
<path d="M-14.72,86.10 C-14.66,87.39 -15.64,88.41 -16.43,89.31 C-17.21,90.21 -18.40,91.20 -19.43,91.49 C-20.45,91.77 -21.32,91.51 -22.59,91.05 C-23.86,90.58 -26.62,89.67 -27.03,88.69 C-27.44,87.71 -25.56,86.38 -25.05,85.18 C-24.53,83.98 -24.87,82.18 -23.93,81.51 C-22.99,80.84 -20.58,81.15 -19.39,81.15 C-18.21,81.16 -17.58,80.70 -16.80,81.52 C-16.02,82.35 -14.79,84.80 -14.72,86.10Z" fill="#ffb820"/><path d="M25.53,85.64 C25.34,86.80 25.40,88.37 24.60,89.70 C23.80,91.03 22.00,92.98 20.71,93.61 C19.41,94.24 17.58,94.26 16.84,93.47 C16.10,92.68 16.41,90.33 16.26,88.90 C16.11,87.48 15.79,86.41 15.92,84.92 C16.05,83.43 16.21,80.82 17.06,79.96 C17.90,79.10 19.56,79.29 21.00,79.75 C22.45,80.22 24.99,81.75 25.75,82.74 C26.50,83.72 25.72,84.48 25.53,85.64Z" fill="#ffb820"/>
<path d="M-13.60,83.35 C-13.45,84.02 -13.36,84.49 -13.76,84.87 C-14.16,85.25 -15.40,85.53 -15.98,85.63 C-16.57,85.73 -16.78,85.68 -17.26,85.48 C-17.74,85.28 -18.49,85.06 -18.89,84.45 C-19.28,83.84 -19.75,82.45 -19.64,81.84 C-19.53,81.23 -18.81,80.94 -18.21,80.79 C-17.61,80.63 -16.66,80.91 -16.06,80.92 C-15.47,80.94 -15.04,80.46 -14.63,80.87 C-14.21,81.27 -13.74,82.69 -13.60,83.35Z" fill="#fff8c0"/><path d="M18.97,83.29 C18.90,83.95 18.87,85.14 18.53,85.56 C18.18,85.98 17.49,85.91 16.91,85.82 C16.34,85.73 15.53,85.34 15.08,85.01 C14.62,84.67 14.30,84.27 14.19,83.80 C14.09,83.32 14.41,82.78 14.44,82.16 C14.47,81.53 14.04,80.42 14.37,80.06 C14.69,79.70 15.64,79.75 16.40,80.00 C17.16,80.25 18.49,81.04 18.92,81.58 C19.35,82.13 19.03,82.62 18.97,83.29Z" fill="#fff8c0"/>
<path d="M-14.68,78.11 C-14.64,78.44 -14.61,78.85 -14.84,79.09 C-15.08,79.34 -15.66,79.53 -16.09,79.59 C-16.52,79.65 -17.17,79.57 -17.44,79.46 C-17.71,79.34 -17.66,79.20 -17.72,78.89 C-17.78,78.59 -17.84,77.95 -17.79,77.63 C-17.74,77.30 -17.68,77.17 -17.44,76.95 C-17.20,76.72 -16.75,76.23 -16.35,76.25 C-15.95,76.27 -15.31,76.77 -15.03,77.08 C-14.75,77.39 -14.71,77.77 -14.68,78.11Z" fill="#ff70c0"/><path d="M18.61,78.62 C18.55,78.96 17.80,79.14 17.46,79.28 C17.11,79.42 16.86,79.32 16.54,79.45 C16.22,79.58 15.86,80.17 15.53,80.03 C15.20,79.90 14.71,78.97 14.55,78.63 C14.38,78.28 14.40,78.21 14.57,77.96 C14.73,77.71 15.17,77.33 15.53,77.11 C15.89,76.89 16.34,76.59 16.73,76.62 C17.12,76.64 17.55,76.92 17.86,77.25 C18.18,77.59 18.68,78.29 18.61,78.62Z" fill="#ff70c0"/>
<path d="M-34.21,84.32 C-34.25,84.82 -33.45,85.22 -33.77,85.64 C-34.09,86.05 -35.31,86.70 -36.14,86.79 C-36.97,86.88 -38.14,86.45 -38.74,86.19 C-39.34,85.92 -39.31,85.64 -39.75,85.20 C-40.19,84.75 -41.55,83.87 -41.38,83.53 C-41.20,83.19 -39.54,83.45 -38.69,83.13 C-37.83,82.82 -37.12,81.72 -36.26,81.64 C-35.39,81.55 -33.84,82.18 -33.50,82.63 C-33.16,83.07 -34.16,83.82 -34.21,84.32Z" fill="#d02080"/><path d="M40.41,84.09 C40.43,84.51 39.89,85.37 39.31,85.90 C38.73,86.43 37.47,87.22 36.92,87.27 C36.38,87.31 36.47,86.53 36.06,86.18 C35.65,85.83 35.03,85.67 34.46,85.18 C33.90,84.70 32.51,83.78 32.66,83.28 C32.82,82.78 34.64,82.40 35.40,82.18 C36.16,81.96 36.61,81.73 37.24,81.94 C37.87,82.14 38.67,83.07 39.20,83.43 C39.73,83.79 40.39,83.68 40.41,84.09Z" fill="#d02080"/>
<path d="M-29.62,85.90 C-29.58,86.25 -28.78,86.76 -28.99,87.11 C-29.19,87.46 -30.29,87.84 -30.83,88.00 C-31.38,88.16 -31.83,88.27 -32.23,88.07 C-32.63,87.87 -33.15,87.24 -33.24,86.80 C-33.33,86.37 -33.05,85.78 -32.77,85.43 C-32.48,85.09 -31.92,84.92 -31.53,84.73 C-31.15,84.53 -30.84,84.23 -30.46,84.28 C-30.08,84.32 -29.39,84.72 -29.25,84.99 C-29.11,85.26 -29.66,85.54 -29.62,85.90Z" fill="#ffb820"/><path d="M32.64,85.69 C32.48,86.08 32.23,86.80 31.96,87.12 C31.68,87.43 31.35,87.52 31.00,87.57 C30.65,87.62 30.13,87.59 29.86,87.44 C29.59,87.29 29.43,87.02 29.40,86.68 C29.37,86.34 29.55,85.77 29.69,85.38 C29.83,85.00 30.00,84.55 30.22,84.38 C30.44,84.22 30.56,84.30 31.01,84.37 C31.46,84.43 32.64,84.55 32.91,84.77 C33.18,84.99 32.80,85.30 32.64,85.69Z" fill="#ffb820"/>
<rect x="-4.00" y="38.00" width="8.00" height="14.00" fill="#50e8f0"/>
<rect x="-4.00" y="52.00" width="8.00" height="32.00" fill="#4848e0"/>
<rect x="-4.00" y="84.00" width="8.00" height="8.00" fill="#ffb820"/>
</g></g>
<g clip-path="url(#fmclip)">
<path d="M-29.50,4.40 C-28.92,4.43 -27.58,4.40 -26.00,4.60 C-24.42,4.80 -21.83,5.20 -20.00,5.60 C-18.17,6.00 -16.67,6.43 -15.00,7.00 C-13.33,7.57 -11.50,8.30 -10.00,9.00 C-8.50,9.70 -7.25,10.50 -6.00,11.20 C-4.75,11.90 -3.50,12.77 -2.50,13.20 C-1.50,13.63 -0.83,13.80 0.00,13.80 C0.83,13.80 1.50,13.63 2.50,13.20 C3.50,12.77 4.75,11.90 6.00,11.20 C7.25,10.50 8.50,9.70 10.00,9.00 C11.50,8.30 13.33,7.57 15.00,7.00 C16.67,6.43 18.17,6.00 20.00,5.60 C21.83,5.20 24.42,4.80 26.00,4.60 C27.58,4.40 28.92,4.43 29.50,4.40" class="ln"/>
<path d="M-29.80,8.00 C-28.83,7.93 -26.07,7.18 -24.00,7.60 C-21.93,8.02 -19.23,9.47 -17.40,10.50 C-15.57,11.53 -14.23,12.77 -13.00,13.80 C-11.77,14.83 -11.08,15.67 -10.00,16.70 C-8.92,17.73 -7.53,18.98 -6.50,20.00 C-5.47,21.02 -4.88,21.93 -3.80,22.80 C-2.72,23.67 -1.27,25.20 0.00,25.20 C1.27,25.20 2.72,23.67 3.80,22.80 C4.88,21.93 5.47,21.02 6.50,20.00 C7.53,18.98 8.92,17.73 10.00,16.70 C11.08,15.67 11.77,14.83 13.00,13.80 C14.23,12.77 15.57,11.53 17.40,10.50 C19.23,9.47 21.93,8.02 24.00,7.60 C26.07,7.18 28.83,7.93 29.80,8.00" class="ln"/>
<path d="M-44.00,20.30 C-42.83,20.23 -39.00,19.85 -37.00,19.90 C-35.00,19.95 -33.42,20.28 -32.00,20.60 C-30.58,20.92 -30.00,21.12 -28.50,21.80 C-27.00,22.48 -24.65,23.70 -23.00,24.70 C-21.35,25.70 -20.27,26.75 -18.60,27.80 C-16.93,28.85 -14.63,29.98 -13.00,31.00 C-11.37,32.02 -10.05,32.93 -8.80,33.90 C-7.55,34.87 -6.47,35.92 -5.50,36.80 C-4.53,37.68 -3.92,38.50 -3.00,39.20 C-2.08,39.90 -1.00,41.00 0.00,41.00 C1.00,41.00 2.08,39.90 3.00,39.20 C3.92,38.50 4.53,37.68 5.50,36.80 C6.47,35.92 7.55,34.87 8.80,33.90 C10.05,32.93 11.37,32.02 13.00,31.00 C14.63,29.98 16.93,28.85 18.60,27.80 C20.27,26.75 21.35,25.70 23.00,24.70 C24.65,23.70 27.00,22.48 28.50,21.80 C30.00,21.12 30.58,20.92 32.00,20.60 C33.42,20.28 35.00,19.95 37.00,19.90 C39.00,19.85 42.83,20.23 44.00,20.30" class="ln"/>
<path d="M-50.00,38.60 C-49.58,38.63 -49.17,38.57 -47.50,38.80 C-45.83,39.03 -42.75,39.65 -40.00,40.00 C-37.25,40.35 -33.67,40.68 -31.00,40.90 C-28.33,41.12 -26.07,41.22 -24.00,41.30 C-21.93,41.38 -20.60,41.37 -18.60,41.40 C-16.60,41.43 -14.05,41.45 -12.00,41.50 C-9.95,41.55 -8.30,41.62 -6.30,41.70 C-4.30,41.78 -2.10,42.00 0.00,42.00 C2.10,42.00 4.30,41.78 6.30,41.70 C8.30,41.62 9.95,41.55 12.00,41.50 C14.05,41.45 16.60,41.43 18.60,41.40 C20.60,41.37 21.93,41.38 24.00,41.30 C26.07,41.22 28.33,41.12 31.00,40.90 C33.67,40.68 37.25,40.35 40.00,40.00 C42.75,39.65 45.83,39.03 47.50,38.80 C49.17,38.57 49.58,38.63 50.00,38.60" class="ln"/>
<path d="M-48.00,51.30 C-47.33,51.30 -45.83,51.18 -44.00,51.30 C-42.17,51.42 -39.18,51.70 -37.00,52.00 C-34.82,52.30 -33.07,52.70 -30.90,53.10 C-28.73,53.50 -26.05,53.98 -24.00,54.40 C-21.95,54.82 -20.60,55.23 -18.60,55.60 C-16.60,55.97 -14.05,56.28 -12.00,56.60 C-9.95,56.92 -7.25,57.35 -6.30,57.50" class="ln"/>
<path d="M48.00,51.30 C47.33,51.30 45.83,51.18 44.00,51.30 C42.17,51.42 39.18,51.70 37.00,52.00 C34.82,52.30 33.07,52.70 30.90,53.10 C28.73,53.50 26.05,53.98 24.00,54.40 C21.95,54.82 20.60,55.23 18.60,55.60 C16.60,55.97 14.05,56.28 12.00,56.60 C9.95,56.92 7.25,57.35 6.30,57.50" class="ln"/>
<path d="M-49.00,63.50 C-48.63,63.50 -48.18,63.98 -46.80,63.50 C-45.42,63.02 -43.35,61.22 -40.70,60.60 C-38.05,59.98 -33.68,59.77 -30.90,59.80 C-28.12,59.83 -26.05,60.35 -24.00,60.80 C-21.95,61.25 -20.60,61.93 -18.60,62.50 C-16.60,63.07 -13.85,63.85 -12.00,64.20 C-10.15,64.55 -8.25,64.53 -7.50,64.60" class="ln"/>
<path d="M49.00,63.50 C48.63,63.50 48.18,63.98 46.80,63.50 C45.42,63.02 43.35,61.22 40.70,60.60 C38.05,59.98 33.68,59.77 30.90,59.80 C28.12,59.83 26.05,60.35 24.00,60.80 C21.95,61.25 20.60,61.93 18.60,62.50 C16.60,63.07 13.85,63.85 12.00,64.20 C10.15,64.55 8.25,64.53 7.50,64.60" class="ln"/>
<path d="M-46.00,71.80 C-45.53,71.73 -44.70,71.87 -43.20,71.40 C-41.70,70.93 -39.05,69.58 -37.00,69.00 C-34.95,68.42 -33.07,68.07 -30.90,67.90 C-28.73,67.73 -26.05,67.80 -24.00,68.00 C-21.95,68.20 -20.27,68.57 -18.60,69.10 C-16.93,69.63 -15.43,70.27 -14.00,71.20 C-12.57,72.13 -10.67,74.12 -10.00,74.70" class="ln"/>
<path d="M46.00,71.80 C45.53,71.73 44.70,71.87 43.20,71.40 C41.70,70.93 39.05,69.58 37.00,69.00 C34.95,68.42 33.07,68.07 30.90,67.90 C28.73,67.73 26.05,67.80 24.00,68.00 C21.95,68.20 20.27,68.57 18.60,69.10 C16.93,69.63 15.43,70.27 14.00,71.20 C12.57,72.13 10.67,74.12 10.00,74.70" class="ln"/>
<path d="M-30.50,83.50 C-29.92,82.83 -28.25,80.67 -27.00,79.50 C-25.75,78.33 -24.20,77.30 -23.00,76.50 C-21.80,75.70 -20.97,75.42 -19.80,74.70 C-18.63,73.98 -17.13,72.88 -16.00,72.20 C-14.87,71.52 -13.50,70.87 -13.00,70.60" class="ln"/>
<path d="M30.50,83.50 C29.92,82.83 28.25,80.67 27.00,79.50 C25.75,78.33 24.20,77.30 23.00,76.50 C21.80,75.70 20.97,75.42 19.80,74.70 C18.63,73.98 17.13,72.88 16.00,72.20 C14.87,71.52 13.50,70.87 13.00,70.60" class="ln"/>
</g></g>
<text x="43.60" y="126.60" font-size="10.6" text-anchor="start" textLength="27.60" lengthAdjust="spacingAndGlyphs" >MDTB</text>
<text x="154.30" y="126.60" font-size="10.6" text-anchor="start" textLength="66.20" lengthAdjust="spacingAndGlyphs" >MDTB-Highres</text>
<text x="286.90" y="126.60" font-size="10.6" text-anchor="start" textLength="47.60" lengthAdjust="spacing" >Nishimoto</text>
<text x="425.50" y="126.60" font-size="10.6" text-anchor="start" textLength="14.90" lengthAdjust="spacingAndGlyphs" >IBC</text>
<text x="47.40" y="251.90" font-size="10.6" text-anchor="start" textLength="18.10" lengthAdjust="spacingAndGlyphs" >WM</text>
<text x="164.10" y="251.90" font-size="10.6" text-anchor="start" textLength="39.50" lengthAdjust="spacingAndGlyphs" >Demand</text>
<text x="282.50" y="251.90" font-size="10.6" text-anchor="start" textLength="59.20" lengthAdjust="spacing" >Somatotopic</text>
<text x="423.50" y="251.90" font-size="10.6" text-anchor="start" textLength="19.80" lengthAdjust="spacingAndGlyphs" >HCP</text>
<text transform="translate(0.00,293.81) scale(0.947,1)" font-size="19.05" font-weight="bold" fill="#000">b</text>
<text x="58.00" y="293.40" font-size="12.2" text-anchor="start" textLength="143.00" lengthAdjust="spacingAndGlyphs" >Multi-dimensional scaling of</text>
<text x="82.60" y="306.50" font-size="12.2" text-anchor="start" textLength="93.20" lengthAdjust="spacingAndGlyphs" >dataset similarities</text>
<path class="ax" d="M31.3,325 L31.3,471.3 L223.6,471.3"/>
<path class="ax" d="M29.6,348.30 L31.3,348.30"/>
<text x="28.20" y="351.05" font-size="7.6" text-anchor="end" textLength="14.20" lengthAdjust="spacingAndGlyphs" >0.40</text>
<path class="ax" d="M29.6,376.90 L31.3,376.90"/>
<text x="28.20" y="379.65" font-size="7.6" text-anchor="end" textLength="14.20" lengthAdjust="spacingAndGlyphs" >0.20</text>
<path class="ax" d="M29.6,405.50 L31.3,405.50"/>
<text x="28.20" y="408.25" font-size="7.6" text-anchor="end" textLength="14.20" lengthAdjust="spacingAndGlyphs" >0.00</text>
<path class="ax" d="M29.6,434.10 L31.3,434.10"/>
<text x="28.20" y="436.85" font-size="7.6" text-anchor="end" textLength="18.60" lengthAdjust="spacingAndGlyphs" >&#8722;0.20</text>
<path class="ax" d="M29.6,462.70 L31.3,462.70"/>
<text x="28.20" y="465.45" font-size="7.6" text-anchor="end" textLength="18.60" lengthAdjust="spacingAndGlyphs" >&#8722;0.40</text>
<path class="ax" d="M50.20,471.3 L50.20,473.0"/>
<text x="48.60" y="480.80" font-size="7.2" text-anchor="middle" textLength="13.80" lengthAdjust="spacingAndGlyphs" >&#8722;0.4</text>
<path class="ax" d="M78.80,471.3 L78.80,473.0"/>
<text x="77.20" y="480.80" font-size="7.2" text-anchor="middle" textLength="13.80" lengthAdjust="spacingAndGlyphs" >&#8722;0.2</text>
<path class="ax" d="M107.40,471.3 L107.40,473.0"/>
<text x="107.40" y="480.80" font-size="7.2" text-anchor="middle" textLength="9.80" lengthAdjust="spacingAndGlyphs" >0.0</text>
<path class="ax" d="M136.00,471.3 L136.00,473.0"/>
<text x="136.00" y="480.80" font-size="7.2" text-anchor="middle" textLength="9.80" lengthAdjust="spacingAndGlyphs" >0.2</text>
<path class="ax" d="M164.60,471.3 L164.60,473.0"/>
<text x="164.60" y="480.80" font-size="7.2" text-anchor="middle" textLength="9.80" lengthAdjust="spacingAndGlyphs" >0.4</text>
<path class="ax" d="M193.20,471.3 L193.20,473.0"/>
<text x="193.20" y="480.80" font-size="7.2" text-anchor="middle" textLength="9.80" lengthAdjust="spacingAndGlyphs" >0.6</text>
<path class="ax" d="M221.80,471.3 L221.80,473.0"/>
<text x="221.80" y="480.80" font-size="7.2" text-anchor="middle" textLength="9.80" lengthAdjust="spacingAndGlyphs" >0.8</text>
<circle cx="65.5" cy="332.5" r="2.9" fill="#7b2b8c"/>
<circle cx="119.8" cy="329.8" r="2.9" fill="#1f77b4"/>
<circle cx="121.2" cy="382.3" r="2.9" fill="#d6125a"/>
<circle cx="94.5" cy="412.5" r="2.9" fill="#1f77b4"/>
<circle cx="133.3" cy="436.9" r="2.9" fill="#1f77b4"/>
<circle cx="214.8" cy="429.5" r="2.9" fill="#1f77b4"/>
<circle cx="90.0" cy="462.0" r="2.9" fill="#1f77b4"/>
<circle cx="38.0" cy="467.4" r="2.9" fill="#1f77b4"/>
<text x="59.50" y="325.50" font-size="7.6" text-anchor="start" textLength="14.20" lengthAdjust="spacingAndGlyphs" >HCP</text>
<text x="102.60" y="340.20" font-size="7.6" text-anchor="start" textLength="35.40" lengthAdjust="spacing" >Nishimoto</text>
<text x="110.90" y="375.10" font-size="7.6" text-anchor="start" textLength="20.40" lengthAdjust="spacingAndGlyphs" >MDTB</text>
<text x="90.20" y="405.30" font-size="7.6" text-anchor="start" textLength="12.20" lengthAdjust="spacingAndGlyphs" >IBC</text>
<text x="120.40" y="430.50" font-size="7.6" text-anchor="start" textLength="27.10" lengthAdjust="spacing" >Pontine</text>
<text x="163.70" y="422.50" font-size="7.6" text-anchor="start" textLength="51.70" lengthAdjust="spacing" >Somatotopic</text>
<text x="84.20" y="453.80" font-size="7.6" text-anchor="start" textLength="14.10" lengthAdjust="spacing" >WM</text>
<text x="38.50" y="459.30" font-size="7.6" text-anchor="start" textLength="29.80" lengthAdjust="spacing" >Demand</text>
<text transform="translate(254.90,279.03) scale(1.086,1)" font-size="17.09" font-weight="bold" fill="#000">c</text>
<text x="310.80" y="279.20" font-size="12.2" text-anchor="start" textLength="110.00" lengthAdjust="spacingAndGlyphs" >Parcellation Reliability</text>
<rect x="300.4" y="309.4" width="14.00" height="32.70" fill="#5e88ad"/>
<rect x="317.6" y="310.6" width="14.00" height="31.50" fill="#5e88ad"/>
<rect x="339.1" y="325.4" width="13.80" height="16.70" fill="#5e88ad"/>
<rect x="356.3" y="331.3" width="13.80" height="10.80" fill="#5e88ad"/>
<rect x="373.8" y="329.6" width="14.00" height="12.50" fill="#5e88ad"/>
<rect x="391.2" y="308.9" width="13.80" height="33.20" fill="#5e88ad"/>
<rect x="408.7" y="305.7" width="13.80" height="36.40" fill="#5e88ad"/>
<rect x="425.9" y="315.6" width="14.00" height="26.50" fill="#5e88ad"/>
<circle cx="309.1" cy="296.6" r="1.5" fill="#333" fill-opacity="0.68"/>
<circle cx="307.5" cy="302.8" r="1.5" fill="#333" fill-opacity="0.68"/>
<circle cx="307.5" cy="304.4" r="1.5" fill="#333" fill-opacity="0.68"/>
<circle cx="307.9" cy="310.6" r="1.5" fill="#333" fill-opacity="0.68"/>
<circle cx="308.7" cy="311.4" r="1.5" fill="#333" fill-opacity="0.68"/>
<circle cx="306.2" cy="312.2" r="1.5" fill="#333" fill-opacity="0.68"/>
<circle cx="307.5" cy="314.7" r="1.5" fill="#333" fill-opacity="0.68"/>
<circle cx="305.8" cy="322.9" r="1.5" fill="#333" fill-opacity="0.68"/>
<circle cx="308.4" cy="306.5" r="1.5" fill="#333" fill-opacity="0.68"/>
<circle cx="324.3" cy="295.2" r="1.5" fill="#333" fill-opacity="0.68"/>
<circle cx="326.3" cy="298.7" r="1.5" fill="#333" fill-opacity="0.68"/>
<circle cx="325.9" cy="302.8" r="1.5" fill="#333" fill-opacity="0.68"/>
<circle cx="325.1" cy="308.1" r="1.5" fill="#333" fill-opacity="0.68"/>
<circle cx="325.5" cy="309.3" r="1.5" fill="#333" fill-opacity="0.68"/>
<circle cx="325.1" cy="312.2" r="1.5" fill="#333" fill-opacity="0.68"/>
<circle cx="325.5" cy="315.9" r="1.5" fill="#333" fill-opacity="0.68"/>
<circle cx="324.7" cy="319.2" r="1.5" fill="#333" fill-opacity="0.68"/>
<circle cx="325.1" cy="325.7" r="1.5" fill="#333" fill-opacity="0.68"/>
<circle cx="346.2" cy="318.5" r="1.5" fill="#333" fill-opacity="0.68"/>
<circle cx="347.0" cy="321.5" r="1.5" fill="#333" fill-opacity="0.68"/>
<circle cx="344.8" cy="324.4" r="1.5" fill="#333" fill-opacity="0.68"/>
<circle cx="345.5" cy="327.6" r="1.5" fill="#333" fill-opacity="0.68"/>
<circle cx="346.2" cy="331.3" r="1.5" fill="#333" fill-opacity="0.68"/>
<circle cx="344.8" cy="335.0" r="1.5" fill="#333" fill-opacity="0.68"/>
<circle cx="346.8" cy="329" r="1.5" fill="#333" fill-opacity="0.68"/>
<circle cx="363.2" cy="326.4" r="1.5" fill="#333" fill-opacity="0.68"/>
<circle cx="364.4" cy="328.4" r="1.5" fill="#333" fill-opacity="0.68"/>
<circle cx="361.6" cy="331.3" r="1.5" fill="#333" fill-opacity="0.68"/>
<circle cx="364.0" cy="333.8" r="1.5" fill="#333" fill-opacity="0.68"/>
<circle cx="363.2" cy="336.2" r="1.5" fill="#333" fill-opacity="0.68"/>
<circle cx="362.2" cy="330.0" r="1.5" fill="#333" fill-opacity="0.68"/>
<circle cx="381.6" cy="322.0" r="1.5" fill="#333" fill-opacity="0.68"/>
<circle cx="379.2" cy="326.4" r="1.5" fill="#333" fill-opacity="0.68"/>
<circle cx="380.4" cy="328.8" r="1.5" fill="#333" fill-opacity="0.68"/>
<circle cx="378.7" cy="331.3" r="1.5" fill="#333" fill-opacity="0.68"/>
<circle cx="380.0" cy="333.8" r="1.5" fill="#333" fill-opacity="0.68"/>
<circle cx="379.2" cy="337.5" r="1.5" fill="#333" fill-opacity="0.68"/>
<circle cx="396.4" cy="298.1" r="1.5" fill="#333" fill-opacity="0.68"/>
<circle cx="400.1" cy="299.3" r="1.5" fill="#333" fill-opacity="0.68"/>
<circle cx="396.9" cy="306.7" r="1.5" fill="#333" fill-opacity="0.68"/>
<circle cx="397.6" cy="310.4" r="1.5" fill="#333" fill-opacity="0.68"/>
<circle cx="395.9" cy="312.9" r="1.5" fill="#333" fill-opacity="0.68"/>
<circle cx="395.2" cy="315.3" r="1.5" fill="#333" fill-opacity="0.68"/>
<circle cx="396.9" cy="317.8" r="1.5" fill="#333" fill-opacity="0.68"/>
<circle cx="396.4" cy="325.2" r="1.5" fill="#333" fill-opacity="0.68"/>
<circle cx="416.1" cy="284.6" r="1.5" fill="#333" fill-opacity="0.68"/>
<circle cx="416.1" cy="291.9" r="1.5" fill="#333" fill-opacity="0.68"/>
<circle cx="415.6" cy="296.8" r="1.5" fill="#333" fill-opacity="0.68"/>
<circle cx="414.8" cy="307.9" r="1.5" fill="#333" fill-opacity="0.68"/>
<circle cx="416.1" cy="311.6" r="1.5" fill="#333" fill-opacity="0.68"/>
<circle cx="414.3" cy="317.8" r="1.5" fill="#333" fill-opacity="0.68"/>
<circle cx="416.1" cy="330.0" r="1.5" fill="#333" fill-opacity="0.68"/>
<circle cx="431.5" cy="304.3" r="1.5" fill="#333" fill-opacity="0.68"/>
<circle cx="433.3" cy="307.9" r="1.5" fill="#333" fill-opacity="0.68"/>
<circle cx="432.8" cy="311.6" r="1.5" fill="#333" fill-opacity="0.68"/>
<circle cx="434.5" cy="315.3" r="1.5" fill="#333" fill-opacity="0.68"/>
<circle cx="432.0" cy="319.0" r="1.5" fill="#333" fill-opacity="0.68"/>
<circle cx="433.3" cy="322.7" r="1.5" fill="#333" fill-opacity="0.68"/>
<circle cx="432.8" cy="330.0" r="1.5" fill="#333" fill-opacity="0.68"/>
<path d="M307.5,302.8 L307.5,315.5" stroke="#1a1a1a" stroke-width="0.9"/>
<path d="M325.1,303.5 L325.1,316.5" stroke="#1a1a1a" stroke-width="0.9"/>
<path d="M346.0,321.5 L346.0,330.5" stroke="#1a1a1a" stroke-width="0.9"/>
<path d="M363.2,327.8 L363.2,334.6" stroke="#1a1a1a" stroke-width="0.9"/>
<path d="M380.8,326.0 L380.8,333.0" stroke="#1a1a1a" stroke-width="0.9"/>
<path d="M398.1,302.0 L398.1,316.0" stroke="#1a1a1a" stroke-width="0.9"/>
<path d="M415.6,297.5 L415.6,314.0" stroke="#1a1a1a" stroke-width="0.9"/>
<path d="M432.9,310.0 L432.9,321.5" stroke="#1a1a1a" stroke-width="0.9"/>
<path d="M299,286.6 L299,342.3 L332,342.3 M334.9,342.3 L442.4,342.3" stroke="#2a2a2a" stroke-width="1.1" fill="none"/>
<path d="M333.6,289 L333.6,342.5" stroke="#111" stroke-width="1" stroke-dasharray="3.2,2.1"/>
<text x="296.90" y="291.45" font-size="7.6" text-anchor="end" textLength="14.00" lengthAdjust="spacingAndGlyphs" >0.60</text>
<text x="296.90" y="309.25" font-size="7.6" text-anchor="end" textLength="14.00" lengthAdjust="spacingAndGlyphs" >0.40</text>
<text x="296.90" y="326.85" font-size="7.6" text-anchor="end" textLength="14.00" lengthAdjust="spacingAndGlyphs" >0.20</text>
<text x="296.90" y="344.75" font-size="7.6" text-anchor="end" textLength="14.00" lengthAdjust="spacingAndGlyphs" >0.00</text>
<text transform="translate(277.40,313.70) rotate(-90)" font-size="7.6" text-anchor="middle" textLength="61.80" lengthAdjust="spacing">ARI within dataset</text>
<text transform="translate(311.90,350.40) rotate(-45)" font-size="7.5" text-anchor="end">MDTB</text>
<text transform="translate(325.70,351.00) rotate(-45)" font-size="7.5" text-anchor="end">HCP</text>
<text transform="translate(343.40,349.70) rotate(-45)" font-size="7.5" text-anchor="end">MDTB</text>
<text transform="translate(350.90,354.00) rotate(-45)" font-size="7.5" text-anchor="end">Highres</text>
<text transform="translate(368.90,350.40) rotate(-45)" font-size="7.5" text-anchor="end">Nishimoto</text>
<text transform="translate(385.60,350.20) rotate(-45)" font-size="7.5" text-anchor="end">IBC</text>
<text transform="translate(400.70,350.40) rotate(-45)" font-size="7.5" text-anchor="end">WM</text>
<text transform="translate(417.00,350.40) rotate(-45)" font-size="7.5" text-anchor="end">Demand</text>
<text transform="translate(435.80,350.20) rotate(-45)" font-size="7.5" text-anchor="end">Somatotopic</text>
<text transform="translate(254.10,394.10) scale(0.962,1)" font-size="19.59" font-weight="bold" fill="#000">d</text>
<text x="305.60" y="394.30" font-size="12.2" text-anchor="start" textLength="128.80" lengthAdjust="spacingAndGlyphs" >Similarity to MDTB or HCP</text>
<rect x="300.9" y="454.7" width="9.90" height="22.50" fill="#c2185b"/>
<rect x="310.8" y="463.8" width="9.20" height="13.40" fill="#3a1a46"/>
<rect x="325.0" y="444.6" width="9.40" height="32.60" fill="#c2185b"/>
<rect x="334.4" y="442.4" width="9.40" height="34.80" fill="#3a1a46"/>
<rect x="348.6" y="451.2" width="9.60" height="26.00" fill="#c2185b"/>
<rect x="358.2" y="456.4" width="9.40" height="20.80" fill="#3a1a46"/>
<rect x="372.4" y="449.7" width="9.70" height="27.50" fill="#c2185b"/>
<rect x="382.1" y="457.9" width="9.50" height="19.30" fill="#3a1a46"/>
<rect x="396.1" y="452.9" width="9.60" height="24.30" fill="#c2185b"/>
<rect x="405.7" y="455.9" width="9.50" height="21.30" fill="#3a1a46"/>
<rect x="419.7" y="452.9" width="9.50" height="24.30" fill="#c2185b"/>
<rect x="429.2" y="466.7" width="9.60" height="10.50" fill="#3a1a46"/>
<circle cx="306.63" cy="451.60" r="1.3" fill="#262626" fill-opacity="0.62"/>
<circle cx="305.15" cy="452.67" r="1.3" fill="#262626" fill-opacity="0.62"/>
<circle cx="303.44" cy="452.32" r="1.3" fill="#262626" fill-opacity="0.62"/>
<circle cx="303.72" cy="451.83" r="1.3" fill="#262626" fill-opacity="0.62"/>
<circle cx="303.89" cy="457.81" r="1.3" fill="#262626" fill-opacity="0.62"/>
<circle cx="308.18" cy="454.61" r="1.3" fill="#262626" fill-opacity="0.62"/>
<circle cx="308.33" cy="455.59" r="1.3" fill="#262626" fill-opacity="0.62"/>
<circle cx="304.76" cy="455.04" r="1.3" fill="#262626" fill-opacity="0.62"/>
<circle cx="304.85" cy="449.90" r="1.3" fill="#262626" fill-opacity="0.62"/>
<circle cx="306.27" cy="455.77" r="1.3" fill="#262626" fill-opacity="0.62"/>
<circle cx="306.10" cy="455.89" r="1.3" fill="#262626" fill-opacity="0.62"/>
<circle cx="304.32" cy="448.78" r="1.3" fill="#262626" fill-opacity="0.62"/>
<circle cx="304.88" cy="456.66" r="1.3" fill="#262626" fill-opacity="0.62"/>
<circle cx="304.81" cy="456.11" r="1.3" fill="#262626" fill-opacity="0.62"/>
<circle cx="304.52" cy="459.75" r="1.3" fill="#262626" fill-opacity="0.62"/>
<circle cx="307.80" cy="456.60" r="1.3" fill="#262626" fill-opacity="0.62"/>
<circle cx="308.35" cy="455.94" r="1.3" fill="#262626" fill-opacity="0.62"/>
<circle cx="307.19" cy="452.09" r="1.3" fill="#262626" fill-opacity="0.62"/>
<circle cx="303.45" cy="452.93" r="1.3" fill="#262626" fill-opacity="0.62"/>
<circle cx="306.23" cy="459.26" r="1.3" fill="#262626" fill-opacity="0.62"/>
<circle cx="306.87" cy="457.31" r="1.3" fill="#262626" fill-opacity="0.62"/>
<circle cx="305.62" cy="457.19" r="1.3" fill="#262626" fill-opacity="0.62"/>
<circle cx="305.72" cy="462.08" r="1.3" fill="#262626" fill-opacity="0.62"/>
<circle cx="306.90" cy="453.60" r="1.3" fill="#262626" fill-opacity="0.62"/>
<circle cx="307.52" cy="460.92" r="1.3" fill="#262626" fill-opacity="0.62"/>
<circle cx="316.28" cy="460.52" r="1.3" fill="#262626" fill-opacity="0.62"/>
<circle cx="313.67" cy="459.38" r="1.3" fill="#262626" fill-opacity="0.62"/>
<circle cx="316.79" cy="457.48" r="1.3" fill="#262626" fill-opacity="0.62"/>
<circle cx="314.83" cy="458.72" r="1.3" fill="#262626" fill-opacity="0.62"/>
<circle cx="315.14" cy="462.25" r="1.3" fill="#262626" fill-opacity="0.62"/>
<circle cx="317.06" cy="465.21" r="1.3" fill="#262626" fill-opacity="0.62"/>
<circle cx="314.96" cy="463.43" r="1.3" fill="#262626" fill-opacity="0.62"/>
<circle cx="317.78" cy="464.04" r="1.3" fill="#262626" fill-opacity="0.62"/>
<circle cx="314.01" cy="458.41" r="1.3" fill="#262626" fill-opacity="0.62"/>
<circle cx="315.86" cy="460.82" r="1.3" fill="#262626" fill-opacity="0.62"/>
<circle cx="314.98" cy="458.04" r="1.3" fill="#262626" fill-opacity="0.62"/>
<circle cx="317.76" cy="462.15" r="1.3" fill="#262626" fill-opacity="0.62"/>
<circle cx="316.01" cy="463.82" r="1.3" fill="#262626" fill-opacity="0.62"/>
<circle cx="317.48" cy="460.89" r="1.3" fill="#262626" fill-opacity="0.62"/>
<circle cx="316.95" cy="466.58" r="1.3" fill="#262626" fill-opacity="0.62"/>
<circle cx="313.34" cy="461.27" r="1.3" fill="#262626" fill-opacity="0.62"/>
<circle cx="313.15" cy="460.68" r="1.3" fill="#262626" fill-opacity="0.62"/>
<circle cx="314.57" cy="458.68" r="1.3" fill="#262626" fill-opacity="0.62"/>
<circle cx="313.59" cy="456.72" r="1.3" fill="#262626" fill-opacity="0.62"/>
<circle cx="312.93" cy="459.26" r="1.3" fill="#262626" fill-opacity="0.62"/>
<circle cx="313.57" cy="465.55" r="1.3" fill="#262626" fill-opacity="0.62"/>
<circle cx="314.69" cy="460.09" r="1.3" fill="#262626" fill-opacity="0.62"/>
<circle cx="317.96" cy="462.38" r="1.3" fill="#262626" fill-opacity="0.62"/>
<circle cx="313.25" cy="462.24" r="1.3" fill="#262626" fill-opacity="0.62"/>
<circle cx="314.18" cy="459.14" r="1.3" fill="#262626" fill-opacity="0.62"/>
<circle cx="327.22" cy="442.72" r="1.3" fill="#262626" fill-opacity="0.62"/>
<circle cx="327.86" cy="449.34" r="1.3" fill="#262626" fill-opacity="0.62"/>
<circle cx="329.85" cy="437.03" r="1.3" fill="#262626" fill-opacity="0.62"/>
<circle cx="330.72" cy="454.26" r="1.3" fill="#262626" fill-opacity="0.62"/>
<circle cx="327.97" cy="437.81" r="1.3" fill="#262626" fill-opacity="0.62"/>
<circle cx="331.15" cy="446.98" r="1.3" fill="#262626" fill-opacity="0.62"/>
<circle cx="331.32" cy="436.79" r="1.3" fill="#262626" fill-opacity="0.62"/>
<circle cx="331.29" cy="454.20" r="1.3" fill="#262626" fill-opacity="0.62"/>
<circle cx="328.28" cy="450.41" r="1.3" fill="#262626" fill-opacity="0.62"/>
<circle cx="327.25" cy="441.13" r="1.3" fill="#262626" fill-opacity="0.62"/>
<circle cx="328.45" cy="433.46" r="1.3" fill="#262626" fill-opacity="0.62"/>
<circle cx="329.43" cy="451.64" r="1.3" fill="#262626" fill-opacity="0.62"/>
<circle cx="332.07" cy="455.38" r="1.3" fill="#262626" fill-opacity="0.62"/>
<circle cx="328.28" cy="437.23" r="1.3" fill="#262626" fill-opacity="0.62"/>
<circle cx="330.35" cy="434.73" r="1.3" fill="#262626" fill-opacity="0.62"/>
<circle cx="329.59" cy="452.89" r="1.3" fill="#262626" fill-opacity="0.62"/>
<circle cx="327.54" cy="448.98" r="1.3" fill="#262626" fill-opacity="0.62"/>
<circle cx="331.17" cy="450.58" r="1.3" fill="#262626" fill-opacity="0.62"/>
<circle cx="328.03" cy="445.94" r="1.3" fill="#262626" fill-opacity="0.62"/>
<circle cx="331.26" cy="444.50" r="1.3" fill="#262626" fill-opacity="0.62"/>
<circle cx="329.19" cy="447.83" r="1.3" fill="#262626" fill-opacity="0.62"/>
<circle cx="327.98" cy="451.95" r="1.3" fill="#262626" fill-opacity="0.62"/>
<circle cx="331.81" cy="433.07" r="1.3" fill="#262626" fill-opacity="0.62"/>
<circle cx="331.40" cy="442.21" r="1.3" fill="#262626" fill-opacity="0.62"/>
<circle cx="328.92" cy="451.49" r="1.3" fill="#262626" fill-opacity="0.62"/>
<circle cx="336.57" cy="439.78" r="1.3" fill="#262626" fill-opacity="0.62"/>
<circle cx="339.24" cy="452.48" r="1.3" fill="#262626" fill-opacity="0.62"/>
<circle cx="341.03" cy="449.06" r="1.3" fill="#262626" fill-opacity="0.62"/>
<circle cx="337.81" cy="444.60" r="1.3" fill="#262626" fill-opacity="0.62"/>
<circle cx="339.55" cy="437.80" r="1.3" fill="#262626" fill-opacity="0.62"/>
<circle cx="337.18" cy="439.76" r="1.3" fill="#262626" fill-opacity="0.62"/>
<circle cx="338.88" cy="447.66" r="1.3" fill="#262626" fill-opacity="0.62"/>
<circle cx="338.69" cy="450.68" r="1.3" fill="#262626" fill-opacity="0.62"/>
<circle cx="339.27" cy="449.76" r="1.3" fill="#262626" fill-opacity="0.62"/>
<circle cx="338.79" cy="437.92" r="1.3" fill="#262626" fill-opacity="0.62"/>
<circle cx="340.66" cy="433.13" r="1.3" fill="#262626" fill-opacity="0.62"/>
<circle cx="340.27" cy="439.32" r="1.3" fill="#262626" fill-opacity="0.62"/>
<circle cx="339.20" cy="442.51" r="1.3" fill="#262626" fill-opacity="0.62"/>
<circle cx="337.05" cy="448.69" r="1.3" fill="#262626" fill-opacity="0.62"/>
<circle cx="337.94" cy="441.52" r="1.3" fill="#262626" fill-opacity="0.62"/>
<circle cx="339.42" cy="447.88" r="1.3" fill="#262626" fill-opacity="0.62"/>
<circle cx="338.80" cy="453.18" r="1.3" fill="#262626" fill-opacity="0.62"/>
<circle cx="339.16" cy="445.69" r="1.3" fill="#262626" fill-opacity="0.62"/>
<circle cx="339.27" cy="446.06" r="1.3" fill="#262626" fill-opacity="0.62"/>
<circle cx="340.14" cy="449.76" r="1.3" fill="#262626" fill-opacity="0.62"/>
<circle cx="337.85" cy="455.15" r="1.3" fill="#262626" fill-opacity="0.62"/>
<circle cx="340.87" cy="450.89" r="1.3" fill="#262626" fill-opacity="0.62"/>
<circle cx="338.80" cy="434.09" r="1.3" fill="#262626" fill-opacity="0.62"/>
<circle cx="336.88" cy="434.83" r="1.3" fill="#262626" fill-opacity="0.62"/>
<circle cx="341.16" cy="450.22" r="1.3" fill="#262626" fill-opacity="0.62"/>
<circle cx="354.23" cy="449.75" r="1.3" fill="#262626" fill-opacity="0.62"/>
<circle cx="355.83" cy="451.85" r="1.3" fill="#262626" fill-opacity="0.62"/>
<circle cx="352.87" cy="453.82" r="1.3" fill="#262626" fill-opacity="0.62"/>
<circle cx="355.13" cy="457.94" r="1.3" fill="#262626" fill-opacity="0.62"/>
<circle cx="353.48" cy="446.01" r="1.3" fill="#262626" fill-opacity="0.62"/>
<circle cx="352.46" cy="445.22" r="1.3" fill="#262626" fill-opacity="0.62"/>
<circle cx="353.68" cy="448.01" r="1.3" fill="#262626" fill-opacity="0.62"/>
<circle cx="352.52" cy="444.19" r="1.3" fill="#262626" fill-opacity="0.62"/>
<circle cx="351.13" cy="453.34" r="1.3" fill="#262626" fill-opacity="0.62"/>
<circle cx="355.85" cy="461.94" r="1.3" fill="#262626" fill-opacity="0.62"/>
<circle cx="351.01" cy="443.00" r="1.3" fill="#262626" fill-opacity="0.62"/>
<circle cx="351.47" cy="452.17" r="1.3" fill="#262626" fill-opacity="0.62"/>
<circle cx="355.06" cy="456.00" r="1.3" fill="#262626" fill-opacity="0.62"/>
<circle cx="355.58" cy="443.51" r="1.3" fill="#262626" fill-opacity="0.62"/>
<circle cx="351.27" cy="455.16" r="1.3" fill="#262626" fill-opacity="0.62"/>
<circle cx="353.01" cy="448.07" r="1.3" fill="#262626" fill-opacity="0.62"/>
<circle cx="354.10" cy="451.65" r="1.3" fill="#262626" fill-opacity="0.62"/>
<circle cx="355.25" cy="449.95" r="1.3" fill="#262626" fill-opacity="0.62"/>
<circle cx="353.16" cy="450.55" r="1.3" fill="#262626" fill-opacity="0.62"/>
<circle cx="355.62" cy="450.04" r="1.3" fill="#262626" fill-opacity="0.62"/>
<circle cx="353.54" cy="443.36" r="1.3" fill="#262626" fill-opacity="0.62"/>
<circle cx="351.64" cy="442.70" r="1.3" fill="#262626" fill-opacity="0.62"/>
<circle cx="352.42" cy="441.40" r="1.3" fill="#262626" fill-opacity="0.62"/>
<circle cx="352.31" cy="452.37" r="1.3" fill="#262626" fill-opacity="0.62"/>
<circle cx="352.60" cy="447.15" r="1.3" fill="#262626" fill-opacity="0.62"/>
<circle cx="360.38" cy="446.69" r="1.3" fill="#262626" fill-opacity="0.62"/>
<circle cx="361.29" cy="461.01" r="1.3" fill="#262626" fill-opacity="0.62"/>
<circle cx="360.85" cy="462.77" r="1.3" fill="#262626" fill-opacity="0.62"/>
<circle cx="362.87" cy="460.54" r="1.3" fill="#262626" fill-opacity="0.62"/>
<circle cx="362.93" cy="460.21" r="1.3" fill="#262626" fill-opacity="0.62"/>
<circle cx="362.08" cy="466.45" r="1.3" fill="#262626" fill-opacity="0.62"/>
<circle cx="363.61" cy="464.60" r="1.3" fill="#262626" fill-opacity="0.62"/>
<circle cx="360.58" cy="453.51" r="1.3" fill="#262626" fill-opacity="0.62"/>
<circle cx="364.15" cy="445.73" r="1.3" fill="#262626" fill-opacity="0.62"/>
<circle cx="360.74" cy="448.81" r="1.3" fill="#262626" fill-opacity="0.62"/>
<circle cx="363.79" cy="467.04" r="1.3" fill="#262626" fill-opacity="0.62"/>
<circle cx="361.82" cy="450.29" r="1.3" fill="#262626" fill-opacity="0.62"/>
<circle cx="362.62" cy="451.60" r="1.3" fill="#262626" fill-opacity="0.62"/>
<circle cx="365.36" cy="460.17" r="1.3" fill="#262626" fill-opacity="0.62"/>
<circle cx="365.32" cy="454.06" r="1.3" fill="#262626" fill-opacity="0.62"/>
<circle cx="360.31" cy="452.29" r="1.3" fill="#262626" fill-opacity="0.62"/>
<circle cx="362.91" cy="454.97" r="1.3" fill="#262626" fill-opacity="0.62"/>
<circle cx="360.33" cy="452.85" r="1.3" fill="#262626" fill-opacity="0.62"/>
<circle cx="362.38" cy="447.89" r="1.3" fill="#262626" fill-opacity="0.62"/>
<circle cx="361.88" cy="443.80" r="1.3" fill="#262626" fill-opacity="0.62"/>
<circle cx="363.05" cy="454.44" r="1.3" fill="#262626" fill-opacity="0.62"/>
<circle cx="364.02" cy="462.75" r="1.3" fill="#262626" fill-opacity="0.62"/>
<circle cx="362.00" cy="460.79" r="1.3" fill="#262626" fill-opacity="0.62"/>
<circle cx="364.07" cy="458.89" r="1.3" fill="#262626" fill-opacity="0.62"/>
<circle cx="364.64" cy="452.59" r="1.3" fill="#262626" fill-opacity="0.62"/>
<circle cx="378.47" cy="455.99" r="1.3" fill="#262626" fill-opacity="0.62"/>
<circle cx="377.37" cy="449.71" r="1.3" fill="#262626" fill-opacity="0.62"/>
<circle cx="378.83" cy="454.00" r="1.3" fill="#262626" fill-opacity="0.62"/>
<circle cx="379.29" cy="454.79" r="1.3" fill="#262626" fill-opacity="0.62"/>
<circle cx="375.85" cy="454.41" r="1.3" fill="#262626" fill-opacity="0.62"/>
<circle cx="376.53" cy="441.02" r="1.3" fill="#262626" fill-opacity="0.62"/>
<circle cx="377.55" cy="449.60" r="1.3" fill="#262626" fill-opacity="0.62"/>
<circle cx="378.19" cy="453.06" r="1.3" fill="#262626" fill-opacity="0.62"/>
<circle cx="378.80" cy="444.64" r="1.3" fill="#262626" fill-opacity="0.62"/>
<circle cx="377.43" cy="453.03" r="1.3" fill="#262626" fill-opacity="0.62"/>
<circle cx="378.48" cy="447.22" r="1.3" fill="#262626" fill-opacity="0.62"/>
<circle cx="376.03" cy="442.81" r="1.3" fill="#262626" fill-opacity="0.62"/>
<circle cx="378.50" cy="449.53" r="1.3" fill="#262626" fill-opacity="0.62"/>
<circle cx="376.64" cy="455.44" r="1.3" fill="#262626" fill-opacity="0.62"/>
<circle cx="378.64" cy="452.05" r="1.3" fill="#262626" fill-opacity="0.62"/>
<circle cx="375.05" cy="453.12" r="1.3" fill="#262626" fill-opacity="0.62"/>
<circle cx="378.51" cy="443.64" r="1.3" fill="#262626" fill-opacity="0.62"/>
<circle cx="374.71" cy="448.84" r="1.3" fill="#262626" fill-opacity="0.62"/>
<circle cx="378.14" cy="442.84" r="1.3" fill="#262626" fill-opacity="0.62"/>
<circle cx="376.16" cy="454.32" r="1.3" fill="#262626" fill-opacity="0.62"/>
<circle cx="377.07" cy="450.04" r="1.3" fill="#262626" fill-opacity="0.62"/>
<circle cx="375.69" cy="450.38" r="1.3" fill="#262626" fill-opacity="0.62"/>
<circle cx="374.74" cy="460.35" r="1.3" fill="#262626" fill-opacity="0.62"/>
<circle cx="379.68" cy="453.33" r="1.3" fill="#262626" fill-opacity="0.62"/>
<circle cx="375.74" cy="447.14" r="1.3" fill="#262626" fill-opacity="0.62"/>
<circle cx="387.27" cy="461.72" r="1.3" fill="#262626" fill-opacity="0.62"/>
<circle cx="389.20" cy="456.32" r="1.3" fill="#262626" fill-opacity="0.62"/>
<circle cx="386.90" cy="459.48" r="1.3" fill="#262626" fill-opacity="0.62"/>
<circle cx="385.45" cy="466.49" r="1.3" fill="#262626" fill-opacity="0.62"/>
<circle cx="384.38" cy="464.22" r="1.3" fill="#262626" fill-opacity="0.62"/>
<circle cx="386.59" cy="454.45" r="1.3" fill="#262626" fill-opacity="0.62"/>
<circle cx="386.04" cy="453.87" r="1.3" fill="#262626" fill-opacity="0.62"/>
<circle cx="384.26" cy="461.72" r="1.3" fill="#262626" fill-opacity="0.62"/>
<circle cx="384.87" cy="466.49" r="1.3" fill="#262626" fill-opacity="0.62"/>
<circle cx="388.94" cy="467.03" r="1.3" fill="#262626" fill-opacity="0.62"/>
<circle cx="386.29" cy="456.28" r="1.3" fill="#262626" fill-opacity="0.62"/>
<circle cx="386.13" cy="466.47" r="1.3" fill="#262626" fill-opacity="0.62"/>
<circle cx="384.50" cy="456.74" r="1.3" fill="#262626" fill-opacity="0.62"/>
<circle cx="385.74" cy="459.30" r="1.3" fill="#262626" fill-opacity="0.62"/>
<circle cx="385.63" cy="462.03" r="1.3" fill="#262626" fill-opacity="0.62"/>
<circle cx="386.19" cy="456.71" r="1.3" fill="#262626" fill-opacity="0.62"/>
<circle cx="388.47" cy="469.24" r="1.3" fill="#262626" fill-opacity="0.62"/>
<circle cx="389.14" cy="465.99" r="1.3" fill="#262626" fill-opacity="0.62"/>
<circle cx="384.51" cy="462.96" r="1.3" fill="#262626" fill-opacity="0.62"/>
<circle cx="388.16" cy="462.02" r="1.3" fill="#262626" fill-opacity="0.62"/>
<circle cx="384.50" cy="459.24" r="1.3" fill="#262626" fill-opacity="0.62"/>
<circle cx="386.71" cy="460.59" r="1.3" fill="#262626" fill-opacity="0.62"/>
<circle cx="388.09" cy="456.06" r="1.3" fill="#262626" fill-opacity="0.62"/>
<circle cx="387.66" cy="462.60" r="1.3" fill="#262626" fill-opacity="0.62"/>
<circle cx="386.30" cy="458.44" r="1.3" fill="#262626" fill-opacity="0.62"/>
<circle cx="399.38" cy="441.55" r="1.3" fill="#262626" fill-opacity="0.62"/>
<circle cx="399.44" cy="457.39" r="1.3" fill="#262626" fill-opacity="0.62"/>
<circle cx="400.64" cy="464.77" r="1.3" fill="#262626" fill-opacity="0.62"/>
<circle cx="398.77" cy="441.60" r="1.3" fill="#262626" fill-opacity="0.62"/>
<circle cx="399.54" cy="443.09" r="1.3" fill="#262626" fill-opacity="0.62"/>
<circle cx="402.91" cy="448.91" r="1.3" fill="#262626" fill-opacity="0.62"/>
<circle cx="400.45" cy="453.85" r="1.3" fill="#262626" fill-opacity="0.62"/>
<circle cx="400.06" cy="449.99" r="1.3" fill="#262626" fill-opacity="0.62"/>
<circle cx="403.33" cy="441.71" r="1.3" fill="#262626" fill-opacity="0.62"/>
<circle cx="401.57" cy="445.98" r="1.3" fill="#262626" fill-opacity="0.62"/>
<circle cx="399.71" cy="452.61" r="1.3" fill="#262626" fill-opacity="0.62"/>
<circle cx="400.62" cy="446.26" r="1.3" fill="#262626" fill-opacity="0.62"/>
<circle cx="402.84" cy="463.29" r="1.3" fill="#262626" fill-opacity="0.62"/>
<circle cx="401.99" cy="437.50" r="1.3" fill="#262626" fill-opacity="0.62"/>
<circle cx="401.35" cy="456.89" r="1.3" fill="#262626" fill-opacity="0.62"/>
<circle cx="403.12" cy="442.48" r="1.3" fill="#262626" fill-opacity="0.62"/>
<circle cx="403.36" cy="461.50" r="1.3" fill="#262626" fill-opacity="0.62"/>
<circle cx="399.10" cy="441.97" r="1.3" fill="#262626" fill-opacity="0.62"/>
<circle cx="403.20" cy="454.47" r="1.3" fill="#262626" fill-opacity="0.62"/>
<circle cx="402.28" cy="456.89" r="1.3" fill="#262626" fill-opacity="0.62"/>
<circle cx="398.51" cy="451.58" r="1.3" fill="#262626" fill-opacity="0.62"/>
<circle cx="403.08" cy="451.67" r="1.3" fill="#262626" fill-opacity="0.62"/>
<circle cx="398.97" cy="450.70" r="1.3" fill="#262626" fill-opacity="0.62"/>
<circle cx="401.93" cy="449.80" r="1.3" fill="#262626" fill-opacity="0.62"/>
<circle cx="401.03" cy="439.39" r="1.3" fill="#262626" fill-opacity="0.62"/>
<circle cx="409.01" cy="457.33" r="1.3" fill="#262626" fill-opacity="0.62"/>
<circle cx="409.42" cy="453.36" r="1.3" fill="#262626" fill-opacity="0.62"/>
<circle cx="411.20" cy="462.29" r="1.3" fill="#262626" fill-opacity="0.62"/>
<circle cx="409.07" cy="461.62" r="1.3" fill="#262626" fill-opacity="0.62"/>
<circle cx="411.51" cy="459.94" r="1.3" fill="#262626" fill-opacity="0.62"/>
<circle cx="410.44" cy="450.24" r="1.3" fill="#262626" fill-opacity="0.62"/>
<circle cx="409.19" cy="458.69" r="1.3" fill="#262626" fill-opacity="0.62"/>
<circle cx="409.03" cy="464.20" r="1.3" fill="#262626" fill-opacity="0.62"/>
<circle cx="410.04" cy="450.71" r="1.3" fill="#262626" fill-opacity="0.62"/>
<circle cx="411.99" cy="456.33" r="1.3" fill="#262626" fill-opacity="0.62"/>
<circle cx="408.92" cy="460.35" r="1.3" fill="#262626" fill-opacity="0.62"/>
<circle cx="412.11" cy="460.76" r="1.3" fill="#262626" fill-opacity="0.62"/>
<circle cx="411.80" cy="451.60" r="1.3" fill="#262626" fill-opacity="0.62"/>
<circle cx="410.43" cy="460.38" r="1.3" fill="#262626" fill-opacity="0.62"/>
<circle cx="410.02" cy="451.14" r="1.3" fill="#262626" fill-opacity="0.62"/>
<circle cx="408.61" cy="464.44" r="1.3" fill="#262626" fill-opacity="0.62"/>
<circle cx="412.92" cy="453.30" r="1.3" fill="#262626" fill-opacity="0.62"/>
<circle cx="408.16" cy="448.74" r="1.3" fill="#262626" fill-opacity="0.62"/>
<circle cx="412.44" cy="460.87" r="1.3" fill="#262626" fill-opacity="0.62"/>
<circle cx="412.69" cy="465.72" r="1.3" fill="#262626" fill-opacity="0.62"/>
<circle cx="412.72" cy="452.29" r="1.3" fill="#262626" fill-opacity="0.62"/>
<circle cx="411.31" cy="455.20" r="1.3" fill="#262626" fill-opacity="0.62"/>
<circle cx="409.57" cy="454.92" r="1.3" fill="#262626" fill-opacity="0.62"/>
<circle cx="409.30" cy="448.50" r="1.3" fill="#262626" fill-opacity="0.62"/>
<circle cx="408.49" cy="461.04" r="1.3" fill="#262626" fill-opacity="0.62"/>
<circle cx="423.70" cy="453.21" r="1.3" fill="#262626" fill-opacity="0.62"/>
<circle cx="424.10" cy="456.39" r="1.3" fill="#262626" fill-opacity="0.62"/>
<circle cx="423.79" cy="448.83" r="1.3" fill="#262626" fill-opacity="0.62"/>
<circle cx="423.74" cy="452.81" r="1.3" fill="#262626" fill-opacity="0.62"/>
<circle cx="423.99" cy="451.56" r="1.3" fill="#262626" fill-opacity="0.62"/>
<circle cx="422.06" cy="455.95" r="1.3" fill="#262626" fill-opacity="0.62"/>
<circle cx="426.63" cy="445.96" r="1.3" fill="#262626" fill-opacity="0.62"/>
<circle cx="426.52" cy="452.08" r="1.3" fill="#262626" fill-opacity="0.62"/>
<circle cx="426.83" cy="449.43" r="1.3" fill="#262626" fill-opacity="0.62"/>
<circle cx="425.58" cy="451.23" r="1.3" fill="#262626" fill-opacity="0.62"/>
<circle cx="421.87" cy="449.30" r="1.3" fill="#262626" fill-opacity="0.62"/>
<circle cx="425.15" cy="456.59" r="1.3" fill="#262626" fill-opacity="0.62"/>
<circle cx="423.07" cy="451.83" r="1.3" fill="#262626" fill-opacity="0.62"/>
<circle cx="426.81" cy="454.97" r="1.3" fill="#262626" fill-opacity="0.62"/>
<circle cx="424.09" cy="449.60" r="1.3" fill="#262626" fill-opacity="0.62"/>
<circle cx="422.80" cy="454.90" r="1.3" fill="#262626" fill-opacity="0.62"/>
<circle cx="426.13" cy="455.70" r="1.3" fill="#262626" fill-opacity="0.62"/>
<circle cx="423.55" cy="454.62" r="1.3" fill="#262626" fill-opacity="0.62"/>
<circle cx="425.92" cy="449.90" r="1.3" fill="#262626" fill-opacity="0.62"/>
<circle cx="425.77" cy="447.17" r="1.3" fill="#262626" fill-opacity="0.62"/>
<circle cx="422.03" cy="447.41" r="1.3" fill="#262626" fill-opacity="0.62"/>
<circle cx="426.95" cy="451.23" r="1.3" fill="#262626" fill-opacity="0.62"/>
<circle cx="423.23" cy="457.93" r="1.3" fill="#262626" fill-opacity="0.62"/>
<circle cx="424.44" cy="446.52" r="1.3" fill="#262626" fill-opacity="0.62"/>
<circle cx="423.07" cy="453.11" r="1.3" fill="#262626" fill-opacity="0.62"/>
<circle cx="434.91" cy="466.43" r="1.3" fill="#262626" fill-opacity="0.62"/>
<circle cx="434.86" cy="469.89" r="1.3" fill="#262626" fill-opacity="0.62"/>
<circle cx="432.93" cy="465.96" r="1.3" fill="#262626" fill-opacity="0.62"/>
<circle cx="435.24" cy="465.83" r="1.3" fill="#262626" fill-opacity="0.62"/>
<circle cx="432.68" cy="462.77" r="1.3" fill="#262626" fill-opacity="0.62"/>
<circle cx="434.41" cy="466.43" r="1.3" fill="#262626" fill-opacity="0.62"/>
<circle cx="436.56" cy="464.48" r="1.3" fill="#262626" fill-opacity="0.62"/>
<circle cx="435.60" cy="464.58" r="1.3" fill="#262626" fill-opacity="0.62"/>
<circle cx="431.93" cy="470.19" r="1.3" fill="#262626" fill-opacity="0.62"/>
<circle cx="435.77" cy="468.02" r="1.3" fill="#262626" fill-opacity="0.62"/>
<circle cx="432.93" cy="465.92" r="1.3" fill="#262626" fill-opacity="0.62"/>
<circle cx="436.46" cy="461.91" r="1.3" fill="#262626" fill-opacity="0.62"/>
<circle cx="433.34" cy="469.38" r="1.3" fill="#262626" fill-opacity="0.62"/>
<circle cx="432.75" cy="468.15" r="1.3" fill="#262626" fill-opacity="0.62"/>
<circle cx="431.95" cy="470.69" r="1.3" fill="#262626" fill-opacity="0.62"/>
<circle cx="432.53" cy="467.54" r="1.3" fill="#262626" fill-opacity="0.62"/>
<circle cx="432.46" cy="463.16" r="1.3" fill="#262626" fill-opacity="0.62"/>
<circle cx="434.79" cy="465.30" r="1.3" fill="#262626" fill-opacity="0.62"/>
<circle cx="433.10" cy="461.33" r="1.3" fill="#262626" fill-opacity="0.62"/>
<circle cx="433.02" cy="465.35" r="1.3" fill="#262626" fill-opacity="0.62"/>
<circle cx="434.25" cy="466.19" r="1.3" fill="#262626" fill-opacity="0.62"/>
<circle cx="433.46" cy="461.02" r="1.3" fill="#262626" fill-opacity="0.62"/>
<circle cx="431.87" cy="467.37" r="1.3" fill="#262626" fill-opacity="0.62"/>
<circle cx="433.53" cy="465.33" r="1.3" fill="#262626" fill-opacity="0.62"/>
<circle cx="436.36" cy="463.66" r="1.3" fill="#262626" fill-opacity="0.62"/>
<circle cx="385.8" cy="429.3" r="1.3" fill="#1a1a1a" fill-opacity="0.9"/>
<circle cx="386.3" cy="436.7" r="1.3" fill="#1a1a1a" fill-opacity="0.9"/>
<circle cx="431.0" cy="412.2" r="1.3" fill="#1a1a1a" fill-opacity="0.9"/>
<circle cx="431.4" cy="415.3" r="1.3" fill="#1a1a1a" fill-opacity="0.9"/>
<circle cx="340.5" cy="414.6" r="1.3" fill="#1a1a1a" fill-opacity="0.9"/>
<circle cx="338.5" cy="423.2" r="1.3" fill="#1a1a1a" fill-opacity="0.9"/>
<path class="ax" d="M298.8,403.5 L298.8,477.2 L441.6,477.2"/>
<path class="ax" d="M297.4,405.4 L298.8,405.4"/>
<text x="296.40" y="408.35" font-size="7.6" text-anchor="end" textLength="13.60" lengthAdjust="spacingAndGlyphs" >0.50</text>
<path class="ax" d="M297.4,430.0 L298.8,430.0"/>
<text x="296.40" y="433.25" font-size="7.6" text-anchor="end" textLength="13.60" lengthAdjust="spacingAndGlyphs" >0.25</text>
<path class="ax" d="M297.4,454.6 L298.8,454.6"/>
<text x="296.40" y="457.55" font-size="7.6" text-anchor="end" textLength="13.60" lengthAdjust="spacingAndGlyphs" >0.12</text>
<path class="ax" d="M297.4,477.2 L298.8,477.2"/>
<text x="296.40" y="481.75" font-size="7.6" text-anchor="end" textLength="13.60" lengthAdjust="spacingAndGlyphs" >0.00</text>
<text transform="translate(277.20,439.80) rotate(-90)" font-size="7.6" text-anchor="middle" textLength="78.60" lengthAdjust="spacing">Reliability-adjusted ARI</text>
<path d="M305.85,408.6 L305.85,407.2 L315.40,407.2 L315.40,408.6" stroke="#231f20" stroke-width="0.7" fill="none"/>
<text x="310.62" y="407.40" font-size="10.5" text-anchor="middle" textLength="11.80" lengthAdjust="spacingAndGlyphs" >***</text>
<path d="M353.40,408.6 L353.40,407.2 L362.90,407.2 L362.90,408.6" stroke="#231f20" stroke-width="0.7" fill="none"/>
<text x="358.15" y="407.40" font-size="10.5" text-anchor="middle" textLength="8.00" lengthAdjust="spacingAndGlyphs" >**</text>
<path d="M377.25,408.6 L377.25,407.2 L386.85,407.2 L386.85,408.6" stroke="#231f20" stroke-width="0.7" fill="none"/>
<text x="382.05" y="407.40" font-size="10.5" text-anchor="middle" textLength="11.80" lengthAdjust="spacingAndGlyphs" >***</text>
<path d="M400.90,408.6 L400.90,407.2 L410.45,407.2 L410.45,408.6" stroke="#231f20" stroke-width="0.7" fill="none"/>
<text x="405.67" y="407.40" font-size="10.5" text-anchor="middle" textLength="8.00" lengthAdjust="spacingAndGlyphs" >**</text>
<path d="M424.45,408.6 L424.45,407.2 L434.00,407.2 L434.00,408.6" stroke="#231f20" stroke-width="0.7" fill="none"/>
<text x="429.23" y="407.40" font-size="10.5" text-anchor="middle" textLength="11.80" lengthAdjust="spacingAndGlyphs" >***</text>
<text x="452.60" y="423.00" font-size="7.4" text-anchor="start" textLength="27.40" lengthAdjust="spacingAndGlyphs" >ARI with</text>
<rect x="447.8" y="428.3" width="12.5" height="4.0" fill="#c2185b"/>
<rect x="447.8" y="437.2" width="12.5" height="3.6" fill="#3a1a46"/>
<text x="465.00" y="433.40" font-size="7.4" text-anchor="start" textLength="20.00" lengthAdjust="spacingAndGlyphs" >MDTB</text>
<text x="466.80" y="442.50" font-size="7.4" text-anchor="start" textLength="13.60" lengthAdjust="spacingAndGlyphs" >HCP</text>
<text transform="translate(314.80,484.00) rotate(-45)" font-size="7.5" text-anchor="end">MDTB</text>
<text transform="translate(322.20,487.70) rotate(-45)" font-size="7.5" text-anchor="end">Highres</text>
<text transform="translate(343.10,483.60) rotate(-45)" font-size="7.5" text-anchor="end">Nishimoto</text>
<text transform="translate(362.60,483.50) rotate(-45)" font-size="7.5" text-anchor="end">IBC</text>
<text transform="translate(387.80,483.50) rotate(-45)" font-size="7.5" text-anchor="end">WM</text>
<text transform="translate(411.40,484.00) rotate(-45)" font-size="7.5" text-anchor="end">Demand</text>
<text transform="translate(437.30,484.00) rotate(-45)" font-size="7.5" text-anchor="end">Somatotopic</text>
<text transform="translate(5.40,531.41) scale(0.991,1)" font-size="19.27" font-weight="bold" fill="#000">e</text>
<text x="76.00" y="530.80" font-size="12.2" text-anchor="start" textLength="90.60" lengthAdjust="spacingAndGlyphs" >Region separation</text>
<rect x="51" y="544.3" width="12.4" height="3.3" fill="#5d6f7e"/>
<rect x="51" y="552.9" width="12.4" height="3.6" fill="#5d6f7e"/><rect x="51" y="552.9" width="12.4" height="3.6" fill="url(#hatch2)"/>
<text x="66.00" y="546.30" font-size="7.6" text-anchor="start" textLength="39.50" lengthAdjust="spacingAndGlyphs" >Asymmetric</text>
<text x="67.80" y="557.20" font-size="7.6" text-anchor="start" textLength="36.00" lengthAdjust="spacing" >Symmetric</text>
<rect x="36.4" y="578.0" width="15.20" height="88.20" fill="#ff7f0e" stroke="#fff" stroke-width="0.5"/>
<rect x="51.6" y="583.9" width="16.30" height="82.30" fill="#ff7f0e" stroke="#fff" stroke-width="0.5"/>
<rect x="51.6" y="583.9" width="16.30" height="82.30" fill="url(#hatch)"/>
<rect x="76.2" y="602.3" width="15.30" height="63.90" fill="#2ca02c" stroke="#fff" stroke-width="0.5"/>
<rect x="91.5" y="603.0" width="16.20" height="63.20" fill="#2ca02c" stroke="#fff" stroke-width="0.5"/>
<rect x="91.5" y="603.0" width="16.20" height="63.20" fill="url(#hatch)"/>
<rect x="161.2" y="579.1" width="15.20" height="87.10" fill="#ff7f0e" stroke="#fff" stroke-width="0.5"/>
<rect x="176.4" y="590.0" width="16.50" height="76.20" fill="#ff7f0e" stroke="#fff" stroke-width="0.5"/>
<rect x="176.4" y="590.0" width="16.50" height="76.20" fill="url(#hatch)"/>
<rect x="200.8" y="594.8" width="15.80" height="71.40" fill="#2ca02c" stroke="#fff" stroke-width="0.5"/>
<rect x="216.6" y="598.1" width="15.70" height="68.10" fill="#2ca02c" stroke="#fff" stroke-width="0.5"/>
<rect x="216.6" y="598.1" width="15.70" height="68.10" fill="url(#hatch)"/>
<path d="M43.80,588.82 L60.20,575.45" stroke="#000" stroke-width="0.35" stroke-opacity="0.55"/>
<path d="M43.80,573.82 L60.20,586.72" stroke="#000" stroke-width="0.35" stroke-opacity="0.55"/>
<path d="M43.80,571.92 L60.20,588.23" stroke="#000" stroke-width="0.35" stroke-opacity="0.55"/>
<path d="M43.80,580.72 L60.20,581.26" stroke="#000" stroke-width="0.35" stroke-opacity="0.55"/>
<path d="M43.80,579.49 L60.20,581.64" stroke="#000" stroke-width="0.35" stroke-opacity="0.55"/>
<path d="M43.80,583.21 L60.20,580.86" stroke="#000" stroke-width="0.35" stroke-opacity="0.55"/>
<path d="M43.80,580.73 L60.20,582.06" stroke="#000" stroke-width="0.35" stroke-opacity="0.55"/>
<path d="M43.80,581.38 L60.20,581.21" stroke="#000" stroke-width="0.35" stroke-opacity="0.55"/>
<path d="M43.80,581.58 L60.20,581.68" stroke="#000" stroke-width="0.35" stroke-opacity="0.55"/>
<path d="M43.80,579.63 L60.20,582.04" stroke="#000" stroke-width="0.35" stroke-opacity="0.55"/>
<path d="M43.80,580.47 L60.20,582.20" stroke="#000" stroke-width="0.35" stroke-opacity="0.55"/>
<path d="M43.80,586.54 L60.20,576.63" stroke="#000" stroke-width="0.35" stroke-opacity="0.55"/>
<path d="M43.80,583.13 L60.20,578.61" stroke="#000" stroke-width="0.35" stroke-opacity="0.55"/>
<path d="M43.80,577.54 L60.20,585.20" stroke="#000" stroke-width="0.35" stroke-opacity="0.55"/>
<path d="M43.80,584.14 L60.20,578.76" stroke="#000" stroke-width="0.35" stroke-opacity="0.55"/>
<path d="M43.80,570.05 L60.20,590.81" stroke="#000" stroke-width="0.35" stroke-opacity="0.55"/>
<path d="M43.80,583.32 L60.20,578.31" stroke="#000" stroke-width="0.35" stroke-opacity="0.55"/>
<path d="M43.80,588.60 L60.20,574.87" stroke="#000" stroke-width="0.35" stroke-opacity="0.55"/>
<path d="M43.80,570.81 L60.20,590.23" stroke="#000" stroke-width="0.35" stroke-opacity="0.55"/>
<path d="M43.80,580.74 L60.20,581.07" stroke="#000" stroke-width="0.35" stroke-opacity="0.55"/>
<path d="M43.80,584.04 L60.20,579.03" stroke="#000" stroke-width="0.35" stroke-opacity="0.55"/>
<path d="M43.80,569.69 L60.20,590.80" stroke="#000" stroke-width="0.35" stroke-opacity="0.55"/>
<path d="M43.80,568.17 L60.20,591.49" stroke="#000" stroke-width="0.35" stroke-opacity="0.55"/>
<path d="M43.80,578.49 L60.20,583.23" stroke="#000" stroke-width="0.35" stroke-opacity="0.55"/>
<path d="M43.80,589.53 L60.20,574.98" stroke="#000" stroke-width="0.35" stroke-opacity="0.55"/>
<path d="M43.80,578.27 L60.20,583.49" stroke="#000" stroke-width="0.35" stroke-opacity="0.55"/>
<path d="M43.80,561.04 L60.20,598.18" stroke="#000" stroke-width="0.35" stroke-opacity="0.55"/>
<path d="M43.80,571.77 L60.20,588.99" stroke="#000" stroke-width="0.35" stroke-opacity="0.55"/>
<path d="M43.80,563.38 L60.20,595.49" stroke="#000" stroke-width="0.35" stroke-opacity="0.55"/>
<path d="M43.80,576.02 L60.20,586.05" stroke="#000" stroke-width="0.35" stroke-opacity="0.55"/>
<path d="M43.80,580.15 L60.20,582.15" stroke="#000" stroke-width="0.35" stroke-opacity="0.55"/>
<path d="M43.80,568.53 L60.20,591.87" stroke="#000" stroke-width="0.35" stroke-opacity="0.55"/>
<path d="M43.80,581.62 L60.20,579.55" stroke="#000" stroke-width="0.35" stroke-opacity="0.55"/>
<path d="M43.80,578.16 L60.20,585.06" stroke="#000" stroke-width="0.35" stroke-opacity="0.55"/>
<path d="M43.80,575.39 L60.20,585.19" stroke="#000" stroke-width="0.35" stroke-opacity="0.55"/>
<path d="M43.80,578.91 L60.20,583.08" stroke="#000" stroke-width="0.35" stroke-opacity="0.55"/>
<path d="M43.80,570.46 L60.20,589.50" stroke="#000" stroke-width="0.35" stroke-opacity="0.55"/>
<path d="M43.80,575.29 L60.20,586.52" stroke="#000" stroke-width="0.35" stroke-opacity="0.55"/>
<path d="M43.80,584.08 L60.20,579.91" stroke="#000" stroke-width="0.35" stroke-opacity="0.55"/>
<path d="M43.80,570.93 L60.20,589.08" stroke="#000" stroke-width="0.35" stroke-opacity="0.55"/>
<path d="M43.80,580.33 L60.20,582.74" stroke="#000" stroke-width="0.35" stroke-opacity="0.55"/>
<path d="M43.80,577.21 L60.20,584.54" stroke="#000" stroke-width="0.35" stroke-opacity="0.55"/>
<path d="M43.80,579.18 L60.20,582.95" stroke="#000" stroke-width="0.35" stroke-opacity="0.55"/>
<path d="M43.80,585.14 L60.20,577.78" stroke="#000" stroke-width="0.35" stroke-opacity="0.55"/>
<path d="M43.80,584.45 L60.20,579.09" stroke="#000" stroke-width="0.35" stroke-opacity="0.55"/>
<path d="M43.80,583.85 L60.20,578.09" stroke="#000" stroke-width="0.35" stroke-opacity="0.55"/>
<path d="M43.80,576.94 L60.20,585.76" stroke="#000" stroke-width="0.35" stroke-opacity="0.55"/>
<path d="M43.80,580.08 L60.20,581.86" stroke="#000" stroke-width="0.35" stroke-opacity="0.55"/>
<path d="M43.80,591.19 L60.20,572.98" stroke="#000" stroke-width="0.35" stroke-opacity="0.55"/>
<path d="M43.80,578.27 L60.20,582.11" stroke="#000" stroke-width="0.35" stroke-opacity="0.55"/>
<path d="M43.80,580.74 L60.20,582.00" stroke="#000" stroke-width="0.35" stroke-opacity="0.55"/>
<path d="M43.80,588.28 L60.20,576.25" stroke="#000" stroke-width="0.35" stroke-opacity="0.55"/>
<path d="M43.80,575.21 L60.20,585.78" stroke="#000" stroke-width="0.35" stroke-opacity="0.55"/>
<path d="M43.80,597.14 L60.20,567.13" stroke="#000" stroke-width="0.35" stroke-opacity="0.55"/>
<path d="M43.80,582.00 L60.20,580.60" stroke="#000" stroke-width="0.35" stroke-opacity="0.55"/>
<path d="M43.80,584.32 L60.20,578.78" stroke="#000" stroke-width="0.35" stroke-opacity="0.55"/>
<path d="M43.80,584.80 L60.20,579.28" stroke="#000" stroke-width="0.35" stroke-opacity="0.55"/>
<path d="M43.80,576.40 L60.20,585.77" stroke="#000" stroke-width="0.35" stroke-opacity="0.55"/>
<path d="M43.80,575.23 L60.20,587.30" stroke="#000" stroke-width="0.35" stroke-opacity="0.55"/>
<path d="M43.80,572.76 L60.20,588.27" stroke="#000" stroke-width="0.35" stroke-opacity="0.55"/>
<path d="M83.60,605.41 L99.60,599.15" stroke="#000" stroke-width="0.35" stroke-opacity="0.55"/>
<path d="M83.60,602.35 L99.60,602.17" stroke="#000" stroke-width="0.35" stroke-opacity="0.55"/>
<path d="M83.60,601.27 L99.60,603.06" stroke="#000" stroke-width="0.35" stroke-opacity="0.55"/>
<path d="M83.60,600.66 L99.60,603.82" stroke="#000" stroke-width="0.35" stroke-opacity="0.55"/>
<path d="M83.60,600.70 L99.60,603.88" stroke="#000" stroke-width="0.35" stroke-opacity="0.55"/>
<path d="M83.60,597.38 L99.60,607.34" stroke="#000" stroke-width="0.35" stroke-opacity="0.55"/>
<path d="M83.60,600.93 L99.60,603.75" stroke="#000" stroke-width="0.35" stroke-opacity="0.55"/>
<path d="M83.60,601.95 L99.60,602.55" stroke="#000" stroke-width="0.35" stroke-opacity="0.55"/>
<path d="M83.60,599.91 L99.60,604.72" stroke="#000" stroke-width="0.35" stroke-opacity="0.55"/>
<path d="M83.60,601.69 L99.60,602.94" stroke="#000" stroke-width="0.35" stroke-opacity="0.55"/>
<path d="M83.60,601.70 L99.60,602.42" stroke="#000" stroke-width="0.35" stroke-opacity="0.55"/>
<path d="M83.60,601.61 L99.60,602.87" stroke="#000" stroke-width="0.35" stroke-opacity="0.55"/>
<path d="M83.60,603.93 L99.60,600.47" stroke="#000" stroke-width="0.35" stroke-opacity="0.55"/>
<path d="M83.60,598.77 L99.60,605.59" stroke="#000" stroke-width="0.35" stroke-opacity="0.55"/>
<path d="M83.60,599.77 L99.60,605.25" stroke="#000" stroke-width="0.35" stroke-opacity="0.55"/>
<path d="M83.60,601.80 L99.60,602.57" stroke="#000" stroke-width="0.35" stroke-opacity="0.55"/>
<path d="M83.60,600.25 L99.60,604.05" stroke="#000" stroke-width="0.35" stroke-opacity="0.55"/>
<path d="M83.60,601.93 L99.60,602.38" stroke="#000" stroke-width="0.35" stroke-opacity="0.55"/>
<path d="M83.60,600.36 L99.60,604.62" stroke="#000" stroke-width="0.35" stroke-opacity="0.55"/>
<path d="M83.60,600.71 L99.60,603.44" stroke="#000" stroke-width="0.35" stroke-opacity="0.55"/>
<path d="M83.60,601.54 L99.60,602.91" stroke="#000" stroke-width="0.35" stroke-opacity="0.55"/>
<path d="M83.60,603.28 L99.60,601.21" stroke="#000" stroke-width="0.35" stroke-opacity="0.55"/>
<path d="M83.60,602.93 L99.60,601.72" stroke="#000" stroke-width="0.35" stroke-opacity="0.55"/>
<path d="M83.60,601.54 L99.60,603.22" stroke="#000" stroke-width="0.35" stroke-opacity="0.55"/>
<path d="M83.60,600.18 L99.60,604.29" stroke="#000" stroke-width="0.35" stroke-opacity="0.55"/>
<path d="M83.60,600.33 L99.60,604.32" stroke="#000" stroke-width="0.35" stroke-opacity="0.55"/>
<path d="M83.60,598.48 L99.60,606.05" stroke="#000" stroke-width="0.35" stroke-opacity="0.55"/>
<path d="M83.60,601.69 L99.60,602.80" stroke="#000" stroke-width="0.35" stroke-opacity="0.55"/>
<path d="M83.60,602.76 L99.60,601.78" stroke="#000" stroke-width="0.35" stroke-opacity="0.55"/>
<path d="M83.60,601.41 L99.60,603.02" stroke="#000" stroke-width="0.35" stroke-opacity="0.55"/>
<path d="M83.60,602.75 L99.60,602.29" stroke="#000" stroke-width="0.35" stroke-opacity="0.55"/>
<path d="M83.60,603.20 L99.60,601.38" stroke="#000" stroke-width="0.35" stroke-opacity="0.55"/>
<path d="M83.60,603.06 L99.60,601.63" stroke="#000" stroke-width="0.35" stroke-opacity="0.55"/>
<path d="M83.60,603.25 L99.60,601.52" stroke="#000" stroke-width="0.35" stroke-opacity="0.55"/>
<path d="M83.60,603.25 L99.60,601.87" stroke="#000" stroke-width="0.35" stroke-opacity="0.55"/>
<path d="M83.60,604.10 L99.60,600.78" stroke="#000" stroke-width="0.35" stroke-opacity="0.55"/>
<path d="M83.60,603.16 L99.60,601.49" stroke="#000" stroke-width="0.35" stroke-opacity="0.55"/>
<path d="M83.60,601.28 L99.60,603.62" stroke="#000" stroke-width="0.35" stroke-opacity="0.55"/>
<path d="M83.60,601.69 L99.60,603.02" stroke="#000" stroke-width="0.35" stroke-opacity="0.55"/>
<path d="M83.60,602.08 L99.60,602.69" stroke="#000" stroke-width="0.35" stroke-opacity="0.55"/>
<path d="M83.60,599.99 L99.60,604.55" stroke="#000" stroke-width="0.35" stroke-opacity="0.55"/>
<path d="M83.60,603.05 L99.60,601.74" stroke="#000" stroke-width="0.35" stroke-opacity="0.55"/>
<path d="M83.60,602.00 L99.60,602.56" stroke="#000" stroke-width="0.35" stroke-opacity="0.55"/>
<path d="M83.60,600.70 L99.60,603.88" stroke="#000" stroke-width="0.35" stroke-opacity="0.55"/>
<path d="M83.60,600.96 L99.60,603.59" stroke="#000" stroke-width="0.35" stroke-opacity="0.55"/>
<path d="M83.60,601.02 L99.60,603.81" stroke="#000" stroke-width="0.35" stroke-opacity="0.55"/>
<path d="M83.60,602.50 L99.60,601.92" stroke="#000" stroke-width="0.35" stroke-opacity="0.55"/>
<path d="M83.60,601.15 L99.60,603.35" stroke="#000" stroke-width="0.35" stroke-opacity="0.55"/>
<path d="M83.60,603.10 L99.60,601.35" stroke="#000" stroke-width="0.35" stroke-opacity="0.55"/>
<path d="M83.60,601.22 L99.60,603.59" stroke="#000" stroke-width="0.35" stroke-opacity="0.55"/>
<path d="M83.60,602.37 L99.60,602.36" stroke="#000" stroke-width="0.35" stroke-opacity="0.55"/>
<path d="M83.60,602.36 L99.60,602.53" stroke="#000" stroke-width="0.35" stroke-opacity="0.55"/>
<path d="M83.60,597.69 L99.60,607.33" stroke="#000" stroke-width="0.35" stroke-opacity="0.55"/>
<path d="M83.60,600.07 L99.60,604.71" stroke="#000" stroke-width="0.35" stroke-opacity="0.55"/>
<path d="M83.60,602.19 L99.60,602.42" stroke="#000" stroke-width="0.35" stroke-opacity="0.55"/>
<path d="M83.60,600.08 L99.60,604.38" stroke="#000" stroke-width="0.35" stroke-opacity="0.55"/>
<path d="M83.60,600.46 L99.60,604.26" stroke="#000" stroke-width="0.35" stroke-opacity="0.55"/>
<path d="M83.60,601.95 L99.60,602.63" stroke="#000" stroke-width="0.35" stroke-opacity="0.55"/>
<path d="M83.60,601.71 L99.60,602.86" stroke="#000" stroke-width="0.35" stroke-opacity="0.55"/>
<path d="M83.60,602.57 L99.60,602.15" stroke="#000" stroke-width="0.35" stroke-opacity="0.55"/>
<path d="M168.30,580.82 L184.80,587.87" stroke="#000" stroke-width="0.35" stroke-opacity="0.55"/>
<path d="M168.30,585.30 L184.80,582.89" stroke="#000" stroke-width="0.35" stroke-opacity="0.55"/>
<path d="M168.30,590.99 L184.80,577.58" stroke="#000" stroke-width="0.35" stroke-opacity="0.55"/>
<path d="M168.30,584.55 L184.80,584.60" stroke="#000" stroke-width="0.35" stroke-opacity="0.55"/>
<path d="M168.30,582.44 L184.80,585.25" stroke="#000" stroke-width="0.35" stroke-opacity="0.55"/>
<path d="M168.30,576.07 L184.80,590.72" stroke="#000" stroke-width="0.35" stroke-opacity="0.55"/>
<path d="M168.30,569.60 L184.80,598.66" stroke="#000" stroke-width="0.35" stroke-opacity="0.55"/>
<path d="M168.30,577.62 L184.80,590.12" stroke="#000" stroke-width="0.35" stroke-opacity="0.55"/>
<path d="M168.30,579.17 L184.80,589.93" stroke="#000" stroke-width="0.35" stroke-opacity="0.55"/>
<path d="M168.30,574.18 L184.80,592.87" stroke="#000" stroke-width="0.35" stroke-opacity="0.55"/>
<path d="M168.30,575.16 L184.80,591.17" stroke="#000" stroke-width="0.35" stroke-opacity="0.55"/>
<path d="M168.30,584.79 L184.80,582.87" stroke="#000" stroke-width="0.35" stroke-opacity="0.55"/>
<path d="M168.30,581.28 L184.80,587.31" stroke="#000" stroke-width="0.35" stroke-opacity="0.55"/>
<path d="M168.30,583.29 L184.80,585.70" stroke="#000" stroke-width="0.35" stroke-opacity="0.55"/>
<path d="M168.30,575.58 L184.80,591.96" stroke="#000" stroke-width="0.35" stroke-opacity="0.55"/>
<path d="M168.30,578.76 L184.80,589.91" stroke="#000" stroke-width="0.35" stroke-opacity="0.55"/>
<path d="M168.30,567.63 L184.80,599.64" stroke="#000" stroke-width="0.35" stroke-opacity="0.55"/>
<path d="M168.30,568.08 L184.80,600.11" stroke="#000" stroke-width="0.35" stroke-opacity="0.55"/>
<path d="M168.30,577.49 L184.80,591.69" stroke="#000" stroke-width="0.35" stroke-opacity="0.55"/>
<path d="M168.30,568.23 L184.80,600.47" stroke="#000" stroke-width="0.35" stroke-opacity="0.55"/>
<path d="M168.30,578.17 L184.80,590.32" stroke="#000" stroke-width="0.35" stroke-opacity="0.55"/>
<path d="M168.30,572.63 L184.80,596.04" stroke="#000" stroke-width="0.35" stroke-opacity="0.55"/>
<path d="M168.30,589.10 L184.80,578.87" stroke="#000" stroke-width="0.35" stroke-opacity="0.55"/>
<path d="M168.30,584.90 L184.80,583.49" stroke="#000" stroke-width="0.35" stroke-opacity="0.55"/>
<path d="M168.30,577.69 L184.80,591.92" stroke="#000" stroke-width="0.35" stroke-opacity="0.55"/>
<path d="M168.30,578.07 L184.80,590.17" stroke="#000" stroke-width="0.35" stroke-opacity="0.55"/>
<path d="M168.30,577.91 L184.80,591.29" stroke="#000" stroke-width="0.35" stroke-opacity="0.55"/>
<path d="M168.30,565.87 L184.80,600.39" stroke="#000" stroke-width="0.35" stroke-opacity="0.55"/>
<path d="M168.30,578.84 L184.80,589.76" stroke="#000" stroke-width="0.35" stroke-opacity="0.55"/>
<path d="M168.30,578.81 L184.80,590.47" stroke="#000" stroke-width="0.35" stroke-opacity="0.55"/>
<path d="M168.30,576.59 L184.80,592.85" stroke="#000" stroke-width="0.35" stroke-opacity="0.55"/>
<path d="M168.30,582.09 L184.80,587.21" stroke="#000" stroke-width="0.35" stroke-opacity="0.55"/>
<path d="M168.30,583.80 L184.80,583.64" stroke="#000" stroke-width="0.35" stroke-opacity="0.55"/>
<path d="M168.30,580.79 L184.80,586.58" stroke="#000" stroke-width="0.35" stroke-opacity="0.55"/>
<path d="M168.30,571.42 L184.80,597.44" stroke="#000" stroke-width="0.35" stroke-opacity="0.55"/>
<path d="M168.30,576.03 L184.80,592.00" stroke="#000" stroke-width="0.35" stroke-opacity="0.55"/>
<path d="M168.30,580.40 L184.80,589.33" stroke="#000" stroke-width="0.35" stroke-opacity="0.55"/>
<path d="M168.30,578.40 L184.80,589.99" stroke="#000" stroke-width="0.35" stroke-opacity="0.55"/>
<path d="M168.30,573.09 L184.80,596.63" stroke="#000" stroke-width="0.35" stroke-opacity="0.55"/>
<path d="M168.30,580.40 L184.80,587.80" stroke="#000" stroke-width="0.35" stroke-opacity="0.55"/>
<path d="M168.30,574.33 L184.80,593.44" stroke="#000" stroke-width="0.35" stroke-opacity="0.55"/>
<path d="M168.30,574.19 L184.80,593.11" stroke="#000" stroke-width="0.35" stroke-opacity="0.55"/>
<path d="M168.30,581.63 L184.80,586.21" stroke="#000" stroke-width="0.35" stroke-opacity="0.55"/>
<path d="M168.30,565.71 L184.80,603.45" stroke="#000" stroke-width="0.35" stroke-opacity="0.55"/>
<path d="M168.30,574.81 L184.80,593.06" stroke="#000" stroke-width="0.35" stroke-opacity="0.55"/>
<path d="M168.30,582.87 L184.80,585.67" stroke="#000" stroke-width="0.35" stroke-opacity="0.55"/>
<path d="M168.30,578.24 L184.80,590.84" stroke="#000" stroke-width="0.35" stroke-opacity="0.55"/>
<path d="M168.30,577.23 L184.80,589.98" stroke="#000" stroke-width="0.35" stroke-opacity="0.55"/>
<path d="M168.30,578.33 L184.80,590.71" stroke="#000" stroke-width="0.35" stroke-opacity="0.55"/>
<path d="M168.30,575.57 L184.80,593.77" stroke="#000" stroke-width="0.35" stroke-opacity="0.55"/>
<path d="M168.30,578.35 L184.80,589.66" stroke="#000" stroke-width="0.35" stroke-opacity="0.55"/>
<path d="M168.30,584.69 L184.80,583.58" stroke="#000" stroke-width="0.35" stroke-opacity="0.55"/>
<path d="M168.30,581.46 L184.80,586.30" stroke="#000" stroke-width="0.35" stroke-opacity="0.55"/>
<path d="M168.30,587.43 L184.80,581.13" stroke="#000" stroke-width="0.35" stroke-opacity="0.55"/>
<path d="M168.30,580.28 L184.80,588.14" stroke="#000" stroke-width="0.35" stroke-opacity="0.55"/>
<path d="M168.30,579.18 L184.80,588.65" stroke="#000" stroke-width="0.35" stroke-opacity="0.55"/>
<path d="M168.30,581.91 L184.80,587.34" stroke="#000" stroke-width="0.35" stroke-opacity="0.55"/>
<path d="M168.30,571.64 L184.80,596.53" stroke="#000" stroke-width="0.35" stroke-opacity="0.55"/>
<path d="M168.30,583.28 L184.80,585.71" stroke="#000" stroke-width="0.35" stroke-opacity="0.55"/>
<path d="M168.30,574.55 L184.80,594.10" stroke="#000" stroke-width="0.35" stroke-opacity="0.55"/>
<path d="M207.70,595.22 L224.20,597.58" stroke="#000" stroke-width="0.35" stroke-opacity="0.55"/>
<path d="M207.70,596.11 L224.20,597.02" stroke="#000" stroke-width="0.35" stroke-opacity="0.55"/>
<path d="M207.70,598.68 L224.20,593.91" stroke="#000" stroke-width="0.35" stroke-opacity="0.55"/>
<path d="M207.70,593.04 L224.20,599.52" stroke="#000" stroke-width="0.35" stroke-opacity="0.55"/>
<path d="M207.70,595.66 L224.20,597.37" stroke="#000" stroke-width="0.35" stroke-opacity="0.55"/>
<path d="M207.70,600.80 L224.20,591.82" stroke="#000" stroke-width="0.35" stroke-opacity="0.55"/>
<path d="M207.70,595.36 L224.20,597.16" stroke="#000" stroke-width="0.35" stroke-opacity="0.55"/>
<path d="M207.70,598.21 L224.20,594.05" stroke="#000" stroke-width="0.35" stroke-opacity="0.55"/>
<path d="M207.70,595.70 L224.20,596.73" stroke="#000" stroke-width="0.35" stroke-opacity="0.55"/>
<path d="M207.70,592.54 L224.20,600.10" stroke="#000" stroke-width="0.35" stroke-opacity="0.55"/>
<path d="M207.70,593.95 L224.20,599.33" stroke="#000" stroke-width="0.35" stroke-opacity="0.55"/>
<path d="M207.70,592.80 L224.20,599.74" stroke="#000" stroke-width="0.35" stroke-opacity="0.55"/>
<path d="M207.70,597.56 L224.20,595.42" stroke="#000" stroke-width="0.35" stroke-opacity="0.55"/>
<path d="M207.70,591.47 L224.20,601.06" stroke="#000" stroke-width="0.35" stroke-opacity="0.55"/>
<path d="M207.70,592.69 L224.20,600.07" stroke="#000" stroke-width="0.35" stroke-opacity="0.55"/>
<path d="M207.70,596.84 L224.20,595.92" stroke="#000" stroke-width="0.35" stroke-opacity="0.55"/>
<path d="M207.70,598.46 L224.20,594.38" stroke="#000" stroke-width="0.35" stroke-opacity="0.55"/>
<path d="M207.70,597.81 L224.20,594.81" stroke="#000" stroke-width="0.35" stroke-opacity="0.55"/>
<path d="M207.70,596.65 L224.20,596.01" stroke="#000" stroke-width="0.35" stroke-opacity="0.55"/>
<path d="M207.70,595.74 L224.20,596.77" stroke="#000" stroke-width="0.35" stroke-opacity="0.55"/>
<path d="M207.70,592.77 L224.20,600.22" stroke="#000" stroke-width="0.35" stroke-opacity="0.55"/>
<path d="M207.70,597.98 L224.20,594.85" stroke="#000" stroke-width="0.35" stroke-opacity="0.55"/>
<path d="M207.70,596.74 L224.20,596.16" stroke="#000" stroke-width="0.35" stroke-opacity="0.55"/>
<path d="M207.70,591.58 L224.20,601.46" stroke="#000" stroke-width="0.35" stroke-opacity="0.55"/>
<path d="M207.70,596.47 L224.20,596.95" stroke="#000" stroke-width="0.35" stroke-opacity="0.55"/>
<path d="M207.70,596.52 L224.20,596.39" stroke="#000" stroke-width="0.35" stroke-opacity="0.55"/>
<path d="M207.70,593.77 L224.20,598.61" stroke="#000" stroke-width="0.35" stroke-opacity="0.55"/>
<path d="M207.70,595.66 L224.20,597.47" stroke="#000" stroke-width="0.35" stroke-opacity="0.55"/>
<path d="M207.70,590.25 L224.20,602.53" stroke="#000" stroke-width="0.35" stroke-opacity="0.55"/>
<path d="M207.70,591.79 L224.20,601.13" stroke="#000" stroke-width="0.35" stroke-opacity="0.55"/>
<path d="M207.70,593.77 L224.20,598.60" stroke="#000" stroke-width="0.35" stroke-opacity="0.55"/>
<path d="M207.70,599.31 L224.20,593.50" stroke="#000" stroke-width="0.35" stroke-opacity="0.55"/>
<path d="M207.70,596.51 L224.20,596.39" stroke="#000" stroke-width="0.35" stroke-opacity="0.55"/>
<path d="M207.70,592.65 L224.20,600.23" stroke="#000" stroke-width="0.35" stroke-opacity="0.55"/>
<path d="M207.70,597.58 L224.20,595.21" stroke="#000" stroke-width="0.35" stroke-opacity="0.55"/>
<path d="M207.70,595.99 L224.20,597.01" stroke="#000" stroke-width="0.35" stroke-opacity="0.55"/>
<path d="M207.70,594.24 L224.20,598.71" stroke="#000" stroke-width="0.35" stroke-opacity="0.55"/>
<path d="M207.70,595.74 L224.20,597.93" stroke="#000" stroke-width="0.35" stroke-opacity="0.55"/>
<path d="M207.70,597.42 L224.20,595.63" stroke="#000" stroke-width="0.35" stroke-opacity="0.55"/>
<path d="M207.70,592.75 L224.20,600.31" stroke="#000" stroke-width="0.35" stroke-opacity="0.55"/>
<path d="M207.70,595.39 L224.20,597.92" stroke="#000" stroke-width="0.35" stroke-opacity="0.55"/>
<path d="M207.70,595.60 L224.20,597.72" stroke="#000" stroke-width="0.35" stroke-opacity="0.55"/>
<path d="M207.70,596.18 L224.20,596.56" stroke="#000" stroke-width="0.35" stroke-opacity="0.55"/>
<path d="M207.70,595.39 L224.20,597.59" stroke="#000" stroke-width="0.35" stroke-opacity="0.55"/>
<path d="M207.70,596.09 L224.20,597.26" stroke="#000" stroke-width="0.35" stroke-opacity="0.55"/>
<path d="M207.70,595.92 L224.20,597.03" stroke="#000" stroke-width="0.35" stroke-opacity="0.55"/>
<path d="M207.70,597.52 L224.20,595.56" stroke="#000" stroke-width="0.35" stroke-opacity="0.55"/>
<path d="M207.70,592.98 L224.20,599.52" stroke="#000" stroke-width="0.35" stroke-opacity="0.55"/>
<path d="M207.70,593.90 L224.20,599.03" stroke="#000" stroke-width="0.35" stroke-opacity="0.55"/>
<path d="M207.70,600.39 L224.20,592.53" stroke="#000" stroke-width="0.35" stroke-opacity="0.55"/>
<path d="M207.70,593.42 L224.20,599.80" stroke="#000" stroke-width="0.35" stroke-opacity="0.55"/>
<path d="M207.70,591.71 L224.20,600.93" stroke="#000" stroke-width="0.35" stroke-opacity="0.55"/>
<path d="M207.70,592.54 L224.20,599.88" stroke="#000" stroke-width="0.35" stroke-opacity="0.55"/>
<path d="M207.70,600.72 L224.20,592.15" stroke="#000" stroke-width="0.35" stroke-opacity="0.55"/>
<path d="M207.70,601.17 L224.20,591.48" stroke="#000" stroke-width="0.35" stroke-opacity="0.55"/>
<path d="M207.70,594.45 L224.20,598.38" stroke="#000" stroke-width="0.35" stroke-opacity="0.55"/>
<path d="M207.70,598.56 L224.20,594.30" stroke="#000" stroke-width="0.35" stroke-opacity="0.55"/>
<path d="M207.70,595.35 L224.20,597.00" stroke="#000" stroke-width="0.35" stroke-opacity="0.55"/>
<path d="M207.70,594.30 L224.20,597.93" stroke="#000" stroke-width="0.35" stroke-opacity="0.55"/>
<path d="M207.70,595.23 L224.20,597.58" stroke="#000" stroke-width="0.35" stroke-opacity="0.55"/>
<path class="ax" d="M32.7,559 L32.7,666.2 L111.9,666.2"/>
<text x="30.20" y="669.00" font-size="7.8" text-anchor="end" textLength="15.20" lengthAdjust="spacing" >0.00</text>
<text x="30.20" y="649.40" font-size="7.8" text-anchor="end" textLength="15.20" lengthAdjust="spacing" >0.02</text>
<text x="30.20" y="629.80" font-size="7.8" text-anchor="end" textLength="15.20" lengthAdjust="spacing" >0.04</text>
<text x="30.20" y="610.20" font-size="7.8" text-anchor="end" textLength="15.20" lengthAdjust="spacing" >0.06</text>
<text x="30.20" y="590.60" font-size="7.8" text-anchor="end" textLength="15.20" lengthAdjust="spacing" >0.08</text>
<text x="30.20" y="571.00" font-size="7.8" text-anchor="end" textLength="15.20" lengthAdjust="spacing" >0.10</text>
<path class="ax" d="M157.6,559 L157.6,666.2 L235.6,666.2"/>
<text x="155.00" y="669.00" font-size="7.8" text-anchor="end" textLength="15.20" lengthAdjust="spacing" >0.00</text>
<text x="155.00" y="645.95" font-size="7.8" text-anchor="end" textLength="15.20" lengthAdjust="spacing" >0.05</text>
<text x="155.00" y="622.90" font-size="7.8" text-anchor="end" textLength="15.20" lengthAdjust="spacing" >0.10</text>
<text x="155.00" y="599.85" font-size="7.8" text-anchor="end" textLength="15.20" lengthAdjust="spacing" >0.15</text>
<text x="155.00" y="576.80" font-size="7.8" text-anchor="end" textLength="15.20" lengthAdjust="spacing" >0.20</text>
<text x="51.60" y="675.60" font-size="7.6" text-anchor="middle" textLength="22.00" lengthAdjust="spacingAndGlyphs" >Fusion</text>
<text x="91.50" y="675.60" font-size="7.6" text-anchor="middle" textLength="21.00" lengthAdjust="spacingAndGlyphs" >Single</text>
<text x="176.80" y="675.80" font-size="7.6" text-anchor="middle" textLength="22.00" lengthAdjust="spacingAndGlyphs" >Fusion</text>
<text x="216.50" y="675.80" font-size="7.6" text-anchor="middle" textLength="21.00" lengthAdjust="spacingAndGlyphs" >Single</text>
<text transform="translate(9.60,618.40) rotate(-90)" font-size="7.6" text-anchor="middle" textLength="92.20" lengthAdjust="spacing">Boundary coefficient Group</text>
<text transform="translate(133.80,614.20) rotate(-90)" font-size="7.6" text-anchor="middle" textLength="103.50" lengthAdjust="spacing">Boundary coefficient Individual</text>
<text transform="translate(256.80,530.90) scale(1.299,1)" font-size="18.62" font-weight="bold" fill="#000">f</text>
<text x="317.20" y="531.20" font-size="12.2" text-anchor="start" textLength="90.20" lengthAdjust="spacingAndGlyphs" >Region separation</text>
<path d="M306.00,652.60 L327.00,642.00 L357.30,651.60 L370.30,645.80 L430.50,644.90 L430.50,653.50 L370.30,653.00 L357.30,658.40 L327.00,649.60 L306.00,659.80Z" fill="#ff7f0e" fill-opacity="0.25"/>
<path d="M306.00,610.30 L327.00,581.80 L357.30,573.00 L370.30,571.40 L430.50,560.80 L430.50,579.20 L370.30,589.80 L357.30,591.40 L327.00,599.00 L306.00,624.70Z" fill="#ff7f0e" fill-opacity="0.25"/>
<path d="M306.0,656.2 L327.0,645.8 L357.3,655.0 L370.3,649.4 L430.5,649.2" stroke="#ff7f0e" stroke-width="1.5" fill="none"/>
<path d="M306.0,617.5 L327.0,590.4 L357.3,582.2 L370.3,580.6 L430.5,570.0" stroke="#ff7f0e" stroke-width="1.5" fill="none" stroke-dasharray="5.5,2.4"/>
<circle cx="306.0" cy="656.2" r="1.1" fill="#fff" fill-opacity="0.9"/>
<circle cx="327.0" cy="645.8" r="1.1" fill="#fff" fill-opacity="0.9"/>
<circle cx="357.3" cy="655.0" r="1.1" fill="#fff" fill-opacity="0.9"/>
<circle cx="370.3" cy="649.4" r="1.1" fill="#fff" fill-opacity="0.9"/>
<circle cx="430.5" cy="649.2" r="1.1" fill="#fff" fill-opacity="0.9"/>
<circle cx="306.0" cy="617.5" r="1.1" fill="#fff" fill-opacity="0.9"/>
<circle cx="327.0" cy="590.4" r="1.1" fill="#fff" fill-opacity="0.9"/>
<circle cx="357.3" cy="582.2" r="1.1" fill="#fff" fill-opacity="0.9"/>
<circle cx="370.3" cy="580.6" r="1.1" fill="#fff" fill-opacity="0.9"/>
<circle cx="430.5" cy="570.0" r="1.1" fill="#fff" fill-opacity="0.9"/>
<path d="M299.0,539.4 L299.0,666.3 L437.3,666.3" stroke="#4a4a4a" stroke-width="1.2" fill="none"/>
<text x="296.90" y="658.15" font-size="7.6" text-anchor="end" textLength="13.90" lengthAdjust="spacingAndGlyphs" >0.08</text>
<text x="296.90" y="642.35" font-size="7.6" text-anchor="end" textLength="13.90" lengthAdjust="spacingAndGlyphs" >0.10</text>
<text x="296.90" y="626.55" font-size="7.6" text-anchor="end" textLength="13.90" lengthAdjust="spacingAndGlyphs" >0.12</text>
<text x="296.90" y="610.75" font-size="7.6" text-anchor="end" textLength="13.90" lengthAdjust="spacingAndGlyphs" >0.14</text>
<text x="296.90" y="594.95" font-size="7.6" text-anchor="end" textLength="13.90" lengthAdjust="spacingAndGlyphs" >0.16</text>
<text x="296.90" y="579.15" font-size="7.6" text-anchor="end" textLength="13.90" lengthAdjust="spacingAndGlyphs" >0.18</text>
<text x="296.90" y="563.35" font-size="7.6" text-anchor="end" textLength="13.90" lengthAdjust="spacingAndGlyphs" >0.20</text>
<text x="296.90" y="547.55" font-size="7.6" text-anchor="end" textLength="13.90" lengthAdjust="spacingAndGlyphs" >0.22</text>
<text x="307.70" y="674.90" font-size="7.0" text-anchor="middle" textLength="7.90" lengthAdjust="spacing" >10</text>
<text x="329.30" y="674.90" font-size="7.0" text-anchor="middle" textLength="7.90" lengthAdjust="spacing" >20</text>
<text x="350.90" y="674.90" font-size="7.0" text-anchor="middle" textLength="7.90" lengthAdjust="spacing" >30</text>
<text x="372.50" y="674.90" font-size="7.0" text-anchor="middle" textLength="7.90" lengthAdjust="spacing" >40</text>
<text x="394.10" y="674.90" font-size="7.0" text-anchor="middle" textLength="7.90" lengthAdjust="spacing" >50</text>
<text x="415.70" y="674.90" font-size="7.0" text-anchor="middle" textLength="7.90" lengthAdjust="spacing" >60</text>
<text x="437.30" y="674.90" font-size="7.0" text-anchor="middle" textLength="7.90" lengthAdjust="spacing" >70</text>
<text x="358.40" y="682.60" font-size="6.8" text-anchor="start" textLength="27.20" lengthAdjust="spacing" >Regions</text>
<text transform="translate(277.30,600.70) rotate(-90)" font-size="6.8" text-anchor="middle" textLength="70.00" lengthAdjust="spacing">Boundary coefficient</text>
<text x="387.80" y="600.20" font-size="7.2" text-anchor="start" textLength="15.40" lengthAdjust="spacingAndGlyphs" >Type</text>
<path d="M383.8,607 L396,607" stroke="#ff7f0e" stroke-width="1.5"/><circle cx="390.2" cy="607" r="1.6" fill="#ff7f0e"/>
<path d="M383.8,614.9 L396,614.9" stroke="#ff7f0e" stroke-width="1.5" stroke-dasharray="3.5,1.5"/><circle cx="390.2" cy="614.9" r="1.6" fill="#ff7f0e"/>
<text x="397.80" y="609.80" font-size="7.2" text-anchor="start" textLength="20.80" lengthAdjust="spacing" >Group</text>
<text x="397.80" y="617.60" font-size="7.2" text-anchor="start" textLength="33.20" lengthAdjust="spacing" >Individual</text>
</svg></body></html>
